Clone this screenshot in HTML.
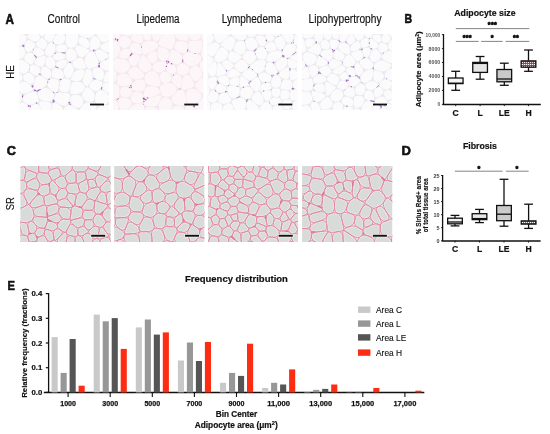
<!DOCTYPE html><html><head><meta charset="utf-8"><style>html,body{margin:0;padding:0;background:#fff;overflow:hidden;}svg{display:block;}text{font-family:"Liberation Sans",Arial,sans-serif;}</style></head><body>
<svg width="550" height="434" viewBox="0 0 550 434">
<defs><pattern id="redpat" width="2" height="2" patternUnits="userSpaceOnUse"><rect width="2" height="2" fill="#e8262c"/><rect width="1" height="1" fill="#fde0e0"/></pattern>
<clipPath id="clip0"><rect x="0" y="0" width="90" height="76"/></clipPath>
<clipPath id="clip1"><rect x="0" y="0" width="90" height="76"/></clipPath>
<clipPath id="clip2"><rect x="0" y="0" width="90" height="76"/></clipPath>
<clipPath id="clip3"><rect x="0" y="0" width="90" height="76"/></clipPath>
<clipPath id="clip4"><rect x="0" y="0" width="90" height="76"/></clipPath>
<clipPath id="clip5"><rect x="0" y="0" width="90" height="76"/></clipPath>
<clipPath id="clip6"><rect x="0" y="0" width="90" height="76"/></clipPath>
<clipPath id="clip7"><rect x="0" y="0" width="90" height="76"/></clipPath>
</defs>
<rect width="550" height="434" fill="#fff"/>
<g transform="translate(19,34)" clip-path="url(#clip0)">
<rect width="90" height="76" fill="#ebe9ef"/>
<path d="M10.0 35.0L10.4 33.4L10.2 31.9L9.5 30.4L8.3 28.9L6.4 27.5L4.7 26.6L3.1 26.0L1.6 25.9L0.2 26.2L-1.1 26.8L-2.1 27.9L-3.0 29.3L-3.6 31.1L-3.6 32.8L-2.8 34.5L-1.4 36.2L0.8 37.9L2.8 39.0L4.5 39.5L6.1 39.3L7.4 38.5L8.5 37.6L9.4 36.4ZM69.4 67.6L71.8 67.5L73.6 66.9L74.9 65.8L75.6 64.0L75.8 61.8L75.4 59.7L74.5 57.9L73.1 56.4L71.2 55.1L69.7 54.1L68.6 53.5L68.0 53.1L67.8 53.1L67.3 53.6L66.5 54.5L65.4 55.9L64.1 57.7L63.3 59.5L63.1 61.3L63.5 63.1L64.4 64.9L65.7 66.3L67.3 67.2ZM83.4 35.6L81.9 34.2L80.3 33.4L78.6 33.2L76.9 33.4L75.2 34.2L74.1 35.4L73.5 36.9L73.5 38.7L74.1 40.9L75.1 42.7L76.5 44.2L78.3 45.4L80.5 46.2L82.3 46.2L83.7 45.3L84.6 43.7L85.0 41.3L85.0 39.1L84.5 37.2ZM40.7 -1.0L43.0 -1.0L44.8 -1.1L46.2 -1.3L47.0 -1.5L47.5 -1.9L47.5 -4.7L47.1 -10.0L46.3 -17.7L45.0 -27.8L43.4 -33.1L41.5 -33.6L39.1 -29.2L36.4 -20.0L34.6 -12.8L33.9 -7.5L34.1 -4.2L35.4 -2.9L36.9 -1.9L38.6 -1.3ZM116.3 24.8L128.9 21.8L135.1 19.1L135.1 16.9L128.9 15.2L116.3 13.8L106.4 13.3L99.3 13.7L94.8 15.0L93.1 17.1L91.7 18.9L90.9 20.3L90.4 21.5L90.4 22.3L90.8 23.2L91.7 24.4L93.0 25.7L94.8 27.2L99.3 27.5L106.4 26.7ZM71.1 9.5L71.2 12.0L71.3 14.0L71.4 15.3L71.5 16.0L71.5 16.0L71.7 16.1L72.2 16.2L72.9 16.4L73.9 16.5L74.9 16.5L75.9 16.3L77.0 15.8L78.1 15.1L79.1 14.3L80.0 13.4L80.7 12.4L81.3 11.2L81.4 9.8L81.1 8.1L80.2 6.1L78.8 3.9L77.4 2.5L76.0 2.0L74.5 2.4L73.1 3.7L72.0 5.3L71.4 7.2ZM59.9 76.9L60.1 77.7L59.6 78.8L58.5 80.2L56.7 81.8L54.2 83.7L52.0 84.7L49.9 84.9L48.1 84.3L46.5 82.7L45.3 81.1L44.6 79.5L44.4 77.7L44.7 75.9L45.2 74.3L46.0 73.0L47.0 72.0L48.3 71.3L49.9 71.0L51.7 71.4L53.8 72.2L56.1 73.6L57.9 74.9L59.1 76.0ZM14.3 53.5L14.7 54.4L14.3 55.5L13.1 56.6L11.1 57.7L8.2 58.9L5.7 59.4L3.5 59.2L1.6 58.3L0.1 56.6L-0.9 55.2L-1.6 54.0L-1.9 53.0L-1.7 52.2L-1.3 51.3L-0.6 50.3L0.4 49.3L1.7 48.2L3.3 47.7L5.2 47.8L7.4 48.6L9.9 49.9L11.9 51.2L13.4 52.4ZM48.3 12.2L47.6 11.1L47.1 9.6L46.8 7.9L46.7 5.8L46.8 3.3L46.9 1.4L47.2 -0.0L47.5 -0.9L47.9 -1.3L48.9 -1.4L50.3 -1.4L52.3 -1.2L54.9 -0.8L56.8 -0.4L58.2 0.1L59.0 0.6L59.2 1.1L59.3 2.0L59.3 3.3L59.2 4.9L58.9 6.9L58.5 8.7L57.9 10.2L57.1 11.4L56.2 12.3L55.1 13.0L54.0 13.5L52.7 13.7L51.3 13.7L50.2 13.5L49.1 13.0ZM18.4 42.3L19.4 41.9L20.7 41.8L22.2 42.2L24.0 43.0L25.9 44.3L27.3 45.6L28.1 46.9L28.3 48.4L27.9 49.9L27.0 51.4L25.6 52.7L23.8 53.9L21.4 55.1L19.6 55.8L18.1 56.3L17.2 56.4L16.7 56.1L16.3 55.7L15.8 55.0L15.4 54.2L15.0 53.2L14.9 51.9L15.0 50.4L15.3 48.5L15.9 46.3L16.6 44.5L17.4 43.2ZM21.0 72.7L21.7 75.6L22.3 77.9L23.1 79.5L23.8 80.4L24.7 80.8L25.6 80.8L26.6 80.7L27.7 80.3L28.8 79.7L29.9 78.6L30.8 76.9L31.7 74.7L32.4 72.0L32.2 69.9L30.9 68.5L28.7 67.7L25.5 67.6L23.0 67.6L21.3 67.6L20.4 67.8L20.3 68.0L20.4 68.9L20.6 70.5ZM50.9 60.0L50.7 59.7L49.8 59.4L48.3 59.2L46.2 58.9L43.4 58.7L41.1 58.6L39.4 58.6L38.2 58.9L37.4 59.2L36.8 60.0L36.2 61.1L35.7 62.6L35.3 64.5L35.6 66.2L36.7 67.8L38.4 69.2L41.0 70.5L43.2 71.3L45.1 71.6L46.7 71.4L48.0 70.6L49.0 69.5L49.8 68.0L50.4 66.1L50.7 63.9L50.9 62.1L51.0 60.8ZM95.5 52.1L95.9 54.0L95.9 55.7L95.4 57.2L94.5 58.4L93.2 59.3L91.7 59.7L90.0 59.4L88.0 58.5L85.9 57.1L84.4 55.6L83.6 54.0L83.4 52.4L83.8 50.7L84.8 49.5L86.3 48.8L88.3 48.6L91.0 48.8L93.0 49.5L94.6 50.6ZM90.2 71.4L90.0 71.2L89.1 71.1L87.7 71.1L85.6 71.2L82.9 71.4L80.7 72.1L79.0 73.4L77.9 75.1L77.2 77.3L77.1 79.9L77.7 82.8L78.9 86.1L80.7 89.8L82.6 91.7L84.5 91.9L86.5 90.4L88.7 87.1L90.2 84.0L91.1 81.1L91.3 78.3L91.0 75.7L90.7 73.6L90.5 72.2ZM61.9 -4.3L63.6 -6.8L65.5 -8.1L67.7 -8.1L70.0 -7.0L72.7 -4.6L74.6 -2.7L75.9 -1.4L76.5 -0.6L76.4 -0.3L76.0 0.2L75.3 0.9L74.2 1.9L72.7 3.1L71.0 3.8L68.9 4.0L66.7 3.7L64.1 2.8L62.1 2.1L60.8 1.4L59.9 0.8L59.7 0.3L59.9 -0.8L60.7 -2.3ZM47.6 17.5L48.3 16.3L49.1 15.4L50.1 14.8L51.3 14.5L52.6 14.5L53.9 15.0L55.1 16.0L56.3 17.6L57.4 19.8L57.8 21.7L57.4 23.4L56.3 24.9L54.4 26.1L52.9 27.0L51.7 27.6L50.8 27.8L50.3 27.7L49.8 27.4L49.2 27.0L48.7 26.4L48.1 25.7L47.6 24.9L47.3 23.8L47.0 22.6L46.9 21.3L46.9 20.0L47.2 18.7ZM7.5 2.7L7.8 3.5L7.7 4.5L7.3 5.7L6.6 7.3L5.5 9.0L4.3 10.3L2.9 11.2L1.3 11.7L-0.5 11.8L-2.1 11.3L-3.5 10.2L-4.6 8.6L-5.5 6.5L-5.8 4.6L-5.6 2.9L-4.8 1.4L-3.4 0.2L-1.8 -0.5L-0.0 -0.8L1.9 -0.5L4.0 0.3L5.6 1.1L6.8 1.9ZM63.5 57.4L64.9 55.5L65.6 53.9L65.7 52.4L65.2 51.1L64.1 50.0L62.7 49.0L60.9 48.3L58.7 47.8L56.2 47.5L54.2 48.0L52.8 49.4L51.9 51.5L51.6 54.4L51.4 56.7L51.3 58.3L51.4 59.3L51.6 59.6L52.3 59.8L53.6 60.0L55.5 60.1L57.9 60.1L60.0 59.6L61.9 58.7ZM16.2 10.9L16.1 10.2L15.6 9.5L14.6 8.7L13.2 7.7L11.4 6.6L9.7 6.2L8.3 6.6L7.1 7.6L6.1 9.4L5.5 11.1L5.4 12.8L5.7 14.4L6.4 15.9L7.3 17.1L8.3 17.7L9.4 18.0L10.6 17.7L11.7 17.2L12.8 16.4L13.9 15.3L14.9 13.9L15.6 12.7L16.1 11.7ZM53.2 31.4L54.2 33.2L54.7 35.1L54.6 37.1L54.0 39.2L52.8 41.5L51.6 43.1L50.4 44.0L49.2 44.2L48.0 43.8L46.9 43.1L46.0 41.9L45.3 40.5L44.8 38.6L44.7 36.8L45.2 34.9L46.0 33.0L47.4 31.1L48.5 29.7L49.5 28.8L50.2 28.5L50.8 28.6L51.4 29.1L52.2 30.1ZM12.3 -3.4L10.5 -1.5L9.3 0.2L8.5 1.5L8.3 2.5L8.5 3.3L9.1 4.1L10.2 5.1L11.6 6.1L13.4 7.1L15.2 7.6L16.9 7.5L18.6 6.7L20.2 5.4L21.0 3.8L20.8 1.9L19.7 -0.2L17.8 -2.6L15.9 -3.9L14.0 -4.2ZM30.8 21.9L29.5 21.8L28.4 21.6L27.6 21.5L27.1 21.3L26.9 21.1L26.7 20.7L26.5 20.1L26.3 19.4L26.1 18.5L26.2 17.3L26.6 15.8L27.3 14.1L28.3 12.1L29.3 10.6L30.2 9.5L31.1 8.8L31.9 8.7L32.7 8.7L33.5 9.0L34.3 9.5L35.1 10.2L35.7 11.2L36.2 12.4L36.4 13.8L36.5 15.5L36.3 17.0L35.9 18.4L35.2 19.5L34.2 20.5L33.2 21.2L32.0 21.7ZM-159.0 51.8L-101.2 46.7L-57.1 43.6L-26.6 42.6L-9.9 43.5L-6.8 46.4L-4.6 48.9L-3.1 50.7L-2.5 52.1L-2.7 52.9L-3.8 54.0L-5.9 55.2L-8.9 56.7L-12.9 58.4L-30.0 59.5L-60.4 60.2L-103.9 60.3L-160.7 60.0L-188.8 58.4L-188.2 55.7ZM60.6 76.8L60.8 77.6L61.1 78.3L61.5 79.0L62.1 79.5L62.7 80.0L63.9 80.3L65.7 80.5L68.1 80.6L71.0 80.6L73.4 80.0L75.2 78.8L76.5 77.1L77.2 74.9L77.5 73.0L77.5 71.5L77.1 70.3L76.4 69.4L75.3 68.7L73.7 68.3L71.7 68.2L69.4 68.3L67.2 68.8L65.4 69.7L63.7 71.1L62.4 72.9L61.4 74.4L60.8 75.7ZM92.0 4.2L91.9 2.4L92.2 0.8L92.9 -0.7L94.0 -2.0L95.5 -3.3L103.4 -3.0L117.8 -1.2L138.5 2.2L165.6 7.0L182.2 10.8L188.5 13.6L184.3 15.3L169.7 16.0L155.6 16.2L142.0 15.8L128.9 14.9L116.4 13.5L106.7 12.2L99.7 10.9L95.6 9.7L94.2 8.6L93.2 7.2L92.5 5.8ZM69.5 34.4L70.6 34.6L71.9 34.5L73.3 34.2L74.9 33.6L76.6 32.8L78.0 32.0L78.9 31.3L79.5 30.6L79.6 29.9L79.5 28.7L79.0 27.0L78.1 24.7L77.0 21.9L75.8 19.7L74.8 18.2L73.8 17.3L72.8 17.1L71.7 17.4L70.4 18.3L68.9 19.6L67.2 21.5L66.2 23.5L65.8 25.7L65.9 28.0L66.6 30.4L67.5 32.3L68.4 33.6ZM55.0 -1.5L52.3 -1.9L50.0 -4.8L48.1 -10.2L46.5 -18.0L45.2 -28.3L45.7 -53.3L47.8 -92.9L51.6 -147.2L57.2 -216.1L61.5 -262.4L64.7 -286.1L66.8 -287.1L67.6 -265.5L68.1 -235.5L68.2 -196.9L67.9 -150.0L67.1 -94.5L66.1 -52.3L64.9 -23.3L63.4 -7.4L61.6 -4.8L59.6 -3.0L57.4 -1.9ZM91.1 64.7L90.8 67.0L90.5 68.7L90.5 70.0L90.6 70.7L90.8 70.9L94.7 71.1L102.1 71.1L113.2 71.0L127.9 70.8L135.6 69.9L136.4 68.1L130.1 65.6L116.9 62.4L106.7 60.1L99.4 59.0L95.1 58.9L93.7 59.8L92.6 61.1L91.7 62.7ZM16.5 26.0L15.7 27.5L15.6 28.9L16.2 30.1L17.4 31.1L19.2 32.0L20.8 32.5L22.1 32.7L23.2 32.6L24.0 32.1L24.7 31.2L25.3 29.8L25.8 28.0L26.3 25.7L26.6 23.9L26.7 22.6L26.6 21.9L26.4 21.7L25.7 21.7L24.6 21.9L22.9 22.3L20.8 22.8L19.1 23.6L17.6 24.7ZM80.4 46.8L78.2 46.0L76.2 45.9L74.3 46.5L72.6 47.8L71.0 49.7L70.4 51.5L70.5 53.2L71.6 54.6L73.6 55.9L75.4 56.7L77.0 57.0L78.6 56.7L80.0 55.9L81.1 54.9L82.0 53.7L82.7 52.2L83.1 50.6L83.5 49.3L83.7 48.5L83.8 48.0L83.7 48.0L83.2 47.8L82.1 47.4ZM60.3 35.7L63.0 35.3L64.8 35.8L65.5 37.3L65.3 39.6L64.2 42.8L62.7 45.1L60.9 46.6L58.7 47.2L56.2 46.9L54.3 46.6L52.9 46.3L52.1 46.0L51.8 45.6L51.9 44.8L52.4 43.5L53.3 41.8L54.5 39.5L56.0 37.8L58.0 36.5ZM67.2 -94.5L67.9 -150.0L69.6 -179.2L72.1 -182.3L75.6 -159.3L79.9 -110.0L83.0 -71.2L84.8 -42.7L85.4 -24.6L84.6 -17.0L83.6 -11.0L82.5 -6.6L81.0 -3.9L79.4 -2.9L77.5 -2.8L75.3 -3.5L72.9 -5.1L70.2 -7.6L68.3 -23.3L67.4 -52.3ZM95.0 33.9L96.0 32.2L100.0 30.2L106.9 27.8L116.7 25.0L129.4 22.0L142.5 19.5L156.1 17.6L170.1 16.2L184.6 15.5L205.2 15.1L232.1 14.9L265.2 15.1L304.5 15.5L317.5 17.6L304.0 21.3L264.1 26.7L197.9 33.8L147.9 38.6L114.1 41.1L96.6 41.4L95.3 39.4L94.6 37.5L94.5 35.7ZM12.0 -4.0L10.2 -2.0L8.3 -0.8L6.2 -0.2L4.1 -0.3L1.9 -1.2L-2.6 -20.2L-9.4 -57.5L-18.5 -112.9L-29.8 -186.6L-34.4 -224.0L-32.3 -225.0L-23.4 -189.8L-7.7 -118.3L3.9 -64.4L11.6 -28.1L15.4 -9.5L15.1 -8.5L14.5 -7.2L13.5 -5.7ZM40.8 35.0L39.2 34.3L37.7 33.9L36.5 33.9L35.3 34.3L34.4 35.0L33.7 36.0L33.1 37.3L32.8 38.9L32.6 40.8L33.0 42.4L34.1 43.5L35.6 44.3L37.8 44.7L39.7 44.8L41.4 44.8L42.8 44.5L43.9 44.1L44.6 43.3L44.9 42.1L44.7 40.7L44.2 38.8L43.3 37.3L42.2 36.0ZM-7.8 66.7L-11.9 64.5L-14.0 62.3L-14.1 60.4L-12.2 58.6L-8.4 57.0L-5.1 56.2L-2.4 56.2L-0.3 57.1L1.2 58.7L2.2 60.3L2.9 61.9L3.0 63.4L2.8 64.8L2.4 66.1L1.7 67.2L0.9 68.2L-0.2 69.0L-2.0 69.0L-4.5 68.2ZM79.7 -2.3L81.2 -3.2L82.9 -3.7L84.6 -3.6L86.3 -3.0L88.2 -1.9L89.6 -0.6L90.6 0.8L91.2 2.4L91.3 4.1L90.8 5.5L89.8 6.6L88.2 7.5L86.0 8.1L84.0 8.0L82.2 7.2L80.6 5.7L79.2 3.5L78.2 1.8L77.5 0.5L77.2 -0.2L77.3 -0.4L77.7 -0.9L78.5 -1.5ZM90.4 64.6L90.0 66.9L89.1 68.6L87.6 69.8L85.5 70.6L82.8 70.8L80.6 70.7L78.9 70.4L77.7 69.8L77.0 68.9L76.5 67.7L76.3 66.1L76.2 64.2L76.4 61.9L76.9 60.0L77.7 58.5L78.8 57.4L80.2 56.6L81.8 56.3L83.6 56.7L85.6 57.6L87.7 59.0L89.2 60.7L90.1 62.6ZM14.1 70.1L16.2 69.2L17.9 68.5L19.0 67.9L19.7 67.5L19.8 67.3L19.7 66.5L19.5 65.2L19.1 63.4L18.5 61.0L17.9 59.2L17.4 57.9L16.8 57.1L16.4 56.8L15.3 56.9L13.6 57.4L11.3 58.2L8.5 59.4L6.3 60.7L4.7 62.1L3.8 63.5L3.5 64.9L3.8 66.3L4.6 67.6L6.0 68.7L7.9 69.8L9.9 70.4L11.9 70.5ZM83.9 35.1L82.3 33.8L81.2 32.6L80.5 31.7L80.2 30.8L80.4 30.2L81.1 29.3L82.3 28.4L84.1 27.2L86.4 25.9L88.6 25.3L90.6 25.4L92.5 26.1L94.2 27.6L95.3 29.1L95.6 30.6L95.3 32.2L94.3 33.8L93.1 35.1L91.7 36.0L90.3 36.5L88.7 36.8L87.1 36.6L85.5 36.0ZM35.0 62.5L34.6 64.3L34.3 65.8L34.0 66.7L33.8 67.2L33.7 67.3L32.9 67.3L31.2 67.3L28.8 67.2L25.5 67.1L23.0 66.4L21.0 65.1L19.7 63.3L19.1 60.9L19.2 58.8L20.1 57.1L21.7 55.6L24.1 54.5L26.4 54.1L28.6 54.4L30.6 55.4L32.6 57.1L34.0 58.9L34.8 60.6ZM65.8 39.7L64.7 42.9L64.1 45.6L64.1 47.8L64.6 49.4L65.7 50.6L66.6 51.5L67.3 52.1L67.7 52.3L68.0 52.3L68.5 51.9L69.4 50.9L70.6 49.4L72.1 47.4L73.1 45.3L73.6 43.2L73.5 41.1L73.0 38.9L72.2 37.2L71.4 36.0L70.4 35.3L69.3 35.1L68.4 35.0L67.8 34.9L67.5 34.9L67.5 34.9L67.2 35.7L66.6 37.3ZM30.8 22.6L29.5 22.5L28.4 23.0L27.5 24.1L26.8 25.8L26.4 28.1L26.5 30.1L27.1 31.7L28.3 33.1L30.0 34.0L31.6 34.6L32.9 34.7L34.0 34.4L34.9 33.6L35.6 32.8L36.1 31.8L36.3 30.6L36.3 29.4L36.1 28.2L35.7 26.9L35.0 25.7L34.1 24.6L33.2 23.7L32.0 23.0ZM86.2 8.7L88.4 8.1L90.3 7.9L92.1 8.1L93.6 8.8L94.9 9.9L95.4 11.2L95.2 12.8L94.2 14.7L92.5 16.7L90.6 17.9L88.6 18.3L86.4 17.7L84.1 16.3L82.4 15.0L81.6 13.7L81.4 12.5L82.1 11.3L83.1 10.3L84.5 9.4ZM56.4 73.1L54.1 71.7L52.4 70.1L51.4 68.3L51.0 66.2L51.4 64.0L52.2 62.3L53.6 61.2L55.5 60.7L57.9 60.7L59.9 61.2L61.6 62.1L62.9 63.5L63.8 65.3L64.2 67.1L64.0 68.9L63.2 70.7L61.9 72.5L60.3 73.5L58.5 73.7ZM10.1 76.3L10.2 74.6L9.8 73.0L8.9 71.6L7.5 70.3L5.6 69.2L3.9 68.6L2.5 68.5L1.2 68.8L0.2 69.6L-0.6 70.5L-1.3 71.4L-1.7 72.5L-1.9 73.6L-1.8 74.9L-1.3 76.3L-0.5 77.8L0.7 79.5L2.1 80.5L3.6 81.0L5.3 80.8L7.2 80.1L8.6 79.1L9.5 77.8ZM25.5 5.7L27.0 6.9L28.0 8.3L28.2 9.9L27.8 11.8L26.8 13.8L25.5 15.0L24.0 15.3L22.2 14.8L20.2 13.5L18.6 12.4L17.6 11.4L17.0 10.6L16.9 10.0L17.2 9.2L17.9 8.3L19.1 7.1L20.6 5.8L21.8 4.8L22.6 4.2L23.1 3.8L23.1 3.8L23.5 4.1L24.3 4.7ZM37.2 15.4L37.1 13.7L37.6 12.4L38.7 11.4L40.3 10.7L42.6 10.4L44.5 10.5L45.9 10.8L47.0 11.5L47.7 12.6L48.1 13.7L48.1 14.8L47.7 15.9L47.1 17.0L46.0 17.8L44.6 18.3L42.8 18.4L40.6 18.2L38.9 17.7L37.8 16.7ZM12.7 80.5L14.1 81.5L15.6 82.0L17.0 82.2L18.4 81.9L19.9 81.2L20.8 79.9L21.2 78.1L21.2 75.7L20.6 72.8L19.6 70.9L18.2 69.9L16.4 69.8L14.2 70.7L12.6 71.8L11.4 73.1L10.8 74.7L10.7 76.4L11.0 78.0L11.7 79.3ZM39.6 53.2L40.1 50.3L40.0 48.0L39.1 46.3L37.6 45.3L35.4 44.9L33.6 44.7L32.2 44.8L31.2 45.0L30.5 45.5L29.9 46.2L29.4 47.2L29.0 48.5L28.6 50.0L28.8 51.6L29.6 53.2L31.0 54.9L33.0 56.6L34.6 57.8L36.0 58.5L37.0 58.6L37.7 58.2L38.4 57.2L39.0 55.5ZM59.8 5.0L59.6 7.1L60.2 8.9L61.5 10.7L63.6 12.3L66.5 13.7L68.7 14.1L70.1 13.6L70.7 12.0L70.5 9.4L69.8 7.2L68.4 5.5L66.5 4.2L64.0 3.3L62.0 3.2L60.6 3.7ZM90.6 -24.2L93.2 -16.7L94.8 -10.8L95.4 -6.5L94.9 -3.7L93.5 -2.5L91.9 -1.9L90.2 -1.9L88.5 -2.4L86.6 -3.6L85.4 -6.4L84.8 -10.7L84.9 -16.6L85.6 -24.1L86.8 -27.9L88.5 -27.9ZM31.0 -5.4L31.3 -5.5L31.9 -5.2L32.7 -4.6L33.6 -3.7L34.9 -2.4L35.6 -0.9L35.7 0.7L35.4 2.6L34.5 4.6L33.6 6.2L32.7 7.3L31.9 7.9L31.1 8.1L30.1 7.9L28.9 7.3L27.5 6.4L26.0 5.2L25.2 3.7L25.3 2.0L26.2 0.1L27.9 -2.0L29.3 -3.7L30.3 -4.8ZM51.2 46.1L51.4 46.4L51.5 47.4L51.5 49.1L51.3 51.3L51.0 54.3L50.1 56.4L48.5 57.8L46.3 58.3L43.5 58.1L41.5 57.2L40.4 55.5L40.1 53.3L40.7 50.3L41.4 47.9L42.2 46.2L43.2 45.1L44.3 44.7L45.5 44.4L46.6 44.4L47.8 44.6L49.0 45.0L50.0 45.3L50.7 45.7ZM34.8 20.9L35.7 20.0L37.0 19.3L38.6 18.9L40.5 18.8L42.7 19.0L44.3 19.4L45.5 20.2L46.2 21.3L46.3 22.7L45.9 23.9L44.7 24.9L43.0 25.6L40.6 26.2L38.5 26.3L36.9 26.1L35.6 25.3L34.7 24.2L34.2 23.0L34.2 22.0ZM0.5 38.4L-1.7 36.7L-3.9 35.7L-6.0 35.5L-8.2 36.0L-10.4 37.2L-11.3 38.8L-10.9 40.9L-9.3 43.3L-6.3 46.2L-3.8 48.0L-1.7 48.9L0.0 48.7L1.3 47.6L2.3 46.4L3.0 45.3L3.4 44.0L3.5 42.8L3.1 41.4L2.1 40.0ZM78.6 24.4L77.4 21.6L76.8 19.3L76.8 17.6L77.4 16.4L78.6 15.7L80.0 15.5L81.7 15.9L83.8 16.8L86.1 18.2L87.9 19.4L89.0 20.5L89.6 21.5L89.6 22.2L89.0 23.1L87.9 24.2L86.1 25.4L83.9 26.7L81.8 27.0L80.1 26.2ZM1.2 12.4L-0.6 12.5L-2.2 12.9L-3.6 13.9L-4.7 15.2L-5.7 17.1L-6.1 18.8L-6.0 20.5L-5.3 22.1L-4.0 23.6L-2.7 24.7L-1.4 25.3L-0.0 25.5L1.4 25.2L2.7 24.6L3.8 23.7L4.8 22.4L5.7 20.9L6.1 19.4L6.2 17.9L5.8 16.3L5.1 14.7L4.1 13.6L2.8 12.8ZM128.4 71.0L113.5 71.2L102.4 72.0L95.2 73.5L91.7 75.6L92.1 78.3L110.8 81.5L147.8 85.1L203.3 89.2L277.0 93.8L317.6 95.3L324.8 93.8L298.8 89.4L239.6 81.9L191.4 76.4L154.4 72.7ZM85.6 41.5L85.1 43.9L84.8 45.7L84.5 46.9L84.4 47.6L84.4 47.6L85.1 47.7L86.4 47.8L88.4 48.0L91.0 48.3L93.1 48.2L94.8 47.8L96.0 47.0L96.7 46.0L96.9 44.7L96.6 43.3L95.9 41.6L94.7 39.7L93.3 38.4L91.9 37.5L90.4 37.2L88.8 37.5L87.4 38.2L86.4 39.6ZM18.1 -2.9L20.1 -0.5L21.5 1.3L22.5 2.5L23.0 3.0L23.1 3.0L23.5 2.5L24.4 1.4L25.7 -0.2L27.5 -2.3L27.9 -4.2L27.0 -5.9L24.8 -7.3L21.3 -8.5L18.7 -9.1L16.8 -9.3L15.8 -8.8L15.6 -7.9L15.9 -6.5L16.8 -4.9ZM13.7 41.0L12.1 39.8L10.6 39.1L9.1 38.9L7.7 39.2L6.4 39.9L5.4 40.8L4.7 41.8L4.2 42.9L4.1 44.1L4.6 45.4L5.8 46.7L7.6 48.1L10.2 49.5L12.2 50.0L13.7 49.5L14.8 48.2L15.3 46.0L15.3 44.1L14.8 42.4ZM10.6 18.5L9.4 18.7L8.3 19.2L7.2 20.0L6.3 21.2L5.4 22.7L5.2 24.2L5.7 25.7L6.8 27.1L8.6 28.5L10.2 29.4L11.4 30.0L12.3 30.2L13.0 30.0L13.7 29.4L14.4 28.5L15.1 27.3L15.8 25.8L16.1 24.3L15.9 22.9L15.3 21.5L14.1 20.2L13.0 19.2L11.8 18.7ZM18.1 41.6L19.2 41.2L20.0 40.4L20.7 39.4L21.1 38.0L21.3 36.4L21.0 34.9L20.2 33.6L18.9 32.5L17.1 31.7L15.5 31.1L14.2 30.7L13.3 30.7L12.6 30.9L12.0 31.5L11.5 32.4L11.0 33.6L10.7 35.2L10.8 36.6L11.4 38.0L12.5 39.3L14.1 40.5L15.6 41.3L16.9 41.6ZM37.1 29.4L37.0 30.7L37.4 31.8L38.2 32.8L39.5 33.7L41.1 34.4L42.7 34.4L44.2 33.9L45.6 32.6L47.0 30.8L47.8 29.2L48.2 27.9L48.1 26.9L47.6 26.3L46.5 25.9L45.0 25.8L43.1 26.1L40.7 26.7L38.9 27.4L37.7 28.4ZM20.0 14.0L22.0 15.3L23.6 16.5L24.7 17.6L25.4 18.6L25.6 19.5L25.2 20.4L24.3 21.1L22.8 21.7L20.7 22.3L18.8 22.4L17.2 22.0L15.8 21.1L14.6 19.8L14.0 18.5L14.0 17.1L14.4 15.7L15.4 14.2L16.7 13.5L18.2 13.4ZM61.4 23.1L62.6 23.4L63.9 23.1L65.3 22.3L66.8 21.0L68.4 19.2L69.6 17.8L70.4 16.9L70.8 16.4L70.8 16.3L70.0 15.9L68.6 15.2L66.4 14.1L63.5 12.7L61.0 11.8L59.1 11.6L57.6 11.9L56.7 12.8L56.2 14.0L56.3 15.6L56.9 17.4L58.0 19.5L59.1 21.2L60.3 22.4ZM53.7 31.1L54.8 32.9L56.3 34.1L58.1 34.8L60.4 35.1L63.1 34.7L65.1 34.5L66.4 34.3L67.1 34.3L67.1 34.2L67.0 33.6L66.6 32.4L66.1 30.6L65.3 28.2L64.5 26.3L63.5 24.9L62.5 24.1L61.3 23.9L59.9 24.0L58.4 24.5L56.7 25.3L54.9 26.6L53.7 28.0L53.4 29.5ZM32.0 40.8L32.1 38.9L31.8 37.2L31.0 35.8L29.7 34.6L28.0 33.6L26.5 33.0L25.3 32.7L24.3 32.8L23.5 33.3L22.8 34.1L22.4 35.1L22.0 36.5L21.8 38.2L22.1 39.7L23.0 41.2L24.3 42.5L26.3 43.7L27.9 44.5L29.1 44.9L30.1 44.8L30.8 44.3L31.3 43.5L31.7 42.3ZM35.6 9.6L34.8 8.9L34.4 7.9L34.5 6.5L35.0 4.8L35.9 2.8L37.1 1.3L38.7 0.3L40.6 -0.3L42.9 -0.3L44.6 0.3L45.7 1.5L46.1 3.3L46.0 5.8L45.4 7.7L44.2 9.0L42.5 9.9L40.2 10.2L38.3 10.3L36.8 10.1ZM34.3 67.9L34.2 67.9L33.9 68.7L33.5 70.0L33.0 72.1L32.3 74.8L32.2 77.1L32.8 78.9L34.1 80.2L36.0 81.0L37.8 81.5L39.3 81.7L40.6 81.5L41.7 81.1L42.6 80.2L43.3 79.1L43.7 77.6L44.0 75.8L43.6 74.1L42.5 72.5L40.7 71.1L38.2 69.7L36.3 68.8L35.0 68.2Z" fill="#fcfbfc"/>
<g fill="#9a58ba" opacity="0.8"><circle cx="80.1" cy="32.2" r="0.9"/><circle cx="80.4" cy="32.5" r="0.6"/><circle cx="80.0" cy="32.5" r="0.9"/><circle cx="80.1" cy="31.3" r="0.8"/><circle cx="51.0" cy="28.2" r="0.8"/><circle cx="17.5" cy="69.0" r="0.8"/><circle cx="13.5" cy="52.9" r="0.6"/><circle cx="13.2" cy="52.2" r="0.6"/><circle cx="13.9" cy="52.0" r="0.6"/><circle cx="13.4" cy="52.3" r="0.9"/><circle cx="68.8" cy="4.7" r="0.4"/><circle cx="9.0" cy="-0.2" r="0.4"/><circle cx="20.2" cy="39.9" r="0.6"/><circle cx="21.9" cy="40.3" r="0.5"/><circle cx="80.2" cy="29.5" r="0.7"/><circle cx="14.4" cy="15.2" r="0.5"/><circle cx="74.4" cy="17.0" r="0.6"/><circle cx="75.8" cy="16.2" r="0.6"/><circle cx="74.4" cy="16.2" r="0.7"/><circle cx="3.5" cy="62.8" r="0.7"/><circle cx="40.1" cy="51.7" r="0.4"/><circle cx="11.3" cy="72.5" r="0.7"/><circle cx="9.9" cy="71.8" r="0.7"/><circle cx="9.5" cy="72.1" r="0.8"/><circle cx="30.1" cy="45.3" r="0.7"/><circle cx="86.9" cy="25.3" r="0.5"/><circle cx="34.1" cy="68.5" r="0.6"/><circle cx="34.9" cy="66.7" r="0.7"/><circle cx="34.2" cy="66.3" r="0.9"/><circle cx="34.7" cy="67.6" r="0.9"/><circle cx="10.4" cy="35.0" r="0.4"/><circle cx="34.5" cy="9.1" r="0.5"/><circle cx="51.2" cy="70.3" r="0.8"/><circle cx="50.2" cy="68.7" r="0.9"/><circle cx="28.6" cy="-3.3" r="0.8"/><circle cx="38.1" cy="58.5" r="0.6"/><circle cx="4.5" cy="12.1" r="0.6"/><circle cx="4.6" cy="11.9" r="0.7"/><circle cx="3.7" cy="11.2" r="0.6"/><circle cx="4.5" cy="12.0" r="0.9"/><circle cx="36.0" cy="19.2" r="0.7"/><circle cx="28.7" cy="48.2" r="0.6"/><circle cx="16.0" cy="57.1" r="0.5"/><circle cx="16.3" cy="56.4" r="0.7"/><circle cx="15.7" cy="56.2" r="0.8"/><circle cx="15.6" cy="56.5" r="0.6"/><circle cx="34.6" cy="58.3" r="0.6"/></g>
<path d="M74.7 44.5L76.2 45.0" stroke="#9a58ba" stroke-width="0.8" stroke-linecap="round" opacity="0.75"/><path d="M82.3 55.0L82.8 53.3" stroke="#9a58ba" stroke-width="1.1" stroke-linecap="round" opacity="0.75"/><path d="M46.3 19.0L42.8 18.7" stroke="#9a58ba" stroke-width="0.9" stroke-linecap="round" opacity="0.75"/><path d="M36.6 32.8L39.2 33.9" stroke="#9a58ba" stroke-width="1.0" stroke-linecap="round" opacity="0.75"/><path d="M3.8 61.1L3.5 62.9" stroke="#9a58ba" stroke-width="0.9" stroke-linecap="round" opacity="0.75"/><path d="M17.8 57.1L21.3 55.5" stroke="#9a58ba" stroke-width="1.2" stroke-linecap="round" opacity="0.75"/><path d="M41.2 45.6L42.1 45.2" stroke="#9a58ba" stroke-width="1.1" stroke-linecap="round" opacity="0.75"/><path d="M17.4 23.5L15.6 21.4" stroke="#9a58ba" stroke-width="1.1" stroke-linecap="round" opacity="0.75"/>
</g>
<rect x="90.0" y="103.6" width="14" height="1.8" fill="#111"/>
<g transform="translate(113.3,34)" clip-path="url(#clip1)">
<rect width="90" height="76" fill="#f4e7ee"/>
<path d="M45.5 10.5L45.2 9.6L45.4 8.3L46.2 6.4L47.5 4.0L49.4 1.1L51.2 -1.1L53.0 -2.6L54.7 -3.4L56.4 -3.4L57.8 -3.4L58.8 -3.4L59.4 -3.3L59.7 -3.1L60.0 -2.4L60.5 -1.2L61.0 0.5L61.6 2.7L61.8 5.0L61.7 7.2L61.3 9.3L60.5 11.5L59.8 13.2L59.1 14.4L58.5 15.1L58.0 15.3L56.9 15.2L55.2 14.8L53.0 14.1L50.2 13.2L48.0 12.2L46.5 11.3ZM88.9 37.5L87.6 34.9L86.7 32.5L86.5 30.4L86.8 28.7L87.6 27.2L90.3 26.3L94.8 25.8L101.2 25.9L109.4 26.6L113.9 28.0L114.6 30.2L111.5 33.2L104.7 37.0L99.3 39.7L95.5 41.5L93.2 42.2L92.3 41.9L91.3 41.1L90.2 39.6ZM6.6 11.3L5.5 9.2L5.0 7.4L5.0 5.7L5.6 4.3L6.8 3.2L8.2 2.4L9.7 2.1L11.5 2.3L13.4 2.9L15.0 3.5L16.2 4.3L17.1 5.2L17.5 6.2L17.7 7.3L17.5 8.5L17.0 9.8L16.2 11.3L15.2 12.4L14.0 13.3L12.5 13.8L10.8 14.1L9.3 13.7L7.9 12.8ZM-18.2 1.7L-25.7 3.3L-29.4 5.0L-29.4 6.9L-25.6 8.8L-18.2 10.9L-12.0 12.0L-7.2 12.0L-3.6 11.0L-1.3 9.1L-0.2 7.1L-0.2 5.3L-1.4 3.5L-3.7 1.8L-7.2 0.9L-12.1 0.9ZM71.3 19.3L72.6 18.6L74.3 18.2L76.4 18.3L79.1 18.8L82.1 19.8L84.5 20.7L86.3 21.6L87.3 22.5L87.7 23.4L87.7 24.4L87.5 25.6L86.9 26.9L86.1 28.3L85.0 29.6L83.6 30.6L81.9 31.5L80.0 32.1L78.1 32.3L76.3 31.9L74.4 31.1L72.6 29.9L71.2 28.5L70.3 26.9L69.7 25.2L69.6 23.3L69.8 21.7L70.4 20.4ZM31.2 47.1L31.9 48.7L32.2 50.4L32.1 52.0L31.7 53.7L30.8 55.5L29.5 56.7L27.9 57.4L25.9 57.6L23.5 57.2L21.6 56.7L20.1 56.0L19.1 55.2L18.5 54.1L18.3 53.0L18.3 51.8L18.7 50.5L19.3 49.1L20.4 47.9L22.0 47.0L24.0 46.2L26.4 45.6L28.5 45.6L30.0 46.1ZM16.3 30.2L15.3 28.4L13.9 27.0L12.2 25.9L10.2 25.1L7.7 24.7L5.7 24.4L4.1 24.4L2.9 24.6L2.1 25.1L1.3 25.7L0.6 26.6L-0.0 27.8L-0.6 29.2L-0.7 30.7L-0.2 32.4L0.8 34.3L2.3 36.4L4.0 37.9L5.8 38.7L7.8 39.0L10.0 38.7L11.9 38.1L13.5 37.3L14.9 36.2L16.0 34.8L16.6 33.4L16.7 31.8ZM4.9 69.7L5.5 72.5L5.3 74.7L4.3 76.5L2.6 77.8L-0.0 78.6L-2.5 78.7L-4.7 78.2L-6.8 76.9L-8.8 74.9L-9.9 72.9L-10.1 71.1L-9.5 69.3L-8.0 67.6L-6.3 66.3L-4.3 65.6L-2.1 65.3L0.3 65.4L2.3 66.2L3.8 67.7ZM67.5 71.9L64.6 71.6L62.1 72.0L60.1 73.1L58.5 74.9L57.4 77.4L56.5 79.3L56.0 80.6L55.7 81.2L55.8 81.3L56.4 81.5L57.7 81.9L59.5 82.4L61.8 83.0L63.9 83.3L65.5 83.4L66.8 83.3L67.7 82.9L68.6 81.9L69.3 80.5L70.1 78.5L70.8 76.0L70.6 74.1L69.5 72.7ZM34.1 38.0L35.7 37.0L37.0 36.0L37.8 34.9L38.3 33.8L38.5 32.8L38.1 31.4L37.3 29.7L35.9 27.6L34.2 25.3L32.7 23.5L31.4 22.2L30.5 21.5L29.9 21.3L29.4 21.2L29.0 21.1L28.9 21.0L28.8 21.0L28.5 21.8L27.9 23.2L26.9 25.2L25.7 28.0L25.2 30.6L25.6 32.9L26.7 35.0L28.7 36.8L30.6 37.9L32.4 38.3ZM44.5 19.4L44.8 22.1L45.5 24.2L46.8 25.7L48.6 26.7L50.8 27.1L52.6 26.7L54.1 25.5L55.2 23.4L55.9 20.5L55.7 18.1L54.7 16.1L52.8 14.7L50.0 13.7L47.8 13.2L46.2 13.1L45.2 13.5L44.7 14.3L44.5 15.5L44.4 17.2ZM30.5 76.4L30.7 74.8L30.8 73.4L30.7 72.3L30.6 71.5L30.3 70.9L29.4 70.5L27.9 70.2L25.9 70.0L23.4 70.0L21.1 70.5L19.0 71.5L17.3 73.1L15.8 75.2L15.2 77.2L15.7 79.2L17.0 81.0L19.3 82.8L21.5 83.7L23.6 83.8L25.6 83.0L27.4 81.3L28.8 79.7L29.9 78.1ZM-2.6 21.3L-4.4 18.5L-7.7 15.9L-12.4 13.4L-18.6 11.1L-26.2 9.0L-79.1 5.2L-177.4 -0.1L-321.0 -7.1L-509.9 -15.6L-604.6 -17.8L-605.0 -13.7L-511.0 -3.2L-322.8 13.6L-179.3 25.7L-80.4 33.2L-26.2 35.9L-16.6 34.1L-9.3 32.3L-4.2 30.6L-1.4 29.0L-0.8 27.6L-0.8 25.8L-1.4 23.7ZM93.5 64.9L94.8 66.7L95.5 68.8L95.5 71.0L94.9 73.5L93.6 76.1L92.2 78.1L90.7 79.5L89.1 80.2L87.4 80.2L85.9 79.8L84.5 78.8L83.2 77.3L82.1 75.2L81.9 73.1L82.6 70.8L84.3 68.4L87.0 65.9L89.0 64.0L90.4 62.8L91.2 62.2L91.3 62.2L91.7 62.6L92.4 63.5ZM83.5 6.1L80.5 6.3L78.0 5.7L76.3 4.1L75.1 1.7L74.6 -1.6L75.0 -3.9L76.4 -5.2L78.6 -5.5L81.8 -4.8L84.3 -3.7L86.0 -2.2L87.1 -0.2L87.5 2.2L87.0 4.0L85.7 5.3ZM86.6 65.6L83.9 68.1L81.6 69.9L79.5 71.0L77.7 71.4L76.2 71.1L75.0 70.0L74.0 68.2L73.2 65.5L72.6 62.1L72.8 59.3L73.6 57.1L75.1 55.7L77.3 54.8L79.6 54.7L82.0 55.3L84.4 56.7L86.9 58.7L88.1 60.9L88.0 63.2ZM43.5 84.5L45.1 82.9L46.1 81.2L46.5 79.5L46.2 77.8L45.4 76.1L43.9 74.7L42.0 73.7L39.4 73.1L36.3 72.8L34.0 73.0L32.3 73.7L31.4 74.9L31.2 76.5L31.7 78.3L32.9 80.1L34.7 82.0L37.3 84.0L39.6 85.1L41.7 85.2ZM94.1 76.4L95.4 73.7L97.5 72.1L100.5 71.4L104.3 71.6L108.9 72.9L111.1 74.5L111.0 76.3L108.6 78.5L103.9 81.0L100.0 82.6L97.1 83.3L95.0 83.1L93.8 82.0L93.3 80.5L93.4 78.7ZM-16.2 34.3L-25.6 36.2L-30.7 38.4L-31.4 41.0L-27.9 43.9L-19.9 47.3L-13.4 49.5L-8.1 50.7L-4.1 50.8L-1.5 49.8L0.5 48.5L2.1 47.0L3.0 45.2L3.4 43.1L3.4 41.0L2.8 38.9L1.8 36.8L0.2 34.7L-3.3 33.6L-8.8 33.5ZM25.6 -3.0L24.2 -3.4L22.8 -4.7L21.5 -6.9L20.2 -10.0L19.0 -14.0L18.4 -19.5L18.3 -26.7L18.7 -35.4L19.7 -45.8L21.3 -50.2L23.5 -48.8L26.5 -41.4L30.0 -28.2L32.2 -17.9L33.0 -10.6L32.5 -6.1L30.6 -4.7L28.8 -3.6L27.2 -3.1ZM34.4 38.7L36.0 37.7L37.7 37.1L39.4 37.1L41.1 37.6L42.8 38.5L44.2 39.9L45.4 41.6L46.2 43.7L46.8 46.2L47.1 48.2L47.2 49.9L46.9 51.1L46.5 51.9L45.4 52.3L43.6 52.4L41.2 52.2L38.2 51.6L35.7 50.8L33.9 49.8L32.6 48.4L31.8 46.8L31.4 45.4L31.2 44.0L31.2 42.8L31.5 41.8L32.2 40.7L33.1 39.7ZM124.4 26.9L123.4 27.0L120.5 27.0L115.9 26.7L109.5 26.3L101.3 25.6L95.0 24.8L90.8 24.0L88.4 23.2L88.1 22.3L87.9 20.8L88.1 18.7L88.5 16.0L89.1 12.7L89.9 10.2L90.8 8.5L91.9 7.7L93.1 7.6L95.9 8.7L100.4 11.1L106.5 14.7L114.3 19.4L119.9 23.1L123.2 25.5ZM1001.2 52.6L647.4 61.4L380.8 67.7L201.5 71.5L109.4 72.7L104.7 71.4L100.8 69.9L97.7 68.3L95.5 66.5L94.1 64.6L93.4 62.8L93.5 61.0L94.3 59.3L95.9 57.7L113.6 55.2L147.5 51.9L197.7 47.8L264.0 42.7L386.8 39.2L566.0 37.2L801.7 36.7L1093.8 37.8L1224.5 40.7L1193.6 45.7ZM39.0 17.3L36.0 18.8L33.7 19.9L31.9 20.5L30.7 20.8L30.0 20.6L29.5 19.8L29.1 18.5L28.8 16.5L28.6 14.0L28.7 11.9L29.0 10.3L29.4 9.2L30.1 8.5L31.1 7.9L32.4 7.5L34.1 7.1L36.0 6.9L37.8 6.8L39.4 7.0L40.9 7.3L42.1 7.9L43.1 8.5L43.9 9.2L44.5 9.9L44.8 10.7L44.9 11.5L44.8 12.3L44.6 13.1L44.1 13.9L43.0 14.8L41.3 16.0ZM5.9 64.1L5.4 64.7L5.1 65.8L5.1 67.5L5.5 69.7L6.1 72.4L6.8 74.5L7.6 76.1L8.5 77.2L9.4 77.6L10.3 78.0L11.0 78.2L11.7 78.2L12.2 78.2L13.0 77.6L14.0 76.5L15.2 74.9L16.7 72.8L17.6 70.9L18.0 69.2L17.8 67.7L17.2 66.4L16.1 65.4L14.6 64.6L12.6 64.0L10.3 63.7L8.3 63.6L6.9 63.7ZM37.9 1.0L37.3 -2.2L36.8 -4.7L36.4 -6.4L36.1 -7.3L35.8 -7.5L35.2 -7.2L34.2 -6.6L32.8 -5.5L31.0 -4.1L29.8 -2.5L29.2 -0.7L29.3 1.3L30.0 3.5L31.0 5.1L32.3 6.1L34.0 6.5L35.9 6.2L37.3 5.2L37.9 3.5ZM47.6 51.6L47.1 52.3L46.8 53.4L46.8 54.6L47.0 56.2L47.4 58.0L47.8 59.4L48.1 60.4L48.4 61.1L48.6 61.4L49.2 61.8L50.3 62.1L51.7 62.5L53.6 63.0L55.6 62.8L57.7 61.9L59.8 60.4L62.1 58.3L63.2 56.2L63.3 54.3L62.4 52.5L60.3 50.8L58.2 49.7L56.1 49.1L53.9 49.1L51.6 49.6L49.8 50.2L48.5 50.9ZM71.4 76.1L70.7 78.5L70.9 80.9L71.8 83.0L73.5 85.0L76.0 86.9L78.2 87.7L80.0 87.5L81.5 86.2L82.7 84.0L83.2 81.8L83.2 79.6L82.7 77.6L81.5 75.6L80.3 74.0L78.9 72.8L77.6 72.1L76.1 71.8L74.9 71.7L74.0 71.6L73.3 71.8L72.9 72.0L72.5 72.8L72.0 74.2ZM78.8 45.8L77.3 43.4L75.8 41.8L74.4 40.9L73.0 40.9L71.6 41.6L70.5 42.9L69.5 44.7L68.8 47.1L68.4 50.1L68.3 52.5L68.5 54.2L69.1 55.2L70.2 55.7L71.4 55.8L73.0 55.6L74.9 55.0L77.1 54.2L78.8 53.4L79.9 52.5L80.6 51.7L80.8 50.8L80.6 49.5L79.9 47.9ZM46.3 69.2L47.3 66.5L48.5 64.7L50.0 63.6L51.7 63.2L53.6 63.7L55.2 64.4L56.6 65.5L57.7 66.8L58.5 68.4L58.8 70.3L58.6 72.4L58.0 74.6L56.8 77.1L55.5 78.9L54.1 80.1L52.5 80.6L50.7 80.4L49.2 79.8L47.9 78.8L46.8 77.5L46.0 75.7L45.6 73.8L45.7 71.6ZM65.5 40.1L67.0 40.8L68.5 41.2L70.0 41.2L71.4 40.9L72.7 40.2L73.9 39.4L74.8 38.3L75.5 37.1L76.0 35.7L75.9 34.3L75.2 33.0L74.0 31.7L72.2 30.4L70.5 29.7L68.9 29.4L67.3 29.8L65.8 30.6L64.7 31.7L63.9 33.0L63.5 34.6L63.3 36.4L63.6 37.9L64.3 39.2ZM38.1 52.2L41.1 52.7L43.5 53.6L45.2 54.7L46.3 56.2L46.7 58.1L46.1 59.7L44.3 61.0L41.5 62.1L37.5 63.0L34.5 63.3L32.3 63.0L31.0 62.1L30.7 60.6L30.6 59.1L30.8 57.5L31.4 55.8L32.3 54.0L33.7 52.9L35.6 52.3ZM17.7 17.4L16.9 16.0L16.4 14.6L16.4 13.1L16.8 11.7L17.6 10.2L18.8 9.2L20.3 8.8L22.2 8.9L24.4 9.5L26.1 10.5L27.3 12.1L28.0 14.1L28.2 16.6L28.3 18.5L28.4 19.7L28.4 20.4L28.4 20.4L27.8 20.3L26.6 20.2L24.8 20.1L22.4 19.8L20.5 19.3L18.9 18.5ZM2.7 78.5L0.0 79.3L-3.1 87.3L-6.6 102.3L-10.6 124.5L-15.1 153.7L-16.4 168.2L-14.5 168.0L-9.6 153.1L-1.5 123.5L4.4 101.2L7.9 86.1L9.2 78.4L8.2 77.9L6.8 77.7L4.9 77.9ZM93.7 59.0L95.2 57.5L96.1 55.6L96.4 53.3L96.2 50.7L95.4 47.8L94.6 45.5L93.7 43.9L92.9 43.0L92.0 42.7L90.8 42.9L89.3 43.7L87.4 45.0L85.2 46.8L83.5 48.4L82.3 49.8L81.6 50.9L81.4 51.8L81.8 53.0L83.0 54.5L84.8 56.2L87.3 58.3L89.2 59.8L90.5 60.9L91.2 61.4L91.3 61.4L91.8 61.0L92.6 60.2ZM92.8 6.9L91.7 7.0L90.8 7.0L90.0 6.8L89.5 6.6L89.2 6.2L88.8 5.4L88.5 4.0L88.1 2.1L87.7 -0.2L87.8 -2.5L88.3 -4.8L89.3 -6.9L90.7 -9.0L92.4 -10.0L94.4 -10.0L96.6 -8.8L99.2 -6.6L100.6 -4.2L100.8 -1.9L99.8 0.5L97.7 3.0L95.8 4.9L94.2 6.2ZM4.9 51.4L4.0 50.4L2.7 49.9L1.0 49.9L-1.2 50.4L-3.8 51.4L-5.6 52.9L-6.7 54.8L-7.0 57.2L-6.5 60.1L-5.5 62.3L-4.0 63.8L-2.0 64.6L0.4 64.8L2.4 64.7L3.9 64.5L4.9 64.1L5.4 63.5L5.8 62.4L6.1 60.9L6.2 58.9L6.2 56.5L6.0 54.5L5.5 52.8ZM28.3 37.2L26.3 35.4L24.6 34.1L22.9 33.3L21.5 32.9L20.3 33.0L19.0 33.4L17.8 34.2L16.7 35.2L15.6 36.5L15.1 38.0L15.3 39.7L16.2 41.5L17.8 43.4L19.6 44.8L21.6 45.5L23.9 45.6L26.3 45.0L28.3 44.3L29.6 43.5L30.5 42.6L30.8 41.5L30.5 40.3L29.7 38.8ZM18.6 48.8L18.0 50.2L16.8 51.3L15.2 52.0L13.1 52.3L10.6 52.3L8.4 52.1L6.7 51.6L5.4 50.9L4.5 49.9L3.9 48.6L3.7 47.1L3.7 45.3L4.1 43.2L5.0 41.6L6.3 40.4L8.0 39.7L10.1 39.4L12.1 39.6L14.0 40.4L15.7 41.8L17.3 43.8L18.3 45.6L18.7 47.3ZM25.2 27.8L26.4 25.1L26.8 22.9L26.2 21.5L24.7 20.6L22.3 20.4L20.3 20.6L18.5 21.2L17.1 22.2L16.1 23.5L15.5 25.0L15.5 26.5L15.9 28.2L16.9 29.9L17.9 31.2L19.0 32.0L20.1 32.3L21.4 32.2L22.6 31.4L23.9 30.0ZM70.9 18.8L72.1 18.0L73.1 16.9L73.8 15.3L74.3 13.4L74.5 11.1L73.9 9.3L72.6 8.0L70.4 7.2L67.5 6.9L65.1 7.2L63.2 8.1L61.9 9.7L61.1 11.8L61.1 13.7L61.8 15.4L63.3 16.9L65.6 18.1L67.6 18.8L69.4 19.0ZM10.6 52.9L13.2 52.9L15.2 53.2L16.8 53.7L17.9 54.5L18.4 55.5L18.6 56.7L18.5 58.1L18.1 59.6L17.4 61.3L16.2 62.5L14.7 63.2L12.7 63.4L10.4 63.0L8.6 62.2L7.4 60.8L6.8 58.9L6.8 56.5L7.5 54.7L8.7 53.5ZM11.3 -9.7L13.5 -13.7L15.4 -15.6L17.1 -15.6L18.6 -13.6L19.8 -9.6L20.4 -6.2L20.3 -3.4L19.7 -1.1L18.4 0.5L17.0 1.7L15.4 2.2L13.6 2.2L11.6 1.6L10.1 0.9L9.0 0.1L8.4 -0.9L8.3 -2.1L8.7 -4.0L9.7 -6.5ZM43.0 28.5L41.5 29.6L40.4 30.7L39.7 31.8L39.2 32.9L39.0 34.0L39.4 35.0L40.1 36.0L41.4 37.0L43.1 37.9L44.8 38.4L46.4 38.5L47.9 38.1L49.3 37.3L50.5 36.2L51.6 34.9L52.4 33.3L53.1 31.4L53.6 30.0L53.9 29.0L54.1 28.5L54.0 28.4L53.5 28.3L52.3 28.0L50.7 27.7L48.4 27.4L46.4 27.4L44.6 27.7ZM45.7 68.9L46.7 66.3L47.5 64.3L47.9 62.8L48.0 61.9L47.8 61.6L46.6 61.6L44.5 61.9L41.5 62.5L37.6 63.4L34.6 64.4L32.5 65.5L31.2 66.6L30.9 67.8L30.8 68.9L30.8 69.8L30.9 70.5L31.2 71.1L32.3 71.6L34.0 72.0L36.4 72.3L39.4 72.5L42.0 72.1L44.1 70.9ZM58.2 16.0L58.8 15.8L59.7 16.0L61.2 16.5L63.0 17.4L65.3 18.6L67.0 20.0L68.2 21.6L68.9 23.3L69.0 25.1L68.7 26.7L68.0 28.1L66.9 29.2L65.4 30.0L63.8 30.4L62.0 30.5L60.0 30.1L57.9 29.3L56.4 28.7L55.3 28.3L54.8 28.1L54.7 28.0L54.9 27.2L55.2 25.7L55.7 23.6L56.4 20.7L57.1 18.4L57.7 16.9ZM75.7 7.4L75.8 7.3L76.6 7.2L78.2 7.0L80.5 6.8L83.5 6.6L85.9 6.5L87.6 6.6L88.6 6.8L89.0 7.1L89.1 8.2L88.9 10.0L88.5 12.5L87.9 15.8L86.6 18.0L84.8 19.1L82.3 19.2L79.2 18.3L76.9 17.0L75.5 15.3L74.9 13.4L75.1 11.1L75.3 9.3L75.5 8.1ZM29.4 3.7L28.7 1.6L27.8 -0.2L26.8 -1.4L25.6 -2.3L24.2 -2.7L22.8 -2.5L21.5 -1.9L20.2 -0.7L18.9 1.0L18.1 2.5L17.7 3.8L17.8 4.9L18.2 5.9L19.2 6.8L20.5 7.6L22.3 8.3L24.5 8.8L26.3 9.1L27.8 9.1L28.8 8.7L29.5 8.0L29.8 7.0L29.8 5.5ZM53.1 33.5L53.7 31.6L54.7 30.3L56.1 29.8L57.8 29.9L59.9 30.7L61.4 31.7L62.4 33.0L62.8 34.5L62.7 36.3L62.4 37.8L61.9 39.0L61.2 39.8L60.3 40.4L59.3 40.5L58.0 40.2L56.4 39.4L54.7 38.2L53.6 36.8L53.0 35.2ZM5.3 20.1L6.2 18.0L6.7 15.9L6.6 13.8L6.1 11.6L5.0 9.5L4.2 8.0L3.5 6.9L3.1 6.4L2.8 6.4L2.1 6.9L0.9 7.9L-0.9 9.4L-3.1 11.4L-4.3 13.6L-4.5 15.9L-3.8 18.4L-2.0 21.1L-0.5 23.0L0.8 24.1L1.8 24.4L2.6 23.9L3.5 23.0L4.4 21.8ZM79.2 45.4L77.7 43.0L76.7 40.9L76.2 38.9L76.2 37.3L76.6 35.9L77.5 34.6L78.6 33.6L80.2 32.8L82.1 32.1L83.9 32.3L85.5 33.3L87.0 35.1L88.4 37.8L88.8 40.2L88.4 42.5L87.1 44.5L84.8 46.3L82.8 47.1L80.9 46.8ZM75.1 6.9L75.2 6.8L75.1 5.9L75.0 4.2L74.6 1.7L74.1 -1.5L73.7 -4.0L73.4 -5.7L73.1 -6.7L73.0 -6.8L72.1 -6.7L70.5 -6.3L68.2 -5.6L65.2 -4.6L63.1 -3.3L61.9 -1.7L61.6 0.3L62.2 2.5L63.4 4.3L65.2 5.5L67.6 6.3L70.5 6.6L72.7 6.8L74.2 6.9ZM23.4 57.9L25.8 58.2L27.7 58.8L29.1 59.7L30.0 60.9L30.4 62.4L30.6 63.8L30.6 65.2L30.5 66.5L30.2 67.7L29.4 68.6L27.9 69.2L25.9 69.4L23.4 69.4L21.3 69.0L19.6 68.4L18.5 67.4L17.8 66.1L17.5 64.7L17.5 63.2L18.0 61.6L18.7 59.9L19.9 58.7L21.5 58.0ZM38.4 1.0L37.8 -2.3L38.1 -4.7L39.3 -6.1L41.4 -6.8L44.5 -6.5L46.9 -6.2L48.8 -5.7L50.1 -5.2L50.7 -4.5L50.7 -3.3L50.1 -1.5L48.9 0.8L47.1 3.7L45.4 5.8L43.9 6.9L42.5 7.2L41.2 6.7L40.2 5.5L39.2 3.6ZM39.2 17.8L36.2 19.2L34.5 20.9L33.9 22.9L34.5 25.0L36.3 27.3L38.0 28.8L39.6 29.4L41.1 29.1L42.5 28.0L43.5 26.4L44.1 24.5L44.2 22.2L44.0 19.6L43.0 17.9L41.4 17.3ZM3.8 -5.1L1.5 -6.1L-0.5 -6.5L-2.2 -6.2L-3.7 -5.2L-4.8 -3.5L-5.1 -1.9L-4.5 -0.2L-3.1 1.5L-0.9 3.1L0.8 4.4L2.1 5.2L2.8 5.6L3.0 5.6L3.5 5.3L4.2 4.7L5.1 3.9L6.3 2.7L7.1 1.6L7.6 0.4L7.7 -0.7L7.5 -1.8L6.8 -3.0L5.6 -4.0ZM68.8 55.9L69.8 56.3L70.7 57.5L71.5 59.5L72.1 62.1L72.7 65.6L73.0 68.2L73.1 70.1L72.9 71.1L72.5 71.4L71.5 71.5L69.9 71.4L67.6 71.3L64.7 71.0L62.3 70.4L60.5 69.4L59.1 68.1L58.3 66.5L58.2 64.7L58.9 62.8L60.4 60.8L62.6 58.6L64.3 57.0L65.6 55.9L66.4 55.4L66.8 55.3L67.3 55.4L68.0 55.6ZM10.3 24.5L7.9 24.1L6.4 23.2L5.7 22.0L5.8 20.3L6.8 18.2L8.0 16.6L9.3 15.4L10.9 14.7L12.5 14.5L14.0 14.7L15.2 15.3L16.2 16.2L17.0 17.6L17.3 19.0L17.2 20.4L16.6 21.8L15.5 23.1L14.1 24.0L12.4 24.5ZM60.7 41.1L61.5 40.5L62.6 40.3L63.8 40.3L65.2 40.7L66.7 41.5L67.7 42.8L68.3 44.6L68.3 47.0L67.9 50.0L67.4 52.3L67.0 53.8L66.6 54.6L66.3 54.6L65.5 54.2L64.3 53.3L62.8 52.1L60.8 50.4L59.4 48.8L58.6 47.2L58.4 45.6L58.8 44.2L59.3 42.9L59.9 41.9ZM54.4 38.6L56.1 39.9L57.3 41.2L58.0 42.5L58.1 44.0L57.7 45.4L56.9 46.7L55.6 47.7L53.8 48.5L51.6 49.0L49.7 48.8L48.4 47.8L47.4 46.1L46.8 43.6L46.8 41.6L47.2 39.9L48.2 38.7L49.6 37.9L51.1 37.7L52.7 37.9Z" fill="#fdf6f9"/>
<g fill="#86348c" opacity="0.8"><circle cx="80.7" cy="71.1" r="0.7"/><circle cx="80.8" cy="72.3" r="0.9"/><circle cx="53.1" cy="32.4" r="0.7"/><circle cx="81.7" cy="19.4" r="0.5"/><circle cx="16.4" cy="53.6" r="0.7"/><circle cx="18.1" cy="53.2" r="0.5"/><circle cx="17.2" cy="51.5" r="0.5"/><circle cx="17.9" cy="52.0" r="0.5"/><circle cx="30.6" cy="67.6" r="0.7"/><circle cx="28.2" cy="12.9" r="0.5"/><circle cx="4.4" cy="5.7" r="0.8"/><circle cx="2.3" cy="5.1" r="0.8"/><circle cx="4.1" cy="6.7" r="0.6"/><circle cx="58.4" cy="29.8" r="0.7"/><circle cx="60.3" cy="40.9" r="0.5"/><circle cx="55.3" cy="27.9" r="0.8"/><circle cx="53.7" cy="29.0" r="0.6"/><circle cx="53.5" cy="27.3" r="0.7"/><circle cx="66.6" cy="54.9" r="0.5"/><circle cx="30.4" cy="70.4" r="0.4"/><circle cx="30.7" cy="65.5" r="0.7"/><circle cx="32.5" cy="65.7" r="0.8"/><circle cx="30.2" cy="64.4" r="0.8"/><circle cx="31.4" cy="64.9" r="0.6"/><circle cx="34.4" cy="63.9" r="0.6"/></g>
<path d="M69.5 28.1L69.4 25.7" stroke="#86348c" stroke-width="0.8" stroke-linecap="round" opacity="0.75"/><path d="M18.6 19.7L17.0 21.7" stroke="#86348c" stroke-width="1.2" stroke-linecap="round" opacity="0.75"/><path d="M74.3 17.1L74.4 15.8" stroke="#86348c" stroke-width="0.9" stroke-linecap="round" opacity="0.75"/><path d="M4.2 65.4L5.1 64.4" stroke="#86348c" stroke-width="0.9" stroke-linecap="round" opacity="0.75"/>
</g>
<rect x="184.3" y="103.6" width="14" height="1.8" fill="#111"/>
<g transform="translate(207.3,34)" clip-path="url(#clip2)">
<rect width="90" height="76" fill="#eceaf0"/>
<path d="M8.9 43.0L8.8 43.0L8.4 42.9L7.6 43.0L6.4 43.0L4.9 43.1L3.5 43.4L2.2 44.0L1.0 44.9L-0.1 46.0L-1.0 47.0L-1.5 47.8L-1.9 48.4L-1.9 48.9L-1.6 49.6L-0.8 50.5L0.3 51.8L1.7 53.3L3.0 54.4L4.1 55.1L4.9 55.4L5.6 55.3L6.3 54.9L7.2 54.0L8.0 52.7L9.0 51.0L9.6 49.4L10.0 47.9L9.9 46.5L9.6 45.1L9.3 44.1L9.1 43.4ZM64.6 51.5L64.1 50.2L63.9 48.8L64.0 47.4L64.2 46.0L64.8 44.6L65.5 43.4L66.3 42.5L67.3 41.8L68.4 41.3L69.6 41.3L70.7 41.7L71.8 42.4L73.0 43.6L73.6 45.0L73.9 46.6L73.8 48.5L73.2 50.7L72.4 52.3L71.2 53.3L69.7 53.8L68.0 53.7L66.5 53.3L65.4 52.6ZM59.6 48.1L57.5 48.2L55.7 47.9L54.2 47.1L53.0 45.9L52.1 44.2L51.4 42.9L51.0 42.0L50.8 41.4L50.8 41.2L51.2 40.8L52.0 40.3L53.1 39.7L54.6 38.9L56.2 38.6L58.0 38.7L59.9 39.4L61.9 40.5L63.3 41.7L64.0 43.0L64.1 44.3L63.6 45.8L62.6 46.9L61.3 47.7ZM52.5 46.3L51.6 44.6L50.5 43.7L49.1 43.6L47.6 44.4L45.8 45.9L44.4 47.3L43.5 48.5L42.9 49.5L42.8 50.4L43.0 51.4L43.6 52.6L44.5 53.9L45.7 55.5L46.9 56.6L48.0 57.3L49.1 57.5L50.2 57.4L51.1 56.8L51.9 55.7L52.6 54.1L53.1 52.0L53.2 50.0L53.0 48.1ZM88.4 66.4L90.4 66.1L91.8 65.3L92.6 64.0L92.7 62.2L92.2 60.0L91.4 58.2L90.4 56.8L89.2 55.9L87.7 55.3L86.5 55.1L85.4 55.1L84.6 55.4L84.0 56.0L83.5 56.9L83.2 58.1L82.9 59.7L82.8 61.6L82.9 63.2L83.2 64.4L83.6 65.4L84.3 66.0L85.3 66.3L86.7 66.5ZM9.7 8.1L11.0 9.0L12.5 9.0L14.4 8.1L16.6 6.5L19.1 4.0L21.0 2.0L22.2 0.5L22.8 -0.4L22.8 -0.8L22.0 -1.4L20.6 -2.1L18.4 -2.9L15.6 -4.0L13.1 -4.4L11.0 -4.3L9.3 -3.5L8.0 -2.2L7.1 -0.8L6.7 0.8L6.7 2.5L7.2 4.2L7.9 5.8L8.7 7.1ZM48.9 6.8L50.1 8.9L50.6 10.7L50.5 12.3L49.9 13.7L48.7 14.9L47.3 15.7L45.8 16.1L44.2 16.2L42.4 16.0L40.9 15.3L39.7 14.0L38.9 12.3L38.3 10.1L38.1 8.2L38.2 6.7L38.6 5.6L39.3 4.8L40.3 4.2L41.5 3.8L42.9 3.6L44.7 3.7L46.3 4.2L47.7 5.2ZM63.9 7.8L62.4 8.2L61.1 8.8L60.0 9.4L59.1 10.2L58.4 11.1L58.0 12.2L58.0 13.4L58.5 14.7L59.3 16.2L60.6 17.1L62.3 17.5L64.4 17.4L67.0 16.8L68.7 15.8L69.3 14.4L69.1 12.6L67.9 10.5L66.6 9.0L65.3 8.1ZM25.6 52.0L28.0 52.4L29.9 52.9L31.2 53.3L31.9 53.6L32.1 53.8L32.3 54.6L32.3 55.7L32.3 57.3L32.2 59.4L31.7 61.1L30.7 62.5L29.4 63.6L27.6 64.3L26.0 64.4L24.4 63.8L22.9 62.5L21.5 60.5L20.5 58.7L19.9 57.1L19.7 55.8L20.0 54.6L20.2 53.7L20.6 52.9L21.0 52.3L21.4 51.8L22.3 51.6L23.7 51.7ZM79.6 27.5L79.7 29.3L79.2 31.1L78.1 32.8L76.4 34.4L74.2 36.0L72.3 36.6L70.7 36.2L69.5 34.8L68.5 32.4L68.4 30.2L69.0 28.2L70.5 26.4L72.7 24.9L74.6 23.8L76.1 23.4L77.3 23.4L78.2 24.0L78.9 24.9L79.4 26.0ZM91.0 11.2L92.2 10.9L93.2 10.4L94.2 9.7L95.0 8.7L95.8 7.5L96.2 6.2L96.3 4.7L95.9 3.1L95.2 1.4L94.5 0.0L93.9 -0.9L93.3 -1.6L92.8 -1.8L92.1 -1.8L91.3 -1.6L90.4 -1.2L89.3 -0.6L88.4 0.4L87.6 1.8L86.9 3.5L86.4 5.6L86.2 7.3L86.4 8.7L87.0 9.8L87.9 10.5L88.9 11.0L89.9 11.2ZM45.4 29.7L47.3 28.1L49.2 26.9L51.2 26.3L53.2 26.1L55.2 26.3L56.8 26.6L57.9 26.8L58.5 27.0L58.6 27.1L58.5 27.8L58.3 29.1L57.9 31.0L57.4 33.4L56.6 35.4L55.6 37.0L54.3 38.3L52.8 39.1L51.1 39.2L49.4 38.7L47.5 37.5L45.5 35.6L44.0 34.1L43.0 33.1L42.5 32.5L42.5 32.3L43.0 31.8L43.9 30.9ZM37.6 99.7L36.6 91.5L36.0 85.1L35.9 80.7L36.2 78.1L37.1 77.3L38.4 77.0L40.2 77.2L42.5 77.8L45.3 78.8L46.8 81.5L46.9 86.0L45.6 92.2L43.1 100.1L40.9 104.0L39.0 103.9ZM62.4 69.5L63.2 70.6L63.9 71.9L64.4 73.3L64.6 74.8L64.7 76.5L64.4 78.0L63.9 79.1L63.2 80.0L62.2 80.5L60.9 80.8L59.3 80.7L57.4 80.3L55.2 79.6L53.6 78.7L52.6 77.7L52.2 76.5L52.3 75.1L52.8 73.7L53.6 72.3L54.6 71.0L56.0 69.6L57.2 68.6L58.2 68.0L59.2 67.7L59.9 67.7L60.7 68.0L61.5 68.6ZM85.5 49.8L85.6 51.4L86.0 52.8L86.8 53.9L88.0 54.7L89.4 55.2L90.8 55.5L92.0 55.4L93.1 55.1L94.0 54.6L94.8 53.8L95.6 52.7L96.2 51.4L96.8 49.9L96.8 48.5L96.4 47.2L95.5 46.1L94.1 45.1L92.7 44.6L91.1 44.6L89.5 45.0L87.8 45.9L86.6 47.0L85.8 48.3ZM95.2 38.6L96.9 36.8L102.9 35.3L113.1 34.2L127.5 33.3L146.2 32.8L155.4 33.4L155.3 35.0L145.7 37.7L126.8 41.5L112.2 44.1L102.0 45.5L96.1 45.7L94.7 44.7L93.6 43.8L92.9 43.1L92.5 42.4L92.6 42.0L93.1 41.1L93.9 40.0ZM-1.6 65.8L-1.8 65.8L-3.1 66.3L-5.5 67.5L-9.0 69.2L-13.6 71.5L-16.1 73.6L-16.5 75.4L-14.6 77.0L-10.7 78.3L-7.2 79.1L-4.3 79.4L-1.9 79.3L-0.0 78.6L1.4 77.6L2.4 76.2L2.9 74.6L3.0 72.6L2.8 70.8L2.3 69.4L1.5 68.2L0.3 67.2L-0.6 66.5L-1.2 66.0ZM36.4 19.4L37.5 18.0L38.1 16.3L38.4 14.5L38.3 12.5L37.8 10.2L36.9 8.6L35.7 7.4L34.2 6.8L32.4 6.7L30.7 7.3L29.2 8.5L27.9 10.3L26.8 12.8L26.6 15.0L27.2 16.8L28.7 18.4L31.1 19.7L33.2 20.3L34.9 20.2ZM8.0 27.6L8.6 28.0L9.0 29.2L9.2 31.1L9.2 33.7L9.0 37.1L8.5 39.7L7.6 41.4L6.4 42.3L4.9 42.4L3.5 41.9L2.2 40.9L1.1 39.3L0.1 37.2L-0.7 35.6L-1.2 34.5L-1.4 33.9L-1.4 33.9L-0.9 33.5L0.2 32.6L1.8 31.3L3.9 29.6L5.7 28.4L7.0 27.8ZM3.6 29.2L1.5 30.9L-0.4 31.8L-2.1 32.1L-3.5 31.6L-4.7 30.4L-5.5 29.1L-6.0 27.8L-6.1 26.4L-5.8 24.9L-5.4 23.7L-4.8 22.6L-4.0 21.7L-3.1 21.0L-1.9 20.7L-0.5 20.9L1.2 21.6L3.1 22.7L4.6 23.7L5.6 24.6L6.3 25.3L6.5 25.8L6.1 26.7L5.2 27.8ZM68.4 10.3L69.6 12.4L70.6 14.1L71.5 15.3L72.4 16.1L73.1 16.4L73.9 16.2L74.9 15.4L76.0 14.1L77.2 12.3L77.9 10.3L77.9 8.3L77.2 6.3L76.0 4.1L74.6 2.7L73.3 2.1L71.9 2.1L70.5 2.9L69.3 3.6L68.4 4.4L67.7 5.1L67.3 5.9L67.3 7.0L67.7 8.5ZM84.5 70.0L84.3 71.7L83.7 73.0L82.7 74.1L81.3 74.9L79.6 75.3L78.1 75.3L76.9 74.7L76.0 73.5L75.3 71.9L74.9 70.5L74.6 69.3L74.6 68.4L74.8 67.8L75.4 67.2L76.4 66.6L77.8 66.1L79.5 65.7L81.0 65.5L82.2 65.6L83.2 65.9L83.9 66.5L84.3 67.4L84.5 68.5ZM0.9 10.5L3.4 9.1L5.2 7.6L6.2 6.1L6.5 4.4L6.0 2.6L5.1 1.1L3.9 -0.2L2.3 -1.1L0.3 -1.8L-1.9 -1.8L-4.1 -1.0L-6.6 0.5L-9.2 2.8L-10.5 4.9L-10.5 6.9L-9.2 8.6L-6.7 10.2L-4.2 11.1L-1.7 11.2ZM25.0 66.8L24.8 67.3L24.8 68.2L25.1 69.5L25.7 71.2L26.5 73.3L27.5 75.0L28.8 76.3L30.3 77.2L32.0 77.7L33.5 77.9L34.8 77.8L35.9 77.4L36.7 76.7L37.4 75.6L38.0 74.0L38.4 72.1L38.7 69.8L38.5 67.9L37.8 66.3L36.6 65.1L34.9 64.3L33.1 63.9L31.4 63.9L29.7 64.2L27.9 65.0L26.5 65.7L25.6 66.3ZM94.7 38.3L96.3 36.6L97.2 35.0L97.2 33.6L96.5 32.3L95.1 31.2L93.7 30.8L92.3 30.9L91.1 31.7L89.9 33.1L89.3 34.5L89.2 35.9L89.7 37.3L90.7 38.7L91.9 39.4L93.3 39.2ZM81.7 9.7L83.0 9.5L84.3 9.6L85.4 9.9L86.5 10.4L87.4 11.1L88.1 12.0L88.4 13.2L88.4 14.6L88.1 16.1L87.5 17.7L86.4 19.2L85.0 20.6L83.3 21.9L81.9 23.0L80.9 23.7L80.4 24.0L80.2 24.1L79.8 24.0L79.3 23.7L78.6 23.3L77.7 22.7L76.9 22.0L76.3 21.2L75.7 20.2L75.3 19.0L75.2 17.7L75.6 16.2L76.5 14.5L77.7 12.7L79.0 11.2L80.3 10.2ZM66.7 79.6L66.2 79.4L65.8 78.9L65.5 77.9L65.3 76.6L65.3 74.9L65.8 73.4L66.9 72.3L68.4 71.4L70.6 70.7L72.3 70.6L73.7 71.2L74.7 72.2L75.4 73.9L75.9 75.1L76.2 76.0L76.3 76.4L76.3 76.5L75.7 76.8L74.6 77.2L73.0 77.8L70.8 78.6L69.0 79.2L67.6 79.5ZM8.7 93.7L6.8 87.6L6.0 83.1L6.3 80.1L7.8 78.6L10.4 78.7L12.3 78.8L13.8 79.1L14.6 79.4L14.8 79.9L14.8 81.6L14.5 84.6L13.8 88.9L12.9 94.5L11.7 97.1L10.3 96.9ZM1.3 53.8L-0.1 52.3L-1.6 51.5L-3.1 51.4L-4.7 52.0L-6.2 53.2L-6.9 54.8L-6.9 56.7L-6.1 58.8L-4.4 61.3L-3.1 63.1L-2.2 64.4L-1.7 65.0L-1.5 65.0L-1.1 64.4L-0.4 63.3L0.5 61.6L1.7 59.4L2.2 57.3L2.1 55.5ZM27.5 158.6L26.3 127.4L25.6 103.8L25.3 87.8L25.6 79.3L26.4 78.5L27.4 77.9L28.7 77.8L30.2 77.9L32.0 78.4L33.6 80.9L35.0 85.3L36.2 91.6L37.2 99.9L37.4 112.0L36.7 127.7L35.2 147.2L32.8 170.5L30.7 180.1L29.0 176.1ZM74.5 19.3L75.0 20.4L74.8 21.7L73.9 23.0L72.3 24.5L70.1 26.0L67.9 27.1L65.9 27.7L64.0 27.8L62.1 27.5L60.7 27.1L59.8 26.9L59.3 26.7L59.2 26.5L59.2 26.0L59.4 25.0L59.7 23.6L60.1 21.7L61.1 20.2L62.6 18.9L64.6 18.0L67.2 17.3L69.3 16.9L70.9 16.7L72.1 16.8L72.8 17.1L73.4 17.6L74.0 18.3ZM65.6 0.9L63.9 -0.7L62.7 -2.0L61.9 -3.0L61.5 -3.7L61.4 -4.2L61.8 -4.9L62.6 -5.9L63.7 -7.2L65.2 -8.9L66.7 -9.4L68.3 -8.7L69.9 -7.0L71.5 -4.1L72.7 -2.0L73.5 -0.5L73.8 0.2L73.8 0.3L73.4 0.5L72.7 0.9L71.6 1.5L70.2 2.2L68.7 2.3L67.2 1.9ZM37.5 27.2L39.2 29.2L40.4 30.7L41.3 31.7L41.7 32.3L41.7 32.5L41.2 33.0L40.3 34.0L38.8 35.4L36.9 37.1L35.0 38.0L33.2 38.1L31.4 37.3L29.6 35.7L28.3 34.3L27.4 33.2L27.0 32.3L27.0 31.6L27.5 30.7L28.5 29.5L30.0 28.2L32.0 26.6L33.9 25.9L35.7 26.1ZM16.9 26.1L15.4 26.9L14.1 27.4L12.9 27.8L11.9 28.0L11.1 28.0L10.4 27.9L9.7 27.7L9.1 27.4L8.5 27.0L8.0 26.6L7.6 26.2L7.3 25.7L7.1 25.1L7.3 23.9L7.9 22.0L9.1 19.5L10.6 16.3L12.3 14.3L14.2 13.5L16.2 13.8L18.4 15.3L19.9 16.9L20.7 18.6L20.8 20.3L20.2 22.2L19.3 23.7L18.2 25.0ZM21.7 48.5L21.8 47.0L21.7 45.7L21.4 44.5L20.9 43.4L20.2 42.4L19.1 41.8L17.5 41.5L15.6 41.7L13.2 42.2L11.5 42.9L10.5 43.9L10.2 45.0L10.6 46.4L11.5 47.6L12.8 48.8L14.5 49.9L16.6 50.8L18.3 51.5L19.6 51.8L20.4 51.7L20.9 51.3L21.2 50.6L21.5 49.6ZM0.6 39.6L-0.4 37.5L-1.8 36.3L-3.6 36.0L-5.7 36.7L-8.2 38.2L-9.5 39.8L-9.6 41.4L-8.4 43.1L-5.9 44.8L-3.8 45.8L-2.1 46.0L-0.6 45.6L0.5 44.5L1.1 43.1L1.1 41.5ZM54.7 61.2L56.1 63.5L57.3 65.2L58.3 66.3L59.2 66.9L60.0 67.0L60.7 66.8L61.5 66.3L62.3 65.6L63.1 64.6L63.7 63.4L64.0 62.0L64.2 60.4L64.0 58.5L63.3 57.3L61.8 56.6L59.7 56.6L56.9 57.1L55.1 58.1L54.4 59.4ZM83.6 -74.1L84.1 -56.9L84.2 -42.2L83.8 -30.2L82.9 -20.7L81.5 -13.7L80.2 -8.3L78.9 -4.5L77.6 -2.1L76.3 -1.3L74.9 -1.5L73.4 -2.5L71.8 -4.6L70.1 -7.6L69.8 -15.3L70.9 -27.7L73.3 -45.0L77.1 -66.9L80.1 -79.1L82.2 -81.5ZM72.8 89.0L70.7 85.5L69.7 82.7L69.8 80.6L70.9 79.1L73.2 78.3L75.0 78.2L76.4 79.0L77.4 80.5L78.0 82.7L78.3 84.9L78.2 87.1L77.8 89.1L77.0 91.1L76.0 91.8L74.5 91.0ZM16.3 58.7L14.6 59.2L13.2 60.0L12.2 61.2L11.4 62.7L11.0 64.6L11.1 66.1L11.6 67.5L12.5 68.5L13.9 69.3L15.4 69.7L17.1 69.7L18.9 69.4L20.8 68.7L22.3 68.1L23.4 67.5L24.0 67.0L24.2 66.5L24.0 65.7L23.4 64.5L22.4 62.9L21.0 60.9L19.5 59.5L18.0 58.8ZM176.5 31.8L178.0 31.6L174.2 30.7L165.2 29.2L151.0 27.0L131.5 24.1L116.4 22.1L105.8 21.1L99.6 20.9L97.9 21.7L96.5 22.7L95.3 23.8L94.5 25.2L94.0 26.7L93.6 27.9L93.3 28.7L93.2 29.1L93.2 29.1L93.6 29.5L94.4 30.0L95.6 30.9L97.2 32.1L103.0 32.8L113.1 33.2L127.5 33.1L146.2 32.7L160.6 32.3L170.7 32.0ZM26.3 43.4L28.8 42.7L30.8 42.1L32.2 41.6L33.0 41.3L33.2 41.0L33.4 40.8L33.5 40.6L33.6 40.4L33.6 40.3L33.2 39.8L32.3 39.0L31.0 37.7L29.2 36.1L27.5 35.2L25.8 34.9L24.2 35.3L22.7 36.4L21.4 37.4L20.6 38.2L20.1 38.9L19.9 39.5L20.0 40.3L20.2 41.1L20.8 42.0L21.5 43.0L22.6 43.5L24.3 43.7ZM25.9 2.3L27.3 3.7L28.9 4.8L30.5 5.6L32.3 6.0L34.1 6.1L35.7 6.0L37.0 5.6L38.0 5.1L38.7 4.3L39.1 3.2L39.3 1.9L39.1 0.3L38.7 -1.5L37.8 -3.4L36.5 -5.2L34.7 -7.0L32.5 -8.8L30.5 -9.6L28.7 -9.2L27.1 -7.8L25.6 -5.3L24.6 -3.3L23.9 -1.8L23.6 -0.9L23.6 -0.5L24.0 0.2L24.8 1.1ZM65.1 54.7L64.8 55.1L64.7 55.8L64.6 56.9L64.6 58.3L64.8 60.2L65.3 61.6L66.3 62.5L67.7 63.0L69.5 63.0L70.9 62.5L72.0 61.6L72.6 60.2L72.8 58.3L73.0 56.9L73.0 55.8L72.8 55.2L72.6 54.9L72.0 54.7L71.1 54.5L69.7 54.4L68.0 54.3L66.7 54.4L65.7 54.5ZM15.6 73.8L15.3 75.6L15.1 77.0L15.0 78.1L15.1 78.9L15.4 79.3L16.1 79.6L17.3 79.8L18.9 80.0L21.0 80.0L22.7 79.8L24.2 79.4L25.2 78.7L26.0 77.9L26.3 76.8L26.3 75.3L25.9 73.5L25.1 71.4L24.0 70.0L22.6 69.3L21.0 69.3L19.1 70.0L17.5 71.0L16.4 72.3ZM-2.2 15.4L-1.9 17.0L-1.2 18.4L-0.1 19.8L1.5 21.0L3.4 22.2L5.2 22.3L7.0 21.3L8.7 19.2L10.2 16.1L11.4 13.7L12.1 12.0L12.5 11.1L12.4 11.0L12.1 10.7L11.5 10.2L10.6 9.6L9.3 8.8L7.8 8.5L5.9 8.8L3.7 9.6L1.2 11.0L-0.7 12.4L-1.8 13.9ZM49.7 -1.4L49.9 -2.8L49.8 -4.1L49.3 -5.3L48.4 -6.3L47.2 -7.2L45.9 -7.7L44.4 -7.6L42.9 -7.0L41.2 -6.0L40.1 -4.7L39.5 -3.2L39.4 -1.6L39.8 0.2L40.5 1.6L41.6 2.5L43.0 3.0L44.7 3.0L46.2 2.8L47.3 2.6L48.1 2.1L48.6 1.6L49.1 0.8L49.5 -0.1ZM37.9 26.7L39.5 28.7L41.3 29.8L43.1 30.0L44.9 29.2L46.8 27.6L48.0 25.9L48.6 24.1L48.6 22.2L47.8 20.2L46.8 18.7L45.6 17.6L44.1 16.9L42.3 16.7L40.7 16.9L39.2 17.5L37.9 18.5L36.8 19.9L36.0 21.1L35.5 22.0L35.2 22.7L35.3 23.1L35.7 23.9L36.6 25.1ZM52.6 1.6L54.4 1.7L55.8 2.2L57.0 3.1L58.0 4.4L58.6 6.0L58.9 7.4L58.9 8.7L58.5 9.8L57.8 10.7L56.9 11.4L56.0 11.8L55.0 12.0L53.9 11.9L52.8 11.3L51.7 10.2L50.6 8.6L49.5 6.6L48.8 4.9L48.5 3.6L48.6 2.7L49.2 2.1L50.0 1.8L51.2 1.6ZM52.1 58.0L52.0 58.0L51.7 58.0L51.1 58.0L50.3 58.1L49.3 58.3L48.2 58.8L47.0 59.7L45.8 60.9L44.6 62.6L44.2 64.3L44.8 66.0L46.2 67.8L48.6 69.7L50.7 70.8L52.6 71.0L54.2 70.4L55.5 69.1L56.2 67.5L56.2 65.7L55.6 63.6L54.2 61.4L53.2 59.7L52.5 58.6ZM36.5 53.5L38.7 52.9L40.7 52.9L42.5 53.4L44.0 54.4L45.2 55.9L45.8 57.5L45.8 59.1L45.2 60.7L44.0 62.3L42.9 63.6L41.9 64.5L41.2 65.1L40.5 65.4L39.6 65.3L38.4 65.1L37.0 64.5L35.3 63.7L34.0 62.6L33.2 61.2L32.9 59.5L33.0 57.4L33.6 55.7L34.8 54.4ZM79.4 44.9L77.7 44.9L76.1 44.6L74.7 44.0L73.4 43.1L72.3 41.9L71.5 41.0L71.0 40.3L70.8 39.7L70.9 39.4L71.6 38.7L72.7 37.8L74.4 36.5L76.7 34.9L78.5 33.9L79.9 33.4L80.9 33.4L81.4 34.0L81.9 35.1L82.1 36.6L82.2 38.7L82.1 41.2L81.6 43.1L80.7 44.3ZM79.5 45.6L77.8 45.6L76.4 46.1L75.2 47.1L74.4 48.7L73.8 50.9L73.4 52.5L73.3 53.7L73.3 54.5L73.5 54.7L74.2 55.0L75.4 55.3L77.1 55.6L79.3 55.8L81.1 55.9L82.5 55.7L83.5 55.4L84.1 54.8L84.6 54.0L84.8 52.9L84.9 51.5L84.8 49.8L84.5 48.5L84.1 47.5L83.6 46.7L83.0 46.3L82.1 46.0L80.9 45.7ZM26.2 31.5L26.2 32.2L25.8 33.0L25.0 33.8L23.9 34.8L22.3 35.9L20.7 36.1L19.2 35.6L17.6 34.1L15.9 31.9L15.1 30.0L15.1 28.5L15.8 27.4L17.4 26.6L18.9 26.3L20.5 26.6L22.2 27.3L23.8 28.6L25.0 29.7L25.8 30.7ZM94.2 65.6L94.3 65.6L95.2 65.5L97.1 65.1L99.8 64.6L103.3 63.8L105.2 62.8L105.4 61.4L103.9 59.6L100.6 57.5L98.0 56.1L95.9 55.3L94.4 55.2L93.4 55.8L92.8 56.8L92.6 58.2L92.7 60.0L93.3 62.2L93.7 63.8L94.0 65.0ZM51.5 76.4L51.6 75.0L51.1 73.5L50.0 71.9L48.3 70.1L46.0 68.3L44.0 66.9L42.5 66.1L41.5 65.8L40.8 66.1L40.2 66.8L39.8 68.1L39.4 69.9L39.1 72.2L39.6 74.2L40.8 75.9L42.8 77.2L45.5 78.2L47.7 78.9L49.3 79.2L50.3 79.3L50.7 78.9L51.0 78.4L51.3 77.5ZM37.2 43.7L39.2 45.4L40.8 47.0L41.7 48.3L42.2 49.4L42.1 50.2L41.4 51.0L40.3 51.7L38.6 52.3L36.3 52.9L34.6 53.3L33.4 53.4L32.7 53.3L32.5 53.1L32.4 52.2L32.4 50.8L32.6 48.7L32.8 46.1L33.0 44.1L33.3 42.6L33.5 41.7L33.7 41.4L34.4 41.7L35.5 42.4ZM4.0 -195.3L-0.8 -321.4L-2.0 -384.8L0.2 -385.6L6.0 -323.7L15.2 -199.1L21.8 -105.1L25.6 -41.5L26.8 -8.4L25.3 -5.8L23.5 -4.2L21.2 -3.4L18.6 -3.6L15.6 -4.6L12.2 -37.0L8.3 -100.5ZM85.2 70.1L85.0 71.7L85.0 73.3L85.4 74.6L86.1 75.8L87.2 76.8L88.3 77.3L89.6 77.5L91.0 77.1L92.5 76.4L93.6 75.3L94.3 73.8L94.5 71.9L94.3 69.7L94.1 68.0L94.0 66.9L93.8 66.3L93.7 66.2L93.2 66.3L92.1 66.4L90.6 66.7L88.6 67.0L87.0 67.7L85.9 68.7ZM85.3 26.0L88.2 27.1L90.5 27.6L92.2 27.4L93.3 26.5L93.8 25.1L93.8 23.7L93.2 22.5L92.1 21.4L90.5 20.4L88.9 20.1L87.2 20.2L85.5 21.0L83.7 22.3L83.1 23.6L83.6 24.8ZM-3.0 15.4L-2.6 17.0L-2.7 18.4L-3.0 19.6L-3.6 20.5L-4.6 21.2L-9.3 21.1L-17.8 20.0L-30.0 18.1L-45.9 15.4L-54.3 13.0L-55.3 11.0L-48.7 9.5L-34.7 8.4L-23.5 7.9L-15.2 8.1L-9.8 9.0L-7.3 10.6L-5.3 12.2L-3.8 13.8ZM64.4 54.4L64.1 54.8L63.2 55.2L61.7 55.6L59.6 56.1L56.8 56.7L54.7 57.1L53.3 57.3L52.5 57.4L52.5 57.4L52.5 56.8L52.8 55.8L53.1 54.2L53.7 52.2L54.6 50.6L55.9 49.5L57.6 48.9L59.7 48.7L61.3 49.0L62.6 49.6L63.5 50.5L64.0 51.9L64.3 53.0L64.4 53.8ZM57.9 15.1L58.8 16.5L59.3 18.1L59.5 19.7L59.4 21.5L59.0 23.4L58.2 24.7L57.0 25.5L55.4 25.7L53.3 25.4L51.6 24.7L50.2 23.5L49.2 22.0L48.5 20.0L48.2 18.3L48.5 16.7L49.2 15.3L50.4 14.2L51.6 13.4L52.8 12.8L53.9 12.6L55.0 12.7L56.0 13.2L57.0 14.0ZM74.6 0.6L74.6 0.5L74.9 0.3L75.5 -0.1L76.5 -0.7L77.7 -1.4L79.1 -1.8L80.7 -1.9L82.4 -1.5L84.2 -0.8L85.5 0.2L86.2 1.6L86.3 3.4L85.8 5.5L85.0 7.1L84.1 8.2L82.9 8.8L81.6 8.9L80.3 8.5L78.9 7.5L77.7 5.9L76.4 3.8L75.5 2.3L74.9 1.2ZM89.4 -13.3L87.8 -20.3L86.2 -23.8L84.7 -23.9L83.3 -20.4L81.9 -13.6L81.3 -8.2L81.6 -4.4L82.7 -2.2L84.5 -1.4L86.2 -1.0L87.7 -1.0L89.0 -1.3L90.1 -1.9L90.5 -4.1L90.3 -7.9ZM25.7 51.4L28.1 51.9L29.9 51.6L31.3 50.6L32.1 48.7L32.3 46.1L31.9 44.2L30.8 43.3L28.9 43.1L26.4 43.9L24.5 44.8L23.2 45.8L22.4 47.1L22.3 48.5L22.8 49.7L24.0 50.7ZM70.1 39.5L70.2 39.2L70.0 38.3L69.6 36.9L69.0 35.1L68.0 32.7L66.9 30.8L65.5 29.4L63.9 28.5L62.0 28.1L60.5 28.4L59.4 29.4L58.5 31.1L58.0 33.6L58.1 35.7L58.9 37.5L60.3 38.9L62.3 40.0L64.1 40.8L65.7 41.1L67.1 41.1L68.2 40.7L69.1 40.3L69.7 39.9ZM82.0 33.4L81.4 32.9L80.9 32.0L80.6 30.8L80.4 29.3L80.3 27.5L80.2 26.2L80.3 25.3L80.4 24.8L80.6 24.7L81.4 25.0L83.0 25.5L85.2 26.3L88.1 27.5L90.2 28.3L91.7 28.9L92.4 29.2L92.4 29.2L92.1 29.6L91.5 30.3L90.6 31.3L89.4 32.7L88.2 33.7L87.0 34.4L85.8 34.6L84.6 34.5L83.6 34.2L82.7 33.9ZM60.7 -4.2L60.7 -3.7L60.5 -3.1L60.0 -2.4L59.3 -1.4L58.4 -0.4L57.3 0.4L56.0 0.9L54.5 1.1L52.7 1.0L51.5 0.5L50.7 -0.3L50.4 -1.4L50.6 -2.8L51.0 -4.0L51.6 -5.0L52.3 -5.8L53.2 -6.3L54.2 -6.6L55.5 -6.6L56.8 -6.3L58.4 -5.7L59.5 -5.2L60.3 -4.6ZM31.6 26.1L29.6 27.7L27.7 28.6L25.9 28.7L24.2 28.1L22.5 26.8L21.4 25.4L20.8 23.9L20.9 22.2L21.5 20.4L22.1 19.0L22.7 18.0L23.3 17.4L23.9 17.3L25.0 17.4L26.5 18.0L28.5 18.9L30.8 20.1L32.6 21.2L33.8 22.0L34.4 22.7L34.5 23.1L34.0 23.8L33.1 24.8ZM2.2 59.6L0.9 61.9L0.3 63.8L0.3 65.4L0.8 66.7L2.0 67.6L3.2 68.2L4.5 68.5L6.0 68.3L7.5 67.9L8.8 67.1L9.7 65.9L10.4 64.4L10.8 62.6L10.8 61.0L10.4 59.6L9.6 58.4L8.4 57.5L7.4 56.8L6.4 56.3L5.6 56.1L5.0 56.2L4.2 56.8L3.2 57.9ZM19.2 39.4L19.3 38.8L19.0 37.7L18.3 36.3L17.1 34.5L15.5 32.2L14.1 30.5L12.9 29.4L11.9 28.8L11.1 28.7L10.5 29.5L10.0 31.2L9.6 33.8L9.4 37.1L9.3 39.7L9.3 41.4L9.3 42.3L9.4 42.4L10.0 42.3L11.3 42.1L13.0 41.7L15.4 41.1L17.2 40.6L18.5 40.0ZM47.4 1193.7L52.7 749.1L56.1 415.5L57.7 192.8L57.3 81.1L55.0 80.3L53.2 79.8L51.8 79.6L50.9 79.6L50.5 80.0L49.5 82.2L47.9 86.5L45.8 92.6L43.2 100.7L40.6 112.6L38.0 128.3L35.5 147.8L33.0 171.1L30.9 192.5L29.1 211.9L27.7 229.3L26.6 244.7L26.6 359.1L27.8 572.5L30.1 884.9L33.4 1296.3L36.0 1601.5L37.8 1800.6L38.8 1893.6L39.1 1880.4L40.6 1759.4L43.4 1530.5ZM37.3 37.5L39.2 35.8L41.2 34.9L43.1 35.0L45.1 36.0L47.1 37.9L48.6 39.4L49.5 40.4L50.0 41.0L50.0 41.3L49.5 41.8L48.6 42.7L47.2 43.9L45.4 45.4L43.6 46.1L41.6 46.0L39.6 45.0L37.5 43.3L35.9 41.9L34.9 41.0L34.4 40.5L34.4 40.4L34.9 39.8L35.8 38.9ZM82.6 84.2L84.7 83.0L86.3 82.0L87.4 81.1L88.0 80.3L88.1 79.6L87.9 78.9L87.4 78.1L86.7 77.2L85.6 76.3L84.4 75.7L83.0 75.4L81.5 75.5L79.8 75.9L78.4 76.2L77.6 76.5L77.1 76.7L77.1 76.7L77.2 77.3L77.5 78.5L77.9 80.2L78.5 82.5L79.5 83.9L80.8 84.5ZM7.5 136.6L2.7 114.4L-0.5 97.6L-1.9 86.1L-1.7 80.0L0.2 79.3L1.7 78.8L2.8 78.5L3.3 78.4L3.5 78.5L4.1 80.1L5.0 83.2L6.5 87.8L8.3 94.0L9.9 102.8L11.3 114.2L12.5 128.2L13.4 144.9L12.9 151.9L10.9 149.1ZM19.2 54.5L19.0 55.6L18.4 56.6L17.4 57.4L16.1 58.1L14.4 58.6L12.8 58.7L11.4 58.5L10.1 57.9L8.9 57.0L8.2 55.9L8.1 54.6L8.6 53.1L9.6 51.4L10.8 50.4L12.4 50.0L14.2 50.3L16.4 51.3L17.9 52.4L18.9 53.4ZM82.6 41.3L82.7 38.7L83.1 36.9L83.7 35.7L84.7 35.2L85.9 35.3L87.0 35.8L88.2 36.6L89.2 37.7L90.3 39.1L91.1 40.3L91.6 41.2L91.8 41.9L91.8 42.4L91.3 43.0L90.5 43.7L89.2 44.5L87.5 45.4L86.1 46.0L85.0 46.2L84.1 46.1L83.4 45.7L83.0 44.7L82.7 43.3ZM12.1 69.0L13.4 69.8L14.4 70.8L14.9 72.1L15.0 73.7L14.6 75.5L13.7 76.8L12.3 77.7L10.3 78.1L7.7 78.0L5.8 78.0L4.5 77.9L3.7 77.8L3.6 77.7L3.5 77.1L3.5 76.1L3.6 74.6L3.7 72.6L4.1 71.0L5.0 69.8L6.1 69.0L7.7 68.5L9.2 68.4L10.6 68.6ZM79.4 65.1L77.6 65.5L76.2 65.7L75.0 65.5L74.2 65.1L73.6 64.3L73.3 63.3L73.1 62.0L73.2 60.4L73.4 58.5L74.1 57.2L75.3 56.4L77.0 56.1L79.2 56.4L80.8 57.1L81.9 58.2L82.3 59.7L82.2 61.6L81.7 63.2L80.7 64.3ZM67.7 63.6L69.5 63.6L71.0 63.8L72.2 64.2L73.0 64.7L73.6 65.5L74.0 66.2L74.1 66.9L74.1 67.6L73.9 68.2L73.2 68.9L72.0 69.5L70.4 70.2L68.3 70.8L66.5 71.0L65.0 70.8L63.8 70.2L62.9 69.1L62.5 68.0L62.5 67.0L62.9 66.0L63.7 65.0L64.8 64.3L66.1 63.8ZM91.2 11.9L92.3 11.6L93.6 12.0L95.1 12.9L96.8 14.4L98.7 16.4L99.7 18.1L99.8 19.5L99.0 20.6L97.3 21.3L95.7 21.6L94.1 21.5L92.4 20.9L90.9 20.0L89.7 18.8L89.0 17.6L88.8 16.1L89.1 14.6L89.6 13.4L90.3 12.4ZM63.8 7.2L62.4 7.6L61.1 7.5L60.1 6.9L59.2 5.8L58.6 4.2L58.3 2.7L58.4 1.3L58.9 0.1L59.8 -1.0L60.9 -1.5L62.2 -1.2L63.6 -0.3L65.2 1.3L66.3 2.7L66.9 3.8L67.0 4.8L66.6 5.5L66.0 6.2L65.0 6.7ZM18.7 14.8L16.6 13.3L14.9 12.2L13.8 11.4L13.2 10.9L13.2 10.8L13.8 10.1L15.0 8.7L16.9 6.8L19.4 4.3L21.7 2.8L23.7 2.3L25.4 2.8L26.9 4.2L27.7 6.0L27.8 7.9L27.4 10.1L26.2 12.6L25.2 14.5L24.3 15.8L23.6 16.6L22.9 16.7L21.9 16.5L20.5 15.9ZM-2.2 33.9L-2.2 33.9L-2.9 34.3L-4.1 35.1L-6.1 36.3L-8.6 37.8L-12.5 38.8L-17.6 39.3L-24.0 39.3L-31.7 38.7L-35.2 37.8L-34.5 36.4L-29.7 34.6L-20.7 32.3L-13.6 31.0L-8.5 30.5L-5.3 30.8L-4.1 32.0L-3.1 32.9L-2.5 33.6Z" fill="#fcfbfc"/>
<g fill="#a060be" opacity="0.8"><circle cx="64.4" cy="41.6" r="0.7"/><circle cx="64.9" cy="42.7" r="0.5"/><circle cx="65.8" cy="41.1" r="0.7"/><circle cx="12.5" cy="59.5" r="0.5"/><circle cx="58.3" cy="48.5" r="0.8"/><circle cx="85.6" cy="55.1" r="0.8"/><circle cx="86.3" cy="54.7" r="0.8"/><circle cx="8.3" cy="56.9" r="0.7"/><circle cx="58.0" cy="32.1" r="0.5"/><circle cx="19.7" cy="57.5" r="0.6"/><circle cx="18.3" cy="57.7" r="0.7"/><circle cx="58.0" cy="14.5" r="0.5"/><circle cx="48.1" cy="19.9" r="0.5"/><circle cx="66.3" cy="28.5" r="0.7"/><circle cx="66.2" cy="28.6" r="0.8"/><circle cx="62.4" cy="68.9" r="0.5"/><circle cx="45.2" cy="35.7" r="0.6"/><circle cx="43.2" cy="47.5" r="0.8"/><circle cx="41.7" cy="49.0" r="0.8"/><circle cx="74.5" cy="46.9" r="0.4"/><circle cx="39.4" cy="67.2" r="0.7"/><circle cx="50.1" cy="40.8" r="0.6"/><circle cx="50.8" cy="41.9" r="0.5"/><circle cx="21.1" cy="51.6" r="0.6"/><circle cx="30.1" cy="52.6" r="0.5"/><circle cx="9.8" cy="48.0" r="0.6"/><circle cx="10.3" cy="47.3" r="0.7"/><circle cx="11.0" cy="48.7" r="0.8"/><circle cx="10.8" cy="49.4" r="0.6"/><circle cx="75.0" cy="16.1" r="0.8"/><circle cx="88.6" cy="-0.6" r="0.5"/><circle cx="71.5" cy="39.1" r="0.7"/><circle cx="70.9" cy="39.0" r="0.5"/><circle cx="70.0" cy="39.7" r="0.8"/><circle cx="36.1" cy="53.3" r="0.8"/><circle cx="56.4" cy="56.9" r="0.7"/><circle cx="86.2" cy="8.5" r="0.6"/><circle cx="84.3" cy="9.0" r="0.6"/><circle cx="86.0" cy="5.9" r="0.5"/><circle cx="19.1" cy="36.7" r="0.7"/><circle cx="76.5" cy="21.9" r="0.6"/><circle cx="75.3" cy="21.9" r="0.9"/><circle cx="76.4" cy="22.0" r="0.7"/><circle cx="76.3" cy="22.7" r="0.7"/><circle cx="70.9" cy="2.2" r="0.5"/><circle cx="59.1" cy="6.4" r="0.8"/></g>
<path d="M88.1 18.6L85.2 20.8" stroke="#a060be" stroke-width="1.0" stroke-linecap="round" opacity="0.75"/><path d="M64.1 55.4L64.4 55.0" stroke="#a060be" stroke-width="0.7" stroke-linecap="round" opacity="0.75"/><path d="M85.4 54.1L84.8 54.7" stroke="#a060be" stroke-width="1.1" stroke-linecap="round" opacity="0.75"/><path d="M82.6 34.6L82.6 36.1" stroke="#a060be" stroke-width="1.2" stroke-linecap="round" opacity="0.75"/><path d="M39.6 66.1L40.6 65.7" stroke="#a060be" stroke-width="1.2" stroke-linecap="round" opacity="0.75"/><path d="M80.6 24.4L80.4 24.4" stroke="#a060be" stroke-width="1.1" stroke-linecap="round" opacity="0.75"/><path d="M32.3 62.7L29.4 64.0" stroke="#a060be" stroke-width="0.8" stroke-linecap="round" opacity="0.75"/><path d="M42.1 32.7L41.1 33.7" stroke="#a060be" stroke-width="1.1" stroke-linecap="round" opacity="0.75"/><path d="M37.2 6.6L37.7 6.0" stroke="#a060be" stroke-width="0.7" stroke-linecap="round" opacity="0.75"/><path d="M47.0 17.0L48.9 15.1" stroke="#a060be" stroke-width="1.1" stroke-linecap="round" opacity="0.75"/>
</g>
<rect x="278.3" y="103.6" width="14" height="1.8" fill="#111"/>
<g transform="translate(302,34)" clip-path="url(#clip3)">
<rect width="90" height="76" fill="#eae8f0"/>
<path d="M176.4 27.4L143.5 27.0L118.6 27.0L101.7 27.4L92.7 28.0L91.7 29.0L91.0 29.9L90.5 30.7L90.2 31.3L90.2 31.8L90.5 32.7L91.2 33.8L92.2 35.4L93.5 37.2L97.7 39.0L104.7 40.9L114.4 42.7L127.0 44.5L148.5 45.1L179.0 44.5L218.3 42.6L266.6 39.5L295.7 36.7L305.7 34.3L296.5 32.2L268.2 30.5L238.7 29.1L208.1 28.1ZM73.9 7.7L72.0 6.4L70.5 5.4L69.3 4.8L68.5 4.6L68.1 4.7L67.8 5.3L67.6 6.4L67.5 7.9L67.5 9.8L67.7 11.4L68.0 12.7L68.4 13.6L69.0 14.1L69.8 14.5L70.8 14.7L71.9 14.8L73.2 14.7L74.3 14.3L75.2 13.6L75.8 12.7L76.2 11.5L76.0 10.3L75.2 9.0ZM53.0 3.2L51.6 1.2L51.0 -0.5L51.2 -2.0L52.1 -3.2L53.8 -4.3L55.4 -4.9L56.8 -5.2L58.0 -5.1L59.1 -4.6L60.0 -3.8L60.8 -2.7L61.4 -1.3L61.9 0.4L61.9 1.9L61.6 3.3L60.7 4.4L59.5 5.3L58.4 6.0L57.4 6.4L56.6 6.5L56.0 6.3L55.2 5.7L54.2 4.7ZM85.0 74.6L85.8 76.5L86.5 78.0L87.3 79.1L87.9 79.7L88.6 79.9L89.3 79.6L90.0 78.8L90.8 77.5L91.6 75.7L91.8 74.1L91.3 72.7L90.3 71.5L88.6 70.5L87.2 70.0L86.1 69.8L85.2 70.0L84.7 70.7L84.5 71.7L84.6 73.0ZM-5.3 5.8L-8.5 7.8L-10.0 9.9L-9.9 12.0L-8.1 14.2L-4.6 16.4L-1.7 17.9L0.5 18.6L2.1 18.6L3.0 17.8L3.8 17.2L4.3 16.7L4.5 16.3L4.6 16.0L4.5 15.1L4.2 13.7L3.6 11.7L3.0 9.1L2.3 7.0L1.6 5.4L1.0 4.3L0.4 3.7L-0.9 3.7L-2.8 4.5ZM7.8 39.6L6.8 36.7L6.0 34.6L5.4 33.1L5.0 32.4L4.9 32.3L4.3 32.7L3.3 33.5L1.9 34.8L0.1 36.5L-1.3 38.0L-2.3 39.3L-2.9 40.4L-3.0 41.4L-3.0 42.2L-2.8 43.0L-2.5 43.6L-2.0 44.2L-0.9 44.6L0.6 44.7L2.7 44.7L5.4 44.4L7.1 43.4L7.9 41.8ZM39.5 64.9L40.4 63.5L40.9 62.3L41.3 61.1L41.3 60.0L41.1 59.0L40.6 58.1L39.7 57.1L38.5 56.1L36.9 55.1L35.3 54.9L33.6 55.5L31.7 56.9L29.8 59.1L28.7 61.2L28.3 63.0L28.7 64.7L29.9 66.1L31.2 67.1L32.6 67.6L34.1 67.8L35.8 67.4L37.2 66.8L38.5 66.0ZM81.3 9.3L82.7 9.6L83.9 10.2L84.8 11.1L85.5 12.2L85.8 13.7L85.7 15.0L85.0 16.2L83.8 17.4L82.1 18.3L80.6 18.8L79.3 18.6L78.1 17.9L77.2 16.6L76.6 15.3L76.4 14.1L76.4 12.9L76.8 11.7L77.2 10.8L77.6 10.0L78.1 9.5L78.5 9.2L79.2 9.1L80.1 9.1ZM50.9 76.4L50.0 78.1L50.0 81.0L50.9 84.9L52.5 90.0L55.1 96.2L57.2 99.4L59.0 99.5L60.4 96.6L61.5 90.6L62.0 85.7L61.9 81.8L61.2 79.1L59.9 77.5L58.5 76.2L57.1 75.2L55.7 74.6L54.3 74.3L53.0 74.5L51.9 75.2ZM48.2 19.0L48.3 18.9L48.3 18.3L48.3 17.4L48.1 16.2L47.9 14.5L47.5 13.1L46.9 11.8L46.1 10.7L45.2 9.8L44.1 9.1L42.9 8.7L41.6 8.5L40.2 8.5L39.0 8.9L38.0 9.6L37.1 10.8L36.4 12.3L36.4 13.8L37.2 15.3L38.7 16.8L40.9 18.4L42.8 19.4L44.4 20.0L45.7 20.2L46.7 19.8L47.4 19.5L47.9 19.3ZM29.5 37.7L29.5 37.5L29.3 36.9L28.9 36.0L28.2 34.7L27.4 33.1L26.2 32.1L24.7 31.7L22.9 31.9L20.6 32.8L19.0 33.7L18.0 34.8L17.5 35.9L17.6 37.1L18.2 38.2L19.1 39.3L20.4 40.4L22.2 41.5L23.8 42.0L25.2 41.9L26.5 41.2L27.7 40.0L28.6 38.9L29.2 38.2ZM84.9 -2.8L84.9 -3.1L85.3 -3.7L86.0 -4.6L87.1 -5.9L88.6 -7.5L90.3 -8.3L92.2 -8.1L94.3 -7.1L96.6 -5.1L97.9 -3.2L98.3 -1.4L97.6 0.4L95.9 2.2L94.4 3.5L93.2 4.3L92.1 4.7L91.3 4.5L90.4 4.0L89.3 3.1L88.1 1.8L86.8 0.1L85.8 -1.2L85.2 -2.2ZM63.8 -5.6L65.5 -6.6L67.0 -7.2L68.2 -7.4L69.3 -7.1L70.2 -6.4L70.9 -5.6L71.4 -4.6L71.7 -3.5L71.8 -2.3L71.7 -1.1L71.4 0.0L70.9 1.1L70.1 2.1L69.4 2.9L68.8 3.5L68.3 3.9L67.9 4.0L67.4 4.0L66.7 3.9L65.8 3.7L64.8 3.4L63.9 2.7L63.2 1.7L62.5 0.3L62.0 -1.4L62.1 -3.0L62.7 -4.3ZM76.1 63.1L77.9 62.1L79.4 61.1L80.4 60.1L81.1 59.1L81.4 58.1L81.3 57.1L80.8 56.0L80.0 54.8L78.7 53.6L77.4 53.1L76.1 53.1L74.7 53.8L73.3 55.1L72.3 56.6L71.9 58.2L71.9 59.9L72.5 61.8L73.4 63.0L74.6 63.4ZM54.7 51.2L56.3 50.0L57.4 48.8L57.9 47.6L58.0 46.4L57.6 45.2L57.1 44.2L56.7 43.5L56.2 43.0L55.6 42.8L54.8 42.6L53.7 42.6L52.2 42.7L50.5 42.9L49.0 43.2L47.9 43.7L47.1 44.4L46.6 45.2L46.3 46.2L46.2 47.3L46.4 48.5L46.8 49.9L47.4 51.0L48.2 51.8L49.3 52.3L50.5 52.6L51.8 52.5L53.2 52.0ZM72.0 31.5L71.8 32.7L71.6 33.6L71.6 34.2L71.5 34.6L71.6 34.6L72.2 34.9L73.5 35.4L75.4 36.2L78.0 37.2L80.4 37.5L82.6 37.3L84.6 36.4L86.5 34.9L87.9 33.6L88.9 32.6L89.4 31.8L89.4 31.3L88.8 30.6L87.5 29.7L85.5 28.5L82.9 27.2L80.5 26.4L78.4 26.3L76.5 26.8L74.8 28.0L73.5 29.1L72.5 30.3ZM-6.3 29.9L-6.8 31.7L-6.9 33.3L-6.6 34.7L-5.8 36.0L-4.7 37.0L-3.4 37.4L-1.9 37.1L-0.3 36.1L1.6 34.4L2.7 32.6L3.1 30.9L2.7 29.1L1.6 27.3L0.4 26.1L-0.8 25.5L-2.1 25.5L-3.5 26.2L-4.7 27.2L-5.6 28.4ZM25.0 45.4L25.1 44.7L25.5 43.8L26.1 42.8L27.0 41.7L28.2 40.4L29.5 39.7L30.8 39.5L32.3 39.8L33.8 40.7L35.0 41.6L36.0 42.5L36.6 43.5L36.9 44.4L37.0 45.6L36.8 46.9L36.3 48.4L35.5 50.1L34.4 51.0L32.8 51.1L30.8 50.4L28.5 48.8L26.7 47.5L25.6 46.4ZM66.5 79.6L65.4 80.2L64.2 80.2L62.9 79.7L61.7 78.6L60.4 77.0L59.7 75.3L59.7 73.4L60.3 71.5L61.7 69.4L63.1 68.0L64.8 67.1L66.7 66.8L68.7 67.2L70.2 67.5L71.2 67.7L71.8 68.0L71.9 68.2L71.7 69.0L71.3 70.3L70.6 72.3L69.6 74.8L68.6 76.9L67.6 78.5ZM176.4 27.3L143.5 26.9L118.8 26.1L102.1 24.9L93.6 23.2L93.1 21.1L93.1 19.1L93.5 17.4L94.3 15.9L95.5 14.6L104.5 14.6L121.1 15.8L145.5 18.3L177.6 22.1L193.4 24.9L193.0 26.6ZM2.1 26.9L3.2 28.7L4.1 30.1L4.7 31.1L5.1 31.6L5.2 31.6L5.8 31.6L6.7 31.4L8.1 31.1L9.8 30.8L11.3 29.9L12.7 28.7L13.8 27.0L14.7 24.8L14.7 23.0L13.7 21.4L11.8 20.0L9.0 18.9L6.7 18.3L4.8 18.2L3.4 18.5L2.4 19.3L1.7 20.1L1.2 21.0L0.8 21.9L0.7 22.8L0.9 24.0L1.3 25.3ZM-2.0 56.9L-2.0 57.0L-5.1 56.7L-11.1 56.2L-20.0 55.5L-32.0 54.4L-38.1 53.0L-38.3 51.3L-32.6 49.3L-21.1 46.9L-12.3 45.2L-6.3 44.3L-3.1 44.2L-2.5 44.8L-2.2 45.9L-1.9 47.6L-1.8 49.9L-1.8 52.7L-1.9 54.8L-1.9 56.2ZM98.3 52.2L103.3 53.3L106.1 54.5L106.8 55.9L105.3 57.6L101.7 59.4L98.8 60.7L96.7 61.6L95.2 61.9L94.5 61.8L93.7 61.3L92.7 60.4L91.6 59.1L90.3 57.5L89.5 56.0L89.2 54.7L89.4 53.4L90.0 52.3L91.7 51.8L94.5 51.7ZM-1.1 73.5L-1.2 74.8L-1.5 76.0L-1.9 77.2L-2.6 78.4L-3.4 79.5L-7.3 79.8L-14.1 79.4L-23.9 78.2L-36.7 76.2L-43.0 74.5L-42.8 73.1L-36.0 71.9L-22.8 70.9L-12.7 70.4L-5.8 70.1L-2.2 70.3L-1.7 70.8L-1.4 71.6L-1.2 72.5ZM73.4 15.4L72.1 15.5L70.9 16.1L69.8 17.2L68.9 18.8L68.1 20.8L67.9 22.7L68.1 24.4L68.9 25.9L70.1 27.2L71.5 27.9L72.9 28.0L74.5 27.4L76.1 26.2L77.4 25.1L78.3 24.0L78.8 22.9L78.9 21.9L78.8 20.8L78.4 19.6L77.7 18.4L76.8 17.1L75.7 16.2L74.6 15.6ZM42.0 25.4L43.0 23.8L43.9 22.5L44.9 21.6L45.8 20.9L46.8 20.5L47.9 20.7L49.2 21.6L50.6 22.9L52.1 24.9L53.0 26.7L53.4 28.2L53.1 29.5L52.3 30.5L51.2 31.4L49.9 32.1L48.4 32.6L46.7 33.0L45.2 33.1L43.9 32.8L42.9 32.1L42.1 31.2L41.5 30.3L41.1 29.6L40.8 29.0L40.7 28.5L40.9 27.7L41.3 26.7ZM9.9 63.2L9.5 60.9L8.5 59.2L7.0 58.0L5.0 57.4L2.5 57.4L0.5 57.4L-0.7 57.4L-1.4 57.5L-1.5 57.5L-1.5 58.2L-1.7 59.7L-1.8 61.9L-2.0 64.7L-2.0 67.0L-1.8 68.7L-1.5 69.9L-1.1 70.4L-0.3 70.7L0.9 70.8L2.4 70.7L4.2 70.4L5.9 70.0L7.2 69.4L8.4 68.7L9.3 67.9L9.8 66.7L10.0 65.1ZM61.1 48.9L60.4 48.5L59.7 47.9L59.2 47.1L58.7 46.1L58.3 44.9L58.3 43.6L58.8 42.2L59.7 40.7L61.0 39.1L62.5 37.8L64.1 36.8L65.9 36.0L67.9 35.6L69.4 35.3L70.4 35.1L70.9 35.0L70.9 35.0L70.9 35.7L70.9 37.0L70.8 39.0L70.7 41.7L70.1 43.9L69.0 45.7L67.4 47.1L65.3 48.1L63.6 48.7L62.2 49.0ZM-66.8 16.4L-42.5 20.5L-24.0 23.5L-11.1 25.2L-4.0 25.7L-2.5 25.1L-1.4 24.3L-0.5 23.5L-0.1 22.6L0.1 21.6L-0.7 20.3L-2.4 18.7L-5.1 16.7L-8.6 14.5L-16.9 12.7L-29.8 11.4L-47.4 10.7L-69.7 10.5L-80.4 11.4L-79.4 13.3ZM7.2 -18.3L6.0 -24.3L4.0 -184.9L1.1 -500.3L-2.5 -970.3L-7.0 -1594.9L-7.3 -1922.7L-3.6 -1953.6L4.3 -1687.7L16.3 -1124.9L24.7 -685.6L29.6 -369.9L31.0 -177.8L28.9 -109.3L27.0 -57.6L25.3 -23.0L23.9 -5.2L22.7 -4.4L21.4 -3.9L19.9 -3.7L18.2 -3.7L16.4 -4.0L14.7 -4.5L13.2 -5.2L11.9 -6.2L10.7 -7.4L9.5 -9.8L8.3 -13.4ZM74.6 48.2L73.2 47.2L72.2 45.8L71.6 43.9L71.3 41.7L71.3 39.1L72.0 37.3L73.3 36.5L75.3 36.7L77.8 37.7L79.8 38.8L81.1 39.9L81.8 41.0L82.0 42.1L81.7 43.3L81.1 44.6L80.1 46.0L78.7 47.5L77.4 48.4L76.0 48.6ZM62.1 59.2L62.7 57.7L63.1 56.2L63.2 54.8L63.0 53.4L62.5 52.1L62.0 51.1L61.4 50.3L60.8 49.6L60.1 49.2L59.2 49.2L58.0 49.7L56.7 50.5L55.1 51.7L54.0 53.0L53.4 54.6L53.2 56.3L53.4 58.2L54.1 59.6L55.1 60.6L56.6 61.2L58.4 61.3L59.9 61.0L61.1 60.3ZM48.9 19.5L49.0 19.3L49.7 19.0L50.9 18.4L52.8 17.7L55.2 16.8L57.3 16.6L58.9 17.2L60.2 18.4L61.0 20.4L61.3 22.1L60.8 23.6L59.8 24.9L58.1 26.0L56.7 26.8L55.8 27.3L55.2 27.5L55.0 27.5L54.5 27.0L53.7 26.1L52.5 24.6L51.0 22.7L49.9 21.2L49.2 20.1ZM29.0 5.6L28.3 6.2L27.9 7.0L27.7 8.2L27.9 9.8L28.3 11.7L28.8 13.2L29.3 14.3L29.9 15.0L30.5 15.2L31.1 15.4L31.8 15.3L32.6 15.1L33.5 14.7L34.3 14.1L35.1 13.2L35.8 12.0L36.5 10.5L36.9 9.4L37.2 8.5L37.2 7.9L37.1 7.6L36.5 7.2L35.6 6.8L34.3 6.2L32.6 5.7L31.2 5.4L30.0 5.4ZM29.5 15.6L30.0 15.9L30.5 16.6L30.7 17.7L30.7 19.2L30.6 21.2L30.2 22.9L29.7 24.3L28.9 25.5L27.9 26.3L26.7 26.6L25.1 26.2L23.3 25.1L21.1 23.5L19.6 22.0L18.9 20.5L18.8 19.2L19.5 18.0L20.5 17.0L21.8 16.3L23.5 15.8L25.5 15.6L27.2 15.5L28.5 15.5ZM39.7 81.2L39.9 81.5L39.5 90.5L38.5 108.2L36.7 134.7L34.3 169.8L32.2 188.4L30.3 190.3L28.6 175.7L27.1 144.5L26.5 119.9L26.7 102.0L27.7 90.7L29.6 86.1L31.4 82.7L33.2 80.6L34.9 79.7L36.7 80.1L38.0 80.5L39.0 80.8ZM22.9 55.8L22.7 53.0L22.0 51.0L20.6 49.9L18.7 49.6L16.3 50.1L14.3 50.8L12.9 51.7L11.9 52.7L11.5 53.9L11.9 55.1L13.2 56.3L15.4 57.4L18.5 58.4L20.8 58.5L22.2 57.7ZM40.8 45.9L42.5 46.0L44.0 45.8L45.1 45.5L45.9 44.9L46.4 44.1L46.6 43.1L46.4 42.0L45.8 40.6L44.9 39.1L43.8 38.3L42.5 38.2L41.0 38.7L39.3 40.0L38.2 41.2L37.5 42.3L37.3 43.3L37.7 44.3L38.4 45.0L39.4 45.6ZM16.4 -3.2L18.1 -2.9L19.5 -2.3L20.4 -1.2L20.9 0.2L21.0 2.1L20.8 3.7L20.4 5.2L19.7 6.4L18.8 7.4L17.9 8.2L17.1 8.6L16.3 8.7L15.5 8.5L14.8 8.1L14.1 7.4L13.4 6.6L12.7 5.5L12.3 4.2L12.3 2.8L12.5 1.1L13.0 -0.8L13.8 -2.1L15.0 -2.9ZM39.4 -4.3L40.3 -5.0L41.4 -5.2L42.6 -5.0L44.0 -4.4L45.6 -3.3L46.5 -1.9L46.8 -0.2L46.3 1.8L45.2 4.2L44.1 5.9L42.8 7.1L41.5 7.7L40.1 7.8L39.0 7.8L38.3 7.6L37.8 7.4L37.6 7.1L37.5 6.2L37.5 4.8L37.6 2.9L37.8 0.4L38.1 -1.6L38.7 -3.2ZM92.4 44.9L93.6 43.0L97.7 42.1L104.5 42.1L114.2 43.0L126.6 44.9L133.8 46.7L135.7 48.5L132.4 50.2L123.8 51.9L116.1 52.9L109.3 53.2L103.4 52.9L98.5 51.9L94.7 50.9L92.2 50.1L90.9 49.3L90.7 48.7L90.9 47.7L91.5 46.5ZM29.3 66.5L28.2 65.0L27.2 64.0L26.4 63.2L25.8 62.8L25.4 62.7L24.7 63.0L23.5 63.8L22.0 64.9L20.1 66.5L18.9 68.2L18.2 70.0L18.2 71.9L18.7 73.8L19.8 75.1L21.3 75.8L23.3 75.7L25.8 75.0L27.7 74.2L29.2 73.1L30.1 71.9L30.5 70.6L30.5 69.3L30.1 67.9ZM6.9 -17.8L5.8 -23.7L4.4 -26.4L2.6 -25.9L0.5 -22.3L-1.9 -15.5L-3.4 -10.0L-4.0 -5.7L-3.6 -2.7L-2.4 -0.9L-0.9 -0.2L0.9 -0.7L2.9 -2.3L5.2 -4.9L6.6 -8.4L7.2 -12.7ZM48.6 -2.2L48.8 -2.2L49.4 -2.5L50.4 -3.0L51.8 -3.9L53.6 -5.0L53.9 -16.6L52.6 -38.7L49.9 -71.3L45.7 -114.4L42.6 -135.9L40.8 -136.0L40.2 -114.4L40.8 -71.4L41.7 -38.8L42.8 -16.7L44.2 -5.1L45.9 -3.9L47.1 -3.1L48.1 -2.5ZM91.3 81.8L92.1 82.7L93.4 83.0L95.2 82.5L97.5 81.4L100.3 79.5L101.9 77.9L102.4 76.4L101.6 75.1L99.6 73.9L98.0 73.1L96.6 72.7L95.5 72.6L94.6 72.8L93.8 73.4L93.0 74.5L92.1 75.9L91.3 77.7L90.9 79.2L90.9 80.6ZM45.8 72.0L48.1 72.5L49.8 72.3L50.9 71.3L51.3 69.8L51.1 67.5L50.3 65.6L49.2 64.2L47.5 63.2L45.4 62.7L43.6 62.6L42.1 63.0L40.9 63.9L40.1 65.3L39.7 66.5L39.7 67.7L40.1 68.8L41.0 69.8L42.2 70.7L43.8 71.4ZM36.1 50.5L36.9 48.8L37.9 47.6L39.2 46.8L40.7 46.5L42.5 46.5L43.9 47.0L45.0 47.7L45.7 48.7L46.1 50.1L46.1 51.5L45.6 52.7L44.6 54.0L43.2 55.1L41.7 55.8L40.3 55.9L38.8 55.5L37.2 54.5L36.1 53.8L35.3 53.3L34.9 53.0L34.9 53.0L35.1 52.5L35.5 51.7ZM51.9 69.7L51.7 67.5L51.7 65.6L51.9 64.2L52.2 63.2L52.8 62.6L53.7 62.2L54.9 61.9L56.5 61.9L58.3 62.0L59.8 62.3L60.9 62.9L61.8 63.7L62.3 64.6L62.4 65.9L62.0 67.4L61.1 69.2L59.8 71.2L58.5 72.7L57.1 73.5L55.7 73.8L54.3 73.6L53.3 73.4L52.5 73.2L52.2 73.1L52.2 73.1L52.1 72.5L52.0 71.4ZM5.4 -4.5L3.2 -1.9L1.5 0.1L0.4 1.4L-0.2 2.1L-0.2 2.2L-0.0 2.4L0.3 2.7L0.7 3.1L1.4 3.6L2.4 4.0L3.8 4.2L5.5 4.2L7.7 4.0L9.5 3.4L10.9 2.4L11.8 0.9L12.4 -1.0L12.6 -2.7L12.3 -4.2L11.6 -5.5L10.5 -6.7L9.1 -6.9L7.4 -6.2ZM72.6 67.9L72.5 67.7L72.5 67.4L72.6 67.0L72.8 66.6L73.1 66.0L73.8 65.3L74.8 64.6L76.3 63.7L78.1 62.7L79.8 62.4L81.3 62.7L82.7 63.7L83.9 65.4L84.8 66.7L85.3 67.6L85.6 68.1L85.6 68.3L85.4 68.6L85.1 69.1L84.7 69.6L84.1 70.2L83.4 70.8L82.6 71.2L81.7 71.5L80.8 71.6L79.6 71.5L78.3 71.2L76.8 70.5L75.2 69.6L73.9 68.9L73.1 68.3ZM79.1 5.6L79.3 3.8L79.0 2.5L78.3 1.4L77.0 0.8L75.3 0.4L73.8 0.5L72.5 0.8L71.4 1.5L70.6 2.5L70.5 3.6L71.1 4.8L72.3 6.0L74.2 7.3L75.7 8.2L76.9 8.7L77.7 8.8L78.1 8.6L78.5 7.9L78.8 6.9ZM81.8 59.3L82.1 58.3L82.6 57.5L83.4 56.8L84.5 56.3L85.9 55.9L87.2 56.1L88.5 56.7L89.8 57.8L91.0 59.4L91.5 61.0L91.3 62.5L90.3 63.9L88.6 65.3L87.0 66.0L85.6 65.9L84.3 65.0L83.2 63.3L82.4 61.8L81.9 60.5ZM36.6 26.2L34.4 25.4L32.7 24.3L31.6 23.0L31.2 21.3L31.3 19.3L31.7 17.7L32.2 16.5L32.9 15.8L33.7 15.4L34.9 15.5L36.5 16.1L38.3 17.2L40.6 18.7L42.0 20.3L42.6 21.9L42.4 23.4L41.5 25.0L40.2 26.0L38.6 26.4ZM27.8 11.8L27.3 9.9L26.6 8.3L25.8 7.2L24.7 6.4L23.5 6.0L22.3 5.9L21.2 6.2L20.2 6.9L19.3 7.9L18.7 9.1L18.5 10.4L18.8 11.8L19.4 13.3L20.4 14.4L21.7 15.0L23.4 15.2L25.4 15.0L26.8 14.3L27.6 13.3ZM52.7 17.2L55.1 16.3L57.0 15.6L58.2 15.1L58.9 14.8L58.9 14.7L58.8 14.2L58.7 13.2L58.4 11.9L58.0 10.1L57.5 8.8L57.0 7.8L56.5 7.2L55.8 7.1L55.0 7.3L53.8 7.8L52.4 8.7L50.7 10.0L49.5 11.4L48.8 12.8L48.5 14.4L48.7 16.1L49.5 17.1L50.8 17.5ZM78.2 81.8L78.6 82.4L79.4 82.6L80.5 82.4L82.0 81.9L83.8 81.0L85.0 79.9L85.5 78.4L85.3 76.7L84.6 74.8L83.7 73.4L82.8 72.5L81.9 72.2L80.9 72.4L80.0 73.0L79.3 74.2L78.7 75.8L78.2 77.9L78.0 79.6L77.9 80.9ZM44.1 35.1L44.1 35.7L44.3 36.5L44.7 37.5L45.4 38.8L46.3 40.3L47.4 41.4L48.7 42.0L50.3 42.3L52.0 42.1L53.2 41.4L53.6 40.2L53.4 38.4L52.5 36.1L51.4 34.5L50.0 33.5L48.5 33.3L46.8 33.6L45.5 34.1L44.6 34.6ZM18.7 49.1L16.2 49.6L14.2 49.6L12.7 49.1L11.6 48.1L11.0 46.5L11.0 45.1L11.6 43.7L12.9 42.4L14.7 41.2L16.5 40.5L18.3 40.4L20.1 40.9L21.8 42.0L23.1 43.0L23.9 43.9L24.3 44.7L24.3 45.5L24.1 46.1L23.9 46.7L23.5 47.2L23.1 47.6L22.1 48.1L20.7 48.5ZM65.1 24.2L64.2 24.0L63.1 24.2L61.8 24.6L60.3 25.4L58.5 26.4L57.7 27.7L57.7 29.2L58.6 31.0L60.3 33.0L62.1 34.4L64.0 35.2L65.9 35.4L67.9 35.0L69.4 34.3L70.4 33.5L71.1 32.5L71.2 31.3L71.1 30.1L70.5 28.9L69.6 27.6L68.4 26.4L67.2 25.4L66.1 24.7ZM91.8 44.6L93.0 42.8L93.6 41.0L93.5 39.2L92.8 37.4L91.6 35.6L90.1 34.7L88.6 34.6L86.9 35.3L85.1 36.8L83.7 38.3L82.9 39.6L82.6 40.8L82.7 41.9L83.3 43.0L84.2 44.0L85.6 45.0L87.3 45.9L89.0 46.2L90.4 45.7ZM2.5 79.0L4.7 80.3L6.0 82.8L6.4 86.5L5.8 91.4L4.4 97.6L2.9 100.6L1.4 100.6L-0.2 97.4L-1.7 91.1L-2.7 86.1L-3.1 82.4L-2.9 80.0L-2.1 78.9L-0.9 78.3L0.6 78.4ZM87.3 8.1L88.4 6.9L89.4 6.0L90.4 5.5L91.3 5.3L92.1 5.4L92.9 5.9L93.7 6.8L94.6 8.2L95.4 9.9L95.7 11.4L95.5 12.9L94.9 14.3L93.7 15.6L92.6 16.4L91.4 16.8L90.1 16.8L88.9 16.4L87.9 15.7L87.1 14.7L86.5 13.5L86.1 12.1L86.1 10.7L86.5 9.4ZM18.8 17.7L18.2 18.9L17.6 19.9L17.2 20.5L16.8 20.9L16.6 21.0L15.7 20.8L14.2 20.3L12.1 19.5L9.3 18.5L7.2 17.6L5.9 17.0L5.2 16.5L5.3 16.2L5.9 15.6L7.0 14.6L8.7 13.2L10.9 11.5L12.8 10.3L14.2 9.5L15.4 9.3L16.1 9.4L16.8 10.0L17.5 10.8L18.2 12.1L18.8 13.6L19.1 15.1L19.1 16.5ZM72.9 54.7L74.3 53.4L75.4 52.3L76.1 51.5L76.4 51.0L76.4 50.7L76.0 50.2L75.3 49.6L74.2 48.7L72.9 47.8L71.3 47.2L69.6 47.2L67.7 47.7L65.6 48.6L64.1 49.6L63.3 50.7L63.2 51.9L63.7 53.2L64.4 54.3L65.4 55.1L66.7 55.7L68.3 56.1L69.9 56.0L71.4 55.6ZM-2.9 -0.5L-4.2 -2.3L-14.5 -2.9L-33.6 -2.3L-61.6 -0.4L-98.5 2.7L-123.1 5.2L-135.2 7.0L-134.9 8.3L-122.2 9.0L-107.1 9.6L-89.6 10.0L-69.7 10.3L-47.5 10.5L-30.0 10.1L-17.2 9.1L-9.2 7.6L-5.9 5.5L-3.4 4.0L-1.8 2.9L-1.0 2.3L-1.0 2.3L-1.3 1.8L-2.0 0.9ZM36.4 26.7L34.2 26.0L32.2 25.6L30.6 25.6L29.3 26.1L28.4 26.9L27.6 27.6L27.1 28.3L26.8 28.9L26.8 29.4L26.9 30.2L27.3 31.3L27.9 32.7L28.8 34.3L30.0 35.1L31.7 35.1L33.8 34.2L36.3 32.4L38.2 31.0L39.4 29.9L40.0 29.1L39.9 28.6L39.3 28.0L38.1 27.4ZM40.7 74.8L40.1 76.9L39.2 78.3L38.0 79.1L36.7 79.4L35.0 79.0L33.6 78.4L32.5 77.7L31.6 76.8L31.1 75.8L30.7 74.6L30.6 73.5L30.8 72.2L31.1 70.9L31.8 69.8L32.9 69.0L34.2 68.4L35.8 68.1L37.2 68.2L38.5 68.5L39.5 69.2L40.4 70.2L40.9 71.5L41.0 73.0ZM47.7 62.7L45.6 62.1L43.9 61.5L42.7 60.7L42.1 59.8L41.9 58.8L42.0 57.8L42.6 56.7L43.7 55.6L45.1 54.4L46.4 53.6L47.7 53.1L49.0 53.0L50.3 53.3L51.3 54.0L52.0 55.0L52.5 56.5L52.8 58.3L52.9 59.9L52.7 61.1L52.3 62.0L51.7 62.6L50.8 62.9L49.4 63.0ZM-23.1 70.8L-36.5 71.7L-62.7 71.9L-101.6 71.2L-153.1 69.6L-217.4 67.2L-260.5 65.1L-282.6 63.4L-283.6 62.0L-263.5 60.9L-237.0 59.7L-204.1 58.4L-164.8 56.9L-119.2 55.3L-81.9 54.4L-53.0 54.2L-32.5 54.6L-20.4 55.6L-11.3 57.2L-5.3 59.2L-2.4 61.8L-2.6 64.8L-6.1 67.3L-13.0 69.3ZM10.8 53.7L11.2 52.5L11.4 51.2L11.3 49.8L11.0 48.4L10.4 46.8L10.0 45.7L9.7 44.9L9.5 44.5L9.5 44.5L8.8 44.5L7.5 44.7L5.5 44.9L2.9 45.2L0.9 46.2L-0.5 47.7L-1.1 49.9L-1.2 52.6L-0.6 54.7L0.7 56.1L2.6 56.8L5.1 56.8L7.1 56.7L8.5 56.6L9.4 56.3L9.7 56.0L10.1 55.5L10.4 54.7ZM88.7 17.1L89.9 17.5L90.9 18.3L91.8 19.5L92.4 21.2L92.8 23.2L92.9 25.0L92.7 26.5L92.1 27.7L91.1 28.7L89.8 29.1L88.0 28.9L85.8 28.1L83.2 26.7L81.3 25.4L80.1 24.2L79.5 23.0L79.7 21.9L80.2 20.9L81.1 19.9L82.4 18.9L84.2 17.9L85.8 17.3L87.3 17.0ZM87.1 46.5L85.3 45.6L83.6 45.3L82.0 45.6L80.6 46.5L79.2 47.9L78.1 49.1L77.5 50.0L77.1 50.6L77.2 50.9L77.6 51.4L78.2 52.2L79.2 53.2L80.4 54.4L81.7 55.2L83.0 55.6L84.4 55.6L85.7 55.3L86.9 54.7L87.9 54.0L88.7 53.1L89.3 52.0L89.8 51.0L90.0 50.2L90.1 49.4L89.9 48.8L89.4 48.1L88.5 47.3ZM70.1 75.0L71.0 72.5L72.1 70.8L73.4 70.0L74.9 70.1L76.5 71.0L77.6 72.3L78.2 73.8L78.2 75.7L77.7 77.8L76.9 79.2L75.6 80.0L73.9 80.1L71.8 79.6L70.5 78.6L69.9 77.0ZM62.3 13.7L64.2 13.3L65.6 12.5L66.5 11.4L67.0 9.8L67.0 7.8L66.7 6.3L66.3 5.1L65.5 4.4L64.5 4.0L63.4 4.0L62.3 4.3L61.1 4.9L59.9 5.8L59.0 7.0L58.6 8.3L58.6 9.9L59.0 11.7L59.7 12.9L60.8 13.6ZM18.2 74.0L17.6 72.1L16.8 70.5L15.8 69.3L14.6 68.4L13.2 67.9L12.0 67.7L10.8 67.9L9.8 68.4L8.9 69.2L8.5 70.4L8.6 71.9L9.1 73.8L10.0 76.0L11.2 77.7L12.5 78.7L13.9 79.2L15.5 79.1L16.8 78.9L17.8 78.6L18.4 78.2L18.6 77.7L18.7 76.8L18.5 75.6ZM29.9 -0.6L30.0 1.3L30.5 2.9L31.4 4.1L32.7 5.1L34.4 5.6L35.7 5.5L36.6 4.5L37.2 2.8L37.3 0.4L37.0 -1.5L36.1 -2.8L34.6 -3.4L32.7 -3.4L31.3 -3.0L30.3 -2.0ZM45.8 72.6L48.1 73.0L49.8 73.3L51.0 73.5L51.6 73.6L51.6 73.6L51.4 74.1L51.0 74.9L50.3 76.1L49.5 77.8L48.3 79.1L47.0 80.0L45.4 80.6L43.5 80.9L42.0 81.0L41.0 81.0L40.3 80.8L40.1 80.5L40.0 79.8L40.2 78.7L40.6 77.1L41.3 75.0L42.4 73.6L43.9 72.8ZM8.3 39.5L7.2 36.6L6.9 34.4L7.3 32.8L8.3 31.8L10.1 31.4L11.6 31.3L13.0 31.6L14.2 32.1L15.1 32.9L15.9 33.8L16.4 34.8L16.8 35.9L16.9 37.1L16.5 38.3L15.7 39.5L14.3 40.7L12.5 41.9L11.2 42.8L10.3 43.4L9.8 43.7L9.8 43.7L9.5 43.0L9.0 41.6ZM27.9 -4.3L27.0 -4.8L26.0 -5.0L25.1 -4.9L24.0 -4.5L22.9 -3.7L22.1 -2.7L21.7 -1.4L21.5 0.1L21.6 2.0L22.0 3.4L22.7 4.5L23.7 5.3L24.9 5.7L26.0 5.9L27.0 5.8L27.9 5.5L28.6 5.0L29.1 4.1L29.4 2.9L29.5 1.3L29.4 -0.6L29.1 -2.2L28.6 -3.4ZM25.9 75.6L23.4 76.3L21.5 77.0L20.1 77.6L19.3 78.1L19.0 78.7L19.2 80.1L19.8 82.6L20.9 86.0L22.4 90.4L24.0 92.5L25.7 92.4L27.4 90.1L29.2 85.6L30.4 82.0L31.0 79.2L31.0 77.2L30.4 76.2L29.4 75.5L27.9 75.4ZM20.4 32.3L22.6 31.4L24.3 30.6L25.4 29.9L26.0 29.3L26.1 28.8L25.6 28.0L24.5 26.9L22.9 25.5L20.8 23.9L19.1 22.7L17.9 21.9L17.2 21.6L17.0 21.7L16.6 22.3L16.0 23.4L15.3 25.0L14.4 27.1L14.0 28.9L14.1 30.4L14.6 31.5L15.6 32.3L16.9 32.7L18.5 32.7ZM12.1 5.9L12.8 7.0L12.8 8.2L12.1 9.6L10.6 11.1L8.4 12.9L6.6 13.5L5.2 13.1L4.1 11.5L3.4 8.9L3.4 6.9L4.2 5.5L5.6 4.7L7.8 4.5L9.6 4.7L11.0 5.1ZM79.7 5.6L79.9 3.9L80.3 2.4L81.0 1.1L81.8 0.0L82.8 -0.8L83.9 -1.0L85.1 -0.6L86.4 0.4L87.7 2.1L88.4 3.7L88.5 5.2L87.9 6.5L86.8 7.7L85.6 8.5L84.3 8.9L82.9 9.0L81.5 8.6L80.5 8.0L79.8 6.9ZM89.0 65.8L90.6 64.4L92.1 63.4L93.3 62.7L94.2 62.5L95.0 62.6L95.5 63.3L96.0 64.4L96.2 66.1L96.3 68.3L96.2 70.0L95.8 71.2L95.2 71.9L94.4 72.1L93.3 72.0L92.0 71.7L90.6 71.0L88.9 70.0L87.6 69.3L86.8 68.7L86.4 68.3L86.4 68.1L86.9 67.6L87.7 66.9ZM66.7 66.2L68.7 66.6L70.3 66.7L71.4 66.6L72.1 66.2L72.4 65.7L72.4 64.8L72.3 63.6L71.9 62.0L71.4 60.2L70.5 58.7L69.5 57.5L68.2 56.8L66.6 56.3L65.2 56.4L64.1 57.0L63.3 58.0L62.6 59.6L62.3 61.0L62.2 62.2L62.4 63.3L63.0 64.3L63.9 65.1L65.1 65.7ZM9.9 80.3L9.2 80.8L8.1 80.9L6.7 80.6L4.9 79.8L2.7 78.6L1.1 77.3L0.1 76.1L-0.4 74.9L-0.4 73.6L0.1 72.7L1.1 71.9L2.5 71.4L4.4 71.1L6.0 71.4L7.4 72.4L8.6 74.0L9.5 76.2L10.1 78.0L10.2 79.4ZM39.0 39.5L40.7 38.3L42.0 37.2L42.9 36.3L43.3 35.6L43.4 35.0L43.3 34.3L42.9 33.5L42.4 32.6L41.6 31.7L40.3 31.4L38.7 31.8L36.6 32.8L34.1 34.5L32.2 35.9L30.9 36.9L30.3 37.5L30.3 37.7L30.7 38.1L31.4 38.6L32.6 39.3L34.2 40.1L35.7 40.5L37.4 40.3ZM19.7 66.1L21.6 64.5L22.9 63.2L23.7 62.2L23.9 61.5L23.5 61.1L22.5 60.5L20.8 59.7L18.4 58.8L15.3 57.8L12.9 57.1L11.2 56.7L10.2 56.6L9.9 56.9L9.7 57.7L9.8 59.0L10.1 60.8L10.6 63.1L11.3 64.9L12.2 66.3L13.4 67.2L14.8 67.7L16.3 67.7L17.9 67.2ZM25.6 61.9L26.0 62.0L26.7 61.5L27.9 60.4L29.4 58.8L31.3 56.6L32.7 54.9L33.7 53.8L34.2 53.2L34.2 53.2L33.6 52.8L32.4 52.0L30.6 50.9L28.2 49.3L26.3 48.3L24.9 47.7L24.0 47.7L23.6 48.1L23.3 49.2L23.2 50.8L23.2 53.0L23.4 55.8L23.6 58.0L23.8 59.6L24.1 60.7L24.5 61.1L24.8 61.5L25.2 61.7ZM81.4 -0.6L82.4 -1.3L83.2 -2.0L83.8 -2.5L84.1 -2.9L84.1 -3.2L83.8 -3.6L83.0 -4.3L81.9 -5.1L80.4 -6.1L78.9 -6.8L77.3 -7.0L75.8 -6.9L74.3 -6.3L73.3 -5.6L72.6 -4.7L72.4 -3.7L72.5 -2.4L73.1 -1.4L74.1 -0.6L75.4 -0.1L77.2 0.2L78.8 0.2L80.2 -0.0ZM55.1 28.3L55.3 28.3L55.9 28.8L56.8 29.8L58.2 31.3L59.9 33.3L60.8 35.2L61.1 37.0L60.5 38.7L59.2 40.3L58.1 41.4L57.2 42.1L56.4 42.3L55.9 42.1L55.3 41.3L54.6 40.0L53.8 38.2L53.0 36.0L52.5 34.0L52.5 32.3L52.9 30.9L53.6 29.9L54.3 29.1L54.8 28.6ZM60.7 18.2L61.6 20.1L62.4 21.6L63.3 22.7L64.2 23.3L65.1 23.4L66.0 23.1L66.8 22.1L67.6 20.6L68.3 18.6L68.8 16.9L68.8 15.6L68.5 14.7L67.9 14.2L67.0 13.9L65.8 13.8L64.2 13.9L62.4 14.3L61.0 14.6L60.1 14.9L59.6 15.1L59.6 15.2L59.7 15.7L60.1 16.7ZM46.5 10.1L45.5 9.2L45.1 7.9L45.1 6.3L45.7 4.3L46.8 2.0L47.6 0.3L48.2 -0.9L48.7 -1.4L48.8 -1.4L49.3 -0.9L50.1 0.0L51.2 1.5L52.5 3.4L53.1 5.2L53.0 6.8L52.1 8.3L50.4 9.5L48.9 10.3L47.6 10.4Z" fill="#fcfbfc"/>
<g fill="#9058bc" opacity="0.8"><circle cx="30.5" cy="15.6" r="0.6"/><circle cx="31.8" cy="16.6" r="0.6"/><circle cx="32.4" cy="16.6" r="0.8"/><circle cx="31.1" cy="16.9" r="0.7"/><circle cx="69.1" cy="14.7" r="0.8"/><circle cx="12.5" cy="56.6" r="0.4"/><circle cx="51.3" cy="33.0" r="0.8"/><circle cx="51.9" cy="32.9" r="0.6"/><circle cx="42.8" cy="55.9" r="0.4"/><circle cx="60.1" cy="48.8" r="0.5"/><circle cx="46.0" cy="46.3" r="0.7"/><circle cx="44.5" cy="47.3" r="0.6"/><circle cx="46.0" cy="46.5" r="0.5"/><circle cx="71.1" cy="34.6" r="0.7"/><circle cx="67.6" cy="4.5" r="0.5"/><circle cx="4.7" cy="32.0" r="0.7"/><circle cx="3.6" cy="30.8" r="0.6"/><circle cx="49.8" cy="32.7" r="0.6"/><circle cx="49.3" cy="52.7" r="0.7"/><circle cx="14.3" cy="8.0" r="0.7"/><circle cx="14.2" cy="8.9" r="0.7"/><circle cx="44.5" cy="46.4" r="0.8"/><circle cx="12.2" cy="67.2" r="0.5"/><circle cx="16.6" cy="39.2" r="0.8"/><circle cx="16.7" cy="37.9" r="0.6"/><circle cx="18.5" cy="39.2" r="0.6"/><circle cx="17.2" cy="38.8" r="0.8"/><circle cx="81.4" cy="19.1" r="0.5"/><circle cx="26.4" cy="28.9" r="0.8"/><circle cx="37.0" cy="6.5" r="0.6"/><circle cx="37.7" cy="7.4" r="0.6"/><circle cx="31.1" cy="17.9" r="0.5"/><circle cx="40.4" cy="28.8" r="0.5"/><circle cx="56.1" cy="42.9" r="0.7"/><circle cx="53.9" cy="41.7" r="0.6"/><circle cx="55.3" cy="41.8" r="0.6"/><circle cx="12.8" cy="-1.0" r="0.6"/><circle cx="67.3" cy="9.0" r="0.8"/><circle cx="60.0" cy="15.4" r="0.8"/><circle cx="58.0" cy="15.1" r="0.5"/><circle cx="44.9" cy="72.2" r="0.8"/><circle cx="71.3" cy="33.5" r="0.5"/><circle cx="48.1" cy="42.1" r="0.8"/><circle cx="47.6" cy="41.8" r="0.9"/><circle cx="84.6" cy="44.8" r="0.5"/><circle cx="82.7" cy="71.6" r="0.6"/></g>
<path d="M17.4 21.1L19.7 22.8" stroke="#9058bc" stroke-width="0.8" stroke-linecap="round" opacity="0.75"/><path d="M79.3 72.3L78.9 73.9" stroke="#9058bc" stroke-width="1.1" stroke-linecap="round" opacity="0.75"/><path d="M43.7 8.0L45.0 9.2" stroke="#9058bc" stroke-width="0.9" stroke-linecap="round" opacity="0.75"/><path d="M72.0 67.4L68.7 66.9" stroke="#9058bc" stroke-width="1.2" stroke-linecap="round" opacity="0.75"/><path d="M79.3 72.3L78.0 71.6" stroke="#9058bc" stroke-width="1.1" stroke-linecap="round" opacity="0.75"/><path d="M76.9 51.4L74.8 53.3" stroke="#9058bc" stroke-width="0.9" stroke-linecap="round" opacity="0.75"/><path d="M57.3 43.1L57.9 44.8" stroke="#9058bc" stroke-width="0.8" stroke-linecap="round" opacity="0.75"/><path d="M12.2 50.7L11.7 52.1" stroke="#9058bc" stroke-width="0.9" stroke-linecap="round" opacity="0.75"/><path d="M62.7 23.4L61.1 24.4" stroke="#9058bc" stroke-width="0.8" stroke-linecap="round" opacity="0.75"/><path d="M72.0 67.4L72.0 67.5" stroke="#9058bc" stroke-width="0.8" stroke-linecap="round" opacity="0.75"/>
</g>
<rect x="373.0" y="103.6" width="14" height="1.8" fill="#111"/>
<g transform="translate(20.5,166)" clip-path="url(#clip4)">
<rect width="90" height="74.7" fill="#e8dde2"/>
<path d="M24.0 6.9L21.6 6.8L19.8 6.7L18.4 6.7L17.6 6.9L17.3 7.2L17.0 7.6L16.7 8.2L16.4 8.9L16.2 9.8L16.3 11.0L16.7 12.4L17.4 14.2L18.4 16.2L19.7 17.6L21.2 18.5L23.1 18.7L25.3 18.3L27.1 17.9L28.6 17.3L29.7 16.5L30.5 15.7L30.8 14.6L30.7 13.3L30.1 11.7L29.1 9.9L27.7 8.5L26.0 7.5ZM47.1 62.7L48.4 60.3L49.8 58.8L51.3 58.3L52.9 58.8L54.6 60.2L55.9 61.7L56.8 63.3L57.3 65.0L57.4 66.8L57.3 68.2L57.0 69.2L56.6 69.9L56.0 70.3L55.0 70.4L53.7 70.4L52.1 70.1L50.1 69.6L48.5 69.0L47.2 68.5L46.4 67.9L45.9 67.3L45.9 66.2L46.3 64.7ZM106.2 75.2L115.7 72.3L120.8 69.9L121.4 67.9L117.6 66.3L109.3 65.2L102.6 64.7L97.4 65.0L93.8 65.9L91.7 67.5L90.1 68.8L89.0 69.6L88.4 70.1L88.4 70.2L88.6 70.8L89.0 72.0L89.7 73.8L90.6 76.0L93.7 77.0L98.9 76.7ZM89.0 10.9L89.9 10.0L91.7 9.9L94.2 10.4L97.7 11.8L102.0 13.8L104.3 15.8L104.6 17.8L103.0 19.6L99.5 21.5L96.8 22.8L95.0 23.7L94.0 24.1L93.9 24.1L93.4 23.3L92.6 21.8L91.5 19.7L89.9 16.8L88.8 14.6L88.0 13.2L87.6 12.4L87.6 12.4L87.9 12.1L88.3 11.6ZM75.1 -15.1L73.9 -21.1L72.5 -24.1L70.9 -24.0L69.1 -20.8L67.1 -14.5L65.8 -9.5L65.2 -5.8L65.3 -3.5L66.2 -2.4L67.4 -1.9L69.0 -2.0L71.0 -2.8L73.3 -4.1L74.8 -6.6L75.3 -10.3ZM9.3 82.5L10.5 85.0L12.0 86.3L13.6 86.4L15.3 85.3L17.2 83.0L18.3 81.0L18.8 79.2L18.5 77.8L17.5 76.8L16.3 76.0L14.9 75.7L13.2 75.7L11.4 76.0L9.9 76.4L8.8 76.9L8.1 77.4L7.8 77.9L7.9 78.9L8.4 80.4ZM1.3 14.4L-0.3 14.2L-2.0 14.5L-3.8 15.3L-5.6 16.7L-7.6 18.6L-8.6 20.4L-8.6 22.0L-7.8 23.6L-6.0 25.1L-4.3 26.2L-2.7 27.0L-1.3 27.4L0.1 27.4L1.4 27.1L2.7 26.4L3.8 25.4L4.9 24.0L5.7 22.6L6.1 21.2L6.2 19.9L6.0 18.5L5.7 17.4L5.4 16.5L5.0 15.8L4.5 15.4L3.7 15.0L2.6 14.7ZM12.4 53.0L13.0 52.0L14.2 51.2L16.1 50.8L18.7 50.7L21.9 50.9L24.4 51.2L26.1 51.7L27.0 52.2L27.2 52.9L27.1 53.9L26.8 55.3L26.3 57.2L25.6 59.4L24.6 61.0L23.3 61.9L21.8 62.2L20.0 61.9L18.3 61.2L16.7 60.2L15.1 58.8L13.7 57.1L12.8 55.6L12.3 54.3ZM89.0 10.9L89.9 10.0L90.7 8.8L91.3 7.3L91.8 5.5L92.2 3.4L92.3 1.6L92.1 0.1L91.6 -1.2L90.9 -2.1L89.8 -2.7L88.5 -3.1L86.8 -3.1L84.8 -2.9L83.0 -2.1L81.5 -0.9L80.1 0.8L78.9 3.0L78.1 4.8L77.6 6.1L77.4 6.9L77.5 7.2L78.2 7.8L79.5 8.5L81.4 9.5L83.9 10.6L86.0 11.2L87.7 11.3ZM66.5 44.2L69.2 44.3L71.4 44.6L73.0 45.1L74.1 45.8L74.6 46.7L74.8 47.7L74.7 48.9L74.1 50.1L73.3 51.6L72.1 52.6L70.7 53.4L69.1 53.7L67.2 53.8L65.6 53.6L64.3 53.4L63.4 52.9L62.8 52.3L62.4 51.4L62.1 50.2L62.1 48.6L62.3 46.8L63.1 45.5L64.5 44.6ZM12.4 53.0L13.0 52.0L13.3 50.7L13.4 49.2L13.3 47.5L12.9 45.5L12.4 43.8L11.7 42.4L10.8 41.1L9.8 40.1L9.0 39.3L8.5 38.8L8.2 38.6L8.1 38.6L7.5 38.8L6.3 39.4L4.4 40.3L2.0 41.5L0.1 42.8L-1.3 44.3L-2.2 46.0L-2.5 47.8L-2.6 49.5L-2.4 51.2L-1.9 52.8L-1.2 54.2L-0.2 55.3L1.0 56.1L2.5 56.5L4.1 56.6L5.7 56.5L7.1 56.3L8.5 55.9L9.7 55.4L10.8 54.8L11.7 54.0ZM-3.9 72.5L-4.4 72.5L-5.2 72.0L-6.3 71.0L-7.8 69.5L-9.5 67.5L-10.1 65.6L-9.5 63.8L-7.9 62.0L-5.0 60.2L-2.8 59.6L-1.2 60.1L-0.1 61.8L0.4 64.5L0.5 66.9L0.2 68.7L-0.5 70.1L-1.6 71.0L-2.5 71.7L-3.3 72.2ZM39.5 91.7L37.6 98.0L35.6 100.9L33.6 100.6L31.4 97.0L29.1 90.1L27.5 84.7L26.6 80.8L26.5 78.4L27.1 77.5L27.9 76.7L28.9 76.0L30.1 75.4L31.6 75.0L32.8 74.6L33.7 74.4L34.3 74.4L34.6 74.5L35.3 75.0L36.4 76.0L37.8 77.5L39.6 79.4L40.4 82.5L40.4 86.5ZM32.7 38.4L30.0 39.0L27.8 39.4L26.3 39.6L25.3 39.5L24.9 39.3L24.6 38.6L24.2 37.4L23.8 35.8L23.4 33.7L23.6 32.0L24.3 30.6L25.5 29.4L27.3 28.6L28.9 28.1L30.4 28.0L31.8 28.2L33.0 28.8L34.1 29.5L35.0 30.5L35.8 31.7L36.4 33.1L36.8 34.3L37.0 35.3L37.1 36.1L37.0 36.7L36.2 37.3L34.8 37.8ZM41.2 64.7L39.6 63.7L38.3 62.6L37.4 61.5L37.0 60.5L36.9 59.4L37.2 58.3L37.8 57.1L38.7 55.8L39.9 54.5L41.3 53.7L42.9 53.2L44.7 53.1L46.7 53.4L48.2 53.7L49.2 53.9L49.8 54.1L49.9 54.2L50.0 54.4L50.0 54.7L50.1 55.2L50.2 55.8L49.9 56.8L49.3 58.3L48.4 60.3L47.1 62.7L46.1 64.5L45.2 65.7L44.6 66.3L44.3 66.3L43.6 66.0L42.6 65.5ZM79.9 -3.8L78.7 -4.7L77.1 -5.1L75.4 -4.9L73.3 -4.1L71.0 -2.8L69.3 -1.6L68.1 -0.6L67.6 0.2L67.6 0.9L68.2 1.7L69.4 2.6L71.2 3.6L73.6 4.7L75.7 5.0L77.5 4.4L78.9 3.0L80.1 0.8L80.7 -1.1L80.6 -2.6ZM74.9 72.8L75.7 72.7L76.4 71.9L77.1 70.5L77.8 68.4L78.5 65.7L78.6 63.5L78.3 61.9L77.5 60.8L76.2 60.3L74.9 60.2L73.4 60.7L71.9 61.6L70.4 63.0L69.2 64.1L68.4 65.0L68.0 65.6L67.9 65.9L68.3 66.5L69.0 67.5L70.1 68.8L71.6 70.5L72.9 71.7L74.0 72.5ZM73.4 57.3L72.8 55.9L72.6 54.4L72.8 53.0L73.3 51.6L74.1 50.1L75.1 49.1L76.2 48.4L77.3 48.1L78.6 48.2L79.8 48.7L81.2 49.7L82.6 51.2L84.0 53.1L84.8 54.8L85.0 56.4L84.6 57.8L83.5 59.0L82.5 60.0L81.7 60.7L81.0 61.1L80.4 61.3L79.6 61.3L78.6 61.1L77.5 60.8L76.2 60.3L75.1 59.5L74.2 58.5ZM63.0 27.1L61.6 26.6L60.3 26.4L59.2 26.5L58.2 26.8L57.4 27.4L56.6 28.5L56.0 30.3L55.3 32.6L54.7 35.4L54.7 37.7L55.3 39.3L56.5 40.4L58.3 40.9L60.0 40.6L61.7 39.7L63.4 38.0L65.1 35.6L66.2 33.6L66.8 31.9L66.7 30.4L66.1 29.4L65.2 28.4L64.2 27.7ZM93.9 24.1L94.0 24.1L94.2 24.7L94.5 25.8L95.0 27.5L95.5 29.8L95.4 31.9L94.5 33.7L93.0 35.4L90.7 36.8L89.0 37.9L87.9 38.6L87.3 39.0L87.2 38.9L87.1 38.2L86.8 36.6L86.4 34.4L85.9 31.3L86.0 28.9L86.8 27.0L88.3 25.7L90.5 25.0L92.1 24.5L93.3 24.2ZM52.7 17.1L50.6 17.3L48.7 17.0L47.2 16.2L46.0 14.9L45.1 13.1L44.9 11.3L45.5 9.5L46.8 7.7L48.9 6.0L50.7 4.8L52.1 4.3L53.2 4.3L54.0 5.0L54.6 6.2L55.1 7.9L55.5 10.1L55.6 12.8L55.3 14.8L54.3 16.3ZM35.1 17.5L37.0 19.6L38.7 21.1L40.3 22.0L41.7 22.5L43.0 22.3L44.1 22.0L45.0 21.3L45.8 20.5L46.4 19.3L46.7 18.0L46.5 16.5L46.0 14.9L45.1 13.1L44.2 11.7L43.4 10.7L42.7 10.1L42.0 10.0L40.9 10.2L39.5 10.7L37.8 11.5L35.6 12.7L34.5 14.1L34.3 15.7ZM92.6 50.8L91.3 52.8L90.8 54.8L91.1 56.7L92.2 58.7L94.1 60.6L97.6 62.3L102.7 63.9L109.3 65.2L117.6 66.3L130.3 66.9L147.4 66.9L169.0 66.3L194.9 65.1L207.5 63.1L206.6 60.2L192.2 56.5L164.4 51.9L141.8 48.7L124.3 46.8L112.1 46.1L105.1 46.8L99.5 47.8L95.4 49.1ZM4.1 56.6L2.5 56.5L1.2 56.6L0.2 56.7L-0.3 56.9L-0.5 57.2L-0.6 58.1L-0.4 59.6L-0.1 61.8L0.4 64.5L1.1 66.7L2.1 68.2L3.3 69.1L4.8 69.4L6.0 69.5L7.0 69.4L7.7 69.0L8.2 68.4L8.4 67.3L8.3 65.7L8.0 63.5L7.5 60.8L6.6 58.7L5.5 57.4ZM79.5 23.0L79.9 23.9L79.8 25.1L79.2 26.7L78.2 28.7L76.7 31.1L75.6 32.9L74.9 34.1L74.5 34.7L74.5 34.7L74.1 34.5L73.2 34.2L71.9 33.7L70.2 33.1L68.8 32.3L67.6 31.4L66.7 30.4L66.1 29.4L65.8 28.2L66.0 27.1L66.5 26.0L67.4 24.8L68.6 23.8L70.1 22.9L71.9 22.2L74.0 21.7L75.7 21.3L76.9 21.2L77.8 21.2L78.3 21.4L78.7 21.8L79.1 22.4ZM40.3 33.8L42.4 32.8L44.1 31.9L45.4 30.8L46.3 29.8L46.8 28.7L47.0 27.6L46.9 26.4L46.5 25.2L45.9 24.0L45.1 23.1L44.1 22.6L43.0 22.3L41.7 22.5L40.4 23.0L39.2 23.9L37.9 25.2L36.7 27.0L36.0 28.6L35.7 30.2L35.8 31.7L36.4 33.1L37.3 33.9L38.7 34.1ZM52.1 -3.2L52.6 -3.9L52.3 -10.7L51.0 -23.5L48.9 -42.3L45.9 -67.1L43.3 -79.6L41.3 -80.0L39.7 -68.1L38.7 -43.9L38.0 -25.6L37.8 -13.0L38.0 -6.2L38.6 -5.2L39.8 -4.4L41.6 -3.7L44.0 -3.1L46.9 -2.7L49.2 -2.5L51.0 -2.7ZM17.3 7.2L17.6 6.9L17.9 6.2L18.1 4.9L18.2 3.3L18.2 1.1L17.8 -0.8L16.9 -2.4L15.5 -3.9L13.6 -5.0L11.8 -5.7L10.0 -5.7L8.2 -5.2L6.5 -4.0L5.2 -3.1L4.3 -2.2L3.8 -1.6L3.7 -1.0L3.7 -0.4L4.0 0.3L4.4 1.0L4.9 1.9L6.0 2.8L7.7 3.7L9.9 4.8L12.6 5.9L14.8 6.7L16.3 7.1ZM77.5 7.2L77.4 6.9L76.7 6.3L75.4 5.6L73.6 4.7L71.2 3.6L69.3 3.0L67.7 2.9L66.6 3.4L65.9 4.3L65.4 5.5L65.2 6.9L65.3 8.6L65.7 10.5L66.0 11.9L66.2 12.9L66.4 13.4L66.5 13.4L67.0 13.4L67.9 13.4L69.3 13.4L71.2 13.3L72.8 13.0L74.2 12.2L75.3 11.2L76.3 9.8L76.9 8.7L77.3 7.8ZM39.3 48.9L40.3 50.4L41.5 51.6L43.0 52.5L44.7 53.1L46.7 53.4L48.3 52.9L49.4 51.6L50.1 49.4L50.5 46.4L49.9 44.1L48.5 42.5L46.3 41.5L43.3 41.2L40.9 41.3L39.3 41.9L38.4 43.0L38.1 44.4L38.2 45.9L38.6 47.4ZM89.9 16.8L91.5 19.7L92.1 22.0L91.7 23.8L90.5 25.0L88.3 25.7L86.4 26.2L84.7 26.3L83.3 26.2L82.1 25.8L81.2 25.2L80.4 24.6L79.9 23.9L79.5 23.0L79.8 21.8L80.7 20.2L82.2 18.3L84.4 16.0L86.4 15.0L88.2 15.2ZM4.4 40.3L2.0 41.5L-0.2 42.0L-2.2 42.0L-4.0 41.4L-5.5 40.2L-6.3 38.6L-6.5 36.6L-6.1 34.2L-5.0 31.4L-3.8 29.4L-2.6 28.0L-1.3 27.4L0.1 27.4L1.5 28.2L3.0 29.6L4.4 31.6L5.9 34.4L6.4 36.8L5.9 38.7ZM65.9 4.3L66.6 3.4L67.1 2.5L67.5 1.7L67.6 0.9L67.6 0.2L67.3 -0.5L66.9 -1.4L66.2 -2.4L65.3 -3.5L64.0 -4.3L62.3 -4.8L60.1 -5.1L57.4 -5.1L55.3 -4.9L53.7 -4.5L52.6 -3.9L52.1 -3.2L51.8 -2.3L51.6 -1.2L51.6 -0.0L51.8 1.3L52.1 2.5L52.6 3.5L53.2 4.3L54.0 5.0L55.2 5.5L56.8 5.8L58.8 5.9L61.2 5.9L63.2 5.6L64.7 5.1ZM67.5 79.3L68.2 79.1L69.1 78.6L70.0 77.8L71.0 76.7L72.1 75.2L72.6 73.7L72.4 72.1L71.6 70.5L70.1 68.8L68.5 67.8L66.9 67.5L65.2 67.8L63.5 68.8L62.4 70.1L62.1 71.6L62.4 73.5L63.5 75.6L64.3 77.3L65.0 78.4L65.5 79.1L65.8 79.3L66.3 79.4L66.8 79.4ZM91.9 44.9L90.1 42.9L88.7 41.3L87.8 40.2L87.3 39.6L87.3 39.3L87.9 38.8L89.0 38.0L90.7 36.8L93.0 35.4L96.3 35.0L100.7 35.8L106.2 37.7L112.8 40.6L116.0 43.0L115.7 44.9L112.1 46.1L105.1 46.8L99.4 46.8L95.0 46.2ZM30.5 15.7L29.7 16.5L29.2 17.8L29.0 19.4L29.1 21.4L29.4 23.8L30.0 25.7L30.8 27.2L31.8 28.2L33.0 28.8L34.3 28.7L35.5 28.1L36.7 27.0L37.9 25.2L38.4 23.4L38.1 21.5L37.0 19.6L35.1 17.5L33.7 16.0L32.7 14.9L32.1 14.4L31.9 14.4L31.6 14.6L31.1 15.0ZM29.1 9.9L30.1 11.7L30.9 13.1L31.5 14.0L31.9 14.4L32.1 14.4L32.8 14.1L34.0 13.6L35.6 12.7L37.8 11.5L39.2 10.1L39.9 8.4L39.8 6.4L39.1 4.2L37.9 2.8L36.4 2.2L34.6 2.3L32.3 3.2L30.5 4.0L29.2 4.8L28.4 5.5L28.1 6.2L28.1 7.2L28.4 8.4ZM25.1 71.5L26.3 73.3L27.5 74.6L28.8 75.3L30.1 75.4L31.6 75.0L32.6 74.0L33.2 72.7L33.3 70.8L32.9 68.6L32.2 66.7L31.0 65.3L29.4 64.3L27.4 63.7L25.9 63.6L24.8 64.0L24.1 65.0L23.8 66.4L23.9 68.0L24.4 69.7ZM58.0 20.8L58.6 22.9L59.3 24.5L60.3 25.8L61.6 26.6L63.0 27.1L64.3 27.1L65.5 26.7L66.5 26.0L67.4 24.8L68.0 23.3L68.2 21.5L68.0 19.5L67.4 17.1L67.0 15.3L66.6 14.0L66.5 13.4L66.4 13.4L65.8 13.6L64.6 14.1L62.9 15.0L60.6 16.1L59.0 17.4L58.2 19.0ZM51.6 41.3L52.0 40.8L52.4 40.5L52.8 40.2L53.1 40.0L53.4 39.9L54.1 39.9L55.1 40.1L56.5 40.4L58.3 40.9L59.7 41.4L60.8 41.9L61.5 42.5L61.9 43.2L62.2 44.1L62.3 45.3L62.3 46.8L62.1 48.6L61.3 50.2L59.7 51.5L57.4 52.5L54.5 53.2L52.2 53.7L50.7 54.1L49.9 54.2L49.8 54.1L49.8 53.3L49.9 51.7L50.1 49.4L50.5 46.4L50.8 44.1L51.2 42.4ZM74.0 38.3L73.7 40.8L73.6 42.8L73.7 44.5L74.1 45.8L74.6 46.7L75.3 47.4L76.2 47.8L77.3 48.1L78.6 48.2L79.9 47.7L81.4 46.7L83.0 45.1L84.8 43.1L86.1 41.4L86.9 40.3L87.3 39.6L87.3 39.3L87.3 39.2L87.3 39.0L87.3 39.0L87.2 38.9L86.4 38.7L84.8 38.1L82.4 37.3L79.3 36.3L76.9 35.5L75.3 34.9L74.5 34.7L74.5 34.7L74.4 35.3L74.3 36.5ZM-0.5 57.2L-0.3 56.9L-0.4 56.3L-0.7 55.4L-1.2 54.2L-1.9 52.8L-10.2 51.8L-25.9 51.4L-49.2 51.6L-80.0 52.2L-95.9 53.4L-97.0 55.2L-83.3 57.5L-54.8 60.3L-32.8 62.0L-17.1 62.5L-7.9 62.0L-5.0 60.2L-2.9 58.8L-1.4 57.8ZM19.9 40.3L16.9 41.2L14.4 41.7L12.4 41.6L10.8 41.1L9.8 40.1L9.6 38.7L10.3 36.8L11.8 34.5L14.2 31.7L16.3 29.8L18.2 28.9L19.7 28.7L21.0 29.5L22.0 30.6L22.8 32.0L23.4 33.7L23.8 35.8L23.4 37.6L22.0 39.1ZM86.0 66.5L84.4 64.3L83.4 62.2L83.1 60.5L83.5 59.0L84.6 57.8L85.6 56.9L86.5 56.2L87.4 55.9L88.1 55.8L89.2 56.3L90.6 57.2L92.2 58.7L94.1 60.6L95.0 62.5L94.9 64.2L93.8 65.9L91.7 67.5L89.7 68.2L87.8 67.8ZM88.2 80.6L85.9 81.1L84.0 80.8L82.3 80.0L81.0 78.5L80.0 76.4L79.9 74.7L80.6 73.3L82.2 72.2L84.7 71.5L86.7 71.5L88.4 72.2L89.7 73.8L90.6 76.0L91.3 77.8L91.7 79.0L91.8 79.7L91.7 79.8L91.1 80.0L89.9 80.3ZM-2.5 47.8L-2.2 46.0L-2.3 44.3L-2.9 42.8L-4.0 41.4L-5.5 40.2L-36.1 39.0L-95.9 37.8L-184.9 36.7L-302.9 35.6L-369.4 36.0L-384.2 37.9L-347.3 41.2L-258.8 46.0L-184.8 49.4L-125.1 51.5L-80.0 52.2L-49.2 51.6L-26.0 50.6L-10.5 49.3ZM72.7 82.6L74.8 85.1L76.7 86.5L78.4 86.8L79.8 86.1L80.9 84.3L81.5 82.5L81.5 80.5L81.0 78.5L80.0 76.4L79.1 74.8L78.4 73.7L77.8 73.0L77.4 72.8L76.9 72.7L76.3 72.6L75.7 72.7L74.9 72.8L74.1 73.3L73.1 74.1L72.1 75.2L71.0 76.7L70.8 78.4L71.3 80.4ZM33.7 48.3L31.0 49.4L28.8 49.5L27.3 48.7L26.5 46.9L26.2 44.1L26.7 41.8L28.0 40.2L30.0 39.0L32.7 38.4L34.9 38.2L36.5 38.3L37.5 38.8L38.0 39.6L38.3 40.5L38.4 41.7L38.4 43.0L38.1 44.4L37.3 45.8L35.8 47.1ZM15.5 -3.9L13.6 -5.0L12.7 -8.3L12.7 -13.5L13.7 -20.7L15.7 -29.9L17.5 -34.5L19.2 -34.3L20.6 -29.5L22.0 -20.0L22.6 -12.6L22.6 -7.4L21.8 -4.3L20.4 -3.4L18.9 -3.0L17.3 -3.2ZM24.0 6.9L21.6 6.8L19.9 6.1L18.7 4.9L18.2 3.3L18.2 1.1L18.6 -0.7L19.4 -2.2L20.4 -3.4L21.8 -4.3L23.1 -4.9L24.2 -5.2L25.2 -5.2L26.0 -4.8L26.7 -4.0L27.3 -2.7L27.8 -1.0L28.3 1.2L28.5 3.0L28.6 4.4L28.4 5.5L28.1 6.2L27.2 6.7L25.9 6.9ZM38.5 -0.8L38.9 -2.0L40.0 -2.8L41.7 -3.1L44.0 -3.1L46.9 -2.7L49.2 -2.0L50.7 -1.1L51.6 -0.0L51.8 1.3L51.4 2.8L50.5 4.3L48.9 6.0L46.8 7.7L45.1 9.0L43.7 9.8L42.7 10.1L42.0 10.0L41.3 9.3L40.6 8.1L39.8 6.4L39.1 4.2L38.6 2.3L38.4 0.6ZM6.0 18.5L6.2 19.9L7.1 21.1L8.5 22.1L10.5 23.0L13.1 23.7L15.2 23.9L16.9 23.6L18.0 22.7L18.8 21.3L19.1 19.8L18.9 18.1L18.4 16.2L17.4 14.2L16.0 13.0L14.3 12.7L12.1 13.1L9.5 14.5L7.7 15.8L6.5 17.2ZM14.2 31.7L11.8 34.5L10.0 36.5L8.8 37.9L8.2 38.6L8.1 38.6L7.7 37.9L7.0 36.5L5.9 34.4L4.4 31.6L3.6 29.2L3.4 27.1L3.8 25.4L4.9 24.0L6.4 23.1L8.3 22.8L10.5 23.0L13.1 23.7L15.1 24.4L16.5 25.1L17.3 25.8L17.5 26.5L17.1 27.7L16.0 29.5ZM33.7 48.3L31.0 49.4L28.9 50.2L27.5 50.8L26.8 51.1L26.8 51.2L26.8 51.4L26.9 51.7L27.0 52.2L27.2 52.9L27.9 53.6L29.1 54.4L31.0 55.3L33.3 56.3L35.4 56.7L37.2 56.6L38.7 55.8L39.9 54.5L40.6 53.2L40.7 51.8L40.3 50.4L39.3 48.9L37.9 48.0L36.0 47.8ZM21.0 29.5L19.7 28.7L18.7 28.0L18.0 27.3L17.5 26.5L17.3 25.8L17.3 25.0L17.6 23.9L18.0 22.7L18.8 21.3L19.8 20.2L21.3 19.3L23.1 18.7L25.3 18.3L27.0 18.7L28.3 19.7L29.1 21.4L29.4 23.8L29.2 25.8L28.5 27.4L27.3 28.6L25.5 29.4L23.9 29.9L22.4 29.9ZM45.4 76.4L46.1 73.3L46.5 70.9L46.6 69.1L46.4 67.9L45.9 67.3L45.5 66.8L45.0 66.5L44.6 66.3L44.3 66.3L43.4 66.8L42.2 67.9L40.5 69.4L38.3 71.5L37.2 73.5L37.0 75.5L37.8 77.5L39.6 79.4L41.0 80.8L42.2 81.6L43.1 81.8L43.6 81.5L44.2 80.4L44.8 78.7ZM15.0 68.9L15.8 70.0L16.3 71.1L16.6 72.1L16.6 73.0L16.4 73.8L15.8 74.6L14.7 75.2L13.2 75.7L11.4 76.0L9.9 75.9L8.8 75.2L8.0 74.1L7.6 72.4L7.4 71.0L7.5 69.9L7.7 69.0L8.2 68.4L8.8 68.0L9.7 67.7L10.7 67.5L12.0 67.4L13.1 67.6L14.2 68.1ZM74.0 21.7L71.9 22.2L70.2 22.0L68.9 21.1L68.0 19.5L67.4 17.1L67.4 15.3L68.1 14.0L69.3 13.4L71.2 13.3L72.8 13.8L74.1 14.7L75.1 16.1L75.9 18.0L76.0 19.6L75.3 20.8ZM279.6 -8.5L404.2 -14.4L467.5 -16.3L469.5 -14.2L410.1 -8.1L289.4 1.9L197.8 8.9L135.3 12.9L102.0 13.8L97.7 11.8L94.6 9.7L92.6 7.6L91.8 5.5L92.2 3.4L123.6 0.4L186.1 -3.6ZM58.8 69.7L59.6 69.9L60.7 69.8L62.0 69.5L63.5 68.8L65.2 67.8L66.6 67.0L67.5 66.3L67.9 65.9L68.0 65.6L67.7 65.0L67.1 64.2L66.2 63.1L65.0 61.7L63.7 60.8L62.4 60.5L60.9 60.7L59.4 61.3L58.3 62.3L57.6 63.5L57.3 65.0L57.4 66.8L57.6 68.1L58.1 69.1ZM52.9 58.8L54.6 60.2L56.2 61.1L57.8 61.5L59.4 61.3L60.9 60.7L62.1 59.8L63.0 58.7L63.6 57.5L63.9 56.0L63.9 54.8L63.8 53.7L63.4 52.9L62.8 52.3L61.6 52.0L59.8 52.1L57.4 52.5L54.5 53.2L52.2 53.9L50.8 54.6L50.1 55.2L50.2 55.8L50.7 56.6L51.6 57.6ZM82.1 25.8L83.3 26.2L84.3 27.2L85.2 29.0L85.9 31.3L86.4 34.4L86.0 36.4L84.7 37.4L82.4 37.3L79.3 36.3L77.3 34.9L76.4 33.1L76.7 31.1L78.2 28.7L79.6 27.0L80.9 26.0ZM16.6 73.0L16.4 73.8L16.5 74.8L16.8 75.7L17.5 76.8L18.5 77.8L19.6 78.7L20.8 79.3L22.1 79.6L23.5 79.7L24.7 79.5L25.7 79.1L26.5 78.4L27.1 77.5L27.2 76.4L27.0 75.0L26.3 73.3L25.1 71.5L23.9 70.2L22.5 69.7L21.0 69.8L19.4 70.6L18.1 71.3L17.2 72.2ZM58.0 20.8L58.6 22.9L58.8 24.5L58.7 25.9L58.2 26.8L57.4 27.4L56.3 27.8L54.8 27.9L52.9 27.8L50.8 27.5L49.0 27.0L47.6 26.2L46.5 25.2L45.9 24.0L45.5 22.8L45.5 21.6L45.8 20.5L46.4 19.3L47.4 18.4L48.8 17.7L50.6 17.3L52.7 17.1L54.4 17.0L55.6 17.0L56.4 17.2L56.7 17.4L57.1 18.1L57.5 19.2ZM13.7 57.1L15.1 58.8L16.0 60.5L16.3 62.0L16.0 63.6L15.2 65.0L14.2 66.2L13.2 66.9L12.0 67.4L10.7 67.5L9.6 66.9L8.7 65.5L8.0 63.5L7.5 60.8L7.3 58.6L7.7 57.0L8.5 55.9L9.7 55.4L11.0 55.4L12.3 56.0ZM13.3 47.5L12.9 45.5L13.4 43.9L14.7 42.4L16.9 41.2L19.9 40.3L22.2 39.6L23.9 39.3L24.9 39.3L25.3 39.5L25.7 40.4L26.0 41.9L26.2 44.1L26.5 46.9L26.6 49.0L26.8 50.4L26.8 51.1L26.8 51.2L26.0 51.1L24.3 51.1L21.9 50.9L18.7 50.7L16.1 50.1L14.3 49.0ZM88.4 70.2L88.4 70.1L88.1 69.5L87.2 68.3L86.0 66.5L84.4 64.3L83.0 62.6L81.8 61.5L81.0 61.1L80.4 61.3L79.7 62.1L79.1 63.6L78.5 65.7L77.8 68.4L77.4 70.5L77.3 72.0L77.4 72.8L77.8 73.0L78.8 73.0L80.2 72.7L82.2 72.2L84.7 71.5L86.5 70.9L87.8 70.5ZM48.0 80.8L50.3 80.6L52.2 79.9L53.5 78.7L54.3 76.9L54.6 74.4L54.3 72.5L53.5 71.1L52.1 70.1L50.1 69.6L48.4 69.9L47.1 71.2L46.1 73.3L45.4 76.4L45.5 78.6L46.4 80.1ZM0.8 81.8L-0.7 83.5L-2.1 84.2L-3.5 84.0L-4.9 82.9L-6.2 80.8L-7.0 78.9L-7.3 77.2L-7.1 75.7L-6.3 74.5L-5.6 73.5L-5.0 72.8L-4.4 72.5L-3.9 72.5L-3.1 72.9L-2.1 73.7L-0.8 75.0L0.7 76.7L1.5 78.4L1.5 80.1ZM38.0 39.6L37.5 38.8L37.2 38.0L37.0 37.3L37.0 36.7L37.1 36.1L37.7 35.4L38.8 34.6L40.3 33.8L42.4 32.8L44.4 32.7L46.3 33.3L48.2 34.7L50.0 36.9L51.2 38.6L51.9 40.0L52.0 40.8L51.6 41.3L50.5 41.5L48.7 41.6L46.3 41.5L43.3 41.2L40.8 40.8L39.1 40.2ZM4.5 10.4L5.0 7.5L6.1 5.6L7.7 4.7L9.9 4.8L12.6 5.9L14.6 7.0L15.9 8.0L16.4 8.9L16.2 9.8L15.4 10.8L14.1 11.9L12.1 13.1L9.5 14.5L7.5 15.4L6.0 15.8L5.0 15.8L4.5 15.4L4.2 14.3L4.2 12.6ZM60.6 16.1L62.9 15.0L64.5 13.7L65.4 12.2L65.7 10.5L65.3 8.6L64.5 7.2L63.1 6.3L61.2 5.9L58.8 5.9L57.0 6.6L55.9 8.0L55.5 10.1L55.6 12.8L55.9 14.8L56.1 16.3L56.4 17.2L56.7 17.4L57.5 17.3L58.8 16.8ZM74.0 38.3L73.7 40.8L72.8 42.6L71.3 43.8L69.2 44.3L66.5 44.2L64.4 44.0L62.9 43.7L61.9 43.2L61.5 42.5L61.6 41.5L62.3 40.0L63.4 38.0L65.1 35.6L66.8 34.0L68.5 33.2L70.2 33.1L71.9 33.7L73.1 34.8L73.8 36.3ZM83.9 10.6L81.4 9.5L79.3 9.0L77.6 9.1L76.3 9.8L75.3 11.2L74.8 12.7L74.8 14.3L75.1 16.1L75.9 18.0L76.6 19.5L77.2 20.5L77.8 21.2L78.3 21.4L79.2 21.0L80.5 20.0L82.2 18.3L84.4 16.0L86.0 14.2L87.1 13.0L87.6 12.4L87.6 12.4L87.0 12.1L85.8 11.5ZM73.4 57.3L72.8 55.9L71.9 54.8L70.7 54.1L69.1 53.7L67.2 53.8L65.7 54.2L64.6 54.9L63.9 56.0L63.6 57.5L63.7 58.9L64.2 60.3L65.0 61.7L66.2 63.1L67.5 63.7L68.9 63.7L70.4 63.0L71.9 61.6L73.0 60.2L73.5 58.7ZM5.7 78.9L4.6 79.1L3.4 78.8L2.1 78.0L0.7 76.7L-0.8 75.0L-1.7 73.5L-2.0 72.2L-1.6 71.0L-0.5 70.1L0.7 69.5L2.0 69.2L3.3 69.1L4.8 69.4L6.0 70.1L7.0 71.1L7.6 72.4L8.0 74.1L8.2 75.5L8.2 76.6L8.1 77.4L7.8 77.9L7.3 78.3L6.6 78.7ZM34.6 74.5L34.3 74.4L34.0 73.7L33.6 72.6L33.3 70.8L32.9 68.6L33.0 66.7L33.4 65.2L34.2 64.0L35.3 63.2L36.6 62.9L38.0 63.1L39.6 63.7L41.2 64.7L41.9 66.0L41.7 67.6L40.5 69.4L38.3 71.5L36.7 73.0L35.4 74.0ZM28.3 1.2L27.8 -1.0L28.1 -2.8L29.2 -4.4L30.9 -5.6L33.4 -6.4L35.4 -6.8L36.9 -6.8L38.0 -6.2L38.6 -5.2L39.0 -4.2L39.1 -3.1L38.9 -2.0L38.5 -0.8L37.7 0.3L36.3 1.3L34.6 2.3L32.3 3.2L30.5 3.3L29.2 2.6ZM54.7 35.4L55.3 32.6L55.2 30.3L54.4 28.8L52.9 27.8L50.8 27.5L49.0 27.6L47.7 28.0L46.8 28.7L46.3 29.8L46.3 31.2L47.0 32.8L48.2 34.7L50.0 36.9L51.4 38.5L52.5 39.5L53.1 40.0L53.4 39.9L53.8 39.1L54.2 37.6ZM20.0 61.9L21.8 62.2L23.1 62.5L24.0 62.7L24.5 62.8L24.5 62.8L24.4 63.2L24.3 63.9L24.1 65.0L23.8 66.4L23.2 67.7L22.3 68.8L21.0 69.8L19.4 70.6L18.0 70.9L16.8 70.7L15.8 70.0L15.0 68.9L14.7 67.7L14.7 66.4L15.2 65.0L16.0 63.6L17.1 62.5L18.4 62.0ZM25.6 59.4L26.3 57.2L27.5 55.8L29.0 55.1L31.0 55.3L33.3 56.3L35.1 57.3L36.3 58.3L36.9 59.4L37.0 60.5L36.7 61.5L36.2 62.4L35.3 63.2L34.2 64.0L32.8 64.5L31.2 64.6L29.4 64.3L27.4 63.7L26.0 63.2L25.0 62.9L24.5 62.8L24.5 62.8L24.6 62.2L25.0 61.1ZM56.0 70.3L56.6 69.9L57.2 69.7L58.0 69.6L58.8 69.7L59.6 69.9L60.5 70.6L61.4 71.8L62.4 73.5L63.5 75.6L63.5 77.3L62.7 78.6L60.9 79.5L58.2 79.9L56.1 80.2L54.7 80.5L54.0 80.5L53.9 80.5L54.0 79.9L54.1 78.7L54.3 76.9L54.6 74.4L55.0 72.5L55.4 71.2ZM92.6 50.8L91.3 52.8L90.1 54.3L89.1 55.3L88.1 55.8L87.4 55.9L86.4 55.4L85.3 54.5L84.0 53.1L82.6 51.2L81.9 49.2L82.1 47.2L83.0 45.1L84.8 43.1L86.5 42.0L88.3 41.9L90.1 42.9L91.9 44.9L92.9 46.8L93.2 48.8ZM1.3 14.4L-0.3 14.2L-1.7 13.5L-2.9 12.2L-3.9 10.5L-4.7 8.2L-4.7 6.2L-3.9 4.5L-2.4 3.0L-0.0 1.7L1.9 0.9L3.4 0.7L4.4 1.0L4.9 1.9L5.2 3.2L5.2 5.1L5.0 7.5L4.5 10.4L3.7 12.5L2.6 13.8Z" fill="#d8dbd9" stroke="#e8e9e9" stroke-width="2.6"/>
<path d="M24.0 6.9L21.6 6.8L19.8 6.7L18.4 6.7L17.6 6.9L17.3 7.2L17.0 7.6L16.7 8.2L16.4 8.9L16.2 9.8L16.3 11.0L16.7 12.4L17.4 14.2L18.4 16.2L19.7 17.6L21.2 18.5L23.1 18.7L25.3 18.3L27.1 17.9L28.6 17.3L29.7 16.5L30.5 15.7L30.8 14.6L30.7 13.3L30.1 11.7L29.1 9.9L27.7 8.5L26.0 7.5ZM47.1 62.7L48.4 60.3L49.8 58.8L51.3 58.3L52.9 58.8L54.6 60.2L55.9 61.7L56.8 63.3L57.3 65.0L57.4 66.8L57.3 68.2L57.0 69.2L56.6 69.9L56.0 70.3L55.0 70.4L53.7 70.4L52.1 70.1L50.1 69.6L48.5 69.0L47.2 68.5L46.4 67.9L45.9 67.3L45.9 66.2L46.3 64.7ZM106.2 75.2L115.7 72.3L120.8 69.9L121.4 67.9L117.6 66.3L109.3 65.2L102.6 64.7L97.4 65.0L93.8 65.9L91.7 67.5L90.1 68.8L89.0 69.6L88.4 70.1L88.4 70.2L88.6 70.8L89.0 72.0L89.7 73.8L90.6 76.0L93.7 77.0L98.9 76.7ZM89.0 10.9L89.9 10.0L91.7 9.9L94.2 10.4L97.7 11.8L102.0 13.8L104.3 15.8L104.6 17.8L103.0 19.6L99.5 21.5L96.8 22.8L95.0 23.7L94.0 24.1L93.9 24.1L93.4 23.3L92.6 21.8L91.5 19.7L89.9 16.8L88.8 14.6L88.0 13.2L87.6 12.4L87.6 12.4L87.9 12.1L88.3 11.6ZM75.1 -15.1L73.9 -21.1L72.5 -24.1L70.9 -24.0L69.1 -20.8L67.1 -14.5L65.8 -9.5L65.2 -5.8L65.3 -3.5L66.2 -2.4L67.4 -1.9L69.0 -2.0L71.0 -2.8L73.3 -4.1L74.8 -6.6L75.3 -10.3ZM9.3 82.5L10.5 85.0L12.0 86.3L13.6 86.4L15.3 85.3L17.2 83.0L18.3 81.0L18.8 79.2L18.5 77.8L17.5 76.8L16.3 76.0L14.9 75.7L13.2 75.7L11.4 76.0L9.9 76.4L8.8 76.9L8.1 77.4L7.8 77.9L7.9 78.9L8.4 80.4ZM1.3 14.4L-0.3 14.2L-2.0 14.5L-3.8 15.3L-5.6 16.7L-7.6 18.6L-8.6 20.4L-8.6 22.0L-7.8 23.6L-6.0 25.1L-4.3 26.2L-2.7 27.0L-1.3 27.4L0.1 27.4L1.4 27.1L2.7 26.4L3.8 25.4L4.9 24.0L5.7 22.6L6.1 21.2L6.2 19.9L6.0 18.5L5.7 17.4L5.4 16.5L5.0 15.8L4.5 15.4L3.7 15.0L2.6 14.7ZM12.4 53.0L13.0 52.0L14.2 51.2L16.1 50.8L18.7 50.7L21.9 50.9L24.4 51.2L26.1 51.7L27.0 52.2L27.2 52.9L27.1 53.9L26.8 55.3L26.3 57.2L25.6 59.4L24.6 61.0L23.3 61.9L21.8 62.2L20.0 61.9L18.3 61.2L16.7 60.2L15.1 58.8L13.7 57.1L12.8 55.6L12.3 54.3ZM89.0 10.9L89.9 10.0L90.7 8.8L91.3 7.3L91.8 5.5L92.2 3.4L92.3 1.6L92.1 0.1L91.6 -1.2L90.9 -2.1L89.8 -2.7L88.5 -3.1L86.8 -3.1L84.8 -2.9L83.0 -2.1L81.5 -0.9L80.1 0.8L78.9 3.0L78.1 4.8L77.6 6.1L77.4 6.9L77.5 7.2L78.2 7.8L79.5 8.5L81.4 9.5L83.9 10.6L86.0 11.2L87.7 11.3ZM66.5 44.2L69.2 44.3L71.4 44.6L73.0 45.1L74.1 45.8L74.6 46.7L74.8 47.7L74.7 48.9L74.1 50.1L73.3 51.6L72.1 52.6L70.7 53.4L69.1 53.7L67.2 53.8L65.6 53.6L64.3 53.4L63.4 52.9L62.8 52.3L62.4 51.4L62.1 50.2L62.1 48.6L62.3 46.8L63.1 45.5L64.5 44.6ZM12.4 53.0L13.0 52.0L13.3 50.7L13.4 49.2L13.3 47.5L12.9 45.5L12.4 43.8L11.7 42.4L10.8 41.1L9.8 40.1L9.0 39.3L8.5 38.8L8.2 38.6L8.1 38.6L7.5 38.8L6.3 39.4L4.4 40.3L2.0 41.5L0.1 42.8L-1.3 44.3L-2.2 46.0L-2.5 47.8L-2.6 49.5L-2.4 51.2L-1.9 52.8L-1.2 54.2L-0.2 55.3L1.0 56.1L2.5 56.5L4.1 56.6L5.7 56.5L7.1 56.3L8.5 55.9L9.7 55.4L10.8 54.8L11.7 54.0ZM-3.9 72.5L-4.4 72.5L-5.2 72.0L-6.3 71.0L-7.8 69.5L-9.5 67.5L-10.1 65.6L-9.5 63.8L-7.9 62.0L-5.0 60.2L-2.8 59.6L-1.2 60.1L-0.1 61.8L0.4 64.5L0.5 66.9L0.2 68.7L-0.5 70.1L-1.6 71.0L-2.5 71.7L-3.3 72.2ZM39.5 91.7L37.6 98.0L35.6 100.9L33.6 100.6L31.4 97.0L29.1 90.1L27.5 84.7L26.6 80.8L26.5 78.4L27.1 77.5L27.9 76.7L28.9 76.0L30.1 75.4L31.6 75.0L32.8 74.6L33.7 74.4L34.3 74.4L34.6 74.5L35.3 75.0L36.4 76.0L37.8 77.5L39.6 79.4L40.4 82.5L40.4 86.5ZM32.7 38.4L30.0 39.0L27.8 39.4L26.3 39.6L25.3 39.5L24.9 39.3L24.6 38.6L24.2 37.4L23.8 35.8L23.4 33.7L23.6 32.0L24.3 30.6L25.5 29.4L27.3 28.6L28.9 28.1L30.4 28.0L31.8 28.2L33.0 28.8L34.1 29.5L35.0 30.5L35.8 31.7L36.4 33.1L36.8 34.3L37.0 35.3L37.1 36.1L37.0 36.7L36.2 37.3L34.8 37.8ZM41.2 64.7L39.6 63.7L38.3 62.6L37.4 61.5L37.0 60.5L36.9 59.4L37.2 58.3L37.8 57.1L38.7 55.8L39.9 54.5L41.3 53.7L42.9 53.2L44.7 53.1L46.7 53.4L48.2 53.7L49.2 53.9L49.8 54.1L49.9 54.2L50.0 54.4L50.0 54.7L50.1 55.2L50.2 55.8L49.9 56.8L49.3 58.3L48.4 60.3L47.1 62.7L46.1 64.5L45.2 65.7L44.6 66.3L44.3 66.3L43.6 66.0L42.6 65.5ZM79.9 -3.8L78.7 -4.7L77.1 -5.1L75.4 -4.9L73.3 -4.1L71.0 -2.8L69.3 -1.6L68.1 -0.6L67.6 0.2L67.6 0.9L68.2 1.7L69.4 2.6L71.2 3.6L73.6 4.7L75.7 5.0L77.5 4.4L78.9 3.0L80.1 0.8L80.7 -1.1L80.6 -2.6ZM74.9 72.8L75.7 72.7L76.4 71.9L77.1 70.5L77.8 68.4L78.5 65.7L78.6 63.5L78.3 61.9L77.5 60.8L76.2 60.3L74.9 60.2L73.4 60.7L71.9 61.6L70.4 63.0L69.2 64.1L68.4 65.0L68.0 65.6L67.9 65.9L68.3 66.5L69.0 67.5L70.1 68.8L71.6 70.5L72.9 71.7L74.0 72.5ZM73.4 57.3L72.8 55.9L72.6 54.4L72.8 53.0L73.3 51.6L74.1 50.1L75.1 49.1L76.2 48.4L77.3 48.1L78.6 48.2L79.8 48.7L81.2 49.7L82.6 51.2L84.0 53.1L84.8 54.8L85.0 56.4L84.6 57.8L83.5 59.0L82.5 60.0L81.7 60.7L81.0 61.1L80.4 61.3L79.6 61.3L78.6 61.1L77.5 60.8L76.2 60.3L75.1 59.5L74.2 58.5ZM63.0 27.1L61.6 26.6L60.3 26.4L59.2 26.5L58.2 26.8L57.4 27.4L56.6 28.5L56.0 30.3L55.3 32.6L54.7 35.4L54.7 37.7L55.3 39.3L56.5 40.4L58.3 40.9L60.0 40.6L61.7 39.7L63.4 38.0L65.1 35.6L66.2 33.6L66.8 31.9L66.7 30.4L66.1 29.4L65.2 28.4L64.2 27.7ZM93.9 24.1L94.0 24.1L94.2 24.7L94.5 25.8L95.0 27.5L95.5 29.8L95.4 31.9L94.5 33.7L93.0 35.4L90.7 36.8L89.0 37.9L87.9 38.6L87.3 39.0L87.2 38.9L87.1 38.2L86.8 36.6L86.4 34.4L85.9 31.3L86.0 28.9L86.8 27.0L88.3 25.7L90.5 25.0L92.1 24.5L93.3 24.2ZM52.7 17.1L50.6 17.3L48.7 17.0L47.2 16.2L46.0 14.9L45.1 13.1L44.9 11.3L45.5 9.5L46.8 7.7L48.9 6.0L50.7 4.8L52.1 4.3L53.2 4.3L54.0 5.0L54.6 6.2L55.1 7.9L55.5 10.1L55.6 12.8L55.3 14.8L54.3 16.3ZM35.1 17.5L37.0 19.6L38.7 21.1L40.3 22.0L41.7 22.5L43.0 22.3L44.1 22.0L45.0 21.3L45.8 20.5L46.4 19.3L46.7 18.0L46.5 16.5L46.0 14.9L45.1 13.1L44.2 11.7L43.4 10.7L42.7 10.1L42.0 10.0L40.9 10.2L39.5 10.7L37.8 11.5L35.6 12.7L34.5 14.1L34.3 15.7ZM92.6 50.8L91.3 52.8L90.8 54.8L91.1 56.7L92.2 58.7L94.1 60.6L97.6 62.3L102.7 63.9L109.3 65.2L117.6 66.3L130.3 66.9L147.4 66.9L169.0 66.3L194.9 65.1L207.5 63.1L206.6 60.2L192.2 56.5L164.4 51.9L141.8 48.7L124.3 46.8L112.1 46.1L105.1 46.8L99.5 47.8L95.4 49.1ZM4.1 56.6L2.5 56.5L1.2 56.6L0.2 56.7L-0.3 56.9L-0.5 57.2L-0.6 58.1L-0.4 59.6L-0.1 61.8L0.4 64.5L1.1 66.7L2.1 68.2L3.3 69.1L4.8 69.4L6.0 69.5L7.0 69.4L7.7 69.0L8.2 68.4L8.4 67.3L8.3 65.7L8.0 63.5L7.5 60.8L6.6 58.7L5.5 57.4ZM79.5 23.0L79.9 23.9L79.8 25.1L79.2 26.7L78.2 28.7L76.7 31.1L75.6 32.9L74.9 34.1L74.5 34.7L74.5 34.7L74.1 34.5L73.2 34.2L71.9 33.7L70.2 33.1L68.8 32.3L67.6 31.4L66.7 30.4L66.1 29.4L65.8 28.2L66.0 27.1L66.5 26.0L67.4 24.8L68.6 23.8L70.1 22.9L71.9 22.2L74.0 21.7L75.7 21.3L76.9 21.2L77.8 21.2L78.3 21.4L78.7 21.8L79.1 22.4ZM40.3 33.8L42.4 32.8L44.1 31.9L45.4 30.8L46.3 29.8L46.8 28.7L47.0 27.6L46.9 26.4L46.5 25.2L45.9 24.0L45.1 23.1L44.1 22.6L43.0 22.3L41.7 22.5L40.4 23.0L39.2 23.9L37.9 25.2L36.7 27.0L36.0 28.6L35.7 30.2L35.8 31.7L36.4 33.1L37.3 33.9L38.7 34.1ZM52.1 -3.2L52.6 -3.9L52.3 -10.7L51.0 -23.5L48.9 -42.3L45.9 -67.1L43.3 -79.6L41.3 -80.0L39.7 -68.1L38.7 -43.9L38.0 -25.6L37.8 -13.0L38.0 -6.2L38.6 -5.2L39.8 -4.4L41.6 -3.7L44.0 -3.1L46.9 -2.7L49.2 -2.5L51.0 -2.7ZM17.3 7.2L17.6 6.9L17.9 6.2L18.1 4.9L18.2 3.3L18.2 1.1L17.8 -0.8L16.9 -2.4L15.5 -3.9L13.6 -5.0L11.8 -5.7L10.0 -5.7L8.2 -5.2L6.5 -4.0L5.2 -3.1L4.3 -2.2L3.8 -1.6L3.7 -1.0L3.7 -0.4L4.0 0.3L4.4 1.0L4.9 1.9L6.0 2.8L7.7 3.7L9.9 4.8L12.6 5.9L14.8 6.7L16.3 7.1ZM77.5 7.2L77.4 6.9L76.7 6.3L75.4 5.6L73.6 4.7L71.2 3.6L69.3 3.0L67.7 2.9L66.6 3.4L65.9 4.3L65.4 5.5L65.2 6.9L65.3 8.6L65.7 10.5L66.0 11.9L66.2 12.9L66.4 13.4L66.5 13.4L67.0 13.4L67.9 13.4L69.3 13.4L71.2 13.3L72.8 13.0L74.2 12.2L75.3 11.2L76.3 9.8L76.9 8.7L77.3 7.8ZM39.3 48.9L40.3 50.4L41.5 51.6L43.0 52.5L44.7 53.1L46.7 53.4L48.3 52.9L49.4 51.6L50.1 49.4L50.5 46.4L49.9 44.1L48.5 42.5L46.3 41.5L43.3 41.2L40.9 41.3L39.3 41.9L38.4 43.0L38.1 44.4L38.2 45.9L38.6 47.4ZM89.9 16.8L91.5 19.7L92.1 22.0L91.7 23.8L90.5 25.0L88.3 25.7L86.4 26.2L84.7 26.3L83.3 26.2L82.1 25.8L81.2 25.2L80.4 24.6L79.9 23.9L79.5 23.0L79.8 21.8L80.7 20.2L82.2 18.3L84.4 16.0L86.4 15.0L88.2 15.2ZM4.4 40.3L2.0 41.5L-0.2 42.0L-2.2 42.0L-4.0 41.4L-5.5 40.2L-6.3 38.6L-6.5 36.6L-6.1 34.2L-5.0 31.4L-3.8 29.4L-2.6 28.0L-1.3 27.4L0.1 27.4L1.5 28.2L3.0 29.6L4.4 31.6L5.9 34.4L6.4 36.8L5.9 38.7ZM65.9 4.3L66.6 3.4L67.1 2.5L67.5 1.7L67.6 0.9L67.6 0.2L67.3 -0.5L66.9 -1.4L66.2 -2.4L65.3 -3.5L64.0 -4.3L62.3 -4.8L60.1 -5.1L57.4 -5.1L55.3 -4.9L53.7 -4.5L52.6 -3.9L52.1 -3.2L51.8 -2.3L51.6 -1.2L51.6 -0.0L51.8 1.3L52.1 2.5L52.6 3.5L53.2 4.3L54.0 5.0L55.2 5.5L56.8 5.8L58.8 5.9L61.2 5.9L63.2 5.6L64.7 5.1ZM67.5 79.3L68.2 79.1L69.1 78.6L70.0 77.8L71.0 76.7L72.1 75.2L72.6 73.7L72.4 72.1L71.6 70.5L70.1 68.8L68.5 67.8L66.9 67.5L65.2 67.8L63.5 68.8L62.4 70.1L62.1 71.6L62.4 73.5L63.5 75.6L64.3 77.3L65.0 78.4L65.5 79.1L65.8 79.3L66.3 79.4L66.8 79.4ZM91.9 44.9L90.1 42.9L88.7 41.3L87.8 40.2L87.3 39.6L87.3 39.3L87.9 38.8L89.0 38.0L90.7 36.8L93.0 35.4L96.3 35.0L100.7 35.8L106.2 37.7L112.8 40.6L116.0 43.0L115.7 44.9L112.1 46.1L105.1 46.8L99.4 46.8L95.0 46.2ZM30.5 15.7L29.7 16.5L29.2 17.8L29.0 19.4L29.1 21.4L29.4 23.8L30.0 25.7L30.8 27.2L31.8 28.2L33.0 28.8L34.3 28.7L35.5 28.1L36.7 27.0L37.9 25.2L38.4 23.4L38.1 21.5L37.0 19.6L35.1 17.5L33.7 16.0L32.7 14.9L32.1 14.4L31.9 14.4L31.6 14.6L31.1 15.0ZM29.1 9.9L30.1 11.7L30.9 13.1L31.5 14.0L31.9 14.4L32.1 14.4L32.8 14.1L34.0 13.6L35.6 12.7L37.8 11.5L39.2 10.1L39.9 8.4L39.8 6.4L39.1 4.2L37.9 2.8L36.4 2.2L34.6 2.3L32.3 3.2L30.5 4.0L29.2 4.8L28.4 5.5L28.1 6.2L28.1 7.2L28.4 8.4ZM25.1 71.5L26.3 73.3L27.5 74.6L28.8 75.3L30.1 75.4L31.6 75.0L32.6 74.0L33.2 72.7L33.3 70.8L32.9 68.6L32.2 66.7L31.0 65.3L29.4 64.3L27.4 63.7L25.9 63.6L24.8 64.0L24.1 65.0L23.8 66.4L23.9 68.0L24.4 69.7ZM58.0 20.8L58.6 22.9L59.3 24.5L60.3 25.8L61.6 26.6L63.0 27.1L64.3 27.1L65.5 26.7L66.5 26.0L67.4 24.8L68.0 23.3L68.2 21.5L68.0 19.5L67.4 17.1L67.0 15.3L66.6 14.0L66.5 13.4L66.4 13.4L65.8 13.6L64.6 14.1L62.9 15.0L60.6 16.1L59.0 17.4L58.2 19.0ZM51.6 41.3L52.0 40.8L52.4 40.5L52.8 40.2L53.1 40.0L53.4 39.9L54.1 39.9L55.1 40.1L56.5 40.4L58.3 40.9L59.7 41.4L60.8 41.9L61.5 42.5L61.9 43.2L62.2 44.1L62.3 45.3L62.3 46.8L62.1 48.6L61.3 50.2L59.7 51.5L57.4 52.5L54.5 53.2L52.2 53.7L50.7 54.1L49.9 54.2L49.8 54.1L49.8 53.3L49.9 51.7L50.1 49.4L50.5 46.4L50.8 44.1L51.2 42.4ZM74.0 38.3L73.7 40.8L73.6 42.8L73.7 44.5L74.1 45.8L74.6 46.7L75.3 47.4L76.2 47.8L77.3 48.1L78.6 48.2L79.9 47.7L81.4 46.7L83.0 45.1L84.8 43.1L86.1 41.4L86.9 40.3L87.3 39.6L87.3 39.3L87.3 39.2L87.3 39.0L87.3 39.0L87.2 38.9L86.4 38.7L84.8 38.1L82.4 37.3L79.3 36.3L76.9 35.5L75.3 34.9L74.5 34.7L74.5 34.7L74.4 35.3L74.3 36.5ZM-0.5 57.2L-0.3 56.9L-0.4 56.3L-0.7 55.4L-1.2 54.2L-1.9 52.8L-10.2 51.8L-25.9 51.4L-49.2 51.6L-80.0 52.2L-95.9 53.4L-97.0 55.2L-83.3 57.5L-54.8 60.3L-32.8 62.0L-17.1 62.5L-7.9 62.0L-5.0 60.2L-2.9 58.8L-1.4 57.8ZM19.9 40.3L16.9 41.2L14.4 41.7L12.4 41.6L10.8 41.1L9.8 40.1L9.6 38.7L10.3 36.8L11.8 34.5L14.2 31.7L16.3 29.8L18.2 28.9L19.7 28.7L21.0 29.5L22.0 30.6L22.8 32.0L23.4 33.7L23.8 35.8L23.4 37.6L22.0 39.1ZM86.0 66.5L84.4 64.3L83.4 62.2L83.1 60.5L83.5 59.0L84.6 57.8L85.6 56.9L86.5 56.2L87.4 55.9L88.1 55.8L89.2 56.3L90.6 57.2L92.2 58.7L94.1 60.6L95.0 62.5L94.9 64.2L93.8 65.9L91.7 67.5L89.7 68.2L87.8 67.8ZM88.2 80.6L85.9 81.1L84.0 80.8L82.3 80.0L81.0 78.5L80.0 76.4L79.9 74.7L80.6 73.3L82.2 72.2L84.7 71.5L86.7 71.5L88.4 72.2L89.7 73.8L90.6 76.0L91.3 77.8L91.7 79.0L91.8 79.7L91.7 79.8L91.1 80.0L89.9 80.3ZM-2.5 47.8L-2.2 46.0L-2.3 44.3L-2.9 42.8L-4.0 41.4L-5.5 40.2L-36.1 39.0L-95.9 37.8L-184.9 36.7L-302.9 35.6L-369.4 36.0L-384.2 37.9L-347.3 41.2L-258.8 46.0L-184.8 49.4L-125.1 51.5L-80.0 52.2L-49.2 51.6L-26.0 50.6L-10.5 49.3ZM72.7 82.6L74.8 85.1L76.7 86.5L78.4 86.8L79.8 86.1L80.9 84.3L81.5 82.5L81.5 80.5L81.0 78.5L80.0 76.4L79.1 74.8L78.4 73.7L77.8 73.0L77.4 72.8L76.9 72.7L76.3 72.6L75.7 72.7L74.9 72.8L74.1 73.3L73.1 74.1L72.1 75.2L71.0 76.7L70.8 78.4L71.3 80.4ZM33.7 48.3L31.0 49.4L28.8 49.5L27.3 48.7L26.5 46.9L26.2 44.1L26.7 41.8L28.0 40.2L30.0 39.0L32.7 38.4L34.9 38.2L36.5 38.3L37.5 38.8L38.0 39.6L38.3 40.5L38.4 41.7L38.4 43.0L38.1 44.4L37.3 45.8L35.8 47.1ZM15.5 -3.9L13.6 -5.0L12.7 -8.3L12.7 -13.5L13.7 -20.7L15.7 -29.9L17.5 -34.5L19.2 -34.3L20.6 -29.5L22.0 -20.0L22.6 -12.6L22.6 -7.4L21.8 -4.3L20.4 -3.4L18.9 -3.0L17.3 -3.2ZM24.0 6.9L21.6 6.8L19.9 6.1L18.7 4.9L18.2 3.3L18.2 1.1L18.6 -0.7L19.4 -2.2L20.4 -3.4L21.8 -4.3L23.1 -4.9L24.2 -5.2L25.2 -5.2L26.0 -4.8L26.7 -4.0L27.3 -2.7L27.8 -1.0L28.3 1.2L28.5 3.0L28.6 4.4L28.4 5.5L28.1 6.2L27.2 6.7L25.9 6.9ZM38.5 -0.8L38.9 -2.0L40.0 -2.8L41.7 -3.1L44.0 -3.1L46.9 -2.7L49.2 -2.0L50.7 -1.1L51.6 -0.0L51.8 1.3L51.4 2.8L50.5 4.3L48.9 6.0L46.8 7.7L45.1 9.0L43.7 9.8L42.7 10.1L42.0 10.0L41.3 9.3L40.6 8.1L39.8 6.4L39.1 4.2L38.6 2.3L38.4 0.6ZM6.0 18.5L6.2 19.9L7.1 21.1L8.5 22.1L10.5 23.0L13.1 23.7L15.2 23.9L16.9 23.6L18.0 22.7L18.8 21.3L19.1 19.8L18.9 18.1L18.4 16.2L17.4 14.2L16.0 13.0L14.3 12.7L12.1 13.1L9.5 14.5L7.7 15.8L6.5 17.2ZM14.2 31.7L11.8 34.5L10.0 36.5L8.8 37.9L8.2 38.6L8.1 38.6L7.7 37.9L7.0 36.5L5.9 34.4L4.4 31.6L3.6 29.2L3.4 27.1L3.8 25.4L4.9 24.0L6.4 23.1L8.3 22.8L10.5 23.0L13.1 23.7L15.1 24.4L16.5 25.1L17.3 25.8L17.5 26.5L17.1 27.7L16.0 29.5ZM33.7 48.3L31.0 49.4L28.9 50.2L27.5 50.8L26.8 51.1L26.8 51.2L26.8 51.4L26.9 51.7L27.0 52.2L27.2 52.9L27.9 53.6L29.1 54.4L31.0 55.3L33.3 56.3L35.4 56.7L37.2 56.6L38.7 55.8L39.9 54.5L40.6 53.2L40.7 51.8L40.3 50.4L39.3 48.9L37.9 48.0L36.0 47.8ZM21.0 29.5L19.7 28.7L18.7 28.0L18.0 27.3L17.5 26.5L17.3 25.8L17.3 25.0L17.6 23.9L18.0 22.7L18.8 21.3L19.8 20.2L21.3 19.3L23.1 18.7L25.3 18.3L27.0 18.7L28.3 19.7L29.1 21.4L29.4 23.8L29.2 25.8L28.5 27.4L27.3 28.6L25.5 29.4L23.9 29.9L22.4 29.9ZM45.4 76.4L46.1 73.3L46.5 70.9L46.6 69.1L46.4 67.9L45.9 67.3L45.5 66.8L45.0 66.5L44.6 66.3L44.3 66.3L43.4 66.8L42.2 67.9L40.5 69.4L38.3 71.5L37.2 73.5L37.0 75.5L37.8 77.5L39.6 79.4L41.0 80.8L42.2 81.6L43.1 81.8L43.6 81.5L44.2 80.4L44.8 78.7ZM15.0 68.9L15.8 70.0L16.3 71.1L16.6 72.1L16.6 73.0L16.4 73.8L15.8 74.6L14.7 75.2L13.2 75.7L11.4 76.0L9.9 75.9L8.8 75.2L8.0 74.1L7.6 72.4L7.4 71.0L7.5 69.9L7.7 69.0L8.2 68.4L8.8 68.0L9.7 67.7L10.7 67.5L12.0 67.4L13.1 67.6L14.2 68.1ZM74.0 21.7L71.9 22.2L70.2 22.0L68.9 21.1L68.0 19.5L67.4 17.1L67.4 15.3L68.1 14.0L69.3 13.4L71.2 13.3L72.8 13.8L74.1 14.7L75.1 16.1L75.9 18.0L76.0 19.6L75.3 20.8ZM279.6 -8.5L404.2 -14.4L467.5 -16.3L469.5 -14.2L410.1 -8.1L289.4 1.9L197.8 8.9L135.3 12.9L102.0 13.8L97.7 11.8L94.6 9.7L92.6 7.6L91.8 5.5L92.2 3.4L123.6 0.4L186.1 -3.6ZM58.8 69.7L59.6 69.9L60.7 69.8L62.0 69.5L63.5 68.8L65.2 67.8L66.6 67.0L67.5 66.3L67.9 65.9L68.0 65.6L67.7 65.0L67.1 64.2L66.2 63.1L65.0 61.7L63.7 60.8L62.4 60.5L60.9 60.7L59.4 61.3L58.3 62.3L57.6 63.5L57.3 65.0L57.4 66.8L57.6 68.1L58.1 69.1ZM52.9 58.8L54.6 60.2L56.2 61.1L57.8 61.5L59.4 61.3L60.9 60.7L62.1 59.8L63.0 58.7L63.6 57.5L63.9 56.0L63.9 54.8L63.8 53.7L63.4 52.9L62.8 52.3L61.6 52.0L59.8 52.1L57.4 52.5L54.5 53.2L52.2 53.9L50.8 54.6L50.1 55.2L50.2 55.8L50.7 56.6L51.6 57.6ZM82.1 25.8L83.3 26.2L84.3 27.2L85.2 29.0L85.9 31.3L86.4 34.4L86.0 36.4L84.7 37.4L82.4 37.3L79.3 36.3L77.3 34.9L76.4 33.1L76.7 31.1L78.2 28.7L79.6 27.0L80.9 26.0ZM16.6 73.0L16.4 73.8L16.5 74.8L16.8 75.7L17.5 76.8L18.5 77.8L19.6 78.7L20.8 79.3L22.1 79.6L23.5 79.7L24.7 79.5L25.7 79.1L26.5 78.4L27.1 77.5L27.2 76.4L27.0 75.0L26.3 73.3L25.1 71.5L23.9 70.2L22.5 69.7L21.0 69.8L19.4 70.6L18.1 71.3L17.2 72.2ZM58.0 20.8L58.6 22.9L58.8 24.5L58.7 25.9L58.2 26.8L57.4 27.4L56.3 27.8L54.8 27.9L52.9 27.8L50.8 27.5L49.0 27.0L47.6 26.2L46.5 25.2L45.9 24.0L45.5 22.8L45.5 21.6L45.8 20.5L46.4 19.3L47.4 18.4L48.8 17.7L50.6 17.3L52.7 17.1L54.4 17.0L55.6 17.0L56.4 17.2L56.7 17.4L57.1 18.1L57.5 19.2ZM13.7 57.1L15.1 58.8L16.0 60.5L16.3 62.0L16.0 63.6L15.2 65.0L14.2 66.2L13.2 66.9L12.0 67.4L10.7 67.5L9.6 66.9L8.7 65.5L8.0 63.5L7.5 60.8L7.3 58.6L7.7 57.0L8.5 55.9L9.7 55.4L11.0 55.4L12.3 56.0ZM13.3 47.5L12.9 45.5L13.4 43.9L14.7 42.4L16.9 41.2L19.9 40.3L22.2 39.6L23.9 39.3L24.9 39.3L25.3 39.5L25.7 40.4L26.0 41.9L26.2 44.1L26.5 46.9L26.6 49.0L26.8 50.4L26.8 51.1L26.8 51.2L26.0 51.1L24.3 51.1L21.9 50.9L18.7 50.7L16.1 50.1L14.3 49.0ZM88.4 70.2L88.4 70.1L88.1 69.5L87.2 68.3L86.0 66.5L84.4 64.3L83.0 62.6L81.8 61.5L81.0 61.1L80.4 61.3L79.7 62.1L79.1 63.6L78.5 65.7L77.8 68.4L77.4 70.5L77.3 72.0L77.4 72.8L77.8 73.0L78.8 73.0L80.2 72.7L82.2 72.2L84.7 71.5L86.5 70.9L87.8 70.5ZM48.0 80.8L50.3 80.6L52.2 79.9L53.5 78.7L54.3 76.9L54.6 74.4L54.3 72.5L53.5 71.1L52.1 70.1L50.1 69.6L48.4 69.9L47.1 71.2L46.1 73.3L45.4 76.4L45.5 78.6L46.4 80.1ZM0.8 81.8L-0.7 83.5L-2.1 84.2L-3.5 84.0L-4.9 82.9L-6.2 80.8L-7.0 78.9L-7.3 77.2L-7.1 75.7L-6.3 74.5L-5.6 73.5L-5.0 72.8L-4.4 72.5L-3.9 72.5L-3.1 72.9L-2.1 73.7L-0.8 75.0L0.7 76.7L1.5 78.4L1.5 80.1ZM38.0 39.6L37.5 38.8L37.2 38.0L37.0 37.3L37.0 36.7L37.1 36.1L37.7 35.4L38.8 34.6L40.3 33.8L42.4 32.8L44.4 32.7L46.3 33.3L48.2 34.7L50.0 36.9L51.2 38.6L51.9 40.0L52.0 40.8L51.6 41.3L50.5 41.5L48.7 41.6L46.3 41.5L43.3 41.2L40.8 40.8L39.1 40.2ZM4.5 10.4L5.0 7.5L6.1 5.6L7.7 4.7L9.9 4.8L12.6 5.9L14.6 7.0L15.9 8.0L16.4 8.9L16.2 9.8L15.4 10.8L14.1 11.9L12.1 13.1L9.5 14.5L7.5 15.4L6.0 15.8L5.0 15.8L4.5 15.4L4.2 14.3L4.2 12.6ZM60.6 16.1L62.9 15.0L64.5 13.7L65.4 12.2L65.7 10.5L65.3 8.6L64.5 7.2L63.1 6.3L61.2 5.9L58.8 5.9L57.0 6.6L55.9 8.0L55.5 10.1L55.6 12.8L55.9 14.8L56.1 16.3L56.4 17.2L56.7 17.4L57.5 17.3L58.8 16.8ZM74.0 38.3L73.7 40.8L72.8 42.6L71.3 43.8L69.2 44.3L66.5 44.2L64.4 44.0L62.9 43.7L61.9 43.2L61.5 42.5L61.6 41.5L62.3 40.0L63.4 38.0L65.1 35.6L66.8 34.0L68.5 33.2L70.2 33.1L71.9 33.7L73.1 34.8L73.8 36.3ZM83.9 10.6L81.4 9.5L79.3 9.0L77.6 9.1L76.3 9.8L75.3 11.2L74.8 12.7L74.8 14.3L75.1 16.1L75.9 18.0L76.6 19.5L77.2 20.5L77.8 21.2L78.3 21.4L79.2 21.0L80.5 20.0L82.2 18.3L84.4 16.0L86.0 14.2L87.1 13.0L87.6 12.4L87.6 12.4L87.0 12.1L85.8 11.5ZM73.4 57.3L72.8 55.9L71.9 54.8L70.7 54.1L69.1 53.7L67.2 53.8L65.7 54.2L64.6 54.9L63.9 56.0L63.6 57.5L63.7 58.9L64.2 60.3L65.0 61.7L66.2 63.1L67.5 63.7L68.9 63.7L70.4 63.0L71.9 61.6L73.0 60.2L73.5 58.7ZM5.7 78.9L4.6 79.1L3.4 78.8L2.1 78.0L0.7 76.7L-0.8 75.0L-1.7 73.5L-2.0 72.2L-1.6 71.0L-0.5 70.1L0.7 69.5L2.0 69.2L3.3 69.1L4.8 69.4L6.0 70.1L7.0 71.1L7.6 72.4L8.0 74.1L8.2 75.5L8.2 76.6L8.1 77.4L7.8 77.9L7.3 78.3L6.6 78.7ZM34.6 74.5L34.3 74.4L34.0 73.7L33.6 72.6L33.3 70.8L32.9 68.6L33.0 66.7L33.4 65.2L34.2 64.0L35.3 63.2L36.6 62.9L38.0 63.1L39.6 63.7L41.2 64.7L41.9 66.0L41.7 67.6L40.5 69.4L38.3 71.5L36.7 73.0L35.4 74.0ZM28.3 1.2L27.8 -1.0L28.1 -2.8L29.2 -4.4L30.9 -5.6L33.4 -6.4L35.4 -6.8L36.9 -6.8L38.0 -6.2L38.6 -5.2L39.0 -4.2L39.1 -3.1L38.9 -2.0L38.5 -0.8L37.7 0.3L36.3 1.3L34.6 2.3L32.3 3.2L30.5 3.3L29.2 2.6ZM54.7 35.4L55.3 32.6L55.2 30.3L54.4 28.8L52.9 27.8L50.8 27.5L49.0 27.6L47.7 28.0L46.8 28.7L46.3 29.8L46.3 31.2L47.0 32.8L48.2 34.7L50.0 36.9L51.4 38.5L52.5 39.5L53.1 40.0L53.4 39.9L53.8 39.1L54.2 37.6ZM20.0 61.9L21.8 62.2L23.1 62.5L24.0 62.7L24.5 62.8L24.5 62.8L24.4 63.2L24.3 63.9L24.1 65.0L23.8 66.4L23.2 67.7L22.3 68.8L21.0 69.8L19.4 70.6L18.0 70.9L16.8 70.7L15.8 70.0L15.0 68.9L14.7 67.7L14.7 66.4L15.2 65.0L16.0 63.6L17.1 62.5L18.4 62.0ZM25.6 59.4L26.3 57.2L27.5 55.8L29.0 55.1L31.0 55.3L33.3 56.3L35.1 57.3L36.3 58.3L36.9 59.4L37.0 60.5L36.7 61.5L36.2 62.4L35.3 63.2L34.2 64.0L32.8 64.5L31.2 64.6L29.4 64.3L27.4 63.7L26.0 63.2L25.0 62.9L24.5 62.8L24.5 62.8L24.6 62.2L25.0 61.1ZM56.0 70.3L56.6 69.9L57.2 69.7L58.0 69.6L58.8 69.7L59.6 69.9L60.5 70.6L61.4 71.8L62.4 73.5L63.5 75.6L63.5 77.3L62.7 78.6L60.9 79.5L58.2 79.9L56.1 80.2L54.7 80.5L54.0 80.5L53.9 80.5L54.0 79.9L54.1 78.7L54.3 76.9L54.6 74.4L55.0 72.5L55.4 71.2ZM92.6 50.8L91.3 52.8L90.1 54.3L89.1 55.3L88.1 55.8L87.4 55.9L86.4 55.4L85.3 54.5L84.0 53.1L82.6 51.2L81.9 49.2L82.1 47.2L83.0 45.1L84.8 43.1L86.5 42.0L88.3 41.9L90.1 42.9L91.9 44.9L92.9 46.8L93.2 48.8ZM1.3 14.4L-0.3 14.2L-1.7 13.5L-2.9 12.2L-3.9 10.5L-4.7 8.2L-4.7 6.2L-3.9 4.5L-2.4 3.0L-0.0 1.7L1.9 0.9L3.4 0.7L4.4 1.0L4.9 1.9L5.2 3.2L5.2 5.1L5.0 7.5L4.5 10.4L3.7 12.5L2.6 13.8Z" fill="none" stroke="#e3849f" stroke-width="0.9"/>
<path d="M8.8 67.6L10.3 67.5" stroke="#dc6e92" stroke-width="1.6" stroke-linecap="round" opacity="0.8"/><path d="M26.8 51.1L26.5 47.3" stroke="#dc6e92" stroke-width="1.4" stroke-linecap="round" opacity="0.8"/><path d="M17.0 71.7L16.0 70.4" stroke="#dc6e92" stroke-width="1.7" stroke-linecap="round" opacity="0.8"/><path d="M80.4 48.3L82.2 46.2" stroke="#dc6e92" stroke-width="1.7" stroke-linecap="round" opacity="0.8"/><path d="M74.5 34.7L74.5 34.7" stroke="#dc6e92" stroke-width="1.4" stroke-linecap="round" opacity="0.8"/><path d="M17.8 27.6L18.7 28.1" stroke="#dc6e92" stroke-width="1.8" stroke-linecap="round" opacity="0.8"/><path d="M34.9 29.6L35.3 30.5" stroke="#dc6e92" stroke-width="1.3" stroke-linecap="round" opacity="0.8"/><path d="M52.7 40.2L52.3 40.6" stroke="#dc6e92" stroke-width="1.1" stroke-linecap="round" opacity="0.8"/><path d="M60.9 41.6L58.4 40.9" stroke="#dc6e92" stroke-width="1.1" stroke-linecap="round" opacity="0.8"/><path d="M36.8 57.8L38.3 56.3" stroke="#dc6e92" stroke-width="1.0" stroke-linecap="round" opacity="0.8"/><path d="M27.4 53.8L30.6 55.2" stroke="#dc6e92" stroke-width="1.7" stroke-linecap="round" opacity="0.8"/><path d="M28.6 17.8L28.8 19.2" stroke="#dc6e92" stroke-width="1.6" stroke-linecap="round" opacity="0.8"/>
</g>
<rect x="90.4" y="234.0" width="15.6" height="3.5" fill="#f4f4f4" opacity="0.8"/>
<rect x="91.2" y="234.8" width="14" height="1.9" fill="#111"/>
<g transform="translate(114.3,166)" clip-path="url(#clip5)">
<rect width="90" height="74.7" fill="#e8dde2"/>
<path d="M46.9 35.7L44.9 36.6L43.3 37.1L41.8 37.2L40.6 37.0L39.7 36.3L39.0 35.2L38.4 33.6L38.0 31.5L37.8 28.9L38.1 26.8L38.9 25.1L40.2 23.8L41.9 23.0L43.7 22.8L45.5 23.2L47.2 24.3L48.9 26.0L50.1 27.7L50.8 29.3L50.9 30.8L50.5 32.3L49.7 33.6L48.5 34.7ZM77.7 76.1L78.6 76.0L79.6 75.6L80.7 74.9L81.9 73.9L83.1 72.7L84.1 71.3L84.8 69.8L85.3 68.1L85.4 66.3L85.1 64.6L84.1 63.0L82.6 61.6L80.6 60.3L79.1 59.4L78.0 58.8L77.4 58.5L77.2 58.5L76.8 59.1L76.2 60.1L75.2 61.8L74.0 63.9L73.4 66.1L73.3 68.3L73.8 70.5L74.8 72.8L75.8 74.5L76.8 75.6ZM70.3 10.9L71.2 8.3L71.9 6.2L72.2 4.6L72.2 3.4L71.8 2.6L71.3 1.8L70.4 1.0L69.3 0.2L67.9 -0.7L66.3 -1.4L64.5 -1.8L62.5 -2.0L60.3 -1.9L58.5 -1.7L57.1 -1.2L56.0 -0.6L55.2 0.2L54.9 1.6L54.9 3.4L55.2 5.8L56.0 8.7L56.9 11.1L57.9 13.0L59.1 14.5L60.4 15.5L61.8 16.0L63.3 16.3L64.9 16.1L66.5 15.5L68.0 14.5L69.2 12.9ZM69.4 45.8L68.4 46.6L67.7 47.2L67.1 47.6L66.7 47.7L66.5 47.7L65.8 47.2L64.7 46.3L63.2 44.9L61.2 43.1L60.1 41.1L60.0 39.0L60.7 36.9L62.4 34.6L64.0 32.9L65.4 32.0L66.8 31.7L68.0 32.1L69.0 33.1L69.7 34.8L70.2 37.2L70.4 40.2L70.4 42.6L70.0 44.5ZM67.9 128.7L65.0 161.1L62.4 180.4L60.0 186.6L57.9 179.7L56.2 159.6L55.1 141.2L54.6 124.5L54.9 109.4L55.8 96.0L56.6 85.8L57.2 79.1L57.7 75.6L58.1 75.5L59.2 75.6L61.1 76.2L63.7 77.1L67.2 78.3L69.0 87.3L69.3 104.1ZM26.6 56.6L28.0 54.0L28.8 51.8L29.1 50.0L29.0 48.7L28.2 47.7L27.1 47.0L25.5 46.4L23.4 46.0L20.9 45.8L18.8 46.0L17.2 46.7L15.9 47.8L15.1 49.4L14.5 50.7L14.1 51.8L14.0 52.6L14.2 53.1L14.9 54.0L16.2 55.1L18.2 56.5L20.7 58.1L23.0 58.6L24.9 58.1ZM42.7 13.2L43.9 15.3L45.6 16.6L47.6 17.0L50.0 16.5L52.9 15.1L54.8 13.4L55.8 11.2L56.0 8.7L55.2 5.8L54.5 3.6L53.8 2.2L53.1 1.5L52.4 1.4L51.3 2.0L49.6 3.0L47.5 4.6L44.8 6.7L43.1 8.9L42.4 11.0ZM-0.0 39.5L-0.6 38.8L-0.9 37.6L-0.8 36.1L-0.3 34.1L0.5 31.7L1.5 29.8L2.7 28.2L4.1 27.1L5.7 26.5L7.4 26.3L9.3 26.6L11.2 27.3L13.3 28.6L14.7 30.1L15.5 31.9L15.6 33.9L15.0 36.2L13.8 38.0L11.8 39.2L9.2 40.0L5.9 40.2L3.2 40.2L1.2 39.9ZM25.0 72.6L25.5 76.2L25.5 79.5L25.0 82.5L23.9 85.2L22.2 87.7L20.3 88.3L18.1 87.2L15.7 84.2L13.0 79.4L11.0 75.6L9.9 72.7L9.5 70.8L10.0 69.8L11.1 69.0L13.0 68.3L15.7 67.9L19.0 67.6L21.7 68.3L23.7 69.9ZM56.9 60.7L54.5 60.6L52.6 60.6L50.9 60.9L49.7 61.4L48.8 62.1L48.4 63.3L48.5 65.0L49.1 67.2L50.2 70.0L51.3 72.1L52.5 73.7L53.8 74.7L55.2 75.1L56.3 75.4L57.1 75.6L57.7 75.6L58.1 75.5L58.6 74.7L59.4 73.4L60.3 71.5L61.5 69.0L62.3 67.0L62.8 65.3L62.9 64.1L62.6 63.4L62.3 62.7L61.9 62.2L61.5 61.7L61.1 61.4L60.2 61.2L58.8 60.9ZM15.0 36.2L15.6 33.9L16.1 32.1L16.4 30.9L16.7 30.3L17.0 30.2L17.6 30.2L18.6 30.3L19.9 30.5L21.7 30.8L23.4 31.5L25.0 32.6L26.6 34.0L28.1 35.8L29.0 37.6L29.4 39.5L29.2 41.4L28.4 43.4L27.1 44.8L25.5 45.7L23.4 46.0L20.9 45.8L18.9 45.3L17.2 44.4L16.1 43.3L15.3 41.8L14.9 40.2L14.8 38.3ZM100.1 69.2L98.3 71.0L96.2 72.2L94.0 72.7L91.6 72.6L88.9 71.9L87.0 70.9L85.8 69.6L85.3 68.1L85.4 66.3L85.9 64.7L86.7 63.4L87.9 62.3L89.3 61.4L91.1 61.2L93.3 61.5L95.8 62.5L98.6 64.1L100.3 65.7L100.8 67.5ZM-0.3 34.1L0.5 31.7L0.6 29.6L0.2 27.8L-0.8 26.3L-2.4 25.1L-6.7 25.0L-13.8 26.2L-23.5 28.4L-36.0 31.8L-42.1 34.5L-41.7 36.3L-34.8 37.3L-21.5 37.4L-11.3 37.0L-4.3 35.9ZM-16.1 52.2L-27.1 53.0L-41.0 53.0L-57.8 52.4L-77.6 50.9L-100.2 48.8L-112.3 46.6L-113.7 44.5L-104.4 42.3L-84.6 40.2L-66.3 38.6L-49.8 37.6L-34.8 37.3L-21.5 37.4L-11.4 37.8L-4.4 38.2L-0.6 38.8L-0.0 39.5L0.4 40.6L0.6 42.3L0.7 44.4L0.6 47.1L-2.2 49.2L-7.8 50.9ZM63.7 49.2L62.2 50.3L61.0 51.7L60.3 53.3L60.0 55.3L60.2 57.6L60.4 59.3L60.7 60.6L61.1 61.4L61.5 61.7L62.3 61.5L63.5 60.8L65.0 59.6L66.9 57.8L68.1 56.0L68.7 54.2L68.7 52.4L68.0 50.5L67.5 49.1L67.0 48.2L66.7 47.7L66.5 47.7L65.9 47.9L65.0 48.5ZM81.5 15.5L83.3 12.1L84.7 9.5L85.7 7.8L86.4 6.8L86.6 6.7L87.4 7.1L88.5 8.1L90.2 9.6L92.2 11.7L93.7 13.4L94.7 14.7L95.0 15.7L94.8 16.4L93.7 17.2L91.8 18.4L89.1 19.7L85.6 21.4L82.9 22.4L81.0 22.8L79.8 22.6L79.5 21.8L79.6 20.3L80.3 18.2ZM77.7 76.1L78.6 76.0L79.9 76.6L81.6 77.8L83.7 79.8L86.1 82.4L86.8 125.6L85.6 209.4L82.6 333.7L77.7 498.6L73.5 588.8L69.8 604.3L66.8 544.9L64.3 410.8L63.2 302.2L63.4 218.9L65.0 161.1L67.9 128.7L70.4 104.1L72.4 87.5L73.9 78.6L74.9 77.7L75.9 76.9L76.8 76.4ZM91.1 38.6L91.7 39.6L94.5 40.5L99.6 41.4L106.8 42.2L116.2 43.1L125.1 43.6L133.5 43.9L141.4 43.8L148.8 43.4L150.4 42.2L146.2 40.1L136.2 37.2L120.4 33.4L108.2 30.7L99.5 29.2L94.4 29.0L92.9 29.8L91.8 30.9L91.0 32.1L90.5 33.4L90.4 34.9L90.4 36.3L90.7 37.5ZM86.4 6.8L86.6 6.7L87.0 6.3L87.4 5.4L87.9 4.2L88.5 2.7L88.7 1.2L88.5 -0.2L87.9 -1.6L86.9 -3.0L85.7 -4.1L84.3 -4.8L82.8 -5.3L81.1 -5.4L79.4 -5.1L77.7 -4.3L75.9 -3.0L74.1 -1.2L72.8 0.3L72.1 1.6L71.8 2.6L72.2 3.4L73.2 4.1L75.0 4.8L77.6 5.4L81.0 6.1L83.5 6.5L85.3 6.8ZM29.6 65.7L32.5 65.6L34.9 65.4L36.8 64.9L38.3 64.2L39.2 63.2L39.8 61.9L39.9 60.2L39.6 58.2L38.9 55.7L37.8 53.8L36.5 52.3L34.9 51.3L32.9 50.8L31.1 51.1L29.5 52.1L28.0 54.0L26.6 56.6L25.6 58.9L25.0 60.8L24.8 62.5L25.0 63.8L25.8 64.7L27.4 65.4ZM27.5 0.4L29.8 1.8L31.6 3.1L32.9 4.3L33.7 5.5L34.0 6.6L33.8 7.9L33.2 9.4L32.2 11.0L30.8 12.9L29.4 14.3L28.0 15.2L26.6 15.7L25.3 15.7L23.7 15.3L21.9 14.5L20.0 13.2L17.9 11.6L16.3 10.3L15.3 9.3L14.8 8.7L14.8 8.4L15.4 7.6L16.5 6.2L18.3 4.4L20.5 2.0L22.8 0.5L25.1 0.0ZM68.2 -8.2L69.8 -12.4L70.2 -44.4L69.3 -104.3L67.3 -192.1L64.0 -307.8L60.7 -369.1L57.4 -375.8L54.1 -328.2L50.9 -226.0L49.1 -145.0L48.9 -85.0L50.1 -46.2L52.9 -28.5L55.5 -15.2L58.0 -6.3L60.3 -1.9L62.5 -2.0L64.6 -3.0L66.5 -5.1ZM73.5 31.4L72.0 31.9L70.6 32.2L69.3 32.2L68.0 32.1L66.8 31.7L65.6 31.1L64.6 30.2L63.6 29.2L62.7 27.8L62.1 26.3L61.8 24.5L61.7 22.5L62.0 20.3L62.6 18.5L63.6 17.1L64.9 16.1L66.5 15.5L68.4 15.5L70.4 15.9L72.7 16.9L75.2 18.4L77.1 19.7L78.6 20.8L79.5 21.8L79.8 22.6L80.1 23.2L80.3 23.7L80.4 23.9L80.4 24.0L80.1 24.5L79.5 25.4L78.6 26.6L77.5 28.2L76.2 29.5L74.9 30.6ZM-5.6 167.4L-9.5 228.8L-10.2 260.5L-7.7 262.5L-2.1 234.8L6.6 177.4L12.5 133.2L15.5 102.1L15.7 84.2L13.0 79.4L10.4 76.1L7.9 74.1L5.6 73.4L3.4 74.2L0.8 90.1L-2.2 121.2ZM12.3 10.8L10.6 11.9L9.4 13.4L8.5 15.5L8.1 18.0L8.1 21.0L8.6 23.5L9.7 25.7L11.2 27.3L13.3 28.6L14.9 29.5L16.1 30.1L16.7 30.3L17.0 30.2L17.5 29.2L18.3 27.4L19.5 24.7L21.0 21.1L21.5 18.0L21.2 15.4L20.0 13.2L17.9 11.6L15.9 10.6L14.0 10.4ZM141.4 43.8L148.8 43.4L158.5 43.5L170.3 43.8L184.4 44.5L200.7 45.6L205.3 47.6L198.2 50.5L179.3 54.4L148.8 59.2L125.1 62.5L108.4 64.1L98.6 64.1L95.8 62.5L93.7 60.9L92.3 59.3L91.7 57.6L91.8 56.0L94.2 54.1L99.1 52.2L106.3 50.0L115.9 47.7L124.9 45.9L133.5 44.6ZM5.8 51.7L9.0 51.7L11.6 51.3L13.6 50.5L15.1 49.4L15.9 47.8L16.3 46.3L16.4 44.8L16.1 43.3L15.3 41.8L13.9 40.8L11.9 40.2L9.2 40.0L5.9 40.2L3.3 41.0L1.6 42.4L0.7 44.4L0.6 47.1L0.6 49.1L0.6 50.5L0.7 51.3L0.8 51.4L1.7 51.6L3.4 51.7ZM4.5 -3.1L2.6 -3.1L0.9 -2.8L-0.6 -2.2L-1.7 -1.3L-2.7 -0.1L-3.2 1.5L-3.3 3.3L-3.1 5.4L-2.4 7.8L-1.4 9.8L0.2 11.2L2.1 12.2L4.5 12.7L6.7 12.9L8.8 12.6L10.6 11.9L12.3 10.8L13.5 9.9L14.3 9.2L14.8 8.7L14.8 8.4L14.4 7.5L13.4 6.0L12.1 3.8L10.2 1.1L8.3 -1.0L6.4 -2.4ZM79.8 46.9L80.5 47.9L80.8 49.2L80.7 50.8L80.1 52.7L79.1 55.0L78.3 56.7L77.7 57.9L77.4 58.5L77.2 58.5L76.7 58.3L75.7 57.9L74.3 57.3L72.4 56.4L70.9 55.3L69.6 54.0L68.7 52.4L68.0 50.5L67.8 49.0L67.9 47.6L68.4 46.6L69.4 45.8L70.6 45.3L72.1 45.0L73.8 45.0L75.8 45.2L77.4 45.6L78.8 46.2ZM51.7 49.5L51.5 49.0L50.8 48.5L49.7 48.1L48.2 47.7L46.2 47.3L44.4 47.3L42.8 47.8L41.2 48.7L39.8 50.0L39.0 51.7L38.7 53.6L38.9 55.7L39.6 58.2L40.6 60.1L41.8 61.5L43.2 62.3L44.9 62.7L46.4 62.7L47.7 62.6L48.8 62.1L49.7 61.4L50.4 60.2L51.0 58.6L51.4 56.5L51.7 54.0L51.9 51.9L51.9 50.4ZM6.6 63.8L4.4 62.2L2.7 60.6L1.6 58.7L1.1 56.8L1.1 54.8L1.9 53.2L3.5 52.2L5.8 51.7L9.0 51.7L11.4 51.9L13.1 52.1L14.0 52.6L14.2 53.1L14.0 54.3L13.5 56.2L12.7 58.6L11.6 61.6L10.2 63.5L8.5 64.3ZM6.6 63.8L4.4 62.2L2.3 61.3L0.4 61.1L-1.3 61.4L-2.9 62.5L-3.9 63.9L-4.3 65.7L-4.1 67.8L-3.3 70.4L-2.6 72.4L-1.9 73.8L-1.3 74.6L-0.7 74.9L0.3 74.9L1.7 74.7L3.4 74.2L5.6 73.4L7.4 72.6L8.7 71.7L9.5 70.8L10.0 69.8L10.2 68.9L10.4 68.2L10.3 67.5L10.1 67.0L9.5 66.2L8.3 65.1ZM62.6 63.4L62.9 64.1L63.6 64.8L64.9 65.4L66.6 66.0L68.9 66.4L70.8 66.2L72.6 65.4L74.0 63.9L75.2 61.8L75.7 59.9L75.3 58.4L74.3 57.3L72.4 56.4L70.6 56.2L68.7 56.7L66.9 57.8L65.0 59.6L63.7 61.1L62.9 62.3ZM91.1 38.6L91.7 39.6L92.0 40.8L91.8 42.3L91.2 44.2L90.3 46.3L89.1 47.8L87.7 48.9L86.1 49.4L84.3 49.4L82.8 49.1L81.5 48.6L80.5 47.9L79.8 46.9L79.4 45.8L79.4 44.5L79.7 43.0L80.3 41.4L81.3 40.1L82.8 39.0L84.6 38.3L86.8 37.9L88.6 37.8L90.1 38.0ZM-84.6 40.2L-104.4 42.3L-136.3 44.1L-180.3 45.6L-236.4 46.7L-304.5 47.5L-330.3 45.9L-313.9 41.8L-255.2 35.2L-154.3 26.2L-78.7 20.1L-28.4 17.0L-3.6 16.7L-4.1 19.3L-7.6 22.2L-14.1 25.2L-23.5 28.4L-36.0 31.8L-50.4 34.9L-66.5 37.7ZM39.1 -9.8L38.4 -13.0L38.4 -18.8L39.1 -27.3L40.5 -38.4L42.7 -52.2L45.0 -58.0L47.5 -56.1L50.1 -46.2L52.9 -28.5L54.8 -14.9L55.8 -5.7L56.0 -0.6L55.2 0.2L54.5 0.8L53.8 1.3L53.1 1.5L52.4 1.4L51.2 1.0L49.5 0.2L47.2 -1.0L44.4 -2.6L42.2 -4.6L40.4 -7.0ZM39.7 36.3L40.6 37.0L41.4 38.0L42.0 39.4L42.5 41.2L42.8 43.4L42.7 45.3L42.2 47.1L41.2 48.7L39.8 50.0L38.3 50.9L36.7 51.4L34.9 51.3L32.9 50.8L31.3 50.2L30.0 49.5L29.0 48.7L28.2 47.7L27.9 46.5L27.9 45.1L28.4 43.4L29.2 41.4L30.3 39.7L31.7 38.4L33.4 37.3L35.4 36.5L37.1 36.1L38.5 36.0ZM43.2 62.3L44.9 62.7L46.4 63.6L47.8 65.1L49.1 67.2L50.2 70.0L50.4 72.3L49.7 74.4L48.1 76.2L45.7 77.6L43.6 78.6L41.9 79.1L40.6 79.1L39.6 78.6L38.8 77.5L38.2 75.7L37.7 73.3L37.4 70.2L37.3 67.6L37.6 65.6L38.3 64.2L39.2 63.2L40.4 62.6L41.7 62.3ZM62.4 34.6L60.7 36.9L59.4 38.6L58.3 39.8L57.6 40.4L57.2 40.5L56.4 40.1L55.4 39.4L54.0 38.3L52.3 36.7L51.2 35.2L50.6 33.7L50.5 32.3L50.9 30.8L51.8 29.6L53.2 28.5L55.2 27.6L57.6 26.9L59.7 26.7L61.4 27.0L62.7 27.8L63.6 29.2L63.8 30.7L63.4 32.5ZM63.2 44.9L61.2 43.1L59.6 41.7L58.4 40.8L57.6 40.4L57.2 40.5L56.5 41.0L55.6 42.0L54.5 43.5L53.1 45.4L52.1 47.0L51.6 48.2L51.5 49.0L51.7 49.5L52.4 49.9L53.5 50.4L55.0 50.8L56.9 51.2L58.8 51.3L60.5 51.0L62.2 50.3L63.7 49.2L64.4 48.0L64.2 46.5ZM86.1 49.4L84.3 49.4L82.7 49.9L81.3 51.0L80.1 52.7L79.1 55.0L78.8 57.0L79.3 58.8L80.6 60.3L82.6 61.6L84.5 62.4L86.3 62.6L87.9 62.3L89.3 61.4L90.4 60.3L91.2 59.1L91.7 57.6L91.8 56.0L91.6 54.5L91.3 53.1L90.8 51.9L90.0 50.9L89.0 50.2L87.7 49.7ZM1.1 54.8L1.1 56.8L0.7 58.6L-0.1 60.1L-1.3 61.4L-2.9 62.5L-6.5 62.6L-12.1 61.9L-19.6 60.3L-29.2 57.9L-33.6 55.8L-32.9 54.2L-27.1 53.0L-16.1 52.2L-7.8 51.6L-2.2 51.3L0.7 51.3L0.8 51.4L0.9 52.1L1.0 53.2ZM36.8 8.9L38.4 9.3L39.9 10.2L41.4 11.4L42.7 13.2L43.9 15.3L44.8 17.2L45.3 18.6L45.3 19.8L45.1 20.5L44.4 21.3L43.3 22.2L41.9 23.0L40.2 23.8L38.6 24.4L37.3 24.6L36.2 24.5L35.3 24.1L34.3 23.3L33.2 22.1L32.0 20.6L30.7 18.6L30.1 16.7L30.1 14.8L30.8 12.9L32.2 11.0L33.7 9.8L35.2 9.0ZM25.0 63.8L24.8 62.5L24.0 61.1L22.7 59.6L20.7 58.1L18.2 56.5L16.0 56.0L14.2 56.7L12.7 58.6L11.6 61.6L10.8 64.0L10.3 65.8L10.1 67.0L10.3 67.5L11.3 67.8L13.1 68.0L15.7 67.9L19.0 67.6L21.7 67.3L23.5 67.0L24.5 66.6L24.8 66.3L25.0 65.7L25.1 64.8ZM21.0 21.1L19.5 24.7L18.8 27.4L19.0 29.4L19.9 30.5L21.7 30.8L23.6 30.6L25.7 29.8L28.0 28.4L30.4 26.4L31.9 24.5L32.4 22.5L32.0 20.6L30.7 18.6L29.4 17.2L28.0 16.2L26.6 15.7L25.3 15.7L23.9 16.6L22.4 18.4ZM86.8 37.9L84.6 38.3L82.6 38.1L80.7 37.3L79.1 35.8L77.8 33.7L77.0 31.8L76.9 29.9L77.5 28.2L78.6 26.6L80.2 25.8L82.0 25.9L84.3 26.8L86.8 28.5L88.7 30.2L90.0 31.9L90.5 33.4L90.4 34.9L89.7 36.2L88.5 37.1ZM27.5 0.4L29.8 1.8L32.0 2.3L34.0 1.8L35.9 0.5L37.6 -1.7L38.8 -4.2L39.2 -6.9L39.1 -9.8L38.4 -13.0L37.0 -14.5L34.9 -14.3L32.2 -12.4L28.8 -8.8L26.3 -6.0L24.7 -4.0L23.9 -2.8L23.9 -2.3L24.5 -1.6L25.7 -0.7ZM80.3 41.4L79.7 43.0L78.7 44.2L77.4 44.9L75.8 45.2L73.8 45.0L72.2 44.1L71.1 42.5L70.4 40.2L70.2 37.2L70.4 34.8L71.0 33.0L72.0 31.9L73.5 31.4L74.9 31.5L76.4 32.3L77.8 33.7L79.1 35.8L80.0 37.8L80.4 39.7ZM57.6 26.9L55.2 27.6L52.9 27.7L50.8 27.2L48.9 26.0L47.2 24.3L46.0 22.8L45.3 21.6L45.1 20.5L45.3 19.8L46.3 18.8L47.8 17.7L50.0 16.5L52.9 15.1L55.3 14.3L57.4 14.1L59.1 14.5L60.4 15.5L61.4 16.7L61.9 18.4L62.0 20.3L61.7 22.5L60.9 24.4L59.6 25.8ZM46.3 98.4L49.2 110.9L51.6 116.8L53.5 116.4L54.9 109.4L55.8 96.0L56.2 85.8L55.9 78.8L55.2 75.1L53.8 74.7L52.2 74.7L50.3 75.2L48.1 76.2L45.7 77.6L44.5 81.8L44.7 88.7ZM4.1 27.1L5.7 26.5L6.9 25.2L7.7 23.4L8.1 21.0L8.1 18.0L7.5 15.6L6.3 13.9L4.5 12.7L2.1 12.2L0.2 11.9L-1.1 11.8L-2.0 11.9L-2.3 12.3L-2.7 13.2L-3.1 14.6L-3.6 16.7L-4.1 19.3L-4.0 21.6L-3.5 23.5L-2.4 25.1L-0.8 26.3L0.8 27.1L2.5 27.3ZM74.8 72.8L73.8 70.5L72.4 68.7L70.8 67.3L68.9 66.4L66.6 66.0L64.7 66.3L62.9 67.3L61.5 69.0L60.3 71.5L60.3 73.7L61.5 75.5L63.7 77.1L67.2 78.3L70.0 78.9L72.2 79.1L73.9 78.6L74.9 77.7L75.4 76.4L75.4 74.8ZM67.9 -0.7L69.3 0.2L70.8 0.4L72.4 -0.1L74.1 -1.2L75.9 -3.0L76.8 -5.1L76.9 -7.6L76.2 -10.5L74.6 -13.7L73.0 -15.1L71.4 -14.7L69.8 -12.4L68.2 -8.2L67.4 -4.9L67.3 -2.4ZM91.2 44.2L90.3 46.3L89.8 48.1L89.7 49.6L90.0 50.9L90.8 51.9L93.7 52.1L98.9 51.5L106.3 50.0L115.9 47.7L120.7 45.8L120.8 44.3L116.2 43.1L106.8 42.2L99.5 42.1L94.3 42.8ZM35.9 0.5L37.6 -1.7L39.6 -3.0L41.9 -3.3L44.4 -2.6L47.2 -1.0L48.7 0.8L48.7 2.6L47.5 4.6L44.8 6.7L42.4 8.2L40.3 9.1L38.4 9.3L36.8 8.9L35.5 8.3L34.6 7.5L34.0 6.6L33.7 5.5L33.9 4.1L34.7 2.4ZM56.9 60.7L54.5 60.6L52.8 59.8L51.8 58.5L51.4 56.5L51.7 54.0L52.4 52.2L53.5 51.1L55.0 50.8L56.9 51.2L58.4 52.1L59.4 53.5L60.0 55.3L60.2 57.6L59.7 59.2L58.6 60.3ZM54.0 38.3L52.3 36.7L50.6 35.8L48.8 35.5L46.9 35.7L44.9 36.6L43.6 37.8L42.8 39.3L42.5 41.2L42.8 43.4L43.6 45.1L44.7 46.4L46.2 47.3L48.2 47.7L49.9 47.5L51.6 46.7L53.1 45.4L54.5 43.5L55.1 41.6L54.9 39.9ZM29.6 65.7L32.5 65.6L34.7 66.4L36.4 67.9L37.4 70.2L37.7 73.3L37.2 75.8L35.9 77.8L33.8 79.3L30.8 80.2L28.5 80.0L26.7 78.6L25.5 76.2L25.0 72.6L24.6 69.8L24.5 67.8L24.5 66.6L24.8 66.3L25.8 66.0L27.4 65.8ZM88.9 71.9L91.6 72.6L93.5 73.6L94.9 74.7L95.5 76.1L95.5 77.7L95.1 79.3L94.4 80.9L93.4 82.5L91.9 84.0L90.3 84.5L88.3 84.0L86.1 82.4L83.7 79.8L82.2 77.5L81.6 75.5L81.9 73.9L83.1 72.7L84.7 71.9L86.7 71.7ZM92.9 29.8L94.4 29.0L95.4 27.6L95.9 25.9L95.8 23.8L95.2 21.2L93.9 19.7L91.9 19.2L89.1 19.7L85.6 21.4L83.0 22.6L81.3 23.5L80.4 23.9L80.4 24.0L81.0 24.6L82.3 25.5L84.3 26.8L86.8 28.5L89.1 29.6L91.2 30.1ZM20.5 2.0L18.3 4.4L16.1 5.5L14.0 5.3L12.1 3.8L10.2 1.1L8.9 -1.1L8.2 -2.8L8.1 -3.9L8.5 -4.4L9.4 -5.1L10.8 -5.7L12.7 -6.4L15.1 -7.2L17.2 -7.5L19.1 -7.3L20.6 -6.5L21.9 -5.3L22.9 -4.3L23.5 -3.4L23.9 -2.8L23.9 -2.3L23.4 -1.3L22.2 0.1ZM81.5 15.5L83.3 12.1L83.8 9.4L83.0 7.4L81.0 6.1L77.6 5.4L74.9 5.6L72.8 6.6L71.2 8.3L70.3 10.9L70.3 13.1L71.1 15.1L72.7 16.9L75.2 18.4L77.5 18.6L79.6 17.6ZM37.8 28.9L38.0 31.5L37.7 33.6L36.8 35.3L35.4 36.5L33.4 37.3L31.5 37.4L29.7 36.9L28.1 35.8L26.6 34.0L26.1 32.2L26.5 30.3L28.0 28.4L30.4 26.4L32.4 25.1L34.0 24.3L35.3 24.1L36.2 24.5L36.9 25.4L37.4 26.9Z" fill="#d8dbd9" stroke="#e8e9e9" stroke-width="2.6"/>
<path d="M46.9 35.7L44.9 36.6L43.3 37.1L41.8 37.2L40.6 37.0L39.7 36.3L39.0 35.2L38.4 33.6L38.0 31.5L37.8 28.9L38.1 26.8L38.9 25.1L40.2 23.8L41.9 23.0L43.7 22.8L45.5 23.2L47.2 24.3L48.9 26.0L50.1 27.7L50.8 29.3L50.9 30.8L50.5 32.3L49.7 33.6L48.5 34.7ZM77.7 76.1L78.6 76.0L79.6 75.6L80.7 74.9L81.9 73.9L83.1 72.7L84.1 71.3L84.8 69.8L85.3 68.1L85.4 66.3L85.1 64.6L84.1 63.0L82.6 61.6L80.6 60.3L79.1 59.4L78.0 58.8L77.4 58.5L77.2 58.5L76.8 59.1L76.2 60.1L75.2 61.8L74.0 63.9L73.4 66.1L73.3 68.3L73.8 70.5L74.8 72.8L75.8 74.5L76.8 75.6ZM70.3 10.9L71.2 8.3L71.9 6.2L72.2 4.6L72.2 3.4L71.8 2.6L71.3 1.8L70.4 1.0L69.3 0.2L67.9 -0.7L66.3 -1.4L64.5 -1.8L62.5 -2.0L60.3 -1.9L58.5 -1.7L57.1 -1.2L56.0 -0.6L55.2 0.2L54.9 1.6L54.9 3.4L55.2 5.8L56.0 8.7L56.9 11.1L57.9 13.0L59.1 14.5L60.4 15.5L61.8 16.0L63.3 16.3L64.9 16.1L66.5 15.5L68.0 14.5L69.2 12.9ZM69.4 45.8L68.4 46.6L67.7 47.2L67.1 47.6L66.7 47.7L66.5 47.7L65.8 47.2L64.7 46.3L63.2 44.9L61.2 43.1L60.1 41.1L60.0 39.0L60.7 36.9L62.4 34.6L64.0 32.9L65.4 32.0L66.8 31.7L68.0 32.1L69.0 33.1L69.7 34.8L70.2 37.2L70.4 40.2L70.4 42.6L70.0 44.5ZM67.9 128.7L65.0 161.1L62.4 180.4L60.0 186.6L57.9 179.7L56.2 159.6L55.1 141.2L54.6 124.5L54.9 109.4L55.8 96.0L56.6 85.8L57.2 79.1L57.7 75.6L58.1 75.5L59.2 75.6L61.1 76.2L63.7 77.1L67.2 78.3L69.0 87.3L69.3 104.1ZM26.6 56.6L28.0 54.0L28.8 51.8L29.1 50.0L29.0 48.7L28.2 47.7L27.1 47.0L25.5 46.4L23.4 46.0L20.9 45.8L18.8 46.0L17.2 46.7L15.9 47.8L15.1 49.4L14.5 50.7L14.1 51.8L14.0 52.6L14.2 53.1L14.9 54.0L16.2 55.1L18.2 56.5L20.7 58.1L23.0 58.6L24.9 58.1ZM42.7 13.2L43.9 15.3L45.6 16.6L47.6 17.0L50.0 16.5L52.9 15.1L54.8 13.4L55.8 11.2L56.0 8.7L55.2 5.8L54.5 3.6L53.8 2.2L53.1 1.5L52.4 1.4L51.3 2.0L49.6 3.0L47.5 4.6L44.8 6.7L43.1 8.9L42.4 11.0ZM-0.0 39.5L-0.6 38.8L-0.9 37.6L-0.8 36.1L-0.3 34.1L0.5 31.7L1.5 29.8L2.7 28.2L4.1 27.1L5.7 26.5L7.4 26.3L9.3 26.6L11.2 27.3L13.3 28.6L14.7 30.1L15.5 31.9L15.6 33.9L15.0 36.2L13.8 38.0L11.8 39.2L9.2 40.0L5.9 40.2L3.2 40.2L1.2 39.9ZM25.0 72.6L25.5 76.2L25.5 79.5L25.0 82.5L23.9 85.2L22.2 87.7L20.3 88.3L18.1 87.2L15.7 84.2L13.0 79.4L11.0 75.6L9.9 72.7L9.5 70.8L10.0 69.8L11.1 69.0L13.0 68.3L15.7 67.9L19.0 67.6L21.7 68.3L23.7 69.9ZM56.9 60.7L54.5 60.6L52.6 60.6L50.9 60.9L49.7 61.4L48.8 62.1L48.4 63.3L48.5 65.0L49.1 67.2L50.2 70.0L51.3 72.1L52.5 73.7L53.8 74.7L55.2 75.1L56.3 75.4L57.1 75.6L57.7 75.6L58.1 75.5L58.6 74.7L59.4 73.4L60.3 71.5L61.5 69.0L62.3 67.0L62.8 65.3L62.9 64.1L62.6 63.4L62.3 62.7L61.9 62.2L61.5 61.7L61.1 61.4L60.2 61.2L58.8 60.9ZM15.0 36.2L15.6 33.9L16.1 32.1L16.4 30.9L16.7 30.3L17.0 30.2L17.6 30.2L18.6 30.3L19.9 30.5L21.7 30.8L23.4 31.5L25.0 32.6L26.6 34.0L28.1 35.8L29.0 37.6L29.4 39.5L29.2 41.4L28.4 43.4L27.1 44.8L25.5 45.7L23.4 46.0L20.9 45.8L18.9 45.3L17.2 44.4L16.1 43.3L15.3 41.8L14.9 40.2L14.8 38.3ZM100.1 69.2L98.3 71.0L96.2 72.2L94.0 72.7L91.6 72.6L88.9 71.9L87.0 70.9L85.8 69.6L85.3 68.1L85.4 66.3L85.9 64.7L86.7 63.4L87.9 62.3L89.3 61.4L91.1 61.2L93.3 61.5L95.8 62.5L98.6 64.1L100.3 65.7L100.8 67.5ZM-0.3 34.1L0.5 31.7L0.6 29.6L0.2 27.8L-0.8 26.3L-2.4 25.1L-6.7 25.0L-13.8 26.2L-23.5 28.4L-36.0 31.8L-42.1 34.5L-41.7 36.3L-34.8 37.3L-21.5 37.4L-11.3 37.0L-4.3 35.9ZM-16.1 52.2L-27.1 53.0L-41.0 53.0L-57.8 52.4L-77.6 50.9L-100.2 48.8L-112.3 46.6L-113.7 44.5L-104.4 42.3L-84.6 40.2L-66.3 38.6L-49.8 37.6L-34.8 37.3L-21.5 37.4L-11.4 37.8L-4.4 38.2L-0.6 38.8L-0.0 39.5L0.4 40.6L0.6 42.3L0.7 44.4L0.6 47.1L-2.2 49.2L-7.8 50.9ZM63.7 49.2L62.2 50.3L61.0 51.7L60.3 53.3L60.0 55.3L60.2 57.6L60.4 59.3L60.7 60.6L61.1 61.4L61.5 61.7L62.3 61.5L63.5 60.8L65.0 59.6L66.9 57.8L68.1 56.0L68.7 54.2L68.7 52.4L68.0 50.5L67.5 49.1L67.0 48.2L66.7 47.7L66.5 47.7L65.9 47.9L65.0 48.5ZM81.5 15.5L83.3 12.1L84.7 9.5L85.7 7.8L86.4 6.8L86.6 6.7L87.4 7.1L88.5 8.1L90.2 9.6L92.2 11.7L93.7 13.4L94.7 14.7L95.0 15.7L94.8 16.4L93.7 17.2L91.8 18.4L89.1 19.7L85.6 21.4L82.9 22.4L81.0 22.8L79.8 22.6L79.5 21.8L79.6 20.3L80.3 18.2ZM77.7 76.1L78.6 76.0L79.9 76.6L81.6 77.8L83.7 79.8L86.1 82.4L86.8 125.6L85.6 209.4L82.6 333.7L77.7 498.6L73.5 588.8L69.8 604.3L66.8 544.9L64.3 410.8L63.2 302.2L63.4 218.9L65.0 161.1L67.9 128.7L70.4 104.1L72.4 87.5L73.9 78.6L74.9 77.7L75.9 76.9L76.8 76.4ZM91.1 38.6L91.7 39.6L94.5 40.5L99.6 41.4L106.8 42.2L116.2 43.1L125.1 43.6L133.5 43.9L141.4 43.8L148.8 43.4L150.4 42.2L146.2 40.1L136.2 37.2L120.4 33.4L108.2 30.7L99.5 29.2L94.4 29.0L92.9 29.8L91.8 30.9L91.0 32.1L90.5 33.4L90.4 34.9L90.4 36.3L90.7 37.5ZM86.4 6.8L86.6 6.7L87.0 6.3L87.4 5.4L87.9 4.2L88.5 2.7L88.7 1.2L88.5 -0.2L87.9 -1.6L86.9 -3.0L85.7 -4.1L84.3 -4.8L82.8 -5.3L81.1 -5.4L79.4 -5.1L77.7 -4.3L75.9 -3.0L74.1 -1.2L72.8 0.3L72.1 1.6L71.8 2.6L72.2 3.4L73.2 4.1L75.0 4.8L77.6 5.4L81.0 6.1L83.5 6.5L85.3 6.8ZM29.6 65.7L32.5 65.6L34.9 65.4L36.8 64.9L38.3 64.2L39.2 63.2L39.8 61.9L39.9 60.2L39.6 58.2L38.9 55.7L37.8 53.8L36.5 52.3L34.9 51.3L32.9 50.8L31.1 51.1L29.5 52.1L28.0 54.0L26.6 56.6L25.6 58.9L25.0 60.8L24.8 62.5L25.0 63.8L25.8 64.7L27.4 65.4ZM27.5 0.4L29.8 1.8L31.6 3.1L32.9 4.3L33.7 5.5L34.0 6.6L33.8 7.9L33.2 9.4L32.2 11.0L30.8 12.9L29.4 14.3L28.0 15.2L26.6 15.7L25.3 15.7L23.7 15.3L21.9 14.5L20.0 13.2L17.9 11.6L16.3 10.3L15.3 9.3L14.8 8.7L14.8 8.4L15.4 7.6L16.5 6.2L18.3 4.4L20.5 2.0L22.8 0.5L25.1 0.0ZM68.2 -8.2L69.8 -12.4L70.2 -44.4L69.3 -104.3L67.3 -192.1L64.0 -307.8L60.7 -369.1L57.4 -375.8L54.1 -328.2L50.9 -226.0L49.1 -145.0L48.9 -85.0L50.1 -46.2L52.9 -28.5L55.5 -15.2L58.0 -6.3L60.3 -1.9L62.5 -2.0L64.6 -3.0L66.5 -5.1ZM73.5 31.4L72.0 31.9L70.6 32.2L69.3 32.2L68.0 32.1L66.8 31.7L65.6 31.1L64.6 30.2L63.6 29.2L62.7 27.8L62.1 26.3L61.8 24.5L61.7 22.5L62.0 20.3L62.6 18.5L63.6 17.1L64.9 16.1L66.5 15.5L68.4 15.5L70.4 15.9L72.7 16.9L75.2 18.4L77.1 19.7L78.6 20.8L79.5 21.8L79.8 22.6L80.1 23.2L80.3 23.7L80.4 23.9L80.4 24.0L80.1 24.5L79.5 25.4L78.6 26.6L77.5 28.2L76.2 29.5L74.9 30.6ZM-5.6 167.4L-9.5 228.8L-10.2 260.5L-7.7 262.5L-2.1 234.8L6.6 177.4L12.5 133.2L15.5 102.1L15.7 84.2L13.0 79.4L10.4 76.1L7.9 74.1L5.6 73.4L3.4 74.2L0.8 90.1L-2.2 121.2ZM12.3 10.8L10.6 11.9L9.4 13.4L8.5 15.5L8.1 18.0L8.1 21.0L8.6 23.5L9.7 25.7L11.2 27.3L13.3 28.6L14.9 29.5L16.1 30.1L16.7 30.3L17.0 30.2L17.5 29.2L18.3 27.4L19.5 24.7L21.0 21.1L21.5 18.0L21.2 15.4L20.0 13.2L17.9 11.6L15.9 10.6L14.0 10.4ZM141.4 43.8L148.8 43.4L158.5 43.5L170.3 43.8L184.4 44.5L200.7 45.6L205.3 47.6L198.2 50.5L179.3 54.4L148.8 59.2L125.1 62.5L108.4 64.1L98.6 64.1L95.8 62.5L93.7 60.9L92.3 59.3L91.7 57.6L91.8 56.0L94.2 54.1L99.1 52.2L106.3 50.0L115.9 47.7L124.9 45.9L133.5 44.6ZM5.8 51.7L9.0 51.7L11.6 51.3L13.6 50.5L15.1 49.4L15.9 47.8L16.3 46.3L16.4 44.8L16.1 43.3L15.3 41.8L13.9 40.8L11.9 40.2L9.2 40.0L5.9 40.2L3.3 41.0L1.6 42.4L0.7 44.4L0.6 47.1L0.6 49.1L0.6 50.5L0.7 51.3L0.8 51.4L1.7 51.6L3.4 51.7ZM4.5 -3.1L2.6 -3.1L0.9 -2.8L-0.6 -2.2L-1.7 -1.3L-2.7 -0.1L-3.2 1.5L-3.3 3.3L-3.1 5.4L-2.4 7.8L-1.4 9.8L0.2 11.2L2.1 12.2L4.5 12.7L6.7 12.9L8.8 12.6L10.6 11.9L12.3 10.8L13.5 9.9L14.3 9.2L14.8 8.7L14.8 8.4L14.4 7.5L13.4 6.0L12.1 3.8L10.2 1.1L8.3 -1.0L6.4 -2.4ZM79.8 46.9L80.5 47.9L80.8 49.2L80.7 50.8L80.1 52.7L79.1 55.0L78.3 56.7L77.7 57.9L77.4 58.5L77.2 58.5L76.7 58.3L75.7 57.9L74.3 57.3L72.4 56.4L70.9 55.3L69.6 54.0L68.7 52.4L68.0 50.5L67.8 49.0L67.9 47.6L68.4 46.6L69.4 45.8L70.6 45.3L72.1 45.0L73.8 45.0L75.8 45.2L77.4 45.6L78.8 46.2ZM51.7 49.5L51.5 49.0L50.8 48.5L49.7 48.1L48.2 47.7L46.2 47.3L44.4 47.3L42.8 47.8L41.2 48.7L39.8 50.0L39.0 51.7L38.7 53.6L38.9 55.7L39.6 58.2L40.6 60.1L41.8 61.5L43.2 62.3L44.9 62.7L46.4 62.7L47.7 62.6L48.8 62.1L49.7 61.4L50.4 60.2L51.0 58.6L51.4 56.5L51.7 54.0L51.9 51.9L51.9 50.4ZM6.6 63.8L4.4 62.2L2.7 60.6L1.6 58.7L1.1 56.8L1.1 54.8L1.9 53.2L3.5 52.2L5.8 51.7L9.0 51.7L11.4 51.9L13.1 52.1L14.0 52.6L14.2 53.1L14.0 54.3L13.5 56.2L12.7 58.6L11.6 61.6L10.2 63.5L8.5 64.3ZM6.6 63.8L4.4 62.2L2.3 61.3L0.4 61.1L-1.3 61.4L-2.9 62.5L-3.9 63.9L-4.3 65.7L-4.1 67.8L-3.3 70.4L-2.6 72.4L-1.9 73.8L-1.3 74.6L-0.7 74.9L0.3 74.9L1.7 74.7L3.4 74.2L5.6 73.4L7.4 72.6L8.7 71.7L9.5 70.8L10.0 69.8L10.2 68.9L10.4 68.2L10.3 67.5L10.1 67.0L9.5 66.2L8.3 65.1ZM62.6 63.4L62.9 64.1L63.6 64.8L64.9 65.4L66.6 66.0L68.9 66.4L70.8 66.2L72.6 65.4L74.0 63.9L75.2 61.8L75.7 59.9L75.3 58.4L74.3 57.3L72.4 56.4L70.6 56.2L68.7 56.7L66.9 57.8L65.0 59.6L63.7 61.1L62.9 62.3ZM91.1 38.6L91.7 39.6L92.0 40.8L91.8 42.3L91.2 44.2L90.3 46.3L89.1 47.8L87.7 48.9L86.1 49.4L84.3 49.4L82.8 49.1L81.5 48.6L80.5 47.9L79.8 46.9L79.4 45.8L79.4 44.5L79.7 43.0L80.3 41.4L81.3 40.1L82.8 39.0L84.6 38.3L86.8 37.9L88.6 37.8L90.1 38.0ZM-84.6 40.2L-104.4 42.3L-136.3 44.1L-180.3 45.6L-236.4 46.7L-304.5 47.5L-330.3 45.9L-313.9 41.8L-255.2 35.2L-154.3 26.2L-78.7 20.1L-28.4 17.0L-3.6 16.7L-4.1 19.3L-7.6 22.2L-14.1 25.2L-23.5 28.4L-36.0 31.8L-50.4 34.9L-66.5 37.7ZM39.1 -9.8L38.4 -13.0L38.4 -18.8L39.1 -27.3L40.5 -38.4L42.7 -52.2L45.0 -58.0L47.5 -56.1L50.1 -46.2L52.9 -28.5L54.8 -14.9L55.8 -5.7L56.0 -0.6L55.2 0.2L54.5 0.8L53.8 1.3L53.1 1.5L52.4 1.4L51.2 1.0L49.5 0.2L47.2 -1.0L44.4 -2.6L42.2 -4.6L40.4 -7.0ZM39.7 36.3L40.6 37.0L41.4 38.0L42.0 39.4L42.5 41.2L42.8 43.4L42.7 45.3L42.2 47.1L41.2 48.7L39.8 50.0L38.3 50.9L36.7 51.4L34.9 51.3L32.9 50.8L31.3 50.2L30.0 49.5L29.0 48.7L28.2 47.7L27.9 46.5L27.9 45.1L28.4 43.4L29.2 41.4L30.3 39.7L31.7 38.4L33.4 37.3L35.4 36.5L37.1 36.1L38.5 36.0ZM43.2 62.3L44.9 62.7L46.4 63.6L47.8 65.1L49.1 67.2L50.2 70.0L50.4 72.3L49.7 74.4L48.1 76.2L45.7 77.6L43.6 78.6L41.9 79.1L40.6 79.1L39.6 78.6L38.8 77.5L38.2 75.7L37.7 73.3L37.4 70.2L37.3 67.6L37.6 65.6L38.3 64.2L39.2 63.2L40.4 62.6L41.7 62.3ZM62.4 34.6L60.7 36.9L59.4 38.6L58.3 39.8L57.6 40.4L57.2 40.5L56.4 40.1L55.4 39.4L54.0 38.3L52.3 36.7L51.2 35.2L50.6 33.7L50.5 32.3L50.9 30.8L51.8 29.6L53.2 28.5L55.2 27.6L57.6 26.9L59.7 26.7L61.4 27.0L62.7 27.8L63.6 29.2L63.8 30.7L63.4 32.5ZM63.2 44.9L61.2 43.1L59.6 41.7L58.4 40.8L57.6 40.4L57.2 40.5L56.5 41.0L55.6 42.0L54.5 43.5L53.1 45.4L52.1 47.0L51.6 48.2L51.5 49.0L51.7 49.5L52.4 49.9L53.5 50.4L55.0 50.8L56.9 51.2L58.8 51.3L60.5 51.0L62.2 50.3L63.7 49.2L64.4 48.0L64.2 46.5ZM86.1 49.4L84.3 49.4L82.7 49.9L81.3 51.0L80.1 52.7L79.1 55.0L78.8 57.0L79.3 58.8L80.6 60.3L82.6 61.6L84.5 62.4L86.3 62.6L87.9 62.3L89.3 61.4L90.4 60.3L91.2 59.1L91.7 57.6L91.8 56.0L91.6 54.5L91.3 53.1L90.8 51.9L90.0 50.9L89.0 50.2L87.7 49.7ZM1.1 54.8L1.1 56.8L0.7 58.6L-0.1 60.1L-1.3 61.4L-2.9 62.5L-6.5 62.6L-12.1 61.9L-19.6 60.3L-29.2 57.9L-33.6 55.8L-32.9 54.2L-27.1 53.0L-16.1 52.2L-7.8 51.6L-2.2 51.3L0.7 51.3L0.8 51.4L0.9 52.1L1.0 53.2ZM36.8 8.9L38.4 9.3L39.9 10.2L41.4 11.4L42.7 13.2L43.9 15.3L44.8 17.2L45.3 18.6L45.3 19.8L45.1 20.5L44.4 21.3L43.3 22.2L41.9 23.0L40.2 23.8L38.6 24.4L37.3 24.6L36.2 24.5L35.3 24.1L34.3 23.3L33.2 22.1L32.0 20.6L30.7 18.6L30.1 16.7L30.1 14.8L30.8 12.9L32.2 11.0L33.7 9.8L35.2 9.0ZM25.0 63.8L24.8 62.5L24.0 61.1L22.7 59.6L20.7 58.1L18.2 56.5L16.0 56.0L14.2 56.7L12.7 58.6L11.6 61.6L10.8 64.0L10.3 65.8L10.1 67.0L10.3 67.5L11.3 67.8L13.1 68.0L15.7 67.9L19.0 67.6L21.7 67.3L23.5 67.0L24.5 66.6L24.8 66.3L25.0 65.7L25.1 64.8ZM21.0 21.1L19.5 24.7L18.8 27.4L19.0 29.4L19.9 30.5L21.7 30.8L23.6 30.6L25.7 29.8L28.0 28.4L30.4 26.4L31.9 24.5L32.4 22.5L32.0 20.6L30.7 18.6L29.4 17.2L28.0 16.2L26.6 15.7L25.3 15.7L23.9 16.6L22.4 18.4ZM86.8 37.9L84.6 38.3L82.6 38.1L80.7 37.3L79.1 35.8L77.8 33.7L77.0 31.8L76.9 29.9L77.5 28.2L78.6 26.6L80.2 25.8L82.0 25.9L84.3 26.8L86.8 28.5L88.7 30.2L90.0 31.9L90.5 33.4L90.4 34.9L89.7 36.2L88.5 37.1ZM27.5 0.4L29.8 1.8L32.0 2.3L34.0 1.8L35.9 0.5L37.6 -1.7L38.8 -4.2L39.2 -6.9L39.1 -9.8L38.4 -13.0L37.0 -14.5L34.9 -14.3L32.2 -12.4L28.8 -8.8L26.3 -6.0L24.7 -4.0L23.9 -2.8L23.9 -2.3L24.5 -1.6L25.7 -0.7ZM80.3 41.4L79.7 43.0L78.7 44.2L77.4 44.9L75.8 45.2L73.8 45.0L72.2 44.1L71.1 42.5L70.4 40.2L70.2 37.2L70.4 34.8L71.0 33.0L72.0 31.9L73.5 31.4L74.9 31.5L76.4 32.3L77.8 33.7L79.1 35.8L80.0 37.8L80.4 39.7ZM57.6 26.9L55.2 27.6L52.9 27.7L50.8 27.2L48.9 26.0L47.2 24.3L46.0 22.8L45.3 21.6L45.1 20.5L45.3 19.8L46.3 18.8L47.8 17.7L50.0 16.5L52.9 15.1L55.3 14.3L57.4 14.1L59.1 14.5L60.4 15.5L61.4 16.7L61.9 18.4L62.0 20.3L61.7 22.5L60.9 24.4L59.6 25.8ZM46.3 98.4L49.2 110.9L51.6 116.8L53.5 116.4L54.9 109.4L55.8 96.0L56.2 85.8L55.9 78.8L55.2 75.1L53.8 74.7L52.2 74.7L50.3 75.2L48.1 76.2L45.7 77.6L44.5 81.8L44.7 88.7ZM4.1 27.1L5.7 26.5L6.9 25.2L7.7 23.4L8.1 21.0L8.1 18.0L7.5 15.6L6.3 13.9L4.5 12.7L2.1 12.2L0.2 11.9L-1.1 11.8L-2.0 11.9L-2.3 12.3L-2.7 13.2L-3.1 14.6L-3.6 16.7L-4.1 19.3L-4.0 21.6L-3.5 23.5L-2.4 25.1L-0.8 26.3L0.8 27.1L2.5 27.3ZM74.8 72.8L73.8 70.5L72.4 68.7L70.8 67.3L68.9 66.4L66.6 66.0L64.7 66.3L62.9 67.3L61.5 69.0L60.3 71.5L60.3 73.7L61.5 75.5L63.7 77.1L67.2 78.3L70.0 78.9L72.2 79.1L73.9 78.6L74.9 77.7L75.4 76.4L75.4 74.8ZM67.9 -0.7L69.3 0.2L70.8 0.4L72.4 -0.1L74.1 -1.2L75.9 -3.0L76.8 -5.1L76.9 -7.6L76.2 -10.5L74.6 -13.7L73.0 -15.1L71.4 -14.7L69.8 -12.4L68.2 -8.2L67.4 -4.9L67.3 -2.4ZM91.2 44.2L90.3 46.3L89.8 48.1L89.7 49.6L90.0 50.9L90.8 51.9L93.7 52.1L98.9 51.5L106.3 50.0L115.9 47.7L120.7 45.8L120.8 44.3L116.2 43.1L106.8 42.2L99.5 42.1L94.3 42.8ZM35.9 0.5L37.6 -1.7L39.6 -3.0L41.9 -3.3L44.4 -2.6L47.2 -1.0L48.7 0.8L48.7 2.6L47.5 4.6L44.8 6.7L42.4 8.2L40.3 9.1L38.4 9.3L36.8 8.9L35.5 8.3L34.6 7.5L34.0 6.6L33.7 5.5L33.9 4.1L34.7 2.4ZM56.9 60.7L54.5 60.6L52.8 59.8L51.8 58.5L51.4 56.5L51.7 54.0L52.4 52.2L53.5 51.1L55.0 50.8L56.9 51.2L58.4 52.1L59.4 53.5L60.0 55.3L60.2 57.6L59.7 59.2L58.6 60.3ZM54.0 38.3L52.3 36.7L50.6 35.8L48.8 35.5L46.9 35.7L44.9 36.6L43.6 37.8L42.8 39.3L42.5 41.2L42.8 43.4L43.6 45.1L44.7 46.4L46.2 47.3L48.2 47.7L49.9 47.5L51.6 46.7L53.1 45.4L54.5 43.5L55.1 41.6L54.9 39.9ZM29.6 65.7L32.5 65.6L34.7 66.4L36.4 67.9L37.4 70.2L37.7 73.3L37.2 75.8L35.9 77.8L33.8 79.3L30.8 80.2L28.5 80.0L26.7 78.6L25.5 76.2L25.0 72.6L24.6 69.8L24.5 67.8L24.5 66.6L24.8 66.3L25.8 66.0L27.4 65.8ZM88.9 71.9L91.6 72.6L93.5 73.6L94.9 74.7L95.5 76.1L95.5 77.7L95.1 79.3L94.4 80.9L93.4 82.5L91.9 84.0L90.3 84.5L88.3 84.0L86.1 82.4L83.7 79.8L82.2 77.5L81.6 75.5L81.9 73.9L83.1 72.7L84.7 71.9L86.7 71.7ZM92.9 29.8L94.4 29.0L95.4 27.6L95.9 25.9L95.8 23.8L95.2 21.2L93.9 19.7L91.9 19.2L89.1 19.7L85.6 21.4L83.0 22.6L81.3 23.5L80.4 23.9L80.4 24.0L81.0 24.6L82.3 25.5L84.3 26.8L86.8 28.5L89.1 29.6L91.2 30.1ZM20.5 2.0L18.3 4.4L16.1 5.5L14.0 5.3L12.1 3.8L10.2 1.1L8.9 -1.1L8.2 -2.8L8.1 -3.9L8.5 -4.4L9.4 -5.1L10.8 -5.7L12.7 -6.4L15.1 -7.2L17.2 -7.5L19.1 -7.3L20.6 -6.5L21.9 -5.3L22.9 -4.3L23.5 -3.4L23.9 -2.8L23.9 -2.3L23.4 -1.3L22.2 0.1ZM81.5 15.5L83.3 12.1L83.8 9.4L83.0 7.4L81.0 6.1L77.6 5.4L74.9 5.6L72.8 6.6L71.2 8.3L70.3 10.9L70.3 13.1L71.1 15.1L72.7 16.9L75.2 18.4L77.5 18.6L79.6 17.6ZM37.8 28.9L38.0 31.5L37.7 33.6L36.8 35.3L35.4 36.5L33.4 37.3L31.5 37.4L29.7 36.9L28.1 35.8L26.6 34.0L26.1 32.2L26.5 30.3L28.0 28.4L30.4 26.4L32.4 25.1L34.0 24.3L35.3 24.1L36.2 24.5L36.9 25.4L37.4 26.9Z" fill="none" stroke="#e3849f" stroke-width="0.9"/>
<path d="M77.0 58.6L76.0 58.1" stroke="#dc6e92" stroke-width="1.2" stroke-linecap="round" opacity="0.8"/><path d="M14.8 7.9L12.0 3.8" stroke="#dc6e92" stroke-width="1.9" stroke-linecap="round" opacity="0.8"/><path d="M85.7 63.6L86.6 63.0" stroke="#dc6e92" stroke-width="1.7" stroke-linecap="round" opacity="0.8"/><path d="M69.7 55.1L69.2 53.8" stroke="#dc6e92" stroke-width="1.9" stroke-linecap="round" opacity="0.8"/><path d="M69.8 32.7L70.0 34.7" stroke="#dc6e92" stroke-width="1.7" stroke-linecap="round" opacity="0.8"/><path d="M28.7 15.7L30.3 13.6" stroke="#dc6e92" stroke-width="1.6" stroke-linecap="round" opacity="0.8"/><path d="M8.9 72.3L9.3 71.4" stroke="#dc6e92" stroke-width="1.1" stroke-linecap="round" opacity="0.8"/><path d="M42.0 37.9L44.0 37.0" stroke="#dc6e92" stroke-width="1.5" stroke-linecap="round" opacity="0.8"/><path d="M62.4 16.9L63.6 16.5" stroke="#dc6e92" stroke-width="1.8" stroke-linecap="round" opacity="0.8"/><path d="M14.7 9.1L14.7 9.0" stroke="#dc6e92" stroke-width="1.3" stroke-linecap="round" opacity="0.8"/><path d="M54.1 1.5L54.6 3.3" stroke="#dc6e92" stroke-width="1.4" stroke-linecap="round" opacity="0.8"/><path d="M81.2 38.9L82.6 38.7" stroke="#dc6e92" stroke-width="1.7" stroke-linecap="round" opacity="0.8"/>
</g>
<rect x="184.2" y="234.0" width="15.6" height="3.5" fill="#f4f4f4" opacity="0.8"/>
<rect x="185.0" y="234.8" width="14" height="1.9" fill="#111"/>
<g transform="translate(208,166)" clip-path="url(#clip6)">
<rect width="90" height="74.7" fill="#e8dde2"/>
<path d="M81.1 3.7L83.0 3.4L84.4 2.8L85.5 1.8L86.1 0.5L86.4 -1.2L86.3 -2.9L85.7 -4.6L84.8 -6.3L83.5 -8.0L82.0 -8.8L80.6 -8.7L79.0 -7.8L77.4 -6.0L76.2 -4.3L75.6 -2.6L75.5 -0.9L75.9 0.7L76.3 2.0L76.7 2.9L77.2 3.5L77.7 3.7L78.5 3.8L79.7 3.8ZM36.9 47.0L34.3 46.6L32.2 45.9L30.6 45.0L29.6 43.8L29.1 42.4L29.0 41.1L29.1 39.8L29.6 38.6L30.4 37.4L31.6 36.9L33.1 36.9L34.9 37.5L37.2 38.6L38.8 40.0L40.0 41.5L40.6 43.1L40.7 44.9L40.1 46.2L38.8 46.9ZM8.3 58.6L7.1 58.7L5.8 59.2L4.5 59.9L3.1 60.9L1.8 62.1L0.7 63.2L0.0 64.0L-0.4 64.6L-0.4 65.0L-0.2 65.5L0.1 66.2L0.7 66.9L1.5 67.9L2.6 68.7L3.9 69.3L5.5 69.9L7.4 70.3L9.0 70.4L10.4 70.3L11.5 70.0L12.3 69.3L12.9 68.6L13.4 67.6L13.8 66.5L14.0 65.1L13.9 63.9L13.5 62.6L12.8 61.4L11.8 60.2L10.7 59.3L9.5 58.8ZM43.2 61.8L44.6 61.1L45.8 60.4L46.8 59.6L47.5 58.8L47.9 57.9L48.2 56.9L48.4 55.8L48.5 54.5L48.5 53.0L48.4 51.8L48.2 51.0L48.0 50.4L47.7 50.1L47.1 49.8L46.2 49.4L44.9 49.0L43.3 48.5L41.8 48.7L40.4 49.6L39.1 51.1L37.8 53.3L37.2 55.3L37.2 57.1L37.8 58.8L39.1 60.4L40.4 61.4L41.8 61.9ZM67.7 42.4L65.7 43.0L63.9 43.1L62.4 42.6L61.0 41.5L59.8 39.9L59.0 38.4L58.5 37.0L58.3 35.8L58.5 34.7L59.2 33.5L60.2 32.3L61.7 31.0L63.6 29.6L65.3 28.6L66.8 28.0L68.0 27.9L69.1 28.1L70.1 28.6L71.1 29.5L71.9 30.6L72.7 32.1L73.1 33.6L73.1 35.2L72.7 37.0L71.9 38.8L70.8 40.3L69.4 41.5ZM23.8 18.1L22.8 18.7L21.6 18.8L20.3 18.3L18.9 17.4L17.4 15.9L16.6 14.6L16.5 13.3L17.2 12.2L18.5 11.1L19.8 10.4L21.1 10.1L22.3 10.1L23.5 10.4L24.4 10.8L25.2 11.3L25.7 11.9L26.1 12.5L26.3 13.2L26.3 14.0L26.2 14.9L25.9 15.8L25.4 16.7L24.7 17.5ZM47.8 22.1L48.7 22.9L50.1 23.0L52.0 22.4L54.4 21.1L57.3 19.1L59.5 17.6L60.9 16.5L61.7 15.9L61.7 15.8L61.6 15.5L61.3 15.1L60.9 14.5L60.3 13.7L59.3 13.0L57.7 12.3L55.7 11.7L53.2 11.0L51.3 10.6L49.9 10.3L49.1 10.2L48.8 10.3L48.4 10.7L47.9 11.4L47.3 12.5L46.7 14.0L46.2 15.3L46.0 16.6L45.9 17.8L46.2 19.0L46.5 20.1L47.1 21.1ZM63.5 71.1L65.8 71.3L67.6 71.0L69.2 70.3L70.3 69.2L71.1 67.6L71.2 66.0L70.7 64.5L69.4 63.0L67.5 61.5L65.7 60.4L64.0 59.8L62.5 59.6L61.2 59.9L60.1 60.1L59.4 60.2L58.9 60.4L58.8 60.5L58.7 60.8L58.5 61.4L58.3 62.2L58.0 63.2L57.9 64.3L58.1 65.6L58.5 67.0L59.2 68.5L60.2 69.7L61.7 70.5ZM15.1 37.2L16.8 36.5L18.1 35.8L19.0 35.1L19.6 34.5L19.7 34.0L19.5 33.4L19.1 32.5L18.4 31.6L17.4 30.4L16.2 29.7L14.8 29.4L13.3 29.6L11.6 30.1L10.5 31.0L10.1 32.2L10.3 33.7L11.2 35.6L12.3 36.8L13.6 37.3ZM-45.3 -1.7L-28.8 -3.0L-16.2 -3.8L-7.4 -4.1L-2.5 -3.9L-1.5 -3.1L-0.7 -2.1L-0.1 -0.7L0.2 1.0L0.4 2.9L-0.6 4.6L-2.7 6.1L-6.0 7.3L-10.5 8.3L-17.2 8.4L-26.1 7.7L-37.1 6.2L-50.3 3.9L-56.1 1.8L-54.4 -0.0ZM88.0 77.6L86.1 76.4L84.4 75.7L82.7 75.6L81.1 76.1L79.6 77.1L79.3 79.1L80.0 82.2L81.9 86.3L85.0 91.4L87.3 94.1L89.0 94.2L89.9 91.7L90.2 86.8L90.0 82.8L89.2 79.7ZM83.6 72.2L83.8 70.6L83.6 69.3L83.1 68.1L82.4 67.1L81.3 66.3L80.1 65.7L78.7 65.3L77.1 65.1L75.3 65.0L74.0 65.0L73.0 65.0L72.5 65.1L72.4 65.1L72.2 65.5L71.7 66.4L71.1 67.6L70.3 69.2L69.8 70.8L69.7 72.3L69.9 73.9L70.5 75.4L71.3 76.6L72.3 77.4L73.6 78.0L75.1 78.2L76.6 78.1L78.1 77.7L79.6 77.1L81.1 76.1L82.3 74.9L83.1 73.6ZM79.1 44.8L80.4 43.8L81.7 43.4L83.0 43.5L84.2 44.2L85.5 45.6L86.1 46.9L86.1 48.3L85.4 49.8L84.1 51.3L83.1 52.4L82.4 53.1L82.0 53.5L81.8 53.4L81.4 52.9L80.8 52.0L79.9 50.7L78.8 49.0L78.3 47.4L78.4 46.0ZM20.2 7.0L19.9 5.4L19.2 4.1L18.1 3.3L16.6 2.9L14.7 2.9L13.1 3.1L11.9 3.5L11.0 4.1L10.5 4.8L10.4 5.9L10.7 7.2L11.4 8.9L12.5 10.8L13.4 12.3L14.0 13.3L14.5 13.7L14.7 13.8L15.3 13.5L16.1 13.0L17.2 12.2L18.5 11.1L19.5 9.9L20.0 8.6ZM35.6 21.9L36.5 22.6L37.1 23.4L37.5 24.5L37.7 25.7L37.6 27.1L37.2 28.5L36.4 29.7L35.3 30.9L33.7 31.9L32.3 32.4L31.0 32.4L29.7 31.8L28.6 30.7L27.8 29.9L27.2 29.3L26.9 28.9L26.9 28.9L27.2 28.4L27.6 27.5L28.4 26.2L29.4 24.6L30.3 23.3L31.2 22.3L32.1 21.7L33.0 21.4L33.9 21.4L34.7 21.5ZM10.9 76.1L10.7 74.0L10.0 72.4L8.9 71.1L7.4 70.3L5.5 69.9L3.9 70.2L2.5 71.2L1.4 72.9L0.5 75.3L0.3 77.4L0.7 79.2L1.8 80.8L3.5 82.1L5.1 82.8L6.6 82.9L8.0 82.3L9.3 81.1L10.3 79.7L10.8 78.0ZM-5.2 38.7L-3.8 39.8L-2.9 40.9L-2.4 42.0L-2.4 43.1L-2.8 44.2L-3.4 45.1L-4.2 45.8L-5.1 46.4L-6.3 46.8L-8.1 46.8L-10.7 46.3L-13.9 45.4L-18.0 44.1L-19.9 42.7L-19.8 41.4L-17.7 40.2L-13.5 38.9L-10.0 38.2L-7.2 38.2ZM103.0 28.0L100.6 26.5L98.5 25.4L96.7 24.7L95.1 24.6L93.9 24.9L92.9 25.4L92.3 26.3L91.9 27.4L91.9 28.9L92.3 30.0L93.2 31.0L94.5 31.7L96.3 32.2L98.1 32.4L100.0 32.4L101.9 32.0L103.8 31.4L104.6 30.5L104.4 29.4ZM4.3 18.3L5.7 18.9L6.8 19.3L7.6 19.6L8.1 19.7L8.3 19.6L8.8 19.2L9.6 18.5L10.7 17.4L12.1 15.9L12.8 14.3L13.0 12.6L12.5 10.8L11.4 8.9L10.1 7.5L8.6 6.6L6.9 6.3L4.9 6.5L3.5 7.4L2.5 8.8L2.1 10.8L2.2 13.4L2.6 15.6L3.3 17.2ZM30.6 79.0L29.6 79.9L28.7 83.4L27.8 89.4L26.8 98.0L25.8 109.2L25.6 138.4L26.1 185.6L27.4 250.9L29.5 334.2L31.7 373.7L34.0 369.4L36.3 321.2L38.8 229.1L40.3 159.2L40.8 111.6L40.4 86.1L39.0 82.9L37.7 80.5L36.5 78.7L35.5 77.8L34.6 77.6L33.9 77.4L33.3 77.4L32.8 77.4L32.5 77.5L32.0 77.8L31.4 78.3ZM17.9 50.8L18.7 49.9L19.3 49.0L19.6 48.2L19.7 47.5L19.5 46.8L18.9 46.0L17.8 45.2L16.3 44.3L14.3 43.4L12.6 42.8L11.3 42.5L10.3 42.6L9.6 43.0L9.1 43.6L8.7 44.4L8.5 45.3L8.3 46.4L8.5 47.5L8.9 48.7L9.6 49.9L10.6 51.1L11.6 52.0L12.7 52.5L13.8 52.7L14.9 52.5L16.0 52.1L17.0 51.5ZM71.8 14.3L73.7 15.5L75.1 16.7L76.1 17.9L76.6 19.1L76.7 20.4L76.4 21.8L75.6 23.2L74.5 24.7L73.0 26.2L71.6 27.3L70.3 27.9L69.1 28.1L68.0 27.9L66.9 27.0L65.8 25.4L64.6 23.2L63.4 20.4L62.5 18.2L62.0 16.7L61.7 15.9L61.7 15.8L62.2 15.5L63.1 15.1L64.5 14.5L66.3 13.7L68.1 13.5L70.0 13.7ZM44.6 34.5L44.5 33.7L44.8 32.7L45.5 31.3L46.6 29.7L48.0 27.8L49.6 26.9L51.4 26.9L53.4 28.0L55.5 30.0L57.1 31.8L58.1 33.4L58.5 34.7L58.3 35.8L57.9 36.7L57.1 37.5L56.0 38.1L54.5 38.5L53.0 38.6L51.3 38.4L49.5 37.8L47.6 36.9L46.1 36.1L45.1 35.3ZM88.8 5.1L88.3 4.9L87.7 5.4L87.1 6.5L86.4 8.3L85.6 10.6L85.3 12.5L85.5 14.1L86.1 15.3L87.3 16.1L88.4 16.5L89.5 16.6L90.5 16.4L91.4 15.9L92.2 15.2L92.8 14.5L93.4 13.7L93.7 12.8L93.7 11.7L93.3 10.5L92.5 9.1L91.3 7.6L90.3 6.4L89.5 5.5ZM48.0 83.5L45.8 86.5L43.8 87.9L42.0 87.8L40.4 86.1L39.0 82.9L38.2 80.3L38.1 78.2L38.7 76.7L39.9 75.8L41.4 75.4L43.2 75.5L45.3 76.2L47.7 77.3L49.0 78.9L49.1 80.9ZM27.2 0.9L25.6 0.1L24.4 -0.6L23.6 -1.2L23.1 -1.8L23.0 -2.3L23.5 -3.8L24.6 -6.3L26.4 -9.8L28.8 -14.3L30.9 -16.8L32.8 -17.2L34.4 -15.6L35.8 -12.0L36.7 -8.9L37.0 -6.3L36.9 -4.3L36.1 -2.8L35.3 -1.6L34.2 -0.5L33.0 0.4L31.6 1.1L30.2 1.4L28.7 1.4ZM85.0 56.3L84.5 56.2L84.0 55.9L83.6 55.5L83.2 55.1L82.8 54.5L82.8 53.6L83.3 52.6L84.1 51.3L85.4 49.8L86.7 48.6L87.8 47.8L88.9 47.4L89.8 47.3L90.7 47.2L91.3 47.3L91.8 47.3L92.1 47.5L92.4 47.8L92.8 48.3L93.1 49.0L93.4 49.9L93.6 50.8L93.6 51.6L93.4 52.4L93.1 53.1L92.4 53.8L91.4 54.5L90.0 55.1L88.3 55.7L87.0 56.1L85.9 56.3ZM54.6 77.1L54.5 77.5L55.0 78.5L56.1 80.2L58.0 82.6L60.4 85.6L62.7 87.1L64.8 87.1L66.8 85.5L68.6 82.3L69.8 79.6L70.5 77.3L70.5 75.4L69.9 73.9L69.0 72.7L67.6 71.8L65.8 71.3L63.5 71.1L61.5 71.3L59.7 71.9L58.1 72.9L56.8 74.4L55.7 75.5L55.0 76.5ZM73.0 5.5L74.4 4.5L75.3 3.4L75.8 2.2L75.9 0.7L75.5 -0.9L74.7 -2.3L73.5 -3.5L71.8 -4.4L69.7 -5.0L68.0 -5.5L66.9 -5.7L66.2 -5.7L65.9 -5.6L65.7 -5.0L65.5 -4.0L65.3 -2.7L65.2 -0.9L65.4 0.7L66.1 2.2L67.1 3.6L68.6 4.9L70.1 5.6L71.5 5.8ZM41.4 66.7L42.0 68.1L42.4 69.4L42.5 70.6L42.4 71.8L42.2 72.9L41.7 73.9L40.9 74.9L39.9 75.8L38.7 76.7L37.5 77.4L36.5 77.7L35.5 77.8L34.6 77.6L33.9 76.8L33.4 75.5L33.1 73.6L33.0 71.1L33.4 69.1L34.3 67.5L35.7 66.4L37.6 65.7L39.2 65.5L40.5 65.8ZM61.2 59.9L62.5 59.6L63.7 59.0L64.7 58.0L65.4 56.7L65.9 54.9L66.1 53.3L65.8 51.7L65.1 50.1L64.0 48.6L62.8 47.7L61.7 47.4L60.5 47.8L59.3 48.8L58.5 50.2L58.1 51.9L58.1 54.0L58.5 56.5L59.1 58.3L60.0 59.4ZM46.5 -3.1L46.4 -3.4L46.7 -4.1L47.5 -5.2L48.8 -6.7L50.6 -8.6L52.3 -9.7L53.8 -9.9L55.3 -9.4L56.6 -8.0L57.4 -6.5L57.6 -4.9L57.3 -3.3L56.5 -1.5L55.8 -0.2L55.1 0.7L54.5 1.2L54.0 1.3L53.2 1.1L52.1 0.7L50.8 -0.1L49.1 -1.1L47.9 -1.9L47.0 -2.6ZM50.9 6.8L51.8 4.7L52.1 2.8L51.8 1.2L50.8 -0.1L49.1 -1.1L47.8 -1.3L46.6 -0.7L45.7 0.7L45.0 2.8L44.8 4.7L45.0 6.4L45.6 7.7L46.7 8.8L47.6 9.6L48.3 10.1L48.8 10.3L49.1 10.2L49.5 9.6L50.1 8.5ZM-1.8 29.1L0.3 29.9L2.1 30.5L3.6 30.7L4.7 30.7L5.5 30.3L6.2 29.5L6.8 28.0L7.2 26.1L7.4 23.6L7.3 21.5L6.7 20.0L5.7 18.9L4.3 18.3L3.0 18.0L1.7 17.9L0.5 18.1L-0.7 18.6L-1.7 19.5L-2.6 20.8L-3.4 22.5L-4.0 24.6L-3.9 26.4L-3.2 27.9ZM75.3 65.0L77.1 65.1L78.7 64.5L80.1 63.4L81.3 61.7L82.3 59.4L82.9 57.5L83.2 56.1L83.2 55.1L82.8 54.5L82.5 54.0L82.2 53.7L82.0 53.5L81.8 53.4L81.2 53.6L80.2 53.9L78.8 54.4L76.9 55.2L75.5 56.2L74.3 57.7L73.6 59.5L73.2 61.7L73.4 63.4L74.1 64.5ZM24.8 48.5L26.7 47.9L28.2 47.9L29.2 48.7L29.7 50.0L29.8 52.0L29.6 53.5L29.0 54.5L28.1 55.0L27.0 55.1L25.9 54.7L24.9 54.0L24.0 53.0L23.1 51.5L23.0 50.3L23.6 49.3ZM-0.4 65.0L-0.4 64.6L-0.6 63.9L-1.2 62.9L-2.0 61.5L-3.1 59.7L-4.2 58.3L-5.2 57.3L-6.2 56.7L-7.1 56.4L-9.9 56.9L-14.6 57.9L-21.2 59.7L-29.7 62.1L-34.2 64.2L-34.8 66.0L-31.4 67.4L-24.1 68.5L-17.8 69.1L-12.5 69.1L-8.3 68.5L-5.2 67.3L-2.8 66.3L-1.2 65.6ZM93.1 53.1L93.4 52.4L94.7 52.1L97.1 52.2L100.4 52.8L104.7 53.9L107.1 55.0L107.6 56.3L106.2 57.7L102.9 59.3L100.2 60.4L98.2 61.0L96.8 61.2L96.0 61.0L95.3 60.4L94.6 59.5L94.0 58.2L93.4 56.6L93.1 55.2L92.9 54.1ZM35.5 12.6L35.5 12.8L36.1 13.2L37.3 13.7L39.3 14.3L41.8 15.0L43.9 15.2L45.5 14.8L46.7 14.0L47.3 12.5L47.6 11.2L47.4 10.0L46.7 8.8L45.6 7.7L44.6 6.9L43.5 6.3L42.5 6.1L41.5 6.1L40.4 6.4L39.4 7.2L38.3 8.4L37.2 9.9L36.4 11.2L35.8 12.0ZM90.7 38.6L90.2 39.0L89.5 39.3L88.5 39.5L87.1 39.5L85.5 39.4L84.1 39.1L83.1 38.6L82.3 37.8L81.9 36.8L81.7 35.9L81.8 35.0L82.2 34.2L82.8 33.4L83.8 32.8L84.9 32.4L86.3 32.2L88.0 32.2L89.3 32.5L90.3 33.3L90.8 34.3L91.0 35.8L91.0 37.0L90.9 37.9ZM46.6 29.7L48.0 27.8L49.0 26.3L49.7 25.3L50.1 24.6L50.0 24.5L49.8 24.1L49.4 23.6L48.7 22.9L47.8 22.1L46.6 21.6L45.1 21.5L43.2 21.8L41.0 22.5L39.4 23.4L38.3 24.4L37.7 25.7L37.6 27.1L38.0 28.4L38.9 29.5L40.1 30.5L41.8 31.3L43.5 31.5L45.1 30.9ZM24.8 48.5L26.7 47.9L28.2 47.4L29.3 46.9L29.9 46.6L30.1 46.3L30.1 45.8L29.9 44.9L29.6 43.8L29.1 42.4L28.5 41.4L27.6 40.7L26.5 40.4L25.1 40.4L23.9 40.8L22.8 41.5L21.7 42.5L20.7 43.8L20.1 44.9L19.7 45.9L19.5 46.8L19.7 47.5L20.0 48.0L20.3 48.5L20.7 48.8L21.2 49.0L22.0 49.1L23.2 48.9ZM126.3 3.9L133.3 3.6L135.7 4.3L133.4 6.2L126.6 9.1L115.1 13.1L106.1 15.8L99.7 17.3L95.9 17.5L94.7 16.6L93.8 15.6L93.4 14.6L93.4 13.7L93.7 12.8L95.4 11.7L98.2 10.3L102.4 8.8L107.7 7.0L113.5 5.6L119.7 4.5ZM73.2 61.7L73.6 59.5L73.7 57.7L73.5 56.2L73.1 55.0L72.4 54.1L71.6 53.5L70.6 53.0L69.6 52.7L68.5 52.5L67.5 52.9L66.6 53.7L65.9 54.9L65.4 56.7L65.5 58.3L66.2 59.9L67.5 61.5L69.4 63.0L70.9 64.1L71.9 64.8L72.4 65.1L72.5 65.1L72.7 64.5L72.9 63.4ZM94.1 38.5L93.0 38.3L92.0 38.2L91.3 38.3L90.7 38.6L90.2 39.0L90.0 39.8L90.0 40.9L90.3 42.4L90.7 44.3L91.1 45.8L91.5 46.8L91.8 47.3L92.1 47.5L92.7 47.3L93.5 46.8L94.6 46.0L95.9 44.8L96.8 43.7L97.2 42.6L97.1 41.5L96.6 40.5L95.9 39.6L95.1 39.0ZM74.5 24.7L73.0 26.2L72.1 27.7L71.7 29.2L71.9 30.6L72.7 32.1L73.7 33.2L75.1 34.1L76.6 34.6L78.5 34.9L80.0 34.9L81.2 34.7L82.2 34.2L82.8 33.4L83.3 32.4L83.5 31.1L83.6 29.5L83.4 27.6L82.8 26.1L82.0 24.9L80.7 23.9L79.2 23.3L77.6 23.2L76.1 23.7ZM21.9 0.4L20.9 1.4L19.7 2.1L18.3 2.6L16.6 2.9L14.7 2.9L13.2 2.5L12.0 1.5L11.2 0.0L10.9 -1.9L10.9 -3.6L11.3 -4.8L12.1 -5.7L13.4 -6.3L14.8 -6.4L16.3 -6.2L18.1 -5.6L20.0 -4.6L21.4 -3.7L22.4 -2.9L23.0 -2.3L23.1 -1.8L22.9 -1.2L22.5 -0.5ZM-2.2 47.8L-1.4 49.1L-0.6 50.2L0.1 50.9L0.9 51.3L1.6 51.5L2.5 51.3L3.5 50.9L4.7 50.3L6.1 49.4L7.2 48.4L7.9 47.4L8.3 46.4L8.5 45.3L8.1 44.3L7.3 43.3L6.0 42.4L4.2 41.6L2.6 41.1L1.3 40.8L0.3 40.8L-0.5 41.1L-1.2 41.6L-1.8 42.2L-2.4 43.1L-2.8 44.2L-2.9 45.3L-2.7 46.5ZM51.8 50.6L54.1 50.5L56.1 50.1L57.8 49.6L59.3 48.8L60.5 47.8L61.4 46.9L62.1 46.1L62.5 45.4L62.6 44.8L62.4 44.0L61.9 42.9L61.0 41.5L59.8 39.9L58.6 38.8L57.3 38.2L56.0 38.1L54.5 38.5L53.2 39.5L51.8 41.0L50.5 43.1L49.2 45.7L48.3 47.8L47.8 49.2L47.7 50.1L48.0 50.4L48.8 50.6L50.0 50.6ZM3.0 -3.5L5.1 -4.4L6.2 -6.3L6.5 -9.0L6.0 -12.6L4.5 -17.0L3.1 -19.2L1.5 -19.1L-0.0 -16.7L-1.6 -12.0L-2.6 -8.4L-2.9 -5.6L-2.5 -3.9L-1.5 -3.1L-0.3 -2.8L1.3 -2.9ZM-50.3 3.9L-37.1 6.2L-26.3 8.6L-17.8 11.0L-11.7 13.4L-8.0 15.8L-5.4 18.1L-3.8 20.4L-3.4 22.5L-4.0 24.6L-4.5 26.2L-4.9 27.3L-5.1 27.9L-5.3 27.9L-18.9 25.5L-46.1 20.7L-86.8 13.4L-141.1 3.6L-172.2 -3.0L-180.3 -6.5L-165.3 -6.7L-127.2 -3.9L-95.4 -1.2L-69.7 1.4ZM20.7 60.0L20.8 60.0L21.3 60.3L22.0 61.0L23.0 61.9L24.3 63.2L25.1 64.5L25.4 65.8L25.2 67.2L24.4 68.6L23.7 69.7L23.1 70.4L22.5 70.9L21.9 71.1L21.1 71.1L19.8 70.8L18.3 70.3L16.3 69.6L15.0 68.7L14.1 67.6L13.8 66.5L14.0 65.1L14.6 64.0L15.5 62.9L16.6 62.0L18.1 61.2L19.3 60.6L20.2 60.2ZM30.6 79.0L29.6 79.9L28.4 80.5L26.9 80.8L25.1 80.7L23.0 80.2L21.5 79.4L20.7 78.2L20.4 76.5L20.7 74.5L21.0 72.9L21.5 71.8L21.9 71.1L22.5 70.9L23.4 71.2L24.8 72.0L26.5 73.3L28.7 75.0L30.1 76.6L30.7 77.9ZM94.1 38.5L93.0 38.3L92.1 37.8L91.4 36.9L91.0 35.8L90.8 34.3L90.8 33.2L90.8 32.3L91.0 31.7L91.3 31.4L92.0 31.3L93.1 31.4L94.5 31.7L96.3 32.2L97.5 33.0L98.0 34.0L97.8 35.2L97.0 36.7L96.1 37.7L95.1 38.3ZM94.2 2.3L92.3 3.5L91.2 4.7L90.9 6.1L91.3 7.6L92.5 9.1L94.8 9.8L98.0 9.7L102.4 8.8L107.7 7.0L110.6 5.4L110.9 4.1L108.7 2.9L104.0 1.9L100.0 1.5L96.7 1.6ZM53.5 65.1L55.1 65.0L56.5 65.2L57.6 65.9L58.5 67.0L59.2 68.5L59.3 70.0L59.0 71.4L58.1 72.9L56.8 74.4L55.4 75.0L54.1 74.8L52.7 73.7L51.4 71.9L50.4 70.2L50.0 68.8L50.0 67.7L50.4 66.8L51.2 66.0L52.2 65.5ZM-6.6 33.6L-6.1 31.4L-5.8 29.7L-5.5 28.5L-5.3 27.9L-5.1 27.9L-4.5 28.0L-3.4 28.4L-1.8 29.1L0.3 29.9L1.8 31.1L2.6 32.7L2.7 34.6L2.2 36.9L1.7 38.7L1.0 40.0L0.3 40.8L-0.5 41.1L-1.5 41.0L-2.6 40.6L-3.8 39.8L-5.2 38.7L-6.1 37.3L-6.6 35.6ZM8.2 30.5L7.6 30.3L7.3 29.4L7.1 28.0L7.2 26.1L7.4 23.6L7.7 21.7L7.9 20.4L8.1 19.7L8.3 19.6L9.0 19.9L10.1 20.5L11.7 21.5L13.8 22.8L15.3 24.0L16.2 25.2L16.5 26.3L16.2 27.3L15.6 28.1L14.6 28.9L13.3 29.6L11.6 30.1L10.1 30.5L9.0 30.6ZM1.6 51.5L0.9 51.3L0.0 51.6L-0.9 52.3L-2.0 53.4L-3.1 54.9L-3.7 56.4L-3.7 58.0L-3.1 59.7L-2.0 61.5L-0.8 62.4L0.4 62.7L1.8 62.1L3.1 60.9L4.0 59.4L4.4 57.9L4.2 56.2L3.6 54.4L3.0 53.0L2.3 52.0ZM68.6 4.9L67.1 3.6L65.7 2.9L64.3 2.6L63.0 2.9L61.7 3.7L60.8 4.8L60.1 6.2L59.7 7.8L59.6 9.7L59.7 11.4L59.9 12.7L60.3 13.7L60.9 14.5L61.8 14.9L63.0 14.9L64.5 14.5L66.3 13.7L67.8 12.8L68.9 11.7L69.7 10.4L70.2 9.0L70.1 7.6L69.6 6.2ZM93.2 77.1L94.9 75.5L96.1 74.3L96.9 73.5L97.3 73.0L97.3 72.9L96.7 72.5L95.5 71.7L93.8 70.6L91.6 69.1L89.6 68.1L88.0 67.5L86.6 67.4L85.6 67.8L84.7 68.4L84.1 69.4L83.8 70.6L83.6 72.2L84.0 73.7L84.8 75.1L86.1 76.4L88.0 77.6L89.7 78.1L91.5 77.9ZM72.9 50.3L73.9 48.6L74.4 47.0L74.3 45.6L73.7 44.4L72.5 43.2L71.1 42.5L69.5 42.3L67.7 42.4L65.7 43.0L64.2 43.6L63.2 44.2L62.6 44.8L62.5 45.4L62.6 46.2L63.1 47.3L64.0 48.6L65.1 50.1L66.2 51.3L67.3 52.1L68.5 52.5L69.6 52.7L70.7 52.3L71.8 51.5ZM12.0 39.7L11.8 40.6L12.0 41.5L12.9 42.4L14.3 43.4L16.3 44.3L18.0 44.7L19.5 44.5L20.7 43.8L21.7 42.5L22.2 41.2L22.2 39.9L21.7 38.6L20.8 37.3L19.7 36.5L18.3 36.2L16.8 36.5L15.1 37.2L13.7 38.0L12.7 38.8ZM82.8 14.1L81.8 14.2L80.8 14.4L79.8 14.8L78.8 15.3L77.9 16.1L77.2 17.0L76.8 18.0L76.6 19.1L76.7 20.4L77.1 21.6L78.0 22.5L79.2 23.3L80.7 23.9L82.2 24.2L83.7 24.2L85.1 23.9L86.4 23.2L87.5 22.4L88.2 21.4L88.7 20.3L88.8 19.1L88.7 18.0L88.1 17.0L87.3 16.1L86.1 15.3L85.0 14.7L83.9 14.3ZM73.7 44.4L72.5 43.2L71.8 41.9L71.6 40.4L71.9 38.8L72.7 37.0L73.7 35.7L75.0 34.9L76.6 34.6L78.5 34.9L79.9 35.4L81.1 36.0L81.9 36.8L82.3 37.8L82.6 38.7L82.7 39.6L82.7 40.4L82.6 41.2L82.1 42.0L81.4 42.9L80.4 43.8L79.1 44.8L78.1 45.6L77.2 46.0L76.6 46.2L76.1 46.2L75.5 45.8L74.7 45.2ZM89.3 64.5L88.9 65.5L89.1 66.5L90.0 67.8L91.6 69.1L93.8 70.6L95.5 71.0L96.8 70.3L97.5 68.6L97.6 65.8L97.6 63.6L97.3 62.1L96.8 61.2L96.0 61.0L95.1 61.0L94.1 61.2L93.0 61.6L91.8 62.2L90.8 62.9L89.9 63.6ZM91.9 28.9L91.9 27.4L91.7 26.2L91.3 25.1L90.7 24.2L89.8 23.4L88.8 23.0L87.7 22.9L86.4 23.2L85.1 23.9L84.1 24.8L83.6 26.1L83.4 27.6L83.6 29.5L84.1 30.9L85.0 31.8L86.3 32.2L88.0 32.2L89.4 32.1L90.4 31.9L91.0 31.7L91.3 31.4L91.6 30.8L91.8 30.0ZM26.9 28.9L26.9 28.9L26.5 29.3L25.6 29.8L24.3 30.6L22.5 31.7L21.0 32.2L19.6 32.1L18.4 31.6L17.4 30.4L16.7 29.3L16.3 28.3L16.2 27.3L16.5 26.3L17.0 25.4L17.5 24.7L18.3 24.1L19.2 23.6L20.3 23.6L21.5 24.1L22.9 25.0L24.5 26.5L25.7 27.6L26.5 28.4ZM65.2 -0.9L65.3 -2.7L65.0 -4.0L64.2 -5.0L62.9 -5.5L61.2 -5.6L59.7 -5.3L58.4 -4.5L57.3 -3.3L56.5 -1.5L56.2 -0.0L56.4 1.3L57.0 2.5L58.1 3.5L59.3 4.0L60.5 4.1L61.7 3.7L63.0 2.9L64.0 1.9L64.7 0.6ZM31.5 56.2L30.9 55.7L30.1 55.4L29.2 55.1L28.1 55.0L27.0 55.1L25.8 55.4L24.7 56.0L23.7 56.9L22.6 58.2L22.2 59.4L22.3 60.7L23.0 61.9L24.3 63.2L25.5 64.1L26.4 64.7L27.2 64.9L27.8 64.8L28.5 64.2L29.3 63.2L30.2 61.7L31.1 59.8L31.7 58.2L31.8 57.0ZM12.0 39.7L11.8 40.6L11.4 41.4L10.9 42.0L10.3 42.6L9.6 43.0L8.7 43.1L7.5 42.9L6.0 42.4L4.2 41.6L3.0 40.4L2.3 38.9L2.2 36.9L2.7 34.6L3.3 32.8L4.0 31.5L4.7 30.7L5.5 30.3L6.3 30.2L7.0 30.1L7.6 30.3L8.2 30.5L8.8 31.2L9.5 32.3L10.3 33.7L11.2 35.6L11.8 37.2L12.0 38.6ZM18.9 80.2L18.3 80.6L17.4 80.8L16.4 80.7L15.1 80.5L13.6 80.0L12.4 79.1L11.5 77.8L10.9 76.1L10.7 74.0L10.7 72.3L10.9 70.9L11.5 70.0L12.3 69.3L13.3 69.1L14.7 69.1L16.3 69.6L18.3 70.3L19.6 71.4L20.4 72.8L20.7 74.5L20.4 76.5L20.0 78.2L19.5 79.4ZM31.6 1.1L33.0 0.4L34.3 0.3L35.6 0.8L36.9 1.9L38.1 3.5L38.8 5.2L38.8 6.8L38.3 8.4L37.2 9.9L36.0 10.6L34.7 10.2L33.3 9.0L31.8 6.8L30.6 5.1L29.9 3.9L29.5 3.0L29.5 2.7L29.9 2.2L30.6 1.7ZM35.6 21.9L36.5 22.6L37.7 22.9L39.2 22.9L41.0 22.5L43.2 21.8L44.8 21.0L45.8 20.1L46.2 19.0L45.9 17.8L45.2 16.8L43.8 15.8L41.8 15.0L39.3 14.3L37.3 13.7L36.1 13.4L35.4 13.2L35.4 13.2L35.3 13.7L35.2 14.7L35.0 16.1L34.7 18.1L34.7 19.7L35.0 21.0ZM34.7 18.1L35.0 16.1L34.6 14.7L33.7 13.7L32.1 13.3L29.9 13.3L28.2 13.6L26.9 14.1L26.2 14.9L25.9 15.8L26.0 16.9L26.5 18.0L27.4 19.1L28.8 20.3L30.0 21.1L31.1 21.6L32.1 21.7L33.0 21.4L33.7 20.7L34.3 19.6ZM30.4 37.4L29.6 38.6L28.7 39.5L27.6 40.1L26.5 40.4L25.1 40.4L23.9 40.1L22.8 39.5L21.7 38.6L20.8 37.3L20.1 36.2L19.7 35.2L19.6 34.5L19.7 34.0L20.2 33.4L21.2 32.6L22.5 31.7L24.3 30.6L25.9 30.1L27.3 30.2L28.6 30.7L29.7 31.8L30.6 32.8L31.2 33.6L31.5 34.3L31.5 34.9L31.4 35.6L31.0 36.4ZM18.1 55.1L19.0 57.1L19.3 58.7L19.0 60.1L18.1 61.2L16.6 62.0L15.2 62.3L14.0 62.1L12.8 61.4L11.8 60.2L11.1 59.0L10.8 57.7L10.9 56.4L11.3 55.0L12.0 53.9L12.8 53.1L13.8 52.7L14.9 52.5L16.0 52.8L17.1 53.7ZM141.9 50.9L129.6 52.7L119.3 53.8L111.0 54.2L104.7 53.9L100.4 52.8L97.1 51.8L94.8 50.9L93.4 49.9L93.1 49.0L93.2 48.1L93.7 47.1L94.6 46.0L95.9 44.8L100.8 44.3L109.3 44.4L121.3 45.0L137.0 46.3L145.6 47.7L147.2 49.2ZM20.2 7.0L19.9 5.4L20.0 3.9L20.3 2.6L20.9 1.4L21.9 0.4L23.0 -0.1L24.2 -0.2L25.6 0.1L27.2 0.9L28.4 1.6L29.1 2.2L29.5 2.7L29.5 3.0L29.3 3.8L28.7 4.9L27.9 6.3L26.8 8.2L25.7 9.5L24.6 10.2L23.5 10.4L22.3 10.1L21.4 9.4L20.7 8.4ZM73.0 5.5L74.4 4.5L75.5 3.9L76.5 3.6L77.2 3.5L77.7 3.7L78.2 4.5L78.6 5.9L79.1 7.9L79.5 10.4L79.6 12.5L79.4 14.1L78.8 15.3L77.9 16.1L76.7 16.4L75.3 16.2L73.7 15.5L71.8 14.3L70.5 13.1L69.8 11.8L69.7 10.4L70.2 9.0L70.9 7.7L71.8 6.5ZM40.9 47.8L40.9 47.7L40.8 47.3L40.8 46.3L40.7 44.9L40.6 43.1L40.8 41.5L41.3 39.9L42.1 38.6L43.1 37.4L44.4 36.7L45.9 36.6L47.6 36.9L49.5 37.8L50.7 39.1L51.0 40.9L50.5 43.1L49.2 45.7L47.9 47.6L46.4 48.7L44.9 49.0L43.3 48.5L42.1 48.2L41.3 47.9ZM40.8 63.4L40.7 63.9L40.8 64.6L41.0 65.5L41.4 66.7L42.0 68.1L42.8 69.0L43.9 69.6L45.3 69.7L46.9 69.5L48.2 69.0L49.2 68.4L50.0 67.7L50.4 66.8L50.5 65.8L50.2 64.6L49.5 63.4L48.4 62.1L47.2 61.2L46.0 60.9L44.6 61.1L43.2 61.8L42.0 62.4L41.3 62.9ZM14.7 13.8L14.5 13.7L14.0 14.1L13.2 14.8L12.1 15.9L10.7 17.4L10.2 18.8L10.5 20.1L11.7 21.5L13.8 22.8L15.6 23.7L17.1 24.1L18.3 24.1L19.2 23.6L19.9 23.0L20.5 22.4L20.8 21.6L21.0 20.8L20.7 19.8L20.0 18.7L18.9 17.4L17.4 15.9L16.2 14.8L15.3 14.1ZM36.1 -2.8L36.9 -4.3L37.9 -5.2L39.3 -5.6L41.0 -5.5L43.1 -4.8L44.6 -4.3L45.7 -3.8L46.4 -3.4L46.5 -3.1L46.4 -2.3L46.2 -1.0L45.7 0.7L45.0 2.8L44.2 4.5L43.4 5.5L42.5 6.1L41.5 6.1L40.4 5.6L39.3 4.8L38.1 3.5L36.9 1.9L36.2 0.2L35.9 -1.3ZM52.4 58.1L54.9 59.1L56.8 59.9L58.1 60.3L58.8 60.5L58.9 60.4L58.9 59.7L58.8 58.4L58.5 56.5L58.1 54.0L57.2 52.2L55.9 51.0L54.1 50.5L51.8 50.6L50.1 51.1L49.0 51.9L48.5 53.0L48.5 54.5L49.2 55.8L50.5 57.0ZM85.0 56.3L84.5 56.2L83.9 56.6L83.1 57.7L82.3 59.4L81.3 61.7L80.8 63.6L80.8 65.2L81.3 66.3L82.4 67.1L83.4 67.6L84.5 67.8L85.6 67.8L86.6 67.4L87.5 66.9L88.3 66.3L88.9 65.5L89.3 64.5L89.4 63.4L89.1 62.1L88.4 60.6L87.4 59.0L86.5 57.7L85.7 56.8ZM27.8 64.8L27.2 64.9L26.6 65.4L25.9 66.1L25.2 67.2L24.4 68.6L24.4 70.0L25.1 71.6L26.5 73.3L28.7 75.0L30.4 76.3L31.7 77.1L32.5 77.5L32.8 77.4L33.0 76.7L33.1 75.4L33.1 73.6L33.0 71.1L32.7 69.1L32.1 67.6L31.3 66.4L30.3 65.7L29.4 65.2L28.6 64.9ZM0.4 2.9L0.2 1.0L0.6 -0.8L1.5 -2.2L3.0 -3.5L5.1 -4.4L6.7 -5.1L8.0 -5.5L8.9 -5.5L9.5 -5.3L10.0 -4.6L10.4 -3.5L10.9 -1.9L11.2 0.0L11.4 1.7L11.3 3.0L11.0 4.1L10.5 4.8L9.7 5.5L8.4 5.9L6.9 6.3L4.9 6.5L3.4 6.6L2.3 6.6L1.5 6.5L1.2 6.2L0.9 5.5L0.6 4.4ZM37.2 38.6L34.9 37.5L33.3 36.4L32.1 35.6L31.5 34.9L31.5 34.3L31.8 33.6L32.6 32.8L33.7 31.9L35.3 30.9L36.8 30.3L38.5 30.2L40.1 30.5L41.8 31.3L43.1 32.1L44.0 32.9L44.5 33.7L44.6 34.5L44.4 35.3L43.9 36.3L43.1 37.4L42.1 38.6L40.7 39.2L39.1 39.2ZM-2.2 79.2L-3.2 79.3L-4.4 78.9L-6.0 77.8L-7.8 76.1L-9.9 73.8L-10.7 71.7L-10.2 69.9L-8.3 68.5L-5.2 67.3L-2.6 66.7L-0.6 66.5L0.7 66.9L1.5 67.9L1.9 69.2L1.9 70.8L1.4 72.9L0.5 75.3L-0.3 77.1L-1.3 78.4ZM26.1 12.5L25.7 11.9L25.8 10.9L26.1 9.7L26.8 8.2L27.9 6.3L29.1 5.5L30.4 5.7L31.8 6.8L33.3 9.0L34.4 10.7L35.1 11.9L35.5 12.6L35.5 12.8L35.4 13.0L35.4 13.1L35.4 13.2L35.4 13.2L34.9 13.2L33.7 13.2L32.1 13.3L29.9 13.3L28.2 13.2L26.9 12.9ZM72.9 50.3L73.9 48.6L74.8 47.3L75.6 46.5L76.1 46.2L76.6 46.2L77.2 46.7L77.9 47.6L78.8 49.0L79.9 50.7L80.3 52.2L79.9 53.4L78.8 54.4L76.9 55.2L75.4 55.5L74.1 55.4L73.1 55.0L72.4 54.1L72.1 53.1L72.3 51.8ZM51.4 71.9L52.7 73.7L53.7 75.2L54.3 76.4L54.6 77.1L54.5 77.5L54.2 77.8L53.7 78.1L53.2 78.4L52.4 78.6L51.3 78.5L49.7 78.1L47.7 77.3L45.3 76.2L43.6 75.0L42.6 73.9L42.2 72.9L42.4 71.8L43.1 70.9L44.0 70.2L45.3 69.7L46.9 69.5L48.4 69.7L49.9 70.5ZM-8.1 50.7L-8.2 52.8L-8.1 54.5L-7.7 55.7L-7.1 56.4L-6.2 56.7L-5.2 56.5L-4.2 55.9L-3.1 54.9L-2.0 53.4L-1.3 51.9L-1.1 50.5L-1.4 49.1L-2.2 47.8L-3.1 46.9L-4.1 46.4L-5.1 46.4L-6.3 46.8L-7.1 47.7L-7.7 49.0ZM29.4 24.6L28.4 26.2L27.3 27.1L26.0 27.2L24.5 26.5L22.9 25.0L21.8 23.7L21.1 22.6L20.8 21.6L21.0 20.8L21.3 20.0L21.9 19.3L22.8 18.7L23.8 18.1L24.9 18.0L26.2 18.3L27.4 19.1L28.8 20.3L29.6 21.6L29.8 23.0ZM54.4 21.1L57.3 19.1L59.8 18.3L61.8 18.7L63.4 20.4L64.6 23.2L65.1 25.7L64.7 27.8L63.6 29.6L61.7 31.0L59.7 31.5L57.7 31.2L55.5 30.0L53.4 28.0L51.7 26.4L50.6 25.3L50.1 24.6L50.0 24.5L50.8 23.8L52.2 22.7ZM10.6 51.1L9.6 49.9L8.6 49.2L7.4 49.0L6.1 49.4L4.7 50.3L3.9 51.4L3.5 52.8L3.6 54.4L4.2 56.2L5.0 57.5L6.0 58.4L7.1 58.7L8.3 58.6L9.4 58.2L10.2 57.4L10.9 56.4L11.3 55.0L11.4 53.7L11.2 52.4ZM17.9 50.8L18.7 49.9L19.5 49.2L20.1 48.9L20.7 48.8L21.2 49.0L21.7 49.6L22.4 50.4L23.1 51.5L24.0 53.0L24.3 54.3L24.2 55.7L23.7 56.9L22.6 58.2L21.8 59.1L21.2 59.7L20.8 60.0L20.7 60.0L20.3 59.5L19.7 58.5L19.0 57.1L18.1 55.1L17.6 53.4L17.5 52.0ZM88.8 19.1L88.7 20.3L88.8 21.5L89.2 22.5L89.8 23.4L90.7 24.2L91.7 24.7L92.7 24.9L93.9 24.9L95.1 24.6L96.1 24.0L96.8 23.2L97.3 22.2L97.5 20.9L97.3 19.7L96.8 18.6L95.9 17.5L94.7 16.6L93.5 15.9L92.4 15.7L91.4 15.9L90.5 16.4L89.7 17.1L89.2 18.0ZM95.4 -1.5L94.3 -2.9L93.2 -3.9L91.9 -4.4L90.5 -4.5L89.1 -4.3L87.9 -3.6L87.0 -2.6L86.4 -1.2L86.1 0.5L86.0 1.9L86.1 2.9L86.4 3.7L86.9 4.1L87.3 4.5L87.8 4.7L88.3 4.9L88.8 5.1L89.6 4.8L90.8 4.3L92.3 3.5L94.2 2.3L95.3 1.1L95.7 -0.2ZM82.8 14.1L81.8 14.2L80.9 13.6L80.1 12.3L79.5 10.4L79.1 7.9L79.2 5.9L79.9 4.5L81.1 3.7L83.0 3.4L84.4 3.3L85.6 3.4L86.4 3.7L86.9 4.1L87.0 5.0L86.9 6.4L86.4 8.3L85.6 10.6L84.7 12.4L83.8 13.5ZM48.4 62.1L49.5 63.4L50.7 64.4L52.0 64.9L53.5 65.1L55.1 65.0L56.4 64.6L57.4 64.0L58.0 63.2L58.3 62.2L57.9 61.1L56.7 60.1L54.9 59.1L52.4 58.1L50.4 57.6L48.9 57.6L47.9 57.9L47.5 58.8L47.4 59.8L47.7 60.9ZM-10.5 8.3L-6.0 7.3L-2.6 6.6L-0.2 6.3L1.2 6.2L1.5 6.5L1.8 7.3L2.0 8.8L2.1 10.8L2.2 13.4L1.9 15.5L1.4 17.1L0.5 18.1L-0.7 18.6L-2.5 18.4L-4.9 17.5L-8.0 15.8L-11.7 13.4L-13.4 11.3L-13.0 9.6ZM53.2 11.0L55.7 11.7L57.6 11.7L58.9 11.0L59.6 9.7L59.7 7.8L59.5 6.2L59.0 4.7L58.1 3.5L57.0 2.5L56.0 1.8L55.2 1.4L54.5 1.2L54.0 1.3L53.4 1.9L52.7 3.0L51.8 4.7L50.9 6.8L50.8 8.6L51.6 10.0ZM85.5 39.4L87.1 39.5L88.5 40.0L89.5 41.0L90.3 42.4L90.7 44.3L90.8 45.7L90.5 46.7L89.8 47.3L88.9 47.4L87.8 47.1L86.7 46.5L85.5 45.6L84.2 44.2L83.3 43.1L82.8 42.0L82.6 41.2L82.7 40.4L83.3 39.9L84.2 39.5ZM87.4 59.0L88.4 60.6L89.5 61.7L90.6 62.2L91.8 62.2L93.0 61.6L93.8 60.7L94.1 59.6L94.0 58.2L93.4 56.6L92.6 55.6L91.4 55.0L90.0 55.1L88.3 55.7L87.3 56.5L87.0 57.6ZM40.8 63.4L40.7 63.9L40.1 64.4L39.1 65.0L37.6 65.7L35.7 66.4L34.0 66.8L32.6 66.8L31.3 66.4L30.3 65.7L29.8 64.7L29.7 63.4L30.2 61.7L31.1 59.8L32.0 58.3L32.9 57.3L33.8 56.7L34.7 56.7L35.6 57.0L36.7 57.7L37.8 58.8L39.1 60.4L40.0 61.7L40.6 62.7ZM34.7 56.7L33.8 56.7L33.0 56.7L32.3 56.5L31.5 56.2L30.9 55.7L30.4 54.9L30.0 53.6L29.8 52.0L29.7 50.0L29.7 48.4L29.8 47.3L29.9 46.6L30.1 46.3L30.9 46.2L32.3 46.3L34.3 46.6L36.9 47.0L38.9 47.4L40.2 47.6L40.9 47.7L40.9 47.8L40.6 48.3L40.0 49.4L39.1 51.1L37.8 53.3L36.7 54.9L35.6 56.0Z" fill="#d8dbd9" stroke="#e8e9e9" stroke-width="2.6"/>
<path d="M81.1 3.7L83.0 3.4L84.4 2.8L85.5 1.8L86.1 0.5L86.4 -1.2L86.3 -2.9L85.7 -4.6L84.8 -6.3L83.5 -8.0L82.0 -8.8L80.6 -8.7L79.0 -7.8L77.4 -6.0L76.2 -4.3L75.6 -2.6L75.5 -0.9L75.9 0.7L76.3 2.0L76.7 2.9L77.2 3.5L77.7 3.7L78.5 3.8L79.7 3.8ZM36.9 47.0L34.3 46.6L32.2 45.9L30.6 45.0L29.6 43.8L29.1 42.4L29.0 41.1L29.1 39.8L29.6 38.6L30.4 37.4L31.6 36.9L33.1 36.9L34.9 37.5L37.2 38.6L38.8 40.0L40.0 41.5L40.6 43.1L40.7 44.9L40.1 46.2L38.8 46.9ZM8.3 58.6L7.1 58.7L5.8 59.2L4.5 59.9L3.1 60.9L1.8 62.1L0.7 63.2L0.0 64.0L-0.4 64.6L-0.4 65.0L-0.2 65.5L0.1 66.2L0.7 66.9L1.5 67.9L2.6 68.7L3.9 69.3L5.5 69.9L7.4 70.3L9.0 70.4L10.4 70.3L11.5 70.0L12.3 69.3L12.9 68.6L13.4 67.6L13.8 66.5L14.0 65.1L13.9 63.9L13.5 62.6L12.8 61.4L11.8 60.2L10.7 59.3L9.5 58.8ZM43.2 61.8L44.6 61.1L45.8 60.4L46.8 59.6L47.5 58.8L47.9 57.9L48.2 56.9L48.4 55.8L48.5 54.5L48.5 53.0L48.4 51.8L48.2 51.0L48.0 50.4L47.7 50.1L47.1 49.8L46.2 49.4L44.9 49.0L43.3 48.5L41.8 48.7L40.4 49.6L39.1 51.1L37.8 53.3L37.2 55.3L37.2 57.1L37.8 58.8L39.1 60.4L40.4 61.4L41.8 61.9ZM67.7 42.4L65.7 43.0L63.9 43.1L62.4 42.6L61.0 41.5L59.8 39.9L59.0 38.4L58.5 37.0L58.3 35.8L58.5 34.7L59.2 33.5L60.2 32.3L61.7 31.0L63.6 29.6L65.3 28.6L66.8 28.0L68.0 27.9L69.1 28.1L70.1 28.6L71.1 29.5L71.9 30.6L72.7 32.1L73.1 33.6L73.1 35.2L72.7 37.0L71.9 38.8L70.8 40.3L69.4 41.5ZM23.8 18.1L22.8 18.7L21.6 18.8L20.3 18.3L18.9 17.4L17.4 15.9L16.6 14.6L16.5 13.3L17.2 12.2L18.5 11.1L19.8 10.4L21.1 10.1L22.3 10.1L23.5 10.4L24.4 10.8L25.2 11.3L25.7 11.9L26.1 12.5L26.3 13.2L26.3 14.0L26.2 14.9L25.9 15.8L25.4 16.7L24.7 17.5ZM47.8 22.1L48.7 22.9L50.1 23.0L52.0 22.4L54.4 21.1L57.3 19.1L59.5 17.6L60.9 16.5L61.7 15.9L61.7 15.8L61.6 15.5L61.3 15.1L60.9 14.5L60.3 13.7L59.3 13.0L57.7 12.3L55.7 11.7L53.2 11.0L51.3 10.6L49.9 10.3L49.1 10.2L48.8 10.3L48.4 10.7L47.9 11.4L47.3 12.5L46.7 14.0L46.2 15.3L46.0 16.6L45.9 17.8L46.2 19.0L46.5 20.1L47.1 21.1ZM63.5 71.1L65.8 71.3L67.6 71.0L69.2 70.3L70.3 69.2L71.1 67.6L71.2 66.0L70.7 64.5L69.4 63.0L67.5 61.5L65.7 60.4L64.0 59.8L62.5 59.6L61.2 59.9L60.1 60.1L59.4 60.2L58.9 60.4L58.8 60.5L58.7 60.8L58.5 61.4L58.3 62.2L58.0 63.2L57.9 64.3L58.1 65.6L58.5 67.0L59.2 68.5L60.2 69.7L61.7 70.5ZM15.1 37.2L16.8 36.5L18.1 35.8L19.0 35.1L19.6 34.5L19.7 34.0L19.5 33.4L19.1 32.5L18.4 31.6L17.4 30.4L16.2 29.7L14.8 29.4L13.3 29.6L11.6 30.1L10.5 31.0L10.1 32.2L10.3 33.7L11.2 35.6L12.3 36.8L13.6 37.3ZM-45.3 -1.7L-28.8 -3.0L-16.2 -3.8L-7.4 -4.1L-2.5 -3.9L-1.5 -3.1L-0.7 -2.1L-0.1 -0.7L0.2 1.0L0.4 2.9L-0.6 4.6L-2.7 6.1L-6.0 7.3L-10.5 8.3L-17.2 8.4L-26.1 7.7L-37.1 6.2L-50.3 3.9L-56.1 1.8L-54.4 -0.0ZM88.0 77.6L86.1 76.4L84.4 75.7L82.7 75.6L81.1 76.1L79.6 77.1L79.3 79.1L80.0 82.2L81.9 86.3L85.0 91.4L87.3 94.1L89.0 94.2L89.9 91.7L90.2 86.8L90.0 82.8L89.2 79.7ZM83.6 72.2L83.8 70.6L83.6 69.3L83.1 68.1L82.4 67.1L81.3 66.3L80.1 65.7L78.7 65.3L77.1 65.1L75.3 65.0L74.0 65.0L73.0 65.0L72.5 65.1L72.4 65.1L72.2 65.5L71.7 66.4L71.1 67.6L70.3 69.2L69.8 70.8L69.7 72.3L69.9 73.9L70.5 75.4L71.3 76.6L72.3 77.4L73.6 78.0L75.1 78.2L76.6 78.1L78.1 77.7L79.6 77.1L81.1 76.1L82.3 74.9L83.1 73.6ZM79.1 44.8L80.4 43.8L81.7 43.4L83.0 43.5L84.2 44.2L85.5 45.6L86.1 46.9L86.1 48.3L85.4 49.8L84.1 51.3L83.1 52.4L82.4 53.1L82.0 53.5L81.8 53.4L81.4 52.9L80.8 52.0L79.9 50.7L78.8 49.0L78.3 47.4L78.4 46.0ZM20.2 7.0L19.9 5.4L19.2 4.1L18.1 3.3L16.6 2.9L14.7 2.9L13.1 3.1L11.9 3.5L11.0 4.1L10.5 4.8L10.4 5.9L10.7 7.2L11.4 8.9L12.5 10.8L13.4 12.3L14.0 13.3L14.5 13.7L14.7 13.8L15.3 13.5L16.1 13.0L17.2 12.2L18.5 11.1L19.5 9.9L20.0 8.6ZM35.6 21.9L36.5 22.6L37.1 23.4L37.5 24.5L37.7 25.7L37.6 27.1L37.2 28.5L36.4 29.7L35.3 30.9L33.7 31.9L32.3 32.4L31.0 32.4L29.7 31.8L28.6 30.7L27.8 29.9L27.2 29.3L26.9 28.9L26.9 28.9L27.2 28.4L27.6 27.5L28.4 26.2L29.4 24.6L30.3 23.3L31.2 22.3L32.1 21.7L33.0 21.4L33.9 21.4L34.7 21.5ZM10.9 76.1L10.7 74.0L10.0 72.4L8.9 71.1L7.4 70.3L5.5 69.9L3.9 70.2L2.5 71.2L1.4 72.9L0.5 75.3L0.3 77.4L0.7 79.2L1.8 80.8L3.5 82.1L5.1 82.8L6.6 82.9L8.0 82.3L9.3 81.1L10.3 79.7L10.8 78.0ZM-5.2 38.7L-3.8 39.8L-2.9 40.9L-2.4 42.0L-2.4 43.1L-2.8 44.2L-3.4 45.1L-4.2 45.8L-5.1 46.4L-6.3 46.8L-8.1 46.8L-10.7 46.3L-13.9 45.4L-18.0 44.1L-19.9 42.7L-19.8 41.4L-17.7 40.2L-13.5 38.9L-10.0 38.2L-7.2 38.2ZM103.0 28.0L100.6 26.5L98.5 25.4L96.7 24.7L95.1 24.6L93.9 24.9L92.9 25.4L92.3 26.3L91.9 27.4L91.9 28.9L92.3 30.0L93.2 31.0L94.5 31.7L96.3 32.2L98.1 32.4L100.0 32.4L101.9 32.0L103.8 31.4L104.6 30.5L104.4 29.4ZM4.3 18.3L5.7 18.9L6.8 19.3L7.6 19.6L8.1 19.7L8.3 19.6L8.8 19.2L9.6 18.5L10.7 17.4L12.1 15.9L12.8 14.3L13.0 12.6L12.5 10.8L11.4 8.9L10.1 7.5L8.6 6.6L6.9 6.3L4.9 6.5L3.5 7.4L2.5 8.8L2.1 10.8L2.2 13.4L2.6 15.6L3.3 17.2ZM30.6 79.0L29.6 79.9L28.7 83.4L27.8 89.4L26.8 98.0L25.8 109.2L25.6 138.4L26.1 185.6L27.4 250.9L29.5 334.2L31.7 373.7L34.0 369.4L36.3 321.2L38.8 229.1L40.3 159.2L40.8 111.6L40.4 86.1L39.0 82.9L37.7 80.5L36.5 78.7L35.5 77.8L34.6 77.6L33.9 77.4L33.3 77.4L32.8 77.4L32.5 77.5L32.0 77.8L31.4 78.3ZM17.9 50.8L18.7 49.9L19.3 49.0L19.6 48.2L19.7 47.5L19.5 46.8L18.9 46.0L17.8 45.2L16.3 44.3L14.3 43.4L12.6 42.8L11.3 42.5L10.3 42.6L9.6 43.0L9.1 43.6L8.7 44.4L8.5 45.3L8.3 46.4L8.5 47.5L8.9 48.7L9.6 49.9L10.6 51.1L11.6 52.0L12.7 52.5L13.8 52.7L14.9 52.5L16.0 52.1L17.0 51.5ZM71.8 14.3L73.7 15.5L75.1 16.7L76.1 17.9L76.6 19.1L76.7 20.4L76.4 21.8L75.6 23.2L74.5 24.7L73.0 26.2L71.6 27.3L70.3 27.9L69.1 28.1L68.0 27.9L66.9 27.0L65.8 25.4L64.6 23.2L63.4 20.4L62.5 18.2L62.0 16.7L61.7 15.9L61.7 15.8L62.2 15.5L63.1 15.1L64.5 14.5L66.3 13.7L68.1 13.5L70.0 13.7ZM44.6 34.5L44.5 33.7L44.8 32.7L45.5 31.3L46.6 29.7L48.0 27.8L49.6 26.9L51.4 26.9L53.4 28.0L55.5 30.0L57.1 31.8L58.1 33.4L58.5 34.7L58.3 35.8L57.9 36.7L57.1 37.5L56.0 38.1L54.5 38.5L53.0 38.6L51.3 38.4L49.5 37.8L47.6 36.9L46.1 36.1L45.1 35.3ZM88.8 5.1L88.3 4.9L87.7 5.4L87.1 6.5L86.4 8.3L85.6 10.6L85.3 12.5L85.5 14.1L86.1 15.3L87.3 16.1L88.4 16.5L89.5 16.6L90.5 16.4L91.4 15.9L92.2 15.2L92.8 14.5L93.4 13.7L93.7 12.8L93.7 11.7L93.3 10.5L92.5 9.1L91.3 7.6L90.3 6.4L89.5 5.5ZM48.0 83.5L45.8 86.5L43.8 87.9L42.0 87.8L40.4 86.1L39.0 82.9L38.2 80.3L38.1 78.2L38.7 76.7L39.9 75.8L41.4 75.4L43.2 75.5L45.3 76.2L47.7 77.3L49.0 78.9L49.1 80.9ZM27.2 0.9L25.6 0.1L24.4 -0.6L23.6 -1.2L23.1 -1.8L23.0 -2.3L23.5 -3.8L24.6 -6.3L26.4 -9.8L28.8 -14.3L30.9 -16.8L32.8 -17.2L34.4 -15.6L35.8 -12.0L36.7 -8.9L37.0 -6.3L36.9 -4.3L36.1 -2.8L35.3 -1.6L34.2 -0.5L33.0 0.4L31.6 1.1L30.2 1.4L28.7 1.4ZM85.0 56.3L84.5 56.2L84.0 55.9L83.6 55.5L83.2 55.1L82.8 54.5L82.8 53.6L83.3 52.6L84.1 51.3L85.4 49.8L86.7 48.6L87.8 47.8L88.9 47.4L89.8 47.3L90.7 47.2L91.3 47.3L91.8 47.3L92.1 47.5L92.4 47.8L92.8 48.3L93.1 49.0L93.4 49.9L93.6 50.8L93.6 51.6L93.4 52.4L93.1 53.1L92.4 53.8L91.4 54.5L90.0 55.1L88.3 55.7L87.0 56.1L85.9 56.3ZM54.6 77.1L54.5 77.5L55.0 78.5L56.1 80.2L58.0 82.6L60.4 85.6L62.7 87.1L64.8 87.1L66.8 85.5L68.6 82.3L69.8 79.6L70.5 77.3L70.5 75.4L69.9 73.9L69.0 72.7L67.6 71.8L65.8 71.3L63.5 71.1L61.5 71.3L59.7 71.9L58.1 72.9L56.8 74.4L55.7 75.5L55.0 76.5ZM73.0 5.5L74.4 4.5L75.3 3.4L75.8 2.2L75.9 0.7L75.5 -0.9L74.7 -2.3L73.5 -3.5L71.8 -4.4L69.7 -5.0L68.0 -5.5L66.9 -5.7L66.2 -5.7L65.9 -5.6L65.7 -5.0L65.5 -4.0L65.3 -2.7L65.2 -0.9L65.4 0.7L66.1 2.2L67.1 3.6L68.6 4.9L70.1 5.6L71.5 5.8ZM41.4 66.7L42.0 68.1L42.4 69.4L42.5 70.6L42.4 71.8L42.2 72.9L41.7 73.9L40.9 74.9L39.9 75.8L38.7 76.7L37.5 77.4L36.5 77.7L35.5 77.8L34.6 77.6L33.9 76.8L33.4 75.5L33.1 73.6L33.0 71.1L33.4 69.1L34.3 67.5L35.7 66.4L37.6 65.7L39.2 65.5L40.5 65.8ZM61.2 59.9L62.5 59.6L63.7 59.0L64.7 58.0L65.4 56.7L65.9 54.9L66.1 53.3L65.8 51.7L65.1 50.1L64.0 48.6L62.8 47.7L61.7 47.4L60.5 47.8L59.3 48.8L58.5 50.2L58.1 51.9L58.1 54.0L58.5 56.5L59.1 58.3L60.0 59.4ZM46.5 -3.1L46.4 -3.4L46.7 -4.1L47.5 -5.2L48.8 -6.7L50.6 -8.6L52.3 -9.7L53.8 -9.9L55.3 -9.4L56.6 -8.0L57.4 -6.5L57.6 -4.9L57.3 -3.3L56.5 -1.5L55.8 -0.2L55.1 0.7L54.5 1.2L54.0 1.3L53.2 1.1L52.1 0.7L50.8 -0.1L49.1 -1.1L47.9 -1.9L47.0 -2.6ZM50.9 6.8L51.8 4.7L52.1 2.8L51.8 1.2L50.8 -0.1L49.1 -1.1L47.8 -1.3L46.6 -0.7L45.7 0.7L45.0 2.8L44.8 4.7L45.0 6.4L45.6 7.7L46.7 8.8L47.6 9.6L48.3 10.1L48.8 10.3L49.1 10.2L49.5 9.6L50.1 8.5ZM-1.8 29.1L0.3 29.9L2.1 30.5L3.6 30.7L4.7 30.7L5.5 30.3L6.2 29.5L6.8 28.0L7.2 26.1L7.4 23.6L7.3 21.5L6.7 20.0L5.7 18.9L4.3 18.3L3.0 18.0L1.7 17.9L0.5 18.1L-0.7 18.6L-1.7 19.5L-2.6 20.8L-3.4 22.5L-4.0 24.6L-3.9 26.4L-3.2 27.9ZM75.3 65.0L77.1 65.1L78.7 64.5L80.1 63.4L81.3 61.7L82.3 59.4L82.9 57.5L83.2 56.1L83.2 55.1L82.8 54.5L82.5 54.0L82.2 53.7L82.0 53.5L81.8 53.4L81.2 53.6L80.2 53.9L78.8 54.4L76.9 55.2L75.5 56.2L74.3 57.7L73.6 59.5L73.2 61.7L73.4 63.4L74.1 64.5ZM24.8 48.5L26.7 47.9L28.2 47.9L29.2 48.7L29.7 50.0L29.8 52.0L29.6 53.5L29.0 54.5L28.1 55.0L27.0 55.1L25.9 54.7L24.9 54.0L24.0 53.0L23.1 51.5L23.0 50.3L23.6 49.3ZM-0.4 65.0L-0.4 64.6L-0.6 63.9L-1.2 62.9L-2.0 61.5L-3.1 59.7L-4.2 58.3L-5.2 57.3L-6.2 56.7L-7.1 56.4L-9.9 56.9L-14.6 57.9L-21.2 59.7L-29.7 62.1L-34.2 64.2L-34.8 66.0L-31.4 67.4L-24.1 68.5L-17.8 69.1L-12.5 69.1L-8.3 68.5L-5.2 67.3L-2.8 66.3L-1.2 65.6ZM93.1 53.1L93.4 52.4L94.7 52.1L97.1 52.2L100.4 52.8L104.7 53.9L107.1 55.0L107.6 56.3L106.2 57.7L102.9 59.3L100.2 60.4L98.2 61.0L96.8 61.2L96.0 61.0L95.3 60.4L94.6 59.5L94.0 58.2L93.4 56.6L93.1 55.2L92.9 54.1ZM35.5 12.6L35.5 12.8L36.1 13.2L37.3 13.7L39.3 14.3L41.8 15.0L43.9 15.2L45.5 14.8L46.7 14.0L47.3 12.5L47.6 11.2L47.4 10.0L46.7 8.8L45.6 7.7L44.6 6.9L43.5 6.3L42.5 6.1L41.5 6.1L40.4 6.4L39.4 7.2L38.3 8.4L37.2 9.9L36.4 11.2L35.8 12.0ZM90.7 38.6L90.2 39.0L89.5 39.3L88.5 39.5L87.1 39.5L85.5 39.4L84.1 39.1L83.1 38.6L82.3 37.8L81.9 36.8L81.7 35.9L81.8 35.0L82.2 34.2L82.8 33.4L83.8 32.8L84.9 32.4L86.3 32.2L88.0 32.2L89.3 32.5L90.3 33.3L90.8 34.3L91.0 35.8L91.0 37.0L90.9 37.9ZM46.6 29.7L48.0 27.8L49.0 26.3L49.7 25.3L50.1 24.6L50.0 24.5L49.8 24.1L49.4 23.6L48.7 22.9L47.8 22.1L46.6 21.6L45.1 21.5L43.2 21.8L41.0 22.5L39.4 23.4L38.3 24.4L37.7 25.7L37.6 27.1L38.0 28.4L38.9 29.5L40.1 30.5L41.8 31.3L43.5 31.5L45.1 30.9ZM24.8 48.5L26.7 47.9L28.2 47.4L29.3 46.9L29.9 46.6L30.1 46.3L30.1 45.8L29.9 44.9L29.6 43.8L29.1 42.4L28.5 41.4L27.6 40.7L26.5 40.4L25.1 40.4L23.9 40.8L22.8 41.5L21.7 42.5L20.7 43.8L20.1 44.9L19.7 45.9L19.5 46.8L19.7 47.5L20.0 48.0L20.3 48.5L20.7 48.8L21.2 49.0L22.0 49.1L23.2 48.9ZM126.3 3.9L133.3 3.6L135.7 4.3L133.4 6.2L126.6 9.1L115.1 13.1L106.1 15.8L99.7 17.3L95.9 17.5L94.7 16.6L93.8 15.6L93.4 14.6L93.4 13.7L93.7 12.8L95.4 11.7L98.2 10.3L102.4 8.8L107.7 7.0L113.5 5.6L119.7 4.5ZM73.2 61.7L73.6 59.5L73.7 57.7L73.5 56.2L73.1 55.0L72.4 54.1L71.6 53.5L70.6 53.0L69.6 52.7L68.5 52.5L67.5 52.9L66.6 53.7L65.9 54.9L65.4 56.7L65.5 58.3L66.2 59.9L67.5 61.5L69.4 63.0L70.9 64.1L71.9 64.8L72.4 65.1L72.5 65.1L72.7 64.5L72.9 63.4ZM94.1 38.5L93.0 38.3L92.0 38.2L91.3 38.3L90.7 38.6L90.2 39.0L90.0 39.8L90.0 40.9L90.3 42.4L90.7 44.3L91.1 45.8L91.5 46.8L91.8 47.3L92.1 47.5L92.7 47.3L93.5 46.8L94.6 46.0L95.9 44.8L96.8 43.7L97.2 42.6L97.1 41.5L96.6 40.5L95.9 39.6L95.1 39.0ZM74.5 24.7L73.0 26.2L72.1 27.7L71.7 29.2L71.9 30.6L72.7 32.1L73.7 33.2L75.1 34.1L76.6 34.6L78.5 34.9L80.0 34.9L81.2 34.7L82.2 34.2L82.8 33.4L83.3 32.4L83.5 31.1L83.6 29.5L83.4 27.6L82.8 26.1L82.0 24.9L80.7 23.9L79.2 23.3L77.6 23.2L76.1 23.7ZM21.9 0.4L20.9 1.4L19.7 2.1L18.3 2.6L16.6 2.9L14.7 2.9L13.2 2.5L12.0 1.5L11.2 0.0L10.9 -1.9L10.9 -3.6L11.3 -4.8L12.1 -5.7L13.4 -6.3L14.8 -6.4L16.3 -6.2L18.1 -5.6L20.0 -4.6L21.4 -3.7L22.4 -2.9L23.0 -2.3L23.1 -1.8L22.9 -1.2L22.5 -0.5ZM-2.2 47.8L-1.4 49.1L-0.6 50.2L0.1 50.9L0.9 51.3L1.6 51.5L2.5 51.3L3.5 50.9L4.7 50.3L6.1 49.4L7.2 48.4L7.9 47.4L8.3 46.4L8.5 45.3L8.1 44.3L7.3 43.3L6.0 42.4L4.2 41.6L2.6 41.1L1.3 40.8L0.3 40.8L-0.5 41.1L-1.2 41.6L-1.8 42.2L-2.4 43.1L-2.8 44.2L-2.9 45.3L-2.7 46.5ZM51.8 50.6L54.1 50.5L56.1 50.1L57.8 49.6L59.3 48.8L60.5 47.8L61.4 46.9L62.1 46.1L62.5 45.4L62.6 44.8L62.4 44.0L61.9 42.9L61.0 41.5L59.8 39.9L58.6 38.8L57.3 38.2L56.0 38.1L54.5 38.5L53.2 39.5L51.8 41.0L50.5 43.1L49.2 45.7L48.3 47.8L47.8 49.2L47.7 50.1L48.0 50.4L48.8 50.6L50.0 50.6ZM3.0 -3.5L5.1 -4.4L6.2 -6.3L6.5 -9.0L6.0 -12.6L4.5 -17.0L3.1 -19.2L1.5 -19.1L-0.0 -16.7L-1.6 -12.0L-2.6 -8.4L-2.9 -5.6L-2.5 -3.9L-1.5 -3.1L-0.3 -2.8L1.3 -2.9ZM-50.3 3.9L-37.1 6.2L-26.3 8.6L-17.8 11.0L-11.7 13.4L-8.0 15.8L-5.4 18.1L-3.8 20.4L-3.4 22.5L-4.0 24.6L-4.5 26.2L-4.9 27.3L-5.1 27.9L-5.3 27.9L-18.9 25.5L-46.1 20.7L-86.8 13.4L-141.1 3.6L-172.2 -3.0L-180.3 -6.5L-165.3 -6.7L-127.2 -3.9L-95.4 -1.2L-69.7 1.4ZM20.7 60.0L20.8 60.0L21.3 60.3L22.0 61.0L23.0 61.9L24.3 63.2L25.1 64.5L25.4 65.8L25.2 67.2L24.4 68.6L23.7 69.7L23.1 70.4L22.5 70.9L21.9 71.1L21.1 71.1L19.8 70.8L18.3 70.3L16.3 69.6L15.0 68.7L14.1 67.6L13.8 66.5L14.0 65.1L14.6 64.0L15.5 62.9L16.6 62.0L18.1 61.2L19.3 60.6L20.2 60.2ZM30.6 79.0L29.6 79.9L28.4 80.5L26.9 80.8L25.1 80.7L23.0 80.2L21.5 79.4L20.7 78.2L20.4 76.5L20.7 74.5L21.0 72.9L21.5 71.8L21.9 71.1L22.5 70.9L23.4 71.2L24.8 72.0L26.5 73.3L28.7 75.0L30.1 76.6L30.7 77.9ZM94.1 38.5L93.0 38.3L92.1 37.8L91.4 36.9L91.0 35.8L90.8 34.3L90.8 33.2L90.8 32.3L91.0 31.7L91.3 31.4L92.0 31.3L93.1 31.4L94.5 31.7L96.3 32.2L97.5 33.0L98.0 34.0L97.8 35.2L97.0 36.7L96.1 37.7L95.1 38.3ZM94.2 2.3L92.3 3.5L91.2 4.7L90.9 6.1L91.3 7.6L92.5 9.1L94.8 9.8L98.0 9.7L102.4 8.8L107.7 7.0L110.6 5.4L110.9 4.1L108.7 2.9L104.0 1.9L100.0 1.5L96.7 1.6ZM53.5 65.1L55.1 65.0L56.5 65.2L57.6 65.9L58.5 67.0L59.2 68.5L59.3 70.0L59.0 71.4L58.1 72.9L56.8 74.4L55.4 75.0L54.1 74.8L52.7 73.7L51.4 71.9L50.4 70.2L50.0 68.8L50.0 67.7L50.4 66.8L51.2 66.0L52.2 65.5ZM-6.6 33.6L-6.1 31.4L-5.8 29.7L-5.5 28.5L-5.3 27.9L-5.1 27.9L-4.5 28.0L-3.4 28.4L-1.8 29.1L0.3 29.9L1.8 31.1L2.6 32.7L2.7 34.6L2.2 36.9L1.7 38.7L1.0 40.0L0.3 40.8L-0.5 41.1L-1.5 41.0L-2.6 40.6L-3.8 39.8L-5.2 38.7L-6.1 37.3L-6.6 35.6ZM8.2 30.5L7.6 30.3L7.3 29.4L7.1 28.0L7.2 26.1L7.4 23.6L7.7 21.7L7.9 20.4L8.1 19.7L8.3 19.6L9.0 19.9L10.1 20.5L11.7 21.5L13.8 22.8L15.3 24.0L16.2 25.2L16.5 26.3L16.2 27.3L15.6 28.1L14.6 28.9L13.3 29.6L11.6 30.1L10.1 30.5L9.0 30.6ZM1.6 51.5L0.9 51.3L0.0 51.6L-0.9 52.3L-2.0 53.4L-3.1 54.9L-3.7 56.4L-3.7 58.0L-3.1 59.7L-2.0 61.5L-0.8 62.4L0.4 62.7L1.8 62.1L3.1 60.9L4.0 59.4L4.4 57.9L4.2 56.2L3.6 54.4L3.0 53.0L2.3 52.0ZM68.6 4.9L67.1 3.6L65.7 2.9L64.3 2.6L63.0 2.9L61.7 3.7L60.8 4.8L60.1 6.2L59.7 7.8L59.6 9.7L59.7 11.4L59.9 12.7L60.3 13.7L60.9 14.5L61.8 14.9L63.0 14.9L64.5 14.5L66.3 13.7L67.8 12.8L68.9 11.7L69.7 10.4L70.2 9.0L70.1 7.6L69.6 6.2ZM93.2 77.1L94.9 75.5L96.1 74.3L96.9 73.5L97.3 73.0L97.3 72.9L96.7 72.5L95.5 71.7L93.8 70.6L91.6 69.1L89.6 68.1L88.0 67.5L86.6 67.4L85.6 67.8L84.7 68.4L84.1 69.4L83.8 70.6L83.6 72.2L84.0 73.7L84.8 75.1L86.1 76.4L88.0 77.6L89.7 78.1L91.5 77.9ZM72.9 50.3L73.9 48.6L74.4 47.0L74.3 45.6L73.7 44.4L72.5 43.2L71.1 42.5L69.5 42.3L67.7 42.4L65.7 43.0L64.2 43.6L63.2 44.2L62.6 44.8L62.5 45.4L62.6 46.2L63.1 47.3L64.0 48.6L65.1 50.1L66.2 51.3L67.3 52.1L68.5 52.5L69.6 52.7L70.7 52.3L71.8 51.5ZM12.0 39.7L11.8 40.6L12.0 41.5L12.9 42.4L14.3 43.4L16.3 44.3L18.0 44.7L19.5 44.5L20.7 43.8L21.7 42.5L22.2 41.2L22.2 39.9L21.7 38.6L20.8 37.3L19.7 36.5L18.3 36.2L16.8 36.5L15.1 37.2L13.7 38.0L12.7 38.8ZM82.8 14.1L81.8 14.2L80.8 14.4L79.8 14.8L78.8 15.3L77.9 16.1L77.2 17.0L76.8 18.0L76.6 19.1L76.7 20.4L77.1 21.6L78.0 22.5L79.2 23.3L80.7 23.9L82.2 24.2L83.7 24.2L85.1 23.9L86.4 23.2L87.5 22.4L88.2 21.4L88.7 20.3L88.8 19.1L88.7 18.0L88.1 17.0L87.3 16.1L86.1 15.3L85.0 14.7L83.9 14.3ZM73.7 44.4L72.5 43.2L71.8 41.9L71.6 40.4L71.9 38.8L72.7 37.0L73.7 35.7L75.0 34.9L76.6 34.6L78.5 34.9L79.9 35.4L81.1 36.0L81.9 36.8L82.3 37.8L82.6 38.7L82.7 39.6L82.7 40.4L82.6 41.2L82.1 42.0L81.4 42.9L80.4 43.8L79.1 44.8L78.1 45.6L77.2 46.0L76.6 46.2L76.1 46.2L75.5 45.8L74.7 45.2ZM89.3 64.5L88.9 65.5L89.1 66.5L90.0 67.8L91.6 69.1L93.8 70.6L95.5 71.0L96.8 70.3L97.5 68.6L97.6 65.8L97.6 63.6L97.3 62.1L96.8 61.2L96.0 61.0L95.1 61.0L94.1 61.2L93.0 61.6L91.8 62.2L90.8 62.9L89.9 63.6ZM91.9 28.9L91.9 27.4L91.7 26.2L91.3 25.1L90.7 24.2L89.8 23.4L88.8 23.0L87.7 22.9L86.4 23.2L85.1 23.9L84.1 24.8L83.6 26.1L83.4 27.6L83.6 29.5L84.1 30.9L85.0 31.8L86.3 32.2L88.0 32.2L89.4 32.1L90.4 31.9L91.0 31.7L91.3 31.4L91.6 30.8L91.8 30.0ZM26.9 28.9L26.9 28.9L26.5 29.3L25.6 29.8L24.3 30.6L22.5 31.7L21.0 32.2L19.6 32.1L18.4 31.6L17.4 30.4L16.7 29.3L16.3 28.3L16.2 27.3L16.5 26.3L17.0 25.4L17.5 24.7L18.3 24.1L19.2 23.6L20.3 23.6L21.5 24.1L22.9 25.0L24.5 26.5L25.7 27.6L26.5 28.4ZM65.2 -0.9L65.3 -2.7L65.0 -4.0L64.2 -5.0L62.9 -5.5L61.2 -5.6L59.7 -5.3L58.4 -4.5L57.3 -3.3L56.5 -1.5L56.2 -0.0L56.4 1.3L57.0 2.5L58.1 3.5L59.3 4.0L60.5 4.1L61.7 3.7L63.0 2.9L64.0 1.9L64.7 0.6ZM31.5 56.2L30.9 55.7L30.1 55.4L29.2 55.1L28.1 55.0L27.0 55.1L25.8 55.4L24.7 56.0L23.7 56.9L22.6 58.2L22.2 59.4L22.3 60.7L23.0 61.9L24.3 63.2L25.5 64.1L26.4 64.7L27.2 64.9L27.8 64.8L28.5 64.2L29.3 63.2L30.2 61.7L31.1 59.8L31.7 58.2L31.8 57.0ZM12.0 39.7L11.8 40.6L11.4 41.4L10.9 42.0L10.3 42.6L9.6 43.0L8.7 43.1L7.5 42.9L6.0 42.4L4.2 41.6L3.0 40.4L2.3 38.9L2.2 36.9L2.7 34.6L3.3 32.8L4.0 31.5L4.7 30.7L5.5 30.3L6.3 30.2L7.0 30.1L7.6 30.3L8.2 30.5L8.8 31.2L9.5 32.3L10.3 33.7L11.2 35.6L11.8 37.2L12.0 38.6ZM18.9 80.2L18.3 80.6L17.4 80.8L16.4 80.7L15.1 80.5L13.6 80.0L12.4 79.1L11.5 77.8L10.9 76.1L10.7 74.0L10.7 72.3L10.9 70.9L11.5 70.0L12.3 69.3L13.3 69.1L14.7 69.1L16.3 69.6L18.3 70.3L19.6 71.4L20.4 72.8L20.7 74.5L20.4 76.5L20.0 78.2L19.5 79.4ZM31.6 1.1L33.0 0.4L34.3 0.3L35.6 0.8L36.9 1.9L38.1 3.5L38.8 5.2L38.8 6.8L38.3 8.4L37.2 9.9L36.0 10.6L34.7 10.2L33.3 9.0L31.8 6.8L30.6 5.1L29.9 3.9L29.5 3.0L29.5 2.7L29.9 2.2L30.6 1.7ZM35.6 21.9L36.5 22.6L37.7 22.9L39.2 22.9L41.0 22.5L43.2 21.8L44.8 21.0L45.8 20.1L46.2 19.0L45.9 17.8L45.2 16.8L43.8 15.8L41.8 15.0L39.3 14.3L37.3 13.7L36.1 13.4L35.4 13.2L35.4 13.2L35.3 13.7L35.2 14.7L35.0 16.1L34.7 18.1L34.7 19.7L35.0 21.0ZM34.7 18.1L35.0 16.1L34.6 14.7L33.7 13.7L32.1 13.3L29.9 13.3L28.2 13.6L26.9 14.1L26.2 14.9L25.9 15.8L26.0 16.9L26.5 18.0L27.4 19.1L28.8 20.3L30.0 21.1L31.1 21.6L32.1 21.7L33.0 21.4L33.7 20.7L34.3 19.6ZM30.4 37.4L29.6 38.6L28.7 39.5L27.6 40.1L26.5 40.4L25.1 40.4L23.9 40.1L22.8 39.5L21.7 38.6L20.8 37.3L20.1 36.2L19.7 35.2L19.6 34.5L19.7 34.0L20.2 33.4L21.2 32.6L22.5 31.7L24.3 30.6L25.9 30.1L27.3 30.2L28.6 30.7L29.7 31.8L30.6 32.8L31.2 33.6L31.5 34.3L31.5 34.9L31.4 35.6L31.0 36.4ZM18.1 55.1L19.0 57.1L19.3 58.7L19.0 60.1L18.1 61.2L16.6 62.0L15.2 62.3L14.0 62.1L12.8 61.4L11.8 60.2L11.1 59.0L10.8 57.7L10.9 56.4L11.3 55.0L12.0 53.9L12.8 53.1L13.8 52.7L14.9 52.5L16.0 52.8L17.1 53.7ZM141.9 50.9L129.6 52.7L119.3 53.8L111.0 54.2L104.7 53.9L100.4 52.8L97.1 51.8L94.8 50.9L93.4 49.9L93.1 49.0L93.2 48.1L93.7 47.1L94.6 46.0L95.9 44.8L100.8 44.3L109.3 44.4L121.3 45.0L137.0 46.3L145.6 47.7L147.2 49.2ZM20.2 7.0L19.9 5.4L20.0 3.9L20.3 2.6L20.9 1.4L21.9 0.4L23.0 -0.1L24.2 -0.2L25.6 0.1L27.2 0.9L28.4 1.6L29.1 2.2L29.5 2.7L29.5 3.0L29.3 3.8L28.7 4.9L27.9 6.3L26.8 8.2L25.7 9.5L24.6 10.2L23.5 10.4L22.3 10.1L21.4 9.4L20.7 8.4ZM73.0 5.5L74.4 4.5L75.5 3.9L76.5 3.6L77.2 3.5L77.7 3.7L78.2 4.5L78.6 5.9L79.1 7.9L79.5 10.4L79.6 12.5L79.4 14.1L78.8 15.3L77.9 16.1L76.7 16.4L75.3 16.2L73.7 15.5L71.8 14.3L70.5 13.1L69.8 11.8L69.7 10.4L70.2 9.0L70.9 7.7L71.8 6.5ZM40.9 47.8L40.9 47.7L40.8 47.3L40.8 46.3L40.7 44.9L40.6 43.1L40.8 41.5L41.3 39.9L42.1 38.6L43.1 37.4L44.4 36.7L45.9 36.6L47.6 36.9L49.5 37.8L50.7 39.1L51.0 40.9L50.5 43.1L49.2 45.7L47.9 47.6L46.4 48.7L44.9 49.0L43.3 48.5L42.1 48.2L41.3 47.9ZM40.8 63.4L40.7 63.9L40.8 64.6L41.0 65.5L41.4 66.7L42.0 68.1L42.8 69.0L43.9 69.6L45.3 69.7L46.9 69.5L48.2 69.0L49.2 68.4L50.0 67.7L50.4 66.8L50.5 65.8L50.2 64.6L49.5 63.4L48.4 62.1L47.2 61.2L46.0 60.9L44.6 61.1L43.2 61.8L42.0 62.4L41.3 62.9ZM14.7 13.8L14.5 13.7L14.0 14.1L13.2 14.8L12.1 15.9L10.7 17.4L10.2 18.8L10.5 20.1L11.7 21.5L13.8 22.8L15.6 23.7L17.1 24.1L18.3 24.1L19.2 23.6L19.9 23.0L20.5 22.4L20.8 21.6L21.0 20.8L20.7 19.8L20.0 18.7L18.9 17.4L17.4 15.9L16.2 14.8L15.3 14.1ZM36.1 -2.8L36.9 -4.3L37.9 -5.2L39.3 -5.6L41.0 -5.5L43.1 -4.8L44.6 -4.3L45.7 -3.8L46.4 -3.4L46.5 -3.1L46.4 -2.3L46.2 -1.0L45.7 0.7L45.0 2.8L44.2 4.5L43.4 5.5L42.5 6.1L41.5 6.1L40.4 5.6L39.3 4.8L38.1 3.5L36.9 1.9L36.2 0.2L35.9 -1.3ZM52.4 58.1L54.9 59.1L56.8 59.9L58.1 60.3L58.8 60.5L58.9 60.4L58.9 59.7L58.8 58.4L58.5 56.5L58.1 54.0L57.2 52.2L55.9 51.0L54.1 50.5L51.8 50.6L50.1 51.1L49.0 51.9L48.5 53.0L48.5 54.5L49.2 55.8L50.5 57.0ZM85.0 56.3L84.5 56.2L83.9 56.6L83.1 57.7L82.3 59.4L81.3 61.7L80.8 63.6L80.8 65.2L81.3 66.3L82.4 67.1L83.4 67.6L84.5 67.8L85.6 67.8L86.6 67.4L87.5 66.9L88.3 66.3L88.9 65.5L89.3 64.5L89.4 63.4L89.1 62.1L88.4 60.6L87.4 59.0L86.5 57.7L85.7 56.8ZM27.8 64.8L27.2 64.9L26.6 65.4L25.9 66.1L25.2 67.2L24.4 68.6L24.4 70.0L25.1 71.6L26.5 73.3L28.7 75.0L30.4 76.3L31.7 77.1L32.5 77.5L32.8 77.4L33.0 76.7L33.1 75.4L33.1 73.6L33.0 71.1L32.7 69.1L32.1 67.6L31.3 66.4L30.3 65.7L29.4 65.2L28.6 64.9ZM0.4 2.9L0.2 1.0L0.6 -0.8L1.5 -2.2L3.0 -3.5L5.1 -4.4L6.7 -5.1L8.0 -5.5L8.9 -5.5L9.5 -5.3L10.0 -4.6L10.4 -3.5L10.9 -1.9L11.2 0.0L11.4 1.7L11.3 3.0L11.0 4.1L10.5 4.8L9.7 5.5L8.4 5.9L6.9 6.3L4.9 6.5L3.4 6.6L2.3 6.6L1.5 6.5L1.2 6.2L0.9 5.5L0.6 4.4ZM37.2 38.6L34.9 37.5L33.3 36.4L32.1 35.6L31.5 34.9L31.5 34.3L31.8 33.6L32.6 32.8L33.7 31.9L35.3 30.9L36.8 30.3L38.5 30.2L40.1 30.5L41.8 31.3L43.1 32.1L44.0 32.9L44.5 33.7L44.6 34.5L44.4 35.3L43.9 36.3L43.1 37.4L42.1 38.6L40.7 39.2L39.1 39.2ZM-2.2 79.2L-3.2 79.3L-4.4 78.9L-6.0 77.8L-7.8 76.1L-9.9 73.8L-10.7 71.7L-10.2 69.9L-8.3 68.5L-5.2 67.3L-2.6 66.7L-0.6 66.5L0.7 66.9L1.5 67.9L1.9 69.2L1.9 70.8L1.4 72.9L0.5 75.3L-0.3 77.1L-1.3 78.4ZM26.1 12.5L25.7 11.9L25.8 10.9L26.1 9.7L26.8 8.2L27.9 6.3L29.1 5.5L30.4 5.7L31.8 6.8L33.3 9.0L34.4 10.7L35.1 11.9L35.5 12.6L35.5 12.8L35.4 13.0L35.4 13.1L35.4 13.2L35.4 13.2L34.9 13.2L33.7 13.2L32.1 13.3L29.9 13.3L28.2 13.2L26.9 12.9ZM72.9 50.3L73.9 48.6L74.8 47.3L75.6 46.5L76.1 46.2L76.6 46.2L77.2 46.7L77.9 47.6L78.8 49.0L79.9 50.7L80.3 52.2L79.9 53.4L78.8 54.4L76.9 55.2L75.4 55.5L74.1 55.4L73.1 55.0L72.4 54.1L72.1 53.1L72.3 51.8ZM51.4 71.9L52.7 73.7L53.7 75.2L54.3 76.4L54.6 77.1L54.5 77.5L54.2 77.8L53.7 78.1L53.2 78.4L52.4 78.6L51.3 78.5L49.7 78.1L47.7 77.3L45.3 76.2L43.6 75.0L42.6 73.9L42.2 72.9L42.4 71.8L43.1 70.9L44.0 70.2L45.3 69.7L46.9 69.5L48.4 69.7L49.9 70.5ZM-8.1 50.7L-8.2 52.8L-8.1 54.5L-7.7 55.7L-7.1 56.4L-6.2 56.7L-5.2 56.5L-4.2 55.9L-3.1 54.9L-2.0 53.4L-1.3 51.9L-1.1 50.5L-1.4 49.1L-2.2 47.8L-3.1 46.9L-4.1 46.4L-5.1 46.4L-6.3 46.8L-7.1 47.7L-7.7 49.0ZM29.4 24.6L28.4 26.2L27.3 27.1L26.0 27.2L24.5 26.5L22.9 25.0L21.8 23.7L21.1 22.6L20.8 21.6L21.0 20.8L21.3 20.0L21.9 19.3L22.8 18.7L23.8 18.1L24.9 18.0L26.2 18.3L27.4 19.1L28.8 20.3L29.6 21.6L29.8 23.0ZM54.4 21.1L57.3 19.1L59.8 18.3L61.8 18.7L63.4 20.4L64.6 23.2L65.1 25.7L64.7 27.8L63.6 29.6L61.7 31.0L59.7 31.5L57.7 31.2L55.5 30.0L53.4 28.0L51.7 26.4L50.6 25.3L50.1 24.6L50.0 24.5L50.8 23.8L52.2 22.7ZM10.6 51.1L9.6 49.9L8.6 49.2L7.4 49.0L6.1 49.4L4.7 50.3L3.9 51.4L3.5 52.8L3.6 54.4L4.2 56.2L5.0 57.5L6.0 58.4L7.1 58.7L8.3 58.6L9.4 58.2L10.2 57.4L10.9 56.4L11.3 55.0L11.4 53.7L11.2 52.4ZM17.9 50.8L18.7 49.9L19.5 49.2L20.1 48.9L20.7 48.8L21.2 49.0L21.7 49.6L22.4 50.4L23.1 51.5L24.0 53.0L24.3 54.3L24.2 55.7L23.7 56.9L22.6 58.2L21.8 59.1L21.2 59.7L20.8 60.0L20.7 60.0L20.3 59.5L19.7 58.5L19.0 57.1L18.1 55.1L17.6 53.4L17.5 52.0ZM88.8 19.1L88.7 20.3L88.8 21.5L89.2 22.5L89.8 23.4L90.7 24.2L91.7 24.7L92.7 24.9L93.9 24.9L95.1 24.6L96.1 24.0L96.8 23.2L97.3 22.2L97.5 20.9L97.3 19.7L96.8 18.6L95.9 17.5L94.7 16.6L93.5 15.9L92.4 15.7L91.4 15.9L90.5 16.4L89.7 17.1L89.2 18.0ZM95.4 -1.5L94.3 -2.9L93.2 -3.9L91.9 -4.4L90.5 -4.5L89.1 -4.3L87.9 -3.6L87.0 -2.6L86.4 -1.2L86.1 0.5L86.0 1.9L86.1 2.9L86.4 3.7L86.9 4.1L87.3 4.5L87.8 4.7L88.3 4.9L88.8 5.1L89.6 4.8L90.8 4.3L92.3 3.5L94.2 2.3L95.3 1.1L95.7 -0.2ZM82.8 14.1L81.8 14.2L80.9 13.6L80.1 12.3L79.5 10.4L79.1 7.9L79.2 5.9L79.9 4.5L81.1 3.7L83.0 3.4L84.4 3.3L85.6 3.4L86.4 3.7L86.9 4.1L87.0 5.0L86.9 6.4L86.4 8.3L85.6 10.6L84.7 12.4L83.8 13.5ZM48.4 62.1L49.5 63.4L50.7 64.4L52.0 64.9L53.5 65.1L55.1 65.0L56.4 64.6L57.4 64.0L58.0 63.2L58.3 62.2L57.9 61.1L56.7 60.1L54.9 59.1L52.4 58.1L50.4 57.6L48.9 57.6L47.9 57.9L47.5 58.8L47.4 59.8L47.7 60.9ZM-10.5 8.3L-6.0 7.3L-2.6 6.6L-0.2 6.3L1.2 6.2L1.5 6.5L1.8 7.3L2.0 8.8L2.1 10.8L2.2 13.4L1.9 15.5L1.4 17.1L0.5 18.1L-0.7 18.6L-2.5 18.4L-4.9 17.5L-8.0 15.8L-11.7 13.4L-13.4 11.3L-13.0 9.6ZM53.2 11.0L55.7 11.7L57.6 11.7L58.9 11.0L59.6 9.7L59.7 7.8L59.5 6.2L59.0 4.7L58.1 3.5L57.0 2.5L56.0 1.8L55.2 1.4L54.5 1.2L54.0 1.3L53.4 1.9L52.7 3.0L51.8 4.7L50.9 6.8L50.8 8.6L51.6 10.0ZM85.5 39.4L87.1 39.5L88.5 40.0L89.5 41.0L90.3 42.4L90.7 44.3L90.8 45.7L90.5 46.7L89.8 47.3L88.9 47.4L87.8 47.1L86.7 46.5L85.5 45.6L84.2 44.2L83.3 43.1L82.8 42.0L82.6 41.2L82.7 40.4L83.3 39.9L84.2 39.5ZM87.4 59.0L88.4 60.6L89.5 61.7L90.6 62.2L91.8 62.2L93.0 61.6L93.8 60.7L94.1 59.6L94.0 58.2L93.4 56.6L92.6 55.6L91.4 55.0L90.0 55.1L88.3 55.7L87.3 56.5L87.0 57.6ZM40.8 63.4L40.7 63.9L40.1 64.4L39.1 65.0L37.6 65.7L35.7 66.4L34.0 66.8L32.6 66.8L31.3 66.4L30.3 65.7L29.8 64.7L29.7 63.4L30.2 61.7L31.1 59.8L32.0 58.3L32.9 57.3L33.8 56.7L34.7 56.7L35.6 57.0L36.7 57.7L37.8 58.8L39.1 60.4L40.0 61.7L40.6 62.7ZM34.7 56.7L33.8 56.7L33.0 56.7L32.3 56.5L31.5 56.2L30.9 55.7L30.4 54.9L30.0 53.6L29.8 52.0L29.7 50.0L29.7 48.4L29.8 47.3L29.9 46.6L30.1 46.3L30.9 46.2L32.3 46.3L34.3 46.6L36.9 47.0L38.9 47.4L40.2 47.6L40.9 47.7L40.9 47.8L40.6 48.3L40.0 49.4L39.1 51.1L37.8 53.3L36.7 54.9L35.6 56.0Z" fill="none" stroke="#e3849f" stroke-width="0.9"/>
<path d="M8.6 43.6L9.5 43.1" stroke="#dc6e92" stroke-width="1.6" stroke-linecap="round" opacity="0.8"/><path d="M7.8 19.8L7.4 23.8" stroke="#dc6e92" stroke-width="1.4" stroke-linecap="round" opacity="0.8"/><path d="M79.8 65.2L78.1 65.1" stroke="#dc6e92" stroke-width="1.6" stroke-linecap="round" opacity="0.8"/><path d="M31.6 35.7L35.1 37.6" stroke="#dc6e92" stroke-width="1.0" stroke-linecap="round" opacity="0.8"/><path d="M57.5 50.3L57.8 52.3" stroke="#dc6e92" stroke-width="1.6" stroke-linecap="round" opacity="0.8"/><path d="M23.3 70.6L26.4 73.2" stroke="#dc6e92" stroke-width="1.7" stroke-linecap="round" opacity="0.8"/><path d="M47.3 49.7L44.8 49.0" stroke="#dc6e92" stroke-width="1.3" stroke-linecap="round" opacity="0.8"/><path d="M16.9 24.8L16.6 25.8" stroke="#dc6e92" stroke-width="1.3" stroke-linecap="round" opacity="0.8"/><path d="M73.9 34.2L72.7 36.8" stroke="#dc6e92" stroke-width="1.8" stroke-linecap="round" opacity="0.8"/><path d="M27.0 29.1L25.8 29.7" stroke="#dc6e92" stroke-width="1.3" stroke-linecap="round" opacity="0.8"/><path d="M57.6 64.7L58.2 66.2" stroke="#dc6e92" stroke-width="1.1" stroke-linecap="round" opacity="0.8"/><path d="M46.8 60.1L45.2 60.8" stroke="#dc6e92" stroke-width="1.1" stroke-linecap="round" opacity="0.8"/>
</g>
<rect x="277.9" y="234.0" width="15.6" height="3.5" fill="#f4f4f4" opacity="0.8"/>
<rect x="278.7" y="234.8" width="14" height="1.9" fill="#111"/>
<g transform="translate(302.2,166)" clip-path="url(#clip7)">
<rect width="90" height="74.7" fill="#e8dde2"/>
<path d="M21.8 16.1L22.6 17.7L23.0 19.5L23.1 21.3L22.7 23.3L21.9 25.3L21.3 26.8L20.9 27.8L20.7 28.4L20.7 28.4L20.1 28.3L19.0 28.3L17.4 28.2L15.2 28.1L13.3 27.8L11.7 27.2L10.3 26.5L9.3 25.6L8.5 24.6L7.8 23.5L7.4 22.4L7.1 21.3L7.0 19.9L7.3 18.4L7.8 16.6L8.5 14.6L9.8 13.2L11.5 12.5L13.7 12.4L16.5 12.8L18.7 13.6L20.5 14.7ZM79.3 57.4L78.8 57.9L78.4 58.9L78.2 60.3L78.1 62.2L78.0 64.5L78.7 66.4L80.0 68.1L82.0 69.4L84.6 70.5L87.0 70.8L89.1 70.5L90.8 69.6L92.3 68.0L93.3 66.0L93.9 63.7L94.0 61.1L93.6 58.1L93.3 55.9L93.0 54.3L92.8 53.4L92.6 53.3L92.2 53.2L91.7 53.1L91.0 53.0L90.2 53.0L89.0 53.2L87.4 53.6L85.6 54.3L83.3 55.2L81.5 56.0L80.2 56.7ZM24.8 60.4L24.3 57.4L24.1 54.9L24.0 52.8L24.2 51.3L24.6 50.2L25.3 49.2L26.3 48.4L27.8 47.7L29.5 47.2L31.2 46.9L32.9 46.8L34.5 47.0L36.0 47.5L37.4 48.7L38.6 50.7L39.7 53.6L40.5 57.2L41.1 60.0L41.5 62.1L41.6 63.2L41.5 63.6L41.3 63.9L41.2 64.2L41.0 64.4L40.8 64.6L40.0 64.8L38.5 65.1L36.4 65.5L33.6 66.1L31.3 66.3L29.5 66.4L28.1 66.3L27.2 65.9L26.5 65.6L26.0 65.4L25.8 65.2L25.7 65.1L25.5 64.3L25.2 62.7ZM65.3 69.7L68.1 70.8L70.2 72.2L71.6 73.8L72.3 75.6L72.4 77.6L71.5 79.8L69.6 82.2L66.9 84.9L63.2 87.8L60.2 89.4L57.7 89.8L56.0 88.9L54.8 86.8L54.1 84.5L53.8 82.1L53.9 79.6L54.5 77.0L55.3 74.8L56.3 72.8L57.5 71.2L59.0 69.9L60.8 69.2L62.9 69.2ZM2.8 8.4L-1.1 7.7L-3.9 7.1L-5.9 6.7L-6.9 6.4L-7.0 6.3L-7.0 5.6L-6.9 4.5L-6.7 2.8L-6.5 0.5L-6.2 -1.3L-5.8 -2.8L-5.5 -3.8L-5.1 -4.4L-4.5 -5.0L-3.7 -5.6L-2.7 -6.2L-1.5 -6.7L-0.1 -7.0L1.5 -7.1L3.3 -7.1L5.3 -6.8L7.0 -6.1L8.3 -5.1L9.2 -3.8L9.8 -2.1L10.1 -0.3L10.1 1.7L9.9 3.8L9.3 6.1L7.9 7.6L5.8 8.4ZM92.8 53.4L92.6 53.3L92.6 52.4L92.9 50.7L93.5 48.2L94.3 44.9L95.3 42.4L96.5 40.4L97.9 39.2L99.5 38.6L105.9 39.0L116.9 40.4L132.6 42.7L153.0 46.0L165.8 48.7L171.1 50.7L168.7 52.1L158.9 52.8L148.3 53.4L136.9 53.7L124.9 53.8L112.1 53.8L102.5 53.7L96.1 53.6ZM71.9 42.3L71.4 42.3L70.6 42.0L69.3 41.3L67.6 40.4L65.6 39.1L64.1 38.1L63.0 37.4L62.5 37.0L62.4 36.9L62.9 36.1L64.0 34.5L65.5 32.2L67.6 29.1L69.7 26.8L71.6 25.2L73.6 24.4L75.5 24.3L77.3 24.7L79.0 25.6L80.6 27.1L82.1 29.0L82.9 30.9L83.1 32.8L82.6 34.6L81.4 36.3L80.1 37.8L78.6 39.1L77.0 40.2L75.3 41.1L73.8 41.7L72.7 42.2ZM69.7 23.4L70.1 23.8L70.9 24.1L72.1 24.3L73.6 24.4L75.5 24.3L77.2 23.6L78.6 22.3L79.8 20.4L80.9 17.9L81.2 15.6L80.8 13.5L79.7 11.6L77.9 9.8L76.0 8.7L73.9 8.2L71.8 8.3L69.4 9.0L67.9 10.3L67.1 12.2L67.1 14.8L67.9 17.9L68.6 20.4L69.2 22.2ZM91.9 -1.2L91.8 -1.4L91.8 -1.7L91.8 -1.9L91.8 -2.2L91.9 -2.6L92.5 -3.2L93.5 -4.3L95.0 -5.6L96.9 -7.4L103.1 -7.6L113.5 -6.4L128.2 -3.7L147.2 0.4L156.8 3.6L157.0 5.8L147.9 7.0L129.4 7.3L114.9 7.0L104.4 6.0L98.0 4.5L95.6 2.3L93.8 0.7L92.6 -0.5ZM52.4 31.7L52.9 31.8L53.8 32.1L55.2 32.8L56.9 33.7L59.1 35.0L60.8 35.9L61.9 36.6L62.4 36.9L62.5 37.0L62.1 37.8L61.3 39.3L60.1 41.5L58.5 44.3L57.2 46.5L56.1 48.0L55.2 48.9L54.6 49.1L53.5 49.0L51.9 48.6L49.7 48.0L47.0 47.1L45.2 45.8L44.3 44.0L44.4 41.9L45.3 39.3L46.4 37.2L47.5 35.4L48.6 34.0L49.8 33.1L50.9 32.4L51.7 31.9ZM67.6 -7.5L68.2 -8.4L69.3 -9.0L70.7 -9.4L72.5 -9.5L74.7 -9.3L76.5 -8.8L78.0 -7.8L79.2 -6.5L80.0 -4.7L80.3 -3.1L80.0 -1.6L79.2 -0.2L77.9 1.0L76.3 1.4L74.5 0.9L72.4 -0.5L70.1 -2.8L68.5 -4.8L67.6 -6.3ZM0.2 41.7L-2.7 40.6L-4.5 39.4L-4.9 38.2L-4.1 36.9L-2.0 35.6L-0.0 34.8L1.8 34.6L3.5 35.0L5.1 35.9L6.1 37.0L6.6 38.2L6.4 39.6L5.7 41.1L4.5 42.0L2.6 42.2ZM53.8 8.1L52.5 5.4L52.0 3.0L52.4 0.7L53.5 -1.3L55.4 -3.1L57.1 -4.4L58.6 -5.2L59.8 -5.4L60.7 -5.1L61.5 -4.0L62.3 -2.1L62.8 0.6L63.3 4.0L63.1 6.8L62.3 8.9L60.9 10.4L58.8 11.1L56.9 10.9L55.2 10.0ZM6.8 75.4L5.4 76.5L4.6 78.0L4.5 79.6L5.1 81.5L6.3 83.7L7.7 85.2L9.4 86.1L11.3 86.3L13.5 85.8L15.1 85.0L16.4 84.0L17.1 82.7L17.4 81.1L17.1 79.5L16.1 78.1L14.5 76.7L12.3 75.5L10.3 74.8L8.5 74.8ZM82.5 14.1L82.4 14.1L82.2 14.8L81.6 16.0L80.9 17.9L79.8 20.4L79.5 22.8L79.7 25.0L80.6 27.1L82.1 29.0L83.3 30.5L84.3 31.5L85.0 32.0L85.4 32.0L86.3 31.5L87.8 30.4L89.9 28.8L92.5 26.6L94.3 24.6L95.4 22.6L95.7 20.8L95.3 19.1L94.2 17.7L92.5 16.5L90.1 15.6L87.1 15.0L84.8 14.6L83.2 14.3ZM11.4 47.2L15.2 46.2L17.9 45.3L19.6 44.4L20.3 43.6L20.0 42.8L19.0 41.9L17.3 40.9L15.0 39.9L12.1 38.8L9.9 38.0L8.4 37.5L7.6 37.2L7.6 37.2L7.3 37.6L7.0 38.4L6.4 39.6L5.7 41.1L5.3 42.6L5.0 44.0L5.0 45.3L5.3 46.6L5.5 47.5L5.6 48.1L5.7 48.5L5.8 48.5L6.7 48.3L8.6 47.8ZM-7.0 62.9L-7.4 63.3L-7.5 64.5L-7.4 66.6L-7.2 69.6L-6.8 73.5L-5.9 76.3L-4.5 78.2L-2.6 78.9L-0.3 78.7L1.8 78.2L3.7 77.5L5.4 76.5L6.8 75.4L7.9 74.0L8.7 72.5L9.1 70.8L9.2 69.0L9.2 67.4L8.9 66.1L8.6 64.9L8.0 64.0L6.7 63.4L4.8 62.9L2.0 62.6L-1.4 62.5L-4.1 62.5L-6.0 62.7ZM71.9 42.3L71.4 42.3L70.9 42.9L70.2 44.0L69.5 45.8L68.7 48.1L68.4 50.3L68.6 52.2L69.3 53.8L70.5 55.3L71.8 56.4L73.1 57.3L74.5 57.9L75.9 58.3L77.1 58.4L78.1 58.2L78.8 57.9L79.3 57.4L79.1 56.1L78.5 54.0L77.2 51.2L75.4 47.7L73.9 45.0L72.7 43.3ZM81.4 36.3L82.6 34.6L83.6 33.3L84.3 32.4L85.0 32.0L85.4 32.0L86.3 32.5L87.7 33.6L89.5 35.1L91.9 37.1L93.5 39.4L94.3 42.0L94.3 44.9L93.5 48.2L92.7 50.6L91.9 52.2L91.0 53.0L90.2 53.0L89.0 52.1L87.4 50.3L85.4 47.7L83.1 44.2L81.7 41.1L81.1 38.5ZM19.5 65.4L15.4 65.8L12.4 66.5L10.3 67.6L9.2 69.0L9.1 70.8L9.6 72.5L10.7 74.1L12.3 75.5L14.5 76.7L16.2 77.7L17.4 78.3L18.1 78.6L18.2 78.5L18.8 77.6L19.8 76.0L21.2 73.5L23.1 70.2L24.5 67.8L25.4 66.1L25.8 65.2L25.7 65.1L24.6 65.1L22.5 65.2ZM33.6 -3.4L34.8 -5.4L35.3 -7.7L35.1 -10.5L34.0 -13.5L32.2 -17.0L30.4 -18.8L28.5 -18.9L26.5 -17.3L24.6 -14.0L23.2 -11.2L22.5 -8.9L22.4 -7.0L22.9 -5.5L23.8 -4.2L25.1 -3.2L26.7 -2.3L28.7 -1.5L30.5 -1.5L32.1 -2.1ZM22.4 46.2L23.5 47.1L24.8 47.7L26.2 47.9L27.8 47.7L29.5 47.2L30.8 46.0L31.8 44.1L32.3 41.5L32.3 38.3L31.6 35.5L30.2 33.3L28.0 31.5L25.1 30.2L22.9 29.3L21.5 28.7L20.7 28.4L20.7 28.4L20.6 29.2L20.4 30.9L20.2 33.3L19.9 36.6L19.8 39.3L19.8 41.3L20.0 42.8L20.3 43.6L20.8 44.4L21.5 45.3ZM53.5 -1.3L55.4 -3.1L56.8 -4.7L57.5 -5.9L57.7 -6.9L57.3 -7.6L56.3 -8.3L54.8 -8.9L52.7 -9.5L50.1 -10.1L47.8 -10.3L45.9 -10.1L44.4 -9.7L43.3 -8.9L42.8 -7.7L42.9 -6.2L43.6 -4.4L44.9 -2.2L46.2 -0.6L47.3 0.6L48.3 1.2L49.2 1.3L50.4 0.9L51.8 0.0ZM91.9 37.1L89.5 35.1L88.4 33.0L88.5 30.9L89.9 28.8L92.5 26.6L94.6 25.1L96.3 24.2L97.5 23.9L98.2 24.3L99.0 25.3L99.7 27.1L100.4 29.7L101.0 32.9L101.1 35.5L100.6 37.4L99.5 38.6L97.9 39.2L96.1 39.1L94.1 38.4ZM87.8 -1.9L85.1 -2.0L83.0 -2.5L81.3 -3.4L80.0 -4.7L79.2 -6.5L79.0 -8.4L79.4 -10.4L80.5 -12.6L82.1 -14.9L83.8 -15.7L85.6 -14.9L87.4 -12.6L89.3 -8.8L90.7 -5.8L91.5 -3.8L91.9 -2.6L91.8 -2.2L91.1 -2.0L89.7 -1.9ZM7.0 52.1L7.7 54.5L8.2 56.5L8.3 58.3L8.2 59.8L7.8 61.0L6.6 61.8L4.7 62.4L2.0 62.6L-1.4 62.5L-4.0 61.8L-5.8 60.5L-6.8 58.6L-6.9 56.0L-6.3 53.8L-4.7 52.1L-2.4 50.7L0.9 49.8L3.3 49.1L4.9 48.7L5.7 48.5L5.8 48.5L6.0 49.1L6.4 50.3ZM26.1 8.5L28.2 7.3L30.1 7.1L31.8 7.8L33.2 9.5L34.4 12.2L35.0 14.4L34.9 16.2L34.3 17.6L33.0 18.5L31.6 19.2L30.1 19.7L28.4 20.0L26.6 20.1L25.0 19.7L23.7 19.0L22.6 17.7L21.8 16.1L21.3 14.6L21.2 13.4L21.4 12.3L22.0 11.5L22.9 10.6L24.3 9.6ZM11.4 47.2L15.2 46.2L18.3 45.8L20.7 45.7L22.4 46.2L23.5 47.1L24.2 48.1L24.6 49.1L24.6 50.2L24.2 51.3L23.0 52.4L20.9 53.6L18.1 54.8L14.4 56.1L11.4 56.5L9.2 55.9L7.7 54.5L7.0 52.1L7.3 50.1L8.8 48.4ZM34.1 25.6L32.9 23.3L31.6 21.6L30.1 20.5L28.4 20.0L26.6 20.1L25.0 20.7L23.7 21.7L22.7 23.3L21.9 25.3L22.0 27.1L23.1 28.8L25.1 30.2L28.0 31.5L30.4 32.3L32.3 32.6L33.6 32.5L34.3 31.9L34.9 31.3L35.3 30.8L35.6 30.2L35.7 29.7L35.5 28.8L34.9 27.4ZM52.2 55.3L52.8 52.9L53.4 51.1L54.0 49.8L54.6 49.1L55.2 48.9L56.0 49.1L57.0 49.6L58.1 50.4L59.4 51.7L60.4 53.2L61.1 54.9L61.5 56.9L61.5 59.2L61.6 61.0L61.5 62.3L61.3 63.2L61.1 63.7L60.4 63.6L59.1 63.2L57.3 62.3L54.9 60.9L53.3 59.3L52.4 57.4ZM39.7 25.8L38.2 27.1L37.0 28.2L36.1 29.1L35.7 29.7L35.6 30.2L36.2 30.9L37.6 31.7L39.7 32.7L42.5 33.8L45.0 34.4L47.0 34.5L48.6 34.0L49.8 33.1L50.6 32.1L51.0 31.3L51.0 30.4L50.5 29.6L49.7 28.8L48.5 27.8L46.9 26.8L45.0 25.6L43.1 25.1L41.4 25.2ZM40.8 70.7L40.9 74.6L41.8 77.8L43.3 80.1L45.6 81.7L48.6 82.4L51.0 82.3L52.8 81.4L53.9 79.6L54.5 77.0L54.1 74.5L52.6 72.1L50.1 69.8L46.6 67.5L43.9 65.9L42.0 64.8L41.0 64.4L40.8 64.6L40.7 65.7L40.7 67.7ZM46.6 67.5L50.1 69.8L53.1 71.1L55.6 71.6L57.5 71.2L59.0 69.9L60.0 68.7L60.7 67.6L61.0 66.6L60.9 65.7L60.3 64.7L59.1 63.5L57.3 62.3L54.9 60.9L52.5 60.1L50.2 59.9L47.8 60.3L45.4 61.3L43.6 62.1L42.3 62.7L41.6 63.2L41.5 63.6L42.3 64.4L44.0 65.8ZM44.9 -2.2L43.6 -4.4L42.3 -6.1L41.0 -7.2L39.8 -7.9L38.6 -8.1L37.3 -7.7L36.1 -6.8L34.8 -5.4L33.6 -3.4L32.7 -1.7L32.1 -0.2L32.0 1.0L32.2 2.0L32.9 2.8L34.3 3.5L36.2 4.1L38.8 4.5L40.9 4.6L42.7 4.3L44.2 3.6L45.3 2.6L45.8 1.3L45.7 -0.3ZM87.7 82.6L85.9 84.4L83.8 85.4L81.6 85.5L79.1 84.7L76.4 83.0L74.4 81.3L73.1 79.5L72.4 77.6L72.3 75.6L72.6 73.8L73.3 72.2L74.4 70.8L75.8 69.6L77.6 69.0L79.6 68.9L82.0 69.4L84.6 70.5L86.7 71.7L88.3 73.2L89.3 75.0L89.7 77.0L89.6 78.9L88.9 80.8ZM50.5 29.6L51.0 30.4L51.4 31.0L51.9 31.5L52.4 31.7L52.9 31.8L53.6 31.1L54.5 29.8L55.7 27.8L57.1 25.2L57.9 22.6L58.0 20.3L57.6 18.1L56.6 16.0L55.6 14.6L54.6 13.9L53.5 13.7L52.4 14.3L51.5 15.5L50.9 17.5L50.4 20.1L50.2 23.4L50.1 26.1L50.2 28.2ZM43.3 10.9L43.0 8.6L42.2 6.8L40.7 5.4L38.8 4.5L36.2 4.1L34.3 3.9L32.9 3.9L32.1 4.2L31.8 4.8L32.0 5.8L32.4 7.4L33.2 9.5L34.4 12.2L35.6 14.2L36.7 15.6L37.8 16.3L38.8 16.4L39.9 16.3L40.8 16.1L41.7 15.7L42.6 15.1L43.1 14.1L43.4 12.7ZM82.5 14.1L82.4 14.1L82.0 13.7L81.1 12.9L79.7 11.6L77.9 9.8L76.6 8.3L75.8 6.9L75.5 5.6L75.7 4.5L76.1 3.4L76.9 2.2L77.9 1.0L79.2 -0.2L80.9 -1.2L82.8 -1.7L85.1 -2.0L87.8 -1.9L89.7 -1.8L91.1 -1.6L91.8 -1.4L91.9 -1.2L91.4 -0.1L90.2 1.9L88.4 4.7L86.1 8.5L84.3 11.3L83.1 13.2ZM67.6 40.4L65.6 39.1L63.7 38.8L61.8 39.6L60.1 41.5L58.5 44.3L57.7 46.8L57.5 48.8L58.1 50.4L59.4 51.7L60.7 52.5L62.2 52.8L63.7 52.8L65.2 52.3L66.6 51.4L67.7 50.0L68.7 48.1L69.5 45.8L69.6 43.7L69.0 41.9ZM21.2 -1.0L22.2 -1.9L22.9 -3.0L23.1 -4.2L22.9 -5.5L22.4 -7.0L21.3 -8.0L19.7 -8.8L17.5 -9.1L14.8 -9.1L12.7 -8.9L11.0 -8.6L9.9 -8.1L9.3 -7.4L8.9 -6.4L8.9 -5.2L9.2 -3.8L9.8 -2.1L10.8 -0.8L12.2 0.0L14.1 0.4L16.3 0.5L18.3 0.2L19.9 -0.2ZM43.3 10.9L43.0 8.6L43.1 6.6L43.4 5.0L44.2 3.6L45.3 2.6L46.3 1.9L47.4 1.4L48.3 1.2L49.2 1.3L50.2 2.0L51.3 3.4L52.5 5.4L53.8 8.1L54.7 10.2L55.3 11.6L55.5 12.5L55.4 12.6L55.0 12.9L54.4 13.3L53.5 13.7L52.4 14.3L51.2 14.6L49.7 14.8L48.2 14.8L46.4 14.6L45.0 13.9L44.0 12.6ZM46.4 14.6L48.2 14.8L49.4 15.8L50.2 17.5L50.4 20.1L50.2 23.4L49.5 25.7L48.4 26.8L46.9 26.8L45.0 25.6L43.4 24.3L42.2 22.8L41.5 21.2L41.1 19.3L41.0 17.8L41.2 16.6L41.7 15.7L42.6 15.1L43.6 14.8L44.9 14.6ZM9.2 33.7L10.3 31.4L10.8 29.4L10.8 27.8L10.3 26.5L9.3 25.6L8.1 25.2L6.8 25.3L5.2 26.0L3.5 27.2L2.2 28.4L1.4 29.6L1.0 30.7L1.0 31.9L1.5 32.9L2.3 34.0L3.5 35.0L5.1 35.9L6.3 36.6L7.1 37.0L7.6 37.2L7.6 37.2L7.9 36.6L8.5 35.4ZM8.5 14.6L7.8 16.6L6.3 18.1L4.2 19.1L1.4 19.7L-2.1 19.7L-4.7 19.0L-6.3 17.3L-7.1 14.9L-7.0 11.5L-5.9 9.2L-3.9 7.9L-1.1 7.7L2.8 8.4L5.7 9.1L7.7 9.7L8.9 10.3L9.2 10.8L9.3 11.7L9.0 13.0ZM34.3 31.9L33.6 32.5L33.0 33.8L32.6 35.7L32.3 38.3L32.3 41.5L32.6 44.0L33.3 45.9L34.5 47.0L36.0 47.5L37.5 47.6L38.8 47.6L40.1 47.2L41.2 46.6L42.3 45.5L43.4 44.0L44.4 41.9L45.3 39.3L45.4 37.1L44.4 35.3L42.5 33.8L39.7 32.7L37.4 32.0L35.6 31.7ZM65.2 52.3L63.7 52.8L62.5 53.7L61.8 55.1L61.5 56.9L61.5 59.2L62.3 60.5L63.6 61.0L65.7 60.6L68.3 59.4L70.0 58.0L70.7 56.7L70.5 55.3L69.3 53.8L68.0 52.9L66.7 52.4ZM63.3 4.0L62.8 0.6L62.8 -2.2L63.1 -4.1L63.8 -5.3L64.9 -5.7L66.3 -5.4L68.0 -4.4L70.1 -2.8L72.4 -0.5L74.1 1.4L75.2 3.1L75.7 4.5L75.5 5.6L74.8 6.6L73.5 7.5L71.8 8.3L69.4 9.0L67.6 9.5L66.2 9.7L65.2 9.7L64.7 9.6L64.2 8.5L63.8 6.7ZM5.3 46.6L5.0 45.3L4.1 44.1L2.5 42.9L0.2 41.7L-2.7 40.6L-5.0 39.7L-6.5 39.2L-7.2 38.9L-7.2 38.9L-7.6 39.3L-8.2 40.2L-9.1 41.6L-10.3 43.4L-10.9 45.2L-10.8 46.8L-10.2 48.4L-9.0 49.9L-7.3 50.8L-5.1 51.1L-2.4 50.7L0.9 49.8L3.2 48.8L4.7 47.7ZM-6.3 26.2L-3.4 27.3L-0.8 27.9L1.5 27.8L3.5 27.2L5.2 26.0L6.4 24.8L7.2 23.6L7.4 22.4L7.1 21.3L6.0 20.4L4.1 19.9L1.4 19.7L-2.1 19.7L-4.9 20.1L-7.1 20.7L-8.5 21.6L-9.4 22.7L-9.3 23.9L-8.2 25.0ZM56.6 16.0L57.6 18.1L59.0 19.7L60.8 20.9L62.9 21.7L65.4 22.1L67.1 21.6L67.9 20.2L67.9 17.9L67.1 14.8L66.4 12.4L65.8 10.7L65.2 9.7L64.7 9.6L63.8 9.6L62.5 9.9L60.9 10.4L58.8 11.1L57.2 11.7L56.1 12.1L55.5 12.5L55.4 12.6L55.5 13.3L55.9 14.4ZM23.1 70.2L21.2 73.5L20.6 76.2L21.3 78.2L23.2 79.7L26.4 80.5L28.8 81.2L30.5 81.6L31.3 81.8L31.4 81.8L31.3 80.9L31.1 79.0L30.7 76.2L30.2 72.4L29.6 69.5L28.9 67.5L28.1 66.3L27.2 65.9L26.1 66.4L24.7 67.9ZM86.1 8.5L88.4 4.7L90.8 2.4L93.2 1.6L95.6 2.3L98.0 4.5L99.4 6.6L99.7 8.8L99.0 11.0L97.3 13.2L95.2 14.7L92.8 15.5L90.1 15.6L87.1 15.0L85.4 13.6L85.0 11.5ZM14.4 56.1L18.1 54.8L21.0 54.6L23.1 55.5L24.3 57.4L24.8 60.4L24.2 62.8L22.4 64.4L19.5 65.4L15.4 65.8L12.3 65.8L10.0 65.5L8.6 64.9L8.0 64.0L7.7 63.1L7.6 62.1L7.8 61.0L8.2 59.8L9.4 58.6L11.5 57.4ZM26.1 8.5L28.2 7.3L29.9 6.3L31.1 5.4L31.8 4.8L32.1 4.2L32.2 3.6L32.2 2.8L32.2 2.0L32.0 1.0L31.3 0.1L30.2 -0.8L28.7 -1.5L26.7 -2.3L25.0 -2.6L23.5 -2.4L22.2 -1.9L21.2 -1.0L20.7 0.4L20.6 2.1L20.9 4.1L21.7 6.6L22.8 8.1L24.2 8.8ZM78.1 62.2L78.0 64.5L77.6 66.5L76.9 68.2L75.8 69.6L74.4 70.8L72.6 71.4L70.5 71.4L68.1 70.8L65.3 69.7L63.2 68.6L61.8 67.6L61.0 66.6L60.9 65.7L60.9 64.9L61.0 64.2L61.1 63.7L61.3 63.2L62.2 62.6L63.6 61.7L65.7 60.6L68.3 59.4L70.7 58.5L72.7 58.0L74.5 57.9L75.9 58.3L77.0 59.1L77.7 60.4ZM40.8 70.7L40.9 74.6L40.6 77.8L39.9 80.1L38.7 81.6L37.0 82.3L35.6 82.8L34.4 82.9L33.4 82.8L32.7 82.4L31.9 81.2L31.3 79.1L30.7 76.2L30.2 72.4L30.5 69.5L31.7 67.4L33.6 66.1L36.4 65.5L38.5 66.1L40.0 67.9ZM-11.2 24.9L-11.6 25.1L-11.6 26.1L-11.1 27.9L-10.3 30.5L-9.1 33.9L-8.2 36.4L-7.6 38.0L-7.2 38.9L-7.2 38.9L-6.7 38.5L-5.6 37.9L-4.1 36.9L-2.0 35.6L-0.4 34.3L0.6 33.0L1.0 31.9L1.0 30.7L0.2 29.6L-1.3 28.5L-3.4 27.3L-6.3 26.2L-8.6 25.4L-10.2 25.0ZM21.7 6.6L20.9 4.1L19.8 2.3L18.2 1.1L16.3 0.5L14.1 0.4L12.2 1.0L10.8 2.1L9.9 3.8L9.3 6.1L9.0 8.0L8.8 9.4L8.9 10.3L9.2 10.8L10.1 11.4L11.6 11.9L13.7 12.4L16.5 12.8L18.6 13.0L20.3 12.8L21.4 12.3L22.0 11.5L22.2 10.3L22.1 8.6ZM9.2 33.7L10.3 31.4L11.6 29.7L13.3 28.6L15.2 28.1L17.4 28.2L18.9 29.1L19.9 30.8L20.2 33.3L19.9 36.6L19.0 38.8L17.3 39.9L15.0 39.9L12.1 38.8L10.1 37.4L9.2 35.7ZM75.4 47.7L77.2 51.2L79.1 53.7L81.2 55.0L83.3 55.2L85.6 54.3L86.7 52.8L86.6 50.6L85.4 47.7L83.1 44.2L80.9 41.8L78.9 40.4L77.0 40.2L75.3 41.1L74.4 42.6L74.4 44.8ZM57.1 25.2L55.7 27.8L55.2 30.2L55.6 32.1L56.9 33.7L59.1 35.0L61.3 35.1L63.4 34.2L65.5 32.2L67.6 29.1L69.1 26.7L69.9 24.9L70.1 23.8L69.7 23.4L68.8 22.9L67.4 22.5L65.4 22.1L62.9 21.7L60.7 22.1L58.7 23.2ZM38.8 16.4L37.8 16.3L36.7 16.5L35.5 16.9L34.3 17.6L33.0 18.5L32.4 19.7L32.3 21.4L32.9 23.3L34.1 25.6L35.3 27.0L36.7 27.5L38.2 27.1L39.7 25.8L40.8 24.4L41.4 22.9L41.5 21.2L41.1 19.3L40.5 17.9L39.8 16.9ZM92.3 68.0L90.8 69.6L89.8 71.3L89.3 73.1L89.3 75.0L89.7 77.0L90.5 78.6L91.6 79.8L93.1 80.7L94.9 81.2L96.5 81.0L98.0 80.1L99.4 78.5L100.6 76.2L101.1 74.1L101.0 72.1L100.1 70.3L98.6 68.7L97.4 67.4L96.4 66.5L95.7 66.0L95.2 65.8L94.5 66.1L93.6 66.8ZM40.1 47.2L41.2 46.6L42.7 46.4L44.7 46.6L47.0 47.1L49.7 48.0L51.6 49.3L52.6 50.9L52.8 52.9L52.2 55.3L51.2 57.3L49.7 59.0L47.8 60.3L45.4 61.3L43.4 61.1L41.7 59.7L40.5 57.2L39.7 53.6L39.3 50.7L39.5 48.6Z" fill="#d8dbd9" stroke="#e8e9e9" stroke-width="2.6"/>
<path d="M21.8 16.1L22.6 17.7L23.0 19.5L23.1 21.3L22.7 23.3L21.9 25.3L21.3 26.8L20.9 27.8L20.7 28.4L20.7 28.4L20.1 28.3L19.0 28.3L17.4 28.2L15.2 28.1L13.3 27.8L11.7 27.2L10.3 26.5L9.3 25.6L8.5 24.6L7.8 23.5L7.4 22.4L7.1 21.3L7.0 19.9L7.3 18.4L7.8 16.6L8.5 14.6L9.8 13.2L11.5 12.5L13.7 12.4L16.5 12.8L18.7 13.6L20.5 14.7ZM79.3 57.4L78.8 57.9L78.4 58.9L78.2 60.3L78.1 62.2L78.0 64.5L78.7 66.4L80.0 68.1L82.0 69.4L84.6 70.5L87.0 70.8L89.1 70.5L90.8 69.6L92.3 68.0L93.3 66.0L93.9 63.7L94.0 61.1L93.6 58.1L93.3 55.9L93.0 54.3L92.8 53.4L92.6 53.3L92.2 53.2L91.7 53.1L91.0 53.0L90.2 53.0L89.0 53.2L87.4 53.6L85.6 54.3L83.3 55.2L81.5 56.0L80.2 56.7ZM24.8 60.4L24.3 57.4L24.1 54.9L24.0 52.8L24.2 51.3L24.6 50.2L25.3 49.2L26.3 48.4L27.8 47.7L29.5 47.2L31.2 46.9L32.9 46.8L34.5 47.0L36.0 47.5L37.4 48.7L38.6 50.7L39.7 53.6L40.5 57.2L41.1 60.0L41.5 62.1L41.6 63.2L41.5 63.6L41.3 63.9L41.2 64.2L41.0 64.4L40.8 64.6L40.0 64.8L38.5 65.1L36.4 65.5L33.6 66.1L31.3 66.3L29.5 66.4L28.1 66.3L27.2 65.9L26.5 65.6L26.0 65.4L25.8 65.2L25.7 65.1L25.5 64.3L25.2 62.7ZM65.3 69.7L68.1 70.8L70.2 72.2L71.6 73.8L72.3 75.6L72.4 77.6L71.5 79.8L69.6 82.2L66.9 84.9L63.2 87.8L60.2 89.4L57.7 89.8L56.0 88.9L54.8 86.8L54.1 84.5L53.8 82.1L53.9 79.6L54.5 77.0L55.3 74.8L56.3 72.8L57.5 71.2L59.0 69.9L60.8 69.2L62.9 69.2ZM2.8 8.4L-1.1 7.7L-3.9 7.1L-5.9 6.7L-6.9 6.4L-7.0 6.3L-7.0 5.6L-6.9 4.5L-6.7 2.8L-6.5 0.5L-6.2 -1.3L-5.8 -2.8L-5.5 -3.8L-5.1 -4.4L-4.5 -5.0L-3.7 -5.6L-2.7 -6.2L-1.5 -6.7L-0.1 -7.0L1.5 -7.1L3.3 -7.1L5.3 -6.8L7.0 -6.1L8.3 -5.1L9.2 -3.8L9.8 -2.1L10.1 -0.3L10.1 1.7L9.9 3.8L9.3 6.1L7.9 7.6L5.8 8.4ZM92.8 53.4L92.6 53.3L92.6 52.4L92.9 50.7L93.5 48.2L94.3 44.9L95.3 42.4L96.5 40.4L97.9 39.2L99.5 38.6L105.9 39.0L116.9 40.4L132.6 42.7L153.0 46.0L165.8 48.7L171.1 50.7L168.7 52.1L158.9 52.8L148.3 53.4L136.9 53.7L124.9 53.8L112.1 53.8L102.5 53.7L96.1 53.6ZM71.9 42.3L71.4 42.3L70.6 42.0L69.3 41.3L67.6 40.4L65.6 39.1L64.1 38.1L63.0 37.4L62.5 37.0L62.4 36.9L62.9 36.1L64.0 34.5L65.5 32.2L67.6 29.1L69.7 26.8L71.6 25.2L73.6 24.4L75.5 24.3L77.3 24.7L79.0 25.6L80.6 27.1L82.1 29.0L82.9 30.9L83.1 32.8L82.6 34.6L81.4 36.3L80.1 37.8L78.6 39.1L77.0 40.2L75.3 41.1L73.8 41.7L72.7 42.2ZM69.7 23.4L70.1 23.8L70.9 24.1L72.1 24.3L73.6 24.4L75.5 24.3L77.2 23.6L78.6 22.3L79.8 20.4L80.9 17.9L81.2 15.6L80.8 13.5L79.7 11.6L77.9 9.8L76.0 8.7L73.9 8.2L71.8 8.3L69.4 9.0L67.9 10.3L67.1 12.2L67.1 14.8L67.9 17.9L68.6 20.4L69.2 22.2ZM91.9 -1.2L91.8 -1.4L91.8 -1.7L91.8 -1.9L91.8 -2.2L91.9 -2.6L92.5 -3.2L93.5 -4.3L95.0 -5.6L96.9 -7.4L103.1 -7.6L113.5 -6.4L128.2 -3.7L147.2 0.4L156.8 3.6L157.0 5.8L147.9 7.0L129.4 7.3L114.9 7.0L104.4 6.0L98.0 4.5L95.6 2.3L93.8 0.7L92.6 -0.5ZM52.4 31.7L52.9 31.8L53.8 32.1L55.2 32.8L56.9 33.7L59.1 35.0L60.8 35.9L61.9 36.6L62.4 36.9L62.5 37.0L62.1 37.8L61.3 39.3L60.1 41.5L58.5 44.3L57.2 46.5L56.1 48.0L55.2 48.9L54.6 49.1L53.5 49.0L51.9 48.6L49.7 48.0L47.0 47.1L45.2 45.8L44.3 44.0L44.4 41.9L45.3 39.3L46.4 37.2L47.5 35.4L48.6 34.0L49.8 33.1L50.9 32.4L51.7 31.9ZM67.6 -7.5L68.2 -8.4L69.3 -9.0L70.7 -9.4L72.5 -9.5L74.7 -9.3L76.5 -8.8L78.0 -7.8L79.2 -6.5L80.0 -4.7L80.3 -3.1L80.0 -1.6L79.2 -0.2L77.9 1.0L76.3 1.4L74.5 0.9L72.4 -0.5L70.1 -2.8L68.5 -4.8L67.6 -6.3ZM0.2 41.7L-2.7 40.6L-4.5 39.4L-4.9 38.2L-4.1 36.9L-2.0 35.6L-0.0 34.8L1.8 34.6L3.5 35.0L5.1 35.9L6.1 37.0L6.6 38.2L6.4 39.6L5.7 41.1L4.5 42.0L2.6 42.2ZM53.8 8.1L52.5 5.4L52.0 3.0L52.4 0.7L53.5 -1.3L55.4 -3.1L57.1 -4.4L58.6 -5.2L59.8 -5.4L60.7 -5.1L61.5 -4.0L62.3 -2.1L62.8 0.6L63.3 4.0L63.1 6.8L62.3 8.9L60.9 10.4L58.8 11.1L56.9 10.9L55.2 10.0ZM6.8 75.4L5.4 76.5L4.6 78.0L4.5 79.6L5.1 81.5L6.3 83.7L7.7 85.2L9.4 86.1L11.3 86.3L13.5 85.8L15.1 85.0L16.4 84.0L17.1 82.7L17.4 81.1L17.1 79.5L16.1 78.1L14.5 76.7L12.3 75.5L10.3 74.8L8.5 74.8ZM82.5 14.1L82.4 14.1L82.2 14.8L81.6 16.0L80.9 17.9L79.8 20.4L79.5 22.8L79.7 25.0L80.6 27.1L82.1 29.0L83.3 30.5L84.3 31.5L85.0 32.0L85.4 32.0L86.3 31.5L87.8 30.4L89.9 28.8L92.5 26.6L94.3 24.6L95.4 22.6L95.7 20.8L95.3 19.1L94.2 17.7L92.5 16.5L90.1 15.6L87.1 15.0L84.8 14.6L83.2 14.3ZM11.4 47.2L15.2 46.2L17.9 45.3L19.6 44.4L20.3 43.6L20.0 42.8L19.0 41.9L17.3 40.9L15.0 39.9L12.1 38.8L9.9 38.0L8.4 37.5L7.6 37.2L7.6 37.2L7.3 37.6L7.0 38.4L6.4 39.6L5.7 41.1L5.3 42.6L5.0 44.0L5.0 45.3L5.3 46.6L5.5 47.5L5.6 48.1L5.7 48.5L5.8 48.5L6.7 48.3L8.6 47.8ZM-7.0 62.9L-7.4 63.3L-7.5 64.5L-7.4 66.6L-7.2 69.6L-6.8 73.5L-5.9 76.3L-4.5 78.2L-2.6 78.9L-0.3 78.7L1.8 78.2L3.7 77.5L5.4 76.5L6.8 75.4L7.9 74.0L8.7 72.5L9.1 70.8L9.2 69.0L9.2 67.4L8.9 66.1L8.6 64.9L8.0 64.0L6.7 63.4L4.8 62.9L2.0 62.6L-1.4 62.5L-4.1 62.5L-6.0 62.7ZM71.9 42.3L71.4 42.3L70.9 42.9L70.2 44.0L69.5 45.8L68.7 48.1L68.4 50.3L68.6 52.2L69.3 53.8L70.5 55.3L71.8 56.4L73.1 57.3L74.5 57.9L75.9 58.3L77.1 58.4L78.1 58.2L78.8 57.9L79.3 57.4L79.1 56.1L78.5 54.0L77.2 51.2L75.4 47.7L73.9 45.0L72.7 43.3ZM81.4 36.3L82.6 34.6L83.6 33.3L84.3 32.4L85.0 32.0L85.4 32.0L86.3 32.5L87.7 33.6L89.5 35.1L91.9 37.1L93.5 39.4L94.3 42.0L94.3 44.9L93.5 48.2L92.7 50.6L91.9 52.2L91.0 53.0L90.2 53.0L89.0 52.1L87.4 50.3L85.4 47.7L83.1 44.2L81.7 41.1L81.1 38.5ZM19.5 65.4L15.4 65.8L12.4 66.5L10.3 67.6L9.2 69.0L9.1 70.8L9.6 72.5L10.7 74.1L12.3 75.5L14.5 76.7L16.2 77.7L17.4 78.3L18.1 78.6L18.2 78.5L18.8 77.6L19.8 76.0L21.2 73.5L23.1 70.2L24.5 67.8L25.4 66.1L25.8 65.2L25.7 65.1L24.6 65.1L22.5 65.2ZM33.6 -3.4L34.8 -5.4L35.3 -7.7L35.1 -10.5L34.0 -13.5L32.2 -17.0L30.4 -18.8L28.5 -18.9L26.5 -17.3L24.6 -14.0L23.2 -11.2L22.5 -8.9L22.4 -7.0L22.9 -5.5L23.8 -4.2L25.1 -3.2L26.7 -2.3L28.7 -1.5L30.5 -1.5L32.1 -2.1ZM22.4 46.2L23.5 47.1L24.8 47.7L26.2 47.9L27.8 47.7L29.5 47.2L30.8 46.0L31.8 44.1L32.3 41.5L32.3 38.3L31.6 35.5L30.2 33.3L28.0 31.5L25.1 30.2L22.9 29.3L21.5 28.7L20.7 28.4L20.7 28.4L20.6 29.2L20.4 30.9L20.2 33.3L19.9 36.6L19.8 39.3L19.8 41.3L20.0 42.8L20.3 43.6L20.8 44.4L21.5 45.3ZM53.5 -1.3L55.4 -3.1L56.8 -4.7L57.5 -5.9L57.7 -6.9L57.3 -7.6L56.3 -8.3L54.8 -8.9L52.7 -9.5L50.1 -10.1L47.8 -10.3L45.9 -10.1L44.4 -9.7L43.3 -8.9L42.8 -7.7L42.9 -6.2L43.6 -4.4L44.9 -2.2L46.2 -0.6L47.3 0.6L48.3 1.2L49.2 1.3L50.4 0.9L51.8 0.0ZM91.9 37.1L89.5 35.1L88.4 33.0L88.5 30.9L89.9 28.8L92.5 26.6L94.6 25.1L96.3 24.2L97.5 23.9L98.2 24.3L99.0 25.3L99.7 27.1L100.4 29.7L101.0 32.9L101.1 35.5L100.6 37.4L99.5 38.6L97.9 39.2L96.1 39.1L94.1 38.4ZM87.8 -1.9L85.1 -2.0L83.0 -2.5L81.3 -3.4L80.0 -4.7L79.2 -6.5L79.0 -8.4L79.4 -10.4L80.5 -12.6L82.1 -14.9L83.8 -15.7L85.6 -14.9L87.4 -12.6L89.3 -8.8L90.7 -5.8L91.5 -3.8L91.9 -2.6L91.8 -2.2L91.1 -2.0L89.7 -1.9ZM7.0 52.1L7.7 54.5L8.2 56.5L8.3 58.3L8.2 59.8L7.8 61.0L6.6 61.8L4.7 62.4L2.0 62.6L-1.4 62.5L-4.0 61.8L-5.8 60.5L-6.8 58.6L-6.9 56.0L-6.3 53.8L-4.7 52.1L-2.4 50.7L0.9 49.8L3.3 49.1L4.9 48.7L5.7 48.5L5.8 48.5L6.0 49.1L6.4 50.3ZM26.1 8.5L28.2 7.3L30.1 7.1L31.8 7.8L33.2 9.5L34.4 12.2L35.0 14.4L34.9 16.2L34.3 17.6L33.0 18.5L31.6 19.2L30.1 19.7L28.4 20.0L26.6 20.1L25.0 19.7L23.7 19.0L22.6 17.7L21.8 16.1L21.3 14.6L21.2 13.4L21.4 12.3L22.0 11.5L22.9 10.6L24.3 9.6ZM11.4 47.2L15.2 46.2L18.3 45.8L20.7 45.7L22.4 46.2L23.5 47.1L24.2 48.1L24.6 49.1L24.6 50.2L24.2 51.3L23.0 52.4L20.9 53.6L18.1 54.8L14.4 56.1L11.4 56.5L9.2 55.9L7.7 54.5L7.0 52.1L7.3 50.1L8.8 48.4ZM34.1 25.6L32.9 23.3L31.6 21.6L30.1 20.5L28.4 20.0L26.6 20.1L25.0 20.7L23.7 21.7L22.7 23.3L21.9 25.3L22.0 27.1L23.1 28.8L25.1 30.2L28.0 31.5L30.4 32.3L32.3 32.6L33.6 32.5L34.3 31.9L34.9 31.3L35.3 30.8L35.6 30.2L35.7 29.7L35.5 28.8L34.9 27.4ZM52.2 55.3L52.8 52.9L53.4 51.1L54.0 49.8L54.6 49.1L55.2 48.9L56.0 49.1L57.0 49.6L58.1 50.4L59.4 51.7L60.4 53.2L61.1 54.9L61.5 56.9L61.5 59.2L61.6 61.0L61.5 62.3L61.3 63.2L61.1 63.7L60.4 63.6L59.1 63.2L57.3 62.3L54.9 60.9L53.3 59.3L52.4 57.4ZM39.7 25.8L38.2 27.1L37.0 28.2L36.1 29.1L35.7 29.7L35.6 30.2L36.2 30.9L37.6 31.7L39.7 32.7L42.5 33.8L45.0 34.4L47.0 34.5L48.6 34.0L49.8 33.1L50.6 32.1L51.0 31.3L51.0 30.4L50.5 29.6L49.7 28.8L48.5 27.8L46.9 26.8L45.0 25.6L43.1 25.1L41.4 25.2ZM40.8 70.7L40.9 74.6L41.8 77.8L43.3 80.1L45.6 81.7L48.6 82.4L51.0 82.3L52.8 81.4L53.9 79.6L54.5 77.0L54.1 74.5L52.6 72.1L50.1 69.8L46.6 67.5L43.9 65.9L42.0 64.8L41.0 64.4L40.8 64.6L40.7 65.7L40.7 67.7ZM46.6 67.5L50.1 69.8L53.1 71.1L55.6 71.6L57.5 71.2L59.0 69.9L60.0 68.7L60.7 67.6L61.0 66.6L60.9 65.7L60.3 64.7L59.1 63.5L57.3 62.3L54.9 60.9L52.5 60.1L50.2 59.9L47.8 60.3L45.4 61.3L43.6 62.1L42.3 62.7L41.6 63.2L41.5 63.6L42.3 64.4L44.0 65.8ZM44.9 -2.2L43.6 -4.4L42.3 -6.1L41.0 -7.2L39.8 -7.9L38.6 -8.1L37.3 -7.7L36.1 -6.8L34.8 -5.4L33.6 -3.4L32.7 -1.7L32.1 -0.2L32.0 1.0L32.2 2.0L32.9 2.8L34.3 3.5L36.2 4.1L38.8 4.5L40.9 4.6L42.7 4.3L44.2 3.6L45.3 2.6L45.8 1.3L45.7 -0.3ZM87.7 82.6L85.9 84.4L83.8 85.4L81.6 85.5L79.1 84.7L76.4 83.0L74.4 81.3L73.1 79.5L72.4 77.6L72.3 75.6L72.6 73.8L73.3 72.2L74.4 70.8L75.8 69.6L77.6 69.0L79.6 68.9L82.0 69.4L84.6 70.5L86.7 71.7L88.3 73.2L89.3 75.0L89.7 77.0L89.6 78.9L88.9 80.8ZM50.5 29.6L51.0 30.4L51.4 31.0L51.9 31.5L52.4 31.7L52.9 31.8L53.6 31.1L54.5 29.8L55.7 27.8L57.1 25.2L57.9 22.6L58.0 20.3L57.6 18.1L56.6 16.0L55.6 14.6L54.6 13.9L53.5 13.7L52.4 14.3L51.5 15.5L50.9 17.5L50.4 20.1L50.2 23.4L50.1 26.1L50.2 28.2ZM43.3 10.9L43.0 8.6L42.2 6.8L40.7 5.4L38.8 4.5L36.2 4.1L34.3 3.9L32.9 3.9L32.1 4.2L31.8 4.8L32.0 5.8L32.4 7.4L33.2 9.5L34.4 12.2L35.6 14.2L36.7 15.6L37.8 16.3L38.8 16.4L39.9 16.3L40.8 16.1L41.7 15.7L42.6 15.1L43.1 14.1L43.4 12.7ZM82.5 14.1L82.4 14.1L82.0 13.7L81.1 12.9L79.7 11.6L77.9 9.8L76.6 8.3L75.8 6.9L75.5 5.6L75.7 4.5L76.1 3.4L76.9 2.2L77.9 1.0L79.2 -0.2L80.9 -1.2L82.8 -1.7L85.1 -2.0L87.8 -1.9L89.7 -1.8L91.1 -1.6L91.8 -1.4L91.9 -1.2L91.4 -0.1L90.2 1.9L88.4 4.7L86.1 8.5L84.3 11.3L83.1 13.2ZM67.6 40.4L65.6 39.1L63.7 38.8L61.8 39.6L60.1 41.5L58.5 44.3L57.7 46.8L57.5 48.8L58.1 50.4L59.4 51.7L60.7 52.5L62.2 52.8L63.7 52.8L65.2 52.3L66.6 51.4L67.7 50.0L68.7 48.1L69.5 45.8L69.6 43.7L69.0 41.9ZM21.2 -1.0L22.2 -1.9L22.9 -3.0L23.1 -4.2L22.9 -5.5L22.4 -7.0L21.3 -8.0L19.7 -8.8L17.5 -9.1L14.8 -9.1L12.7 -8.9L11.0 -8.6L9.9 -8.1L9.3 -7.4L8.9 -6.4L8.9 -5.2L9.2 -3.8L9.8 -2.1L10.8 -0.8L12.2 0.0L14.1 0.4L16.3 0.5L18.3 0.2L19.9 -0.2ZM43.3 10.9L43.0 8.6L43.1 6.6L43.4 5.0L44.2 3.6L45.3 2.6L46.3 1.9L47.4 1.4L48.3 1.2L49.2 1.3L50.2 2.0L51.3 3.4L52.5 5.4L53.8 8.1L54.7 10.2L55.3 11.6L55.5 12.5L55.4 12.6L55.0 12.9L54.4 13.3L53.5 13.7L52.4 14.3L51.2 14.6L49.7 14.8L48.2 14.8L46.4 14.6L45.0 13.9L44.0 12.6ZM46.4 14.6L48.2 14.8L49.4 15.8L50.2 17.5L50.4 20.1L50.2 23.4L49.5 25.7L48.4 26.8L46.9 26.8L45.0 25.6L43.4 24.3L42.2 22.8L41.5 21.2L41.1 19.3L41.0 17.8L41.2 16.6L41.7 15.7L42.6 15.1L43.6 14.8L44.9 14.6ZM9.2 33.7L10.3 31.4L10.8 29.4L10.8 27.8L10.3 26.5L9.3 25.6L8.1 25.2L6.8 25.3L5.2 26.0L3.5 27.2L2.2 28.4L1.4 29.6L1.0 30.7L1.0 31.9L1.5 32.9L2.3 34.0L3.5 35.0L5.1 35.9L6.3 36.6L7.1 37.0L7.6 37.2L7.6 37.2L7.9 36.6L8.5 35.4ZM8.5 14.6L7.8 16.6L6.3 18.1L4.2 19.1L1.4 19.7L-2.1 19.7L-4.7 19.0L-6.3 17.3L-7.1 14.9L-7.0 11.5L-5.9 9.2L-3.9 7.9L-1.1 7.7L2.8 8.4L5.7 9.1L7.7 9.7L8.9 10.3L9.2 10.8L9.3 11.7L9.0 13.0ZM34.3 31.9L33.6 32.5L33.0 33.8L32.6 35.7L32.3 38.3L32.3 41.5L32.6 44.0L33.3 45.9L34.5 47.0L36.0 47.5L37.5 47.6L38.8 47.6L40.1 47.2L41.2 46.6L42.3 45.5L43.4 44.0L44.4 41.9L45.3 39.3L45.4 37.1L44.4 35.3L42.5 33.8L39.7 32.7L37.4 32.0L35.6 31.7ZM65.2 52.3L63.7 52.8L62.5 53.7L61.8 55.1L61.5 56.9L61.5 59.2L62.3 60.5L63.6 61.0L65.7 60.6L68.3 59.4L70.0 58.0L70.7 56.7L70.5 55.3L69.3 53.8L68.0 52.9L66.7 52.4ZM63.3 4.0L62.8 0.6L62.8 -2.2L63.1 -4.1L63.8 -5.3L64.9 -5.7L66.3 -5.4L68.0 -4.4L70.1 -2.8L72.4 -0.5L74.1 1.4L75.2 3.1L75.7 4.5L75.5 5.6L74.8 6.6L73.5 7.5L71.8 8.3L69.4 9.0L67.6 9.5L66.2 9.7L65.2 9.7L64.7 9.6L64.2 8.5L63.8 6.7ZM5.3 46.6L5.0 45.3L4.1 44.1L2.5 42.9L0.2 41.7L-2.7 40.6L-5.0 39.7L-6.5 39.2L-7.2 38.9L-7.2 38.9L-7.6 39.3L-8.2 40.2L-9.1 41.6L-10.3 43.4L-10.9 45.2L-10.8 46.8L-10.2 48.4L-9.0 49.9L-7.3 50.8L-5.1 51.1L-2.4 50.7L0.9 49.8L3.2 48.8L4.7 47.7ZM-6.3 26.2L-3.4 27.3L-0.8 27.9L1.5 27.8L3.5 27.2L5.2 26.0L6.4 24.8L7.2 23.6L7.4 22.4L7.1 21.3L6.0 20.4L4.1 19.9L1.4 19.7L-2.1 19.7L-4.9 20.1L-7.1 20.7L-8.5 21.6L-9.4 22.7L-9.3 23.9L-8.2 25.0ZM56.6 16.0L57.6 18.1L59.0 19.7L60.8 20.9L62.9 21.7L65.4 22.1L67.1 21.6L67.9 20.2L67.9 17.9L67.1 14.8L66.4 12.4L65.8 10.7L65.2 9.7L64.7 9.6L63.8 9.6L62.5 9.9L60.9 10.4L58.8 11.1L57.2 11.7L56.1 12.1L55.5 12.5L55.4 12.6L55.5 13.3L55.9 14.4ZM23.1 70.2L21.2 73.5L20.6 76.2L21.3 78.2L23.2 79.7L26.4 80.5L28.8 81.2L30.5 81.6L31.3 81.8L31.4 81.8L31.3 80.9L31.1 79.0L30.7 76.2L30.2 72.4L29.6 69.5L28.9 67.5L28.1 66.3L27.2 65.9L26.1 66.4L24.7 67.9ZM86.1 8.5L88.4 4.7L90.8 2.4L93.2 1.6L95.6 2.3L98.0 4.5L99.4 6.6L99.7 8.8L99.0 11.0L97.3 13.2L95.2 14.7L92.8 15.5L90.1 15.6L87.1 15.0L85.4 13.6L85.0 11.5ZM14.4 56.1L18.1 54.8L21.0 54.6L23.1 55.5L24.3 57.4L24.8 60.4L24.2 62.8L22.4 64.4L19.5 65.4L15.4 65.8L12.3 65.8L10.0 65.5L8.6 64.9L8.0 64.0L7.7 63.1L7.6 62.1L7.8 61.0L8.2 59.8L9.4 58.6L11.5 57.4ZM26.1 8.5L28.2 7.3L29.9 6.3L31.1 5.4L31.8 4.8L32.1 4.2L32.2 3.6L32.2 2.8L32.2 2.0L32.0 1.0L31.3 0.1L30.2 -0.8L28.7 -1.5L26.7 -2.3L25.0 -2.6L23.5 -2.4L22.2 -1.9L21.2 -1.0L20.7 0.4L20.6 2.1L20.9 4.1L21.7 6.6L22.8 8.1L24.2 8.8ZM78.1 62.2L78.0 64.5L77.6 66.5L76.9 68.2L75.8 69.6L74.4 70.8L72.6 71.4L70.5 71.4L68.1 70.8L65.3 69.7L63.2 68.6L61.8 67.6L61.0 66.6L60.9 65.7L60.9 64.9L61.0 64.2L61.1 63.7L61.3 63.2L62.2 62.6L63.6 61.7L65.7 60.6L68.3 59.4L70.7 58.5L72.7 58.0L74.5 57.9L75.9 58.3L77.0 59.1L77.7 60.4ZM40.8 70.7L40.9 74.6L40.6 77.8L39.9 80.1L38.7 81.6L37.0 82.3L35.6 82.8L34.4 82.9L33.4 82.8L32.7 82.4L31.9 81.2L31.3 79.1L30.7 76.2L30.2 72.4L30.5 69.5L31.7 67.4L33.6 66.1L36.4 65.5L38.5 66.1L40.0 67.9ZM-11.2 24.9L-11.6 25.1L-11.6 26.1L-11.1 27.9L-10.3 30.5L-9.1 33.9L-8.2 36.4L-7.6 38.0L-7.2 38.9L-7.2 38.9L-6.7 38.5L-5.6 37.9L-4.1 36.9L-2.0 35.6L-0.4 34.3L0.6 33.0L1.0 31.9L1.0 30.7L0.2 29.6L-1.3 28.5L-3.4 27.3L-6.3 26.2L-8.6 25.4L-10.2 25.0ZM21.7 6.6L20.9 4.1L19.8 2.3L18.2 1.1L16.3 0.5L14.1 0.4L12.2 1.0L10.8 2.1L9.9 3.8L9.3 6.1L9.0 8.0L8.8 9.4L8.9 10.3L9.2 10.8L10.1 11.4L11.6 11.9L13.7 12.4L16.5 12.8L18.6 13.0L20.3 12.8L21.4 12.3L22.0 11.5L22.2 10.3L22.1 8.6ZM9.2 33.7L10.3 31.4L11.6 29.7L13.3 28.6L15.2 28.1L17.4 28.2L18.9 29.1L19.9 30.8L20.2 33.3L19.9 36.6L19.0 38.8L17.3 39.9L15.0 39.9L12.1 38.8L10.1 37.4L9.2 35.7ZM75.4 47.7L77.2 51.2L79.1 53.7L81.2 55.0L83.3 55.2L85.6 54.3L86.7 52.8L86.6 50.6L85.4 47.7L83.1 44.2L80.9 41.8L78.9 40.4L77.0 40.2L75.3 41.1L74.4 42.6L74.4 44.8ZM57.1 25.2L55.7 27.8L55.2 30.2L55.6 32.1L56.9 33.7L59.1 35.0L61.3 35.1L63.4 34.2L65.5 32.2L67.6 29.1L69.1 26.7L69.9 24.9L70.1 23.8L69.7 23.4L68.8 22.9L67.4 22.5L65.4 22.1L62.9 21.7L60.7 22.1L58.7 23.2ZM38.8 16.4L37.8 16.3L36.7 16.5L35.5 16.9L34.3 17.6L33.0 18.5L32.4 19.7L32.3 21.4L32.9 23.3L34.1 25.6L35.3 27.0L36.7 27.5L38.2 27.1L39.7 25.8L40.8 24.4L41.4 22.9L41.5 21.2L41.1 19.3L40.5 17.9L39.8 16.9ZM92.3 68.0L90.8 69.6L89.8 71.3L89.3 73.1L89.3 75.0L89.7 77.0L90.5 78.6L91.6 79.8L93.1 80.7L94.9 81.2L96.5 81.0L98.0 80.1L99.4 78.5L100.6 76.2L101.1 74.1L101.0 72.1L100.1 70.3L98.6 68.7L97.4 67.4L96.4 66.5L95.7 66.0L95.2 65.8L94.5 66.1L93.6 66.8ZM40.1 47.2L41.2 46.6L42.7 46.4L44.7 46.6L47.0 47.1L49.7 48.0L51.6 49.3L52.6 50.9L52.8 52.9L52.2 55.3L51.2 57.3L49.7 59.0L47.8 60.3L45.4 61.3L43.4 61.1L41.7 59.7L40.5 57.2L39.7 53.6L39.3 50.7L39.5 48.6Z" fill="none" stroke="#e3849f" stroke-width="0.9"/>
<path d="M7.5 37.3L7.5 37.3" stroke="#dc6e92" stroke-width="1.3" stroke-linecap="round" opacity="0.8"/><path d="M20.7 28.3L21.3 26.9" stroke="#dc6e92" stroke-width="1.8" stroke-linecap="round" opacity="0.8"/><path d="M50.8 15.1L50.5 19.7" stroke="#dc6e92" stroke-width="1.6" stroke-linecap="round" opacity="0.8"/><path d="M36.2 16.2L35.3 16.8" stroke="#dc6e92" stroke-width="1.8" stroke-linecap="round" opacity="0.8"/><path d="M19.5 41.6L16.1 40.3" stroke="#dc6e92" stroke-width="1.7" stroke-linecap="round" opacity="0.8"/><path d="M7.5 37.3L7.0 38.3" stroke="#dc6e92" stroke-width="1.5" stroke-linecap="round" opacity="0.8"/><path d="M61.1 68.0L61.1 67.3" stroke="#dc6e92" stroke-width="1.9" stroke-linecap="round" opacity="0.8"/><path d="M82.4 14.2L79.6 11.5" stroke="#dc6e92" stroke-width="1.8" stroke-linecap="round" opacity="0.8"/><path d="M20.7 28.4L20.5 30.7" stroke="#dc6e92" stroke-width="1.1" stroke-linecap="round" opacity="0.8"/><path d="M70.8 24.5L70.2 23.9" stroke="#dc6e92" stroke-width="1.3" stroke-linecap="round" opacity="0.8"/><path d="M9.4 66.3L12.0 66.1" stroke="#dc6e92" stroke-width="1.7" stroke-linecap="round" opacity="0.8"/><path d="M42.1 23.9L41.6 21.6" stroke="#dc6e92" stroke-width="1.1" stroke-linecap="round" opacity="0.8"/>
</g>
<rect x="372.1" y="234.0" width="15.6" height="3.5" fill="#f4f4f4" opacity="0.8"/>
<rect x="372.9" y="234.8" width="14" height="1.9" fill="#111"/>
<text x="0" y="0" font-size="13.8" font-weight="bold" fill="#111" stroke="#111" stroke-width="0.6" stroke-linejoin="round" transform="translate(5.6,23.7) scale(0.85,1)">A</text>
<text x="0" y="0" font-size="13.0" font-weight="bold" fill="#111" stroke="#111" stroke-width="0.6" stroke-linejoin="round" transform="translate(6.7,155.0) scale(0.98,1)">C</text>
<text x="0" y="0" font-size="12.5" font-weight="bold" fill="#111" stroke="#111" stroke-width="0.6" stroke-linejoin="round" transform="translate(404.5,23.3) scale(0.84,1)">B</text>
<text x="0" y="0" font-size="13.3" font-weight="bold" fill="#111" stroke="#111" stroke-width="0.6" stroke-linejoin="round" transform="translate(401.5,155.2) scale(0.98,1)">D</text>
<text x="0" y="0" font-size="13.0" font-weight="bold" fill="#111" stroke="#111" stroke-width="0.6" stroke-linejoin="round" transform="translate(7.6,289.5) scale(0.86,1)">E</text>
<text x="47.6" y="23" font-size="12.0" font-weight="normal" text-anchor="start" fill="#111" stroke="#111" stroke-width="0.15" textLength="32.4" lengthAdjust="spacingAndGlyphs">Control</text>
<text x="136.5" y="23" font-size="12.0" font-weight="normal" text-anchor="start" fill="#111" stroke="#111" stroke-width="0.15" textLength="43" lengthAdjust="spacingAndGlyphs">Lipedema</text>
<text x="221.8" y="23" font-size="12.0" font-weight="normal" text-anchor="start" fill="#111" stroke="#111" stroke-width="0.15" textLength="60" lengthAdjust="spacingAndGlyphs">Lymphedema</text>
<text x="308.5" y="23" font-size="12.0" font-weight="normal" text-anchor="start" fill="#111" stroke="#111" stroke-width="0.15" textLength="73" lengthAdjust="spacingAndGlyphs">Lipohypertrophy</text>
<text x="0" y="0" font-size="11.8" font-weight="normal" text-anchor="middle" fill="#111" stroke="#111" stroke-width="0.15" textLength="13.6" lengthAdjust="spacingAndGlyphs" transform="translate(13.9,72) rotate(-90)">HE</text>
<text x="0" y="0" font-size="11.8" font-weight="normal" text-anchor="middle" fill="#111" stroke="#111" stroke-width="0.15" textLength="13.0" lengthAdjust="spacingAndGlyphs" transform="translate(14.3,203.7) rotate(-90)">SR</text>
<text x="454.2" y="16" font-size="9.4" font-weight="bold" text-anchor="start" fill="#111" textLength="61.4" lengthAdjust="spacingAndGlyphs" stroke="#111" stroke-width="0.2">Adipocyte size</text>
<line x1="443.5" y1="34.1" x2="443.5" y2="104.5" stroke="#111" stroke-width="1.3"/>
<line x1="442.85" y1="104.5" x2="540.8" y2="104.5" stroke="#111" stroke-width="1.3"/>
<line x1="441.9" y1="104.4" x2="443.5" y2="104.4" stroke="#111" stroke-width="0.9"/>
<text x="440.2" y="106.3" font-size="5.2" font-weight="bold" text-anchor="end" fill="#555" textLength="2.6" lengthAdjust="spacingAndGlyphs">0</text>
<line x1="441.9" y1="90.4" x2="443.5" y2="90.4" stroke="#111" stroke-width="0.9"/>
<text x="440.2" y="92.3" font-size="5.2" font-weight="bold" text-anchor="end" fill="#555" textLength="11.6" lengthAdjust="spacingAndGlyphs">2000</text>
<line x1="441.9" y1="76.5" x2="443.5" y2="76.5" stroke="#111" stroke-width="0.9"/>
<text x="440.2" y="78.4" font-size="5.2" font-weight="bold" text-anchor="end" fill="#555" textLength="11.6" lengthAdjust="spacingAndGlyphs">4000</text>
<line x1="441.9" y1="62.5" x2="443.5" y2="62.5" stroke="#111" stroke-width="0.9"/>
<text x="440.2" y="64.4" font-size="5.2" font-weight="bold" text-anchor="end" fill="#555" textLength="11.6" lengthAdjust="spacingAndGlyphs">6000</text>
<line x1="441.9" y1="48.6" x2="443.5" y2="48.6" stroke="#111" stroke-width="0.9"/>
<text x="440.2" y="50.5" font-size="5.2" font-weight="bold" text-anchor="end" fill="#555" textLength="11.6" lengthAdjust="spacingAndGlyphs">8000</text>
<line x1="441.9" y1="34.6" x2="443.5" y2="34.6" stroke="#111" stroke-width="0.9"/>
<text x="440.2" y="36.5" font-size="5.2" font-weight="bold" text-anchor="end" fill="#555" textLength="14.6" lengthAdjust="spacingAndGlyphs">10,000</text>
<line x1="455.7" y1="104.4" x2="455.7" y2="106.2" stroke="#111" stroke-width="0.9"/>
<text x="455.7" y="115.9" font-size="8.6" font-weight="bold" text-anchor="middle" fill="#111" stroke="#111" stroke-width="0.2">C</text>
<line x1="480.1" y1="104.4" x2="480.1" y2="106.2" stroke="#111" stroke-width="0.9"/>
<text x="480.1" y="115.9" font-size="8.6" font-weight="bold" text-anchor="middle" fill="#111" stroke="#111" stroke-width="0.2">L</text>
<line x1="504.3" y1="104.4" x2="504.3" y2="106.2" stroke="#111" stroke-width="0.9"/>
<text x="504.3" y="115.9" font-size="8.6" font-weight="bold" text-anchor="middle" fill="#111" stroke="#111" stroke-width="0.2">LE</text>
<line x1="528.5" y1="104.4" x2="528.5" y2="106.2" stroke="#111" stroke-width="0.9"/>
<text x="528.5" y="115.9" font-size="8.6" font-weight="bold" text-anchor="middle" fill="#111" stroke="#111" stroke-width="0.2">H</text>
<line x1="455.7" y1="71.3" x2="455.7" y2="78.0" stroke="#111" stroke-width="1.3"/><line x1="455.7" y1="83.6" x2="455.7" y2="90.3" stroke="#111" stroke-width="1.3"/><line x1="451.3" y1="71.3" x2="460.09999999999997" y2="71.3" stroke="#111" stroke-width="1.3"/><line x1="451.3" y1="90.3" x2="460.09999999999997" y2="90.3" stroke="#111" stroke-width="1.3"/><rect x="448.35" y="78.0" width="14.70" height="5.6" fill="#f6f6f6" stroke="#111" stroke-width="1.3"/><line x1="448.3" y1="83.2" x2="463.1" y2="83.2" stroke="#111" stroke-width="1.3"/>
<line x1="480.1" y1="56.5" x2="480.1" y2="62.4" stroke="#111" stroke-width="1.3"/><line x1="480.1" y1="72.3" x2="480.1" y2="79.2" stroke="#111" stroke-width="1.3"/><line x1="475.70000000000005" y1="56.5" x2="484.5" y2="56.5" stroke="#111" stroke-width="1.3"/><line x1="475.70000000000005" y1="79.2" x2="484.5" y2="79.2" stroke="#111" stroke-width="1.3"/><rect x="472.75" y="62.4" width="14.70" height="10.0" fill="#e6e6e6" stroke="#111" stroke-width="1.3"/><line x1="472.8" y1="63.4" x2="487.5" y2="63.4" stroke="#111" stroke-width="1.3"/>
<line x1="504.3" y1="63.2" x2="504.3" y2="69.5" stroke="#111" stroke-width="1.3"/><line x1="504.3" y1="81.7" x2="504.3" y2="85.3" stroke="#111" stroke-width="1.3"/><line x1="499.90000000000003" y1="63.2" x2="508.7" y2="63.2" stroke="#111" stroke-width="1.3"/><line x1="499.90000000000003" y1="85.3" x2="508.7" y2="85.3" stroke="#111" stroke-width="1.3"/><rect x="496.95" y="69.5" width="14.70" height="12.3" fill="#c9c9c9" stroke="#111" stroke-width="1.3"/><line x1="496.9" y1="79.0" x2="511.6" y2="79.0" stroke="#111" stroke-width="1.3"/>
<line x1="528.5" y1="50.0" x2="528.5" y2="60.9" stroke="#111" stroke-width="1.3"/><line x1="528.5" y1="67.2" x2="528.5" y2="71.3" stroke="#111" stroke-width="1.3"/><line x1="524.1" y1="50.0" x2="532.9" y2="50.0" stroke="#111" stroke-width="1.3"/><line x1="524.1" y1="71.3" x2="532.9" y2="71.3" stroke="#111" stroke-width="1.3"/><rect x="521.15" y="60.9" width="14.70" height="6.3" fill="url(#redpat)" stroke="#111" stroke-width="1.3"/><line x1="521.8" y1="64.5" x2="535.2" y2="64.5" stroke="#fff" stroke-width="1" stroke-dasharray="1 1"/>
<text x="0" y="0" font-size="7.6" font-weight="bold" text-anchor="middle" fill="#111" transform="translate(421.0,69.3) rotate(-90)" stroke="#111" stroke-width="0.15">Adipocyte area (μm<tspan font-size="5" dy="-2.5">2</tspan><tspan dy="2.5">)</tspan></text>
<line x1="455.8" y1="28.6" x2="529.3" y2="28.6" stroke="#666" stroke-width="0.8"/>
<line x1="455.8" y1="41.4" x2="478.7" y2="41.4" stroke="#666" stroke-width="0.8"/>
<line x1="481.2" y1="41.4" x2="502.7" y2="41.4" stroke="#666" stroke-width="0.8"/>
<line x1="505.7" y1="41.4" x2="529.3" y2="41.4" stroke="#666" stroke-width="0.8"/>
<text x="492.5" y="27.2" font-size="7.2" font-weight="bold" text-anchor="middle" fill="#111" stroke="#111" stroke-width="0.7" stroke-linejoin="round" letter-spacing="0.3">***</text>
<text x="467.3" y="40.4" font-size="7.2" font-weight="bold" text-anchor="middle" fill="#111" stroke="#111" stroke-width="0.7" stroke-linejoin="round" letter-spacing="0.3">***</text>
<text x="492.4" y="40.4" font-size="7.2" font-weight="bold" text-anchor="middle" fill="#111" stroke="#111" stroke-width="0.7" stroke-linejoin="round" letter-spacing="0.3">*</text>
<text x="516" y="40.4" font-size="7.2" font-weight="bold" text-anchor="middle" fill="#111" stroke="#111" stroke-width="0.7" stroke-linejoin="round" letter-spacing="0.3">**</text>
<text x="462.9" y="149.2" font-size="9.4" font-weight="bold" text-anchor="start" fill="#111" textLength="34" lengthAdjust="spacingAndGlyphs" stroke="#111" stroke-width="0.2">Fibrosis</text>
<line x1="442.6" y1="175.0" x2="442.6" y2="241.0" stroke="#111" stroke-width="1.3"/>
<line x1="441.95000000000005" y1="241.0" x2="540.6" y2="241.0" stroke="#111" stroke-width="1.3"/>
<line x1="441.0" y1="240.8" x2="442.6" y2="240.8" stroke="#111" stroke-width="0.9"/>
<text x="439.4" y="243.3" font-size="5.4" font-weight="bold" text-anchor="end" fill="#3a3a3a" >0</text>
<line x1="441.0" y1="227.7" x2="442.6" y2="227.7" stroke="#111" stroke-width="0.9"/>
<text x="439.4" y="230.2" font-size="5.4" font-weight="bold" text-anchor="end" fill="#3a3a3a" >5</text>
<line x1="441.0" y1="214.7" x2="442.6" y2="214.7" stroke="#111" stroke-width="0.9"/>
<text x="439.4" y="217.2" font-size="5.4" font-weight="bold" text-anchor="end" fill="#3a3a3a" >10</text>
<line x1="441.0" y1="201.6" x2="442.6" y2="201.6" stroke="#111" stroke-width="0.9"/>
<text x="439.4" y="204.1" font-size="5.4" font-weight="bold" text-anchor="end" fill="#3a3a3a" >15</text>
<line x1="441.0" y1="188.5" x2="442.6" y2="188.5" stroke="#111" stroke-width="0.9"/>
<text x="439.4" y="191.0" font-size="5.4" font-weight="bold" text-anchor="end" fill="#3a3a3a" >20</text>
<line x1="441.0" y1="175.5" x2="442.6" y2="175.5" stroke="#111" stroke-width="0.9"/>
<text x="439.4" y="178.0" font-size="5.4" font-weight="bold" text-anchor="end" fill="#3a3a3a" >25</text>
<line x1="455.0" y1="240.8" x2="455.0" y2="242.6" stroke="#111" stroke-width="0.9"/>
<text x="455.0" y="251.6" font-size="8.6" font-weight="bold" text-anchor="middle" fill="#111" stroke="#111" stroke-width="0.2">C</text>
<line x1="479.5" y1="240.8" x2="479.5" y2="242.6" stroke="#111" stroke-width="0.9"/>
<text x="479.5" y="251.6" font-size="8.6" font-weight="bold" text-anchor="middle" fill="#111" stroke="#111" stroke-width="0.2">L</text>
<line x1="504.0" y1="240.8" x2="504.0" y2="242.6" stroke="#111" stroke-width="0.9"/>
<text x="504.0" y="251.6" font-size="8.6" font-weight="bold" text-anchor="middle" fill="#111" stroke="#111" stroke-width="0.2">LE</text>
<line x1="528.6" y1="240.8" x2="528.6" y2="242.6" stroke="#111" stroke-width="0.9"/>
<text x="528.6" y="251.6" font-size="8.6" font-weight="bold" text-anchor="middle" fill="#111" stroke="#111" stroke-width="0.2">H</text>
<line x1="455.0" y1="215.4" x2="455.0" y2="218.2" stroke="#111" stroke-width="1.3"/><line x1="455.0" y1="223.8" x2="455.0" y2="225.9" stroke="#111" stroke-width="1.3"/><line x1="450.6" y1="215.4" x2="459.4" y2="215.4" stroke="#111" stroke-width="1.3"/><line x1="450.6" y1="225.9" x2="459.4" y2="225.9" stroke="#111" stroke-width="1.3"/><rect x="447.65" y="218.2" width="14.70" height="5.6" fill="#f2f2f2" stroke="#111" stroke-width="1.3"/><line x1="447.6" y1="222.0" x2="462.4" y2="222.0" stroke="#111" stroke-width="1.3"/>
<line x1="479.5" y1="209.4" x2="479.5" y2="213.7" stroke="#111" stroke-width="1.3"/><line x1="479.5" y1="219.7" x2="479.5" y2="222.6" stroke="#111" stroke-width="1.3"/><line x1="475.1" y1="209.4" x2="483.9" y2="209.4" stroke="#111" stroke-width="1.3"/><line x1="475.1" y1="222.6" x2="483.9" y2="222.6" stroke="#111" stroke-width="1.3"/><rect x="472.15" y="213.7" width="14.70" height="5.9" fill="#e8e8e8" stroke="#111" stroke-width="1.3"/><line x1="472.1" y1="218.6" x2="486.9" y2="218.6" stroke="#111" stroke-width="1.3"/>
<line x1="504.0" y1="179.3" x2="504.0" y2="205.5" stroke="#111" stroke-width="1.3"/><line x1="504.0" y1="220.8" x2="504.0" y2="226.2" stroke="#111" stroke-width="1.3"/><line x1="499.6" y1="179.3" x2="508.4" y2="179.3" stroke="#111" stroke-width="1.3"/><line x1="499.6" y1="226.2" x2="508.4" y2="226.2" stroke="#111" stroke-width="1.3"/><rect x="496.65" y="205.5" width="14.70" height="15.2" fill="#cbcbcb" stroke="#111" stroke-width="1.3"/><line x1="496.6" y1="214.2" x2="511.4" y2="214.2" stroke="#111" stroke-width="1.3"/>
<line x1="528.6" y1="204.2" x2="528.6" y2="220.9" stroke="#111" stroke-width="1.3"/><line x1="528.6" y1="224.0" x2="528.6" y2="228.4" stroke="#111" stroke-width="1.3"/><line x1="524.2" y1="204.2" x2="533.0" y2="204.2" stroke="#111" stroke-width="1.3"/><line x1="524.2" y1="228.4" x2="533.0" y2="228.4" stroke="#111" stroke-width="1.3"/><rect x="521.25" y="220.9" width="14.70" height="3.2" fill="url(#redpat)" stroke="#111" stroke-width="1.3"/><line x1="521.9" y1="222.5" x2="535.3" y2="222.5" stroke="#fff" stroke-width="1" stroke-dasharray="1 1"/>
<text x="-29.05" y="0" font-size="7.4" font-weight="bold" text-anchor="start" fill="#111" textLength="58.1" lengthAdjust="spacingAndGlyphs" transform="translate(420.5,205.25) rotate(-90)" stroke="#111" stroke-width="0.15">% Sirius Red+ area</text>
<text x="-27" y="0" font-size="7.4" font-weight="bold" text-anchor="start" fill="#111" textLength="54" lengthAdjust="spacingAndGlyphs" transform="translate(428.1,205.25) rotate(-90)" stroke="#111" stroke-width="0.15">of total tissue area</text>
<line x1="454.9" y1="171.2" x2="502.6" y2="171.2" stroke="#666" stroke-width="0.8"/>
<line x1="505.8" y1="171.2" x2="528.7" y2="171.2" stroke="#666" stroke-width="0.8"/>
<text x="479" y="171.0" font-size="7.2" font-weight="bold" text-anchor="middle" fill="#111" stroke="#111" stroke-width="0.7" stroke-linejoin="round" letter-spacing="0.3">*</text>
<text x="517" y="171.0" font-size="7.2" font-weight="bold" text-anchor="middle" fill="#111" stroke="#111" stroke-width="0.7" stroke-linejoin="round" letter-spacing="0.3">*</text>
<text x="184.9" y="282" font-size="9.8" font-weight="bold" text-anchor="start" fill="#111" textLength="103" lengthAdjust="spacingAndGlyphs" stroke="#111" stroke-width="0.2">Frequency distribution</text>
<line x1="48.6" y1="293.1" x2="48.6" y2="392.4" stroke="#111" stroke-width="1.3"/>
<line x1="43.8" y1="392.5" x2="424.3" y2="392.5" stroke="#111" stroke-width="1.3"/>
<line x1="45.800000000000004" y1="392.4" x2="48.6" y2="392.4" stroke="#111" stroke-width="1.2"/>
<text x="42.3" y="395.0" font-size="7.6" font-weight="bold" text-anchor="end" fill="#111" textLength="10.8" lengthAdjust="spacingAndGlyphs" stroke="#111" stroke-width="0.2">0.0</text>
<line x1="45.800000000000004" y1="367.7" x2="48.6" y2="367.7" stroke="#111" stroke-width="1.2"/>
<text x="42.3" y="370.3" font-size="7.6" font-weight="bold" text-anchor="end" fill="#111" textLength="10.8" lengthAdjust="spacingAndGlyphs" stroke="#111" stroke-width="0.2">0.1</text>
<line x1="45.800000000000004" y1="343.0" x2="48.6" y2="343.0" stroke="#111" stroke-width="1.2"/>
<text x="42.3" y="345.6" font-size="7.6" font-weight="bold" text-anchor="end" fill="#111" textLength="10.8" lengthAdjust="spacingAndGlyphs" stroke="#111" stroke-width="0.2">0.2</text>
<line x1="45.800000000000004" y1="318.3" x2="48.6" y2="318.3" stroke="#111" stroke-width="1.2"/>
<text x="42.3" y="320.9" font-size="7.6" font-weight="bold" text-anchor="end" fill="#111" textLength="10.8" lengthAdjust="spacingAndGlyphs" stroke="#111" stroke-width="0.2">0.3</text>
<line x1="45.800000000000004" y1="293.6" x2="48.6" y2="293.6" stroke="#111" stroke-width="1.2"/>
<text x="42.3" y="296.2" font-size="7.6" font-weight="bold" text-anchor="end" fill="#111" textLength="10.8" lengthAdjust="spacingAndGlyphs" stroke="#111" stroke-width="0.2">0.4</text>
<rect x="51.6" y="337.1" width="6.1" height="55.3" fill="#c9c9c9"/>
<rect x="60.6" y="372.9" width="6.1" height="19.5" fill="#979797"/>
<rect x="69.6" y="339.0" width="6.1" height="53.4" fill="#555555"/>
<rect x="78.6" y="385.7" width="6.1" height="6.7" fill="#fc2d12"/>
<line x1="68.1" y1="392.4" x2="68.1" y2="397" stroke="#111" stroke-width="1.1"/>
<text x="68.1" y="406" font-size="7.9" font-weight="bold" text-anchor="middle" fill="#111" stroke="#111" stroke-width="0.25" textLength="15.8" lengthAdjust="spacingAndGlyphs">1000</text>
<rect x="93.7" y="314.6" width="6.1" height="77.8" fill="#c9c9c9"/>
<rect x="102.7" y="321.3" width="6.1" height="71.1" fill="#979797"/>
<rect x="111.7" y="318.1" width="6.1" height="74.3" fill="#555555"/>
<rect x="120.7" y="348.9" width="6.1" height="43.5" fill="#fc2d12"/>
<line x1="110.2" y1="392.4" x2="110.2" y2="397" stroke="#111" stroke-width="1.1"/>
<text x="110.2" y="406" font-size="7.9" font-weight="bold" text-anchor="middle" fill="#111" stroke="#111" stroke-width="0.25" textLength="15.8" lengthAdjust="spacingAndGlyphs">3000</text>
<rect x="135.8" y="327.4" width="6.1" height="65.0" fill="#c9c9c9"/>
<rect x="144.8" y="319.5" width="6.1" height="72.9" fill="#979797"/>
<rect x="153.8" y="334.6" width="6.1" height="57.8" fill="#555555"/>
<rect x="162.8" y="332.4" width="6.1" height="60.0" fill="#fc2d12"/>
<line x1="152.3" y1="392.4" x2="152.3" y2="397" stroke="#111" stroke-width="1.1"/>
<text x="152.3" y="406" font-size="7.9" font-weight="bold" text-anchor="middle" fill="#111" stroke="#111" stroke-width="0.25" textLength="15.8" lengthAdjust="spacingAndGlyphs">5000</text>
<rect x="177.9" y="360.5" width="6.1" height="31.9" fill="#c9c9c9"/>
<rect x="186.9" y="342.5" width="6.1" height="49.9" fill="#979797"/>
<rect x="195.9" y="361.0" width="6.1" height="31.4" fill="#555555"/>
<rect x="204.9" y="342.0" width="6.1" height="50.4" fill="#fc2d12"/>
<line x1="194.4" y1="392.4" x2="194.4" y2="397" stroke="#111" stroke-width="1.1"/>
<text x="194.4" y="406" font-size="7.9" font-weight="bold" text-anchor="middle" fill="#111" stroke="#111" stroke-width="0.25" textLength="15.8" lengthAdjust="spacingAndGlyphs">7000</text>
<rect x="220.0" y="382.8" width="6.1" height="9.6" fill="#c9c9c9"/>
<rect x="229.0" y="372.9" width="6.1" height="19.5" fill="#979797"/>
<rect x="238.0" y="375.9" width="6.1" height="16.5" fill="#555555"/>
<rect x="247.0" y="343.7" width="6.1" height="48.7" fill="#fc2d12"/>
<line x1="236.5" y1="392.4" x2="236.5" y2="397" stroke="#111" stroke-width="1.1"/>
<text x="236.5" y="406" font-size="7.9" font-weight="bold" text-anchor="middle" fill="#111" stroke="#111" stroke-width="0.25" textLength="15.8" lengthAdjust="spacingAndGlyphs">9000</text>
<rect x="262.1" y="388.0" width="6.1" height="4.4" fill="#c9c9c9"/>
<rect x="271.1" y="382.8" width="6.1" height="9.6" fill="#979797"/>
<rect x="280.1" y="384.5" width="6.1" height="7.9" fill="#555555"/>
<rect x="289.1" y="369.4" width="6.1" height="23.0" fill="#fc2d12"/>
<line x1="278.6" y1="392.4" x2="278.6" y2="397" stroke="#111" stroke-width="1.1"/>
<text x="278.6" y="406" font-size="7.9" font-weight="bold" text-anchor="middle" fill="#111" stroke="#111" stroke-width="0.25" textLength="22.9" lengthAdjust="spacingAndGlyphs">11,000</text>
<rect x="304.2" y="391.4" width="6.1" height="1.0" fill="#c9c9c9"/>
<rect x="313.2" y="389.9" width="6.1" height="2.5" fill="#979797"/>
<rect x="322.2" y="388.9" width="6.1" height="3.5" fill="#555555"/>
<rect x="331.2" y="384.5" width="6.1" height="7.9" fill="#fc2d12"/>
<line x1="320.70000000000005" y1="392.4" x2="320.70000000000005" y2="397" stroke="#111" stroke-width="1.1"/>
<text x="320.70000000000005" y="406" font-size="7.9" font-weight="bold" text-anchor="middle" fill="#111" stroke="#111" stroke-width="0.25" textLength="22.9" lengthAdjust="spacingAndGlyphs">13,000</text>
<rect x="346.3" y="392.2" width="6.1" height="0.2" fill="#c9c9c9"/>
<rect x="355.3" y="391.9" width="6.1" height="0.5" fill="#979797"/>
<rect x="364.3" y="392.2" width="6.1" height="0.2" fill="#555555"/>
<rect x="373.3" y="388.0" width="6.1" height="4.4" fill="#fc2d12"/>
<line x1="362.8" y1="392.4" x2="362.8" y2="397" stroke="#111" stroke-width="1.1"/>
<text x="362.8" y="406" font-size="7.9" font-weight="bold" text-anchor="middle" fill="#111" stroke="#111" stroke-width="0.25" textLength="22.9" lengthAdjust="spacingAndGlyphs">15,000</text>
<rect x="415.4" y="390.7" width="6.1" height="1.7" fill="#fc2d12"/>
<line x1="404.90000000000003" y1="392.4" x2="404.90000000000003" y2="397" stroke="#111" stroke-width="1.1"/>
<text x="404.90000000000003" y="406" font-size="7.9" font-weight="bold" text-anchor="middle" fill="#111" stroke="#111" stroke-width="0.25" textLength="22.9" lengthAdjust="spacingAndGlyphs">17,000</text>
<text x="215.8" y="416.8" font-size="8.3" font-weight="bold" text-anchor="start" fill="#111" textLength="41.4" lengthAdjust="spacingAndGlyphs" stroke="#111" stroke-width="0.2">Bin Center</text>
<text x="236.2" y="428.4" font-size="8.3" font-weight="bold" text-anchor="middle" fill="#111" stroke="#111" stroke-width="0.2">Adipocyte area (μm<tspan font-size="5.7" dy="-3.1">2</tspan><tspan dy="3.1">)</tspan></text>
<text x="-54.7" y="0" font-size="7.7" font-weight="bold" text-anchor="start" fill="#111" textLength="109.4" lengthAdjust="spacingAndGlyphs" transform="translate(27.3,343.1) rotate(-90)" stroke="#111" stroke-width="0.15">Relative frequency (fractions)</text>
<rect x="358" y="306.5" width="12.4" height="6.4" fill="#c9c9c9"/>
<text x="376" y="312.8" font-size="8.4" font-weight="normal" text-anchor="start" fill="#111" stroke="#111" stroke-width="0.12">Area C</text>
<rect x="358" y="320.4" width="12.4" height="6.4" fill="#979797"/>
<text x="376" y="326.7" font-size="8.4" font-weight="normal" text-anchor="start" fill="#111" stroke="#111" stroke-width="0.12">Area L</text>
<rect x="358" y="334.2" width="12.4" height="6.4" fill="#555555"/>
<text x="376" y="340.5" font-size="8.4" font-weight="normal" text-anchor="start" fill="#111" stroke="#111" stroke-width="0.12">Area LE</text>
<rect x="358" y="349.4" width="12.4" height="6.4" fill="#fc2d12"/>
<text x="376" y="355.7" font-size="8.4" font-weight="normal" text-anchor="start" fill="#111" stroke="#111" stroke-width="0.12">Area H</text>
</svg></body></html>
